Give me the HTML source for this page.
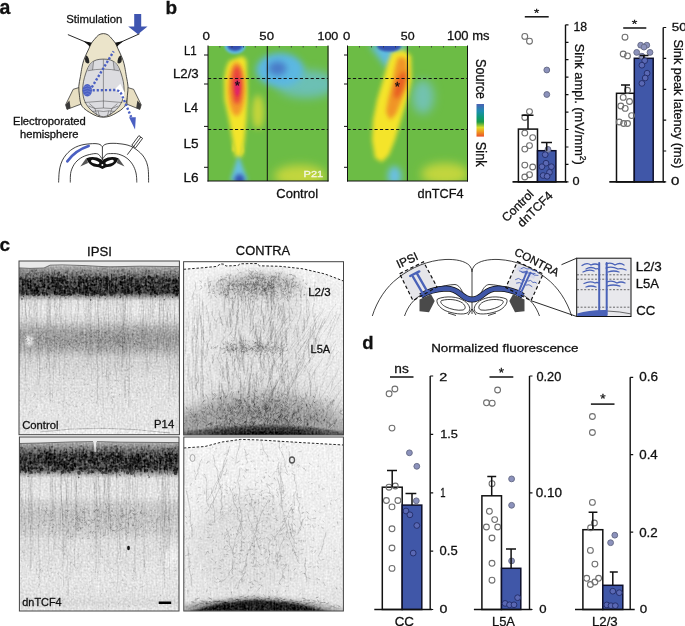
<!DOCTYPE html>
<html><head><meta charset="utf-8">
<style>
html,body{margin:0;padding:0;background:#fff;}
body{width:685px;height:626px;overflow:hidden;position:relative;}
svg{position:absolute;left:0;top:0;}
text{font-family:"Liberation Sans",Arial,Helvetica,sans-serif;fill:#111;stroke:#111;stroke-width:0.28px;}
</style></head><body>
<svg width="685" height="626" viewBox="0 0 685 626">

<defs>
  <filter id="b1" x="-50%" y="-50%" width="200%" height="200%"><feGaussianBlur stdDeviation="1.2"/></filter>
  <filter id="b2" x="-50%" y="-50%" width="200%" height="200%"><feGaussianBlur stdDeviation="2"/></filter>
  <filter id="b3" x="-50%" y="-50%" width="200%" height="200%"><feGaussianBlur stdDeviation="3"/></filter>
  <filter id="b5" x="-50%" y="-50%" width="200%" height="200%"><feGaussianBlur stdDeviation="5"/></filter>
  <filter id="b7" x="-50%" y="-50%" width="200%" height="200%"><feGaussianBlur stdDeviation="7"/></filter>
  <clipPath id="hm1"><rect x="208" y="46" width="120.5" height="135"/></clipPath>
  <clipPath id="hm2"><rect x="347.5" y="46" width="120" height="135"/></clipPath>
  <linearGradient id="cbar" x1="0" y1="0" x2="0" y2="1">
    <stop offset="0" stop-color="#4a62b4"/>
    <stop offset="0.22" stop-color="#1d8eb0"/>
    <stop offset="0.42" stop-color="#0e9a72"/>
    <stop offset="0.55" stop-color="#1a9a48"/>
    <stop offset="0.72" stop-color="#d8dc2a"/>
    <stop offset="0.84" stop-color="#f0a020"/>
    <stop offset="1" stop-color="#e8502a"/>
  </linearGradient>
</defs>
<g clip-path="url(#hm1)">
  <rect x="200" y="40" width="140" height="150" fill="#6cbc45"/>
  <ellipse cx="306" cy="84" rx="30" ry="14" fill="#6cc0b4" filter="url(#b5)"/>
  <ellipse cx="280" cy="70" rx="24" ry="17" fill="#5cb8e2" filter="url(#b3)"/>
  <ellipse cx="277.5" cy="68.5" rx="9" ry="7" fill="#4a7cc8" filter="url(#b3)"/>
  <ellipse cx="258" cy="112" rx="6" ry="17" fill="#c6d63a" filter="url(#b3)"/>
  <ellipse cx="300" cy="176" rx="26" ry="11" fill="#c2d63c" filter="url(#b5)"/>
  <path d="M242.5,56 L246.5,60 L247.5,100 L246.5,120 L244.5,140 L242.5,156 L239,158 L235,156 L232.5,140 L229,120 L224.5,100 L224,80 L226,68 L229,61 Z" fill="#f4e52a" filter="url(#b2)"/>
  <path d="M242,141 L244,152 L240,156 Z M233,141 L236,152 L232,151 Z" fill="#d8dc36" filter="url(#b1)"/>
  <ellipse cx="236.5" cy="89" rx="8.5" ry="27" fill="#f2982a" filter="url(#b2)"/>
  <ellipse cx="237" cy="85" rx="5" ry="19" fill="#e8403c" filter="url(#b2)"/>
  <ellipse cx="237.3" cy="87" rx="2.6" ry="9" fill="#e0246a" filter="url(#b1)"/>
  <ellipse cx="235" cy="46.5" rx="10.5" ry="7.5" fill="#62bce0" filter="url(#b1)"/>
  <ellipse cx="235" cy="46" rx="7.5" ry="5" fill="#3550b0" filter="url(#b1)"/>
  <path d="M238.4,155 L248,181 L230,181 Z" fill="#68c0e0" filter="url(#b2)"/>
  <ellipse cx="239.5" cy="180" rx="5" ry="6" fill="#3652b2" filter="url(#b2)"/>
</g>
<g clip-path="url(#hm2)">
  <rect x="340" y="40" width="140" height="150" fill="#6cbc45"/>
  <ellipse cx="423" cy="97" rx="11" ry="17" fill="#72c2b0" filter="url(#b5)"/>
  <ellipse cx="445" cy="174" rx="24" ry="11" fill="#c2d63c" filter="url(#b5)"/>
  <path d="M369,45 L408,45 L387,69 Z" fill="#60bce0" filter="url(#b3)"/>
  <path d="M392,52 L404,50 L411,56 L411.5,80 L407,100 L401,120 L395,140 L389,155 L382,162 L375,158 L372,140 L373,120 L377,100 L383,80 L388,62 Z" fill="#f4e42a" filter="url(#b2)"/>
  <path d="M398,57 L406,58 L408,70 L406,88 L401,102 L396,114 L390,120 L386,112 L388,100 L392,84 L395,68 Z" fill="#f09428" filter="url(#b2)"/>
  <ellipse cx="400" cy="85" rx="4" ry="14" fill="#e85c24" transform="rotate(18 400 85)" filter="url(#b2)"/>
  <ellipse cx="389" cy="46" rx="12" ry="5.5" fill="#3452b2" filter="url(#b1)"/>
  <ellipse cx="394.5" cy="176" rx="7" ry="10" fill="#6ac0e0" filter="url(#b3)"/>
</g>
<g stroke="#111" fill="none" stroke-width="1">
  <line x1="208" y1="45.5" x2="208" y2="181.5"/>
  <line x1="207.5" y1="181" x2="328.5" y2="181"/>
  <line x1="328" y1="45.5" x2="328" y2="181.5"/>
  <line x1="267.3" y1="46" x2="267.3" y2="181"/>
  <line x1="347.5" y1="45.5" x2="347.5" y2="181.5"/>
  <line x1="347" y1="181" x2="468" y2="181"/>
  <line x1="467.5" y1="45.5" x2="467.5" y2="181.5"/>
  <line x1="407.4" y1="46" x2="407.4" y2="181"/>
  <path d="M204,55 H208 M204,84 H208 M204,126.4 H208 M204,167.3 H208"/>
  <path d="M344,55 H347.5 M344,84 H347.5 M344,126.4 H347.5 M344,167.3 H347.5"/>
  <line x1="208" y1="78.5" x2="328" y2="78.5" stroke-dasharray="3.2 2.2"/>
  <line x1="208" y1="129.5" x2="328" y2="129.5" stroke-dasharray="3.2 2.2"/>
  <line x1="347.5" y1="78.5" x2="467.5" y2="78.5" stroke-dasharray="3.2 2.2"/>
  <line x1="347.5" y1="129.5" x2="467.5" y2="129.5" stroke-dasharray="3.2 2.2"/>
</g>
<g stroke="#333" stroke-width="0.8">
  <path d="M219.9,46 v1.5 M232,46 v1.5 M243.4,46 v1.5 M255.3,46 v1.5 M279.3,46 v1.5 M291.4,46 v1.5 M303.2,46 v1.5 M316.3,46 v1.5"/>
  <path d="M359.5,46 v1.5 M371.5,46 v1.5 M383.5,46 v1.5 M395.5,46 v1.5 M419.5,46 v1.5 M431.5,46 v1.5 M443.5,46 v1.5 M455.5,46 v1.5"/>
</g>
<g font-size="12">
</g>
<rect x="476.5" y="104" width="7.5" height="32.6" fill="url(#cbar)"/>

<rect x="518.4" y="129.1" width="19.100000000000023" height="52.80000000000001" fill="#fff" stroke="#111" stroke-width="1.5"/>
<rect x="537.5" y="150.7" width="18.399999999999977" height="31.200000000000017" fill="#4057a8" stroke="#0d0f2a" stroke-width="1.5"/>
<circle cx="524.8" cy="36.4" r="2.9" fill="none" stroke="#707070" stroke-width="1.1"/>
<circle cx="529.5" cy="41.2" r="2.9" fill="none" stroke="#707070" stroke-width="1.1"/>
<circle cx="529.5" cy="111.6" r="2.9" fill="none" stroke="#707070" stroke-width="1.1"/>
<circle cx="524.8" cy="117.5" r="2.9" fill="none" stroke="#707070" stroke-width="1.1"/>
<circle cx="524.8" cy="133.1" r="2.9" fill="none" stroke="#707070" stroke-width="1.1"/>
<circle cx="532.7" cy="137.6" r="2.9" fill="none" stroke="#707070" stroke-width="1.1"/>
<circle cx="529.5" cy="145.6" r="2.9" fill="none" stroke="#707070" stroke-width="1.1"/>
<circle cx="524.8" cy="149.1" r="2.9" fill="none" stroke="#707070" stroke-width="1.1"/>
<circle cx="524.8" cy="165.1" r="2.9" fill="none" stroke="#707070" stroke-width="1.1"/>
<circle cx="532.7" cy="167.0" r="2.9" fill="none" stroke="#707070" stroke-width="1.1"/>
<circle cx="529.5" cy="174.7" r="2.9" fill="none" stroke="#707070" stroke-width="1.1"/>
<circle cx="524.8" cy="177.0" r="2.9" fill="none" stroke="#707070" stroke-width="1.1"/>
<circle cx="546.8" cy="70.0" r="2.9" fill="#8c92bc" stroke="#6a6f8a" stroke-width="1"/>
<circle cx="546.8" cy="94.5" r="2.9" fill="#8c92bc" stroke="#6a6f8a" stroke-width="1"/>
<circle cx="548.0" cy="149.4" r="2.9" fill="#8c92bc" stroke="#6a6f8a" stroke-width="1"/>
<circle cx="545.2" cy="154.7" r="2.9" fill="#5a68b4" stroke="#26316e" stroke-width="1"/>
<circle cx="546.0" cy="163.2" r="2.9" fill="#5a68b4" stroke="#26316e" stroke-width="1"/>
<circle cx="541.9" cy="166.7" r="2.9" fill="#5a68b4" stroke="#26316e" stroke-width="1"/>
<circle cx="551.4" cy="166.7" r="2.9" fill="#5a68b4" stroke="#26316e" stroke-width="1"/>
<circle cx="549.5" cy="172.3" r="2.9" fill="#5a68b4" stroke="#26316e" stroke-width="1"/>
<circle cx="543.1" cy="175.5" r="2.9" fill="#5a68b4" stroke="#26316e" stroke-width="1"/>
<circle cx="547.1" cy="176.3" r="2.9" fill="#5a68b4" stroke="#26316e" stroke-width="1"/>
<path d="M528.0,129.1 V115.2 M521.6,115.2 H533.5" stroke="#111" stroke-width="1.5" fill="none"/>
<path d="M546.7,150.7 V142.4 M541.2,142.4 H552" stroke="#111" stroke-width="1.5" fill="none"/>
<path d="M512.5,181.9 H567" stroke="#111" stroke-width="1.6" fill="none"/>
<path d="M565.5,24.8 V181.9" stroke="#111" stroke-width="1.4" fill="none"/>
<path d="M565.5,24.8 h3 M565.5,42.3 h3 M565.5,59.7 h3 M565.5,77.2 h3 M565.5,94.6 h3 M565.5,112.1 h3 M565.5,129.5 h3 M565.5,147.0 h3 M565.5,164.4 h3 M565.5,181.9 h3" stroke="#111" stroke-width="1.2" fill="none"/>
<path d="M524.8,16.8 H548.7" stroke="#111" stroke-width="1.5" fill="none"/>
<rect x="616.5" y="93.3" width="17.799999999999955" height="88.60000000000001" fill="#fff" stroke="#111" stroke-width="1.5"/>
<rect x="634.3" y="58.3" width="18.90000000000009" height="123.60000000000001" fill="#4057a8" stroke="#0d0f2a" stroke-width="1.5"/>
<circle cx="625.0" cy="37.2" r="2.9" fill="none" stroke="#707070" stroke-width="1.1"/>
<circle cx="623.2" cy="54.0" r="2.9" fill="none" stroke="#707070" stroke-width="1.1"/>
<circle cx="627.5" cy="55.9" r="2.9" fill="none" stroke="#707070" stroke-width="1.1"/>
<circle cx="627.5" cy="90.3" r="2.9" fill="none" stroke="#707070" stroke-width="1.1"/>
<circle cx="623.2" cy="97.4" r="2.9" fill="none" stroke="#707070" stroke-width="1.1"/>
<circle cx="629.5" cy="101.5" r="2.9" fill="none" stroke="#707070" stroke-width="1.1"/>
<circle cx="620.8" cy="106.0" r="2.9" fill="none" stroke="#707070" stroke-width="1.1"/>
<circle cx="625.2" cy="108.4" r="2.9" fill="none" stroke="#707070" stroke-width="1.1"/>
<circle cx="631.6" cy="115.6" r="2.9" fill="none" stroke="#707070" stroke-width="1.1"/>
<circle cx="619.2" cy="122.0" r="2.9" fill="none" stroke="#707070" stroke-width="1.1"/>
<circle cx="623.6" cy="123.5" r="2.9" fill="none" stroke="#707070" stroke-width="1.1"/>
<circle cx="627.5" cy="123.5" r="2.9" fill="none" stroke="#707070" stroke-width="1.1"/>
<circle cx="640.7" cy="45.2" r="2.9" fill="#8c92bc" stroke="#6a6f8a" stroke-width="1"/>
<circle cx="646.8" cy="45.2" r="2.9" fill="#8c92bc" stroke="#6a6f8a" stroke-width="1"/>
<circle cx="644.0" cy="47.1" r="2.9" fill="#8c92bc" stroke="#6a6f8a" stroke-width="1"/>
<circle cx="636.7" cy="52.4" r="2.9" fill="#8c92bc" stroke="#6a6f8a" stroke-width="1"/>
<circle cx="650.0" cy="52.4" r="2.9" fill="#8c92bc" stroke="#6a6f8a" stroke-width="1"/>
<circle cx="641.9" cy="56.2" r="2.9" fill="#8c92bc" stroke="#6a6f8a" stroke-width="1"/>
<circle cx="644.7" cy="60.7" r="2.9" fill="#5a68b4" stroke="#26316e" stroke-width="1"/>
<circle cx="641.9" cy="65.2" r="2.9" fill="#5a68b4" stroke="#26316e" stroke-width="1"/>
<circle cx="647.1" cy="73.2" r="2.9" fill="#5a68b4" stroke="#26316e" stroke-width="1"/>
<circle cx="645.2" cy="78.0" r="2.9" fill="#5a68b4" stroke="#26316e" stroke-width="1"/>
<circle cx="641.9" cy="83.4" r="2.9" fill="#5a68b4" stroke="#26316e" stroke-width="1"/>
<path d="M625.4,93.3 V85 M621,85 H630" stroke="#111" stroke-width="1.5" fill="none"/>
<path d="M643.8,58.3 V55.6 M640,55.6 H648.5" stroke="#111" stroke-width="1.5" fill="none"/>
<path d="M609.3,181.9 H665" stroke="#111" stroke-width="1.6" fill="none"/>
<path d="M663.2,27.5 V181.9" stroke="#111" stroke-width="1.4" fill="none"/>
<path d="M663.2,27.5 h3 M663.2,58.4 h3 M663.2,89.3 h3 M663.2,120.1 h3 M663.2,151.0 h3 M663.2,181.9 h3" stroke="#111" stroke-width="1.2" fill="none"/>
<path d="M623.2,28 H646.3" stroke="#111" stroke-width="1.5" fill="none"/>
<g font-size="12">
</g>

<!-- stimulation arrow -->
<path d="M134.2,14 H141.2 V26.4 H147.5 L138,34.2 L128.2,26.4 H134.2 Z" fill="#3f55b0"/>
<!-- whiskers -->
<g stroke="#111" stroke-width="0.9" fill="none">
  <path d="M67.9,34.6 L91.5,44.5"/>
  <path d="M139.5,33.8 L115.5,44.5"/>
</g>
<path d="M83.5,41.2 Q88.5,42 93,43 L91.5,49 Q88.5,44.5 83.5,41.2 Z" fill="#111"/>
<path d="M123.3,41.2 Q118.3,42 113.8,43 L115.3,49 Q118.3,44.5 123.3,41.2 Z" fill="#111"/>
<!-- ears -->
<path d="M73.2,89.3 L80.2,87.2 L80.8,104.2 L67,109.4 L65.6,104.8 Z" fill="#e8dfc2" stroke="#222" stroke-width="0.7" stroke-linejoin="round"/>
<path d="M65.6,104.8 L67,109.4 L70.6,108 L69.4,100.4 Z" fill="#3a3a3a"/>
<path d="M126.6,87.2 L133.6,89.3 L141.2,104.8 L139.8,109.4 L127,104.2 Z" fill="#e8dfc2" stroke="#222" stroke-width="0.7" stroke-linejoin="round"/>
<path d="M141.2,104.8 L139.8,109.4 L136.2,108 L137.4,100.4 Z" fill="#3a3a3a"/>
<!-- head -->
<path d="M103.40,33.60 C101.80,33.60 100.07,34.07 98.60,35.00 C97.13,35.93 95.80,37.83 94.60,39.20 C93.40,40.57 92.37,41.60 91.40,43.20 C90.43,44.80 89.73,46.80 88.80,48.80 C87.87,50.80 86.67,53.20 85.80,55.20 C84.93,57.20 84.23,58.80 83.60,60.80 C82.97,62.80 82.53,64.57 82.00,67.20 C81.47,69.83 80.93,73.43 80.40,76.60 C79.87,79.77 78.97,83.10 78.80,86.20 C78.63,89.30 79.07,92.30 79.40,95.20 C79.73,98.10 80.03,101.40 80.80,103.60 C81.57,105.80 82.53,106.93 84.00,108.40 C85.47,109.87 87.50,111.13 89.60,112.40 C91.70,113.67 94.30,115.20 96.60,116.00 C98.90,116.80 101.13,117.20 103.40,117.20 C105.67,117.20 107.90,116.80 110.20,116.00 C112.50,115.20 115.10,113.67 117.20,112.40 C119.30,111.13 121.33,109.87 122.80,108.40 C124.27,106.93 125.23,105.80 126.00,103.60 C126.77,101.40 127.07,98.10 127.40,95.20 C127.73,92.30 128.17,89.30 128.00,86.20 C127.83,83.10 126.93,79.77 126.40,76.60 C125.87,73.43 125.33,69.83 124.80,67.20 C124.27,64.57 123.83,62.80 123.20,60.80 C122.57,58.80 121.87,57.20 121.00,55.20 C120.13,53.20 118.93,50.80 118.00,48.80 C117.07,46.80 116.37,44.80 115.40,43.20 C114.43,41.60 113.40,40.57 112.20,39.20 C111.00,37.83 109.67,35.93 108.20,35.00 C106.73,34.07 105.00,33.60 103.40,33.60 Z" fill="#ebe4ca" stroke="#222" stroke-width="0.8"/>
<!-- eyes -->
<path d="M86,55.2 Q89.6,57.5 89.2,63 Q87.2,64.2 85.4,62 Q84.2,59 86,55.2 Z" fill="#262626"/>
<path d="M120.8,55.2 Q117.2,57.5 117.6,63 Q119.6,64.2 121.4,62 Q122.6,59 120.8,55.2 Z" fill="#262626"/>
<!-- skull -->
<path d="M103.40,59.10 C101.13,59.10 98.57,59.32 96.60,59.90 C94.63,60.48 93.00,61.38 91.60,62.60 C90.20,63.82 89.22,65.30 88.20,67.20 C87.18,69.10 86.28,71.60 85.50,74.00 C84.72,76.40 83.97,79.07 83.50,81.60 C83.03,84.13 82.75,86.80 82.70,89.20 C82.65,91.60 82.83,93.93 83.20,96.00 C83.57,98.07 84.10,99.80 84.90,101.60 C85.70,103.40 86.73,105.17 88.00,106.80 C89.27,108.43 90.90,110.05 92.50,111.40 C94.10,112.75 95.78,114.02 97.60,114.90 C99.42,115.78 101.47,116.70 103.40,116.70 C105.33,116.70 107.38,115.78 109.20,114.90 C111.02,114.02 112.70,112.75 114.30,111.40 C115.90,110.05 117.53,108.43 118.80,106.80 C120.07,105.17 121.10,103.40 121.90,101.60 C122.70,99.80 123.23,98.07 123.60,96.00 C123.97,93.93 124.15,91.60 124.10,89.20 C124.05,86.80 123.77,84.13 123.30,81.60 C122.83,79.07 122.08,76.40 121.30,74.00 C120.52,71.60 119.62,69.10 118.60,67.20 C117.58,65.30 116.60,63.82 115.20,62.60 C113.80,61.38 112.17,60.48 110.20,59.90 C108.23,59.32 105.67,59.10 103.40,59.10 Z" fill="#dcdce0" stroke="#333" stroke-width="0.7"/>
<path d="M93.6,61.2 L92.6,70 Q90,70.3 87.6,70.8 Q88.5,65 93.6,61.2 Z" fill="#c4c4c9"/>
<path d="M113.2,61.2 L114.2,70 Q116.8,70.3 119.2,70.8 Q118.3,65 113.2,61.2 Z" fill="#c4c4c9"/>
<g stroke="#444" stroke-width="0.5" fill="none">
  <path d="M103.4,59.1 V105"/>
  <path d="M93.6,61.2 L92.6,70 M113.2,61.2 L114.2,70"/>
  <path d="M87.6,70.8 Q103.4,67.5 119.2,70.8"/>
  <path d="M84.5,102.5 Q103.4,99.5 122.3,102.5"/>
  <path d="M88.5,106 L95,108.5 L103.4,108 L111.8,108.5 L118.3,106"/>
  <path d="M92,111.5 L98,110.8 L103.4,111.5 L108.8,110.8 L114.8,111.5"/>
  <path d="M95,108.5 L96.7,115 M111.8,108.5 L110.1,115 M103.4,105 L103.4,108 M98,110.8 L99.5,116.2 M108.8,110.8 L107.3,116.2 M89.4,103.6 L95,108.5 M117.4,103.6 L111.8,108.5"/>
</g>
<!-- white highlight -->
<path d="M115.3,88.7 L120.3,83.7 L124.7,92.4 L124,101.1 L121,96 Z" fill="#ffffff"/>
<!-- blue spot -->
<ellipse cx="87.3" cy="90.3" rx="4.7" ry="6.2" fill="#4a5fc2"/>
<g stroke="#8c9be0" stroke-width="0.45" fill="none">
  <path d="M84,87 Q87.5,84.5 90.5,87.2 M83.4,89.6 Q87.5,86.8 91.6,89.8 M83.4,92.2 Q87.5,89.4 91.6,92.4 M84,94.8 Q87.5,92 90.8,95"/>
</g>
<!-- dotted paths -->
<g stroke="#4a5fc2" stroke-width="2.4" fill="none" stroke-dasharray="2.2 1.9">
  <path d="M91.8,87.3 L113.6,51.4"/>
  <path d="M92.6,90.3 L115.8,90 Q120,90.4 122.3,96 L131.2,117"/>
</g>
<path d="M129,117.2 L135.8,117.2 L135,129.6 Z" fill="#4a5fc2"/>
<!-- coronal section -->
<g fill="none" stroke="#111" stroke-width="0.8">
  <path d="M58.60,182.50 C58.70,180.75 58.83,175.05 59.20,172.00 C59.57,168.95 60.03,166.57 60.80,164.20 C61.57,161.83 62.58,159.75 63.80,157.80 C65.02,155.85 66.57,154.03 68.10,152.50 C69.63,150.97 71.28,149.68 73.00,148.60 C74.72,147.52 76.57,146.68 78.40,146.00 C80.23,145.32 82.07,144.87 84.00,144.50 C85.93,144.13 88.17,143.95 90.00,143.80 C91.83,143.65 93.53,143.55 95.00,143.60 C96.47,143.65 97.80,143.83 98.80,144.10 C99.80,144.37 100.40,144.75 101.00,145.20 C101.60,145.65 101.93,146.80 102.40,146.80 C102.87,146.80 103.18,145.65 103.80,145.20 C104.42,144.75 105.07,144.40 106.10,144.10 C107.13,143.80 108.30,143.52 110.00,143.40 C111.70,143.28 114.30,143.30 116.30,143.40 C118.30,143.50 120.05,143.70 122.00,144.00 C123.95,144.30 126.08,144.60 128.00,145.20 C129.92,145.80 131.80,146.63 133.50,147.60 C135.20,148.57 136.72,149.77 138.20,151.00 C139.68,152.23 141.18,153.53 142.40,155.00 C143.62,156.47 144.67,158.13 145.50,159.80 C146.33,161.47 146.92,163.05 147.40,165.00 C147.88,166.95 148.20,168.58 148.40,171.50 C148.60,174.42 148.57,180.67 148.60,182.50"/>
  <path d="M102.4,146.8 V160.5"/>
  <path d="M70.30,182.50 C70.32,181.42 70.28,177.83 70.40,176.00 C70.52,174.17 70.60,173.03 71.00,171.50 C71.40,169.97 72.07,168.27 72.80,166.80 C73.53,165.33 74.40,163.93 75.40,162.70 C76.40,161.47 77.58,160.37 78.80,159.40 C80.02,158.43 81.33,157.60 82.70,156.90 C84.07,156.20 85.53,155.67 87.00,155.20 C88.47,154.73 90.17,154.37 91.50,154.10 C92.83,153.83 93.98,153.63 95.00,153.60 C96.02,153.57 96.83,153.60 97.60,153.90 C98.37,154.20 99.00,154.78 99.60,155.40 C100.20,156.02 100.73,157.00 101.20,157.60 C101.67,158.20 102.00,159.00 102.40,159.00 C102.80,159.00 103.13,158.20 103.60,157.60 C104.07,157.00 104.57,156.02 105.20,155.40 C105.83,154.78 106.52,154.20 107.40,153.90 C108.28,153.60 109.02,153.63 110.50,153.60 C111.98,153.57 114.55,153.47 116.30,153.70 C118.05,153.93 119.55,154.47 121.00,155.00 C122.45,155.53 123.67,156.07 125.00,156.90 C126.33,157.73 127.77,158.78 129.00,160.00 C130.23,161.22 131.47,162.78 132.40,164.20 C133.33,165.62 134.00,167.03 134.60,168.50 C135.20,169.97 135.67,171.50 136.00,173.00 C136.33,174.50 136.47,175.92 136.60,177.50 C136.73,179.08 136.77,181.67 136.80,182.50"/>
</g>
<path d="M67.4,161.3 Q75,150.5 88.6,146" stroke="#4a5fc2" stroke-width="2.8" fill="none" stroke-linecap="round"/>
<!-- side wedges -->
<path d="M80.3,166.5 L86.4,158.1 L88,163 Z" fill="#555"/>
<path d="M124.5,166.5 L118.4,158.1 L116.8,163 Z" fill="#555"/>
<!-- ventricles -->
<path d="M86.5,158.2 Q94,155.5 101.5,159.5 L102.4,161 L103.3,159.5 Q110.8,155.5 118.3,158.2 Q117,164 111,166.5 L106,167.2 L102.4,169 L98.8,167.2 L93.8,166.5 Q87.8,164 86.5,158.2 Z" fill="#111"/>
<g fill="#fff">
  <ellipse cx="95.2" cy="162" rx="4.4" ry="1.7" transform="rotate(18 95.2 162)"/>
  <ellipse cx="109.6" cy="162" rx="4.4" ry="1.7" transform="rotate(-18 109.6 162)"/>
  <circle cx="102.4" cy="165" r="1"/>
</g>
<!-- electrode -->
<g fill="none" stroke="#111" stroke-width="0.8">
  <path d="M127.3,154.7 L133.4,146.6"/>
  <path d="M131.8,145.2 L138.9,135.6 L142.6,138.4 L135.6,147.8 Z"/>
  <path d="M133.7,146.5 L140.8,137"/>
</g>


<defs>
 <filter id="tex1" x="0" y="0" width="100%" height="100%" color-interpolation-filters="sRGB">
  <feTurbulence type="fractalNoise" baseFrequency="0.5 0.5" numOctaves="3" seed="3" result="n1"/>
  <feTurbulence type="fractalNoise" baseFrequency="0.7 0.05" numOctaves="2" seed="7" result="n2"/>
  <feComposite in="n1" in2="n2" operator="arithmetic" k2="0.7" k3="0.3" result="n"/>
  <feColorMatrix in="n" type="matrix" values="1 0 0 0 0  1 0 0 0 0  1 0 0 0 0  0 0 0 0 1" result="g"/>
  <feComposite in="SourceGraphic" in2="g" operator="arithmetic" k1="-0.6" k2="1.3" k3="0.85" k4="-0.425"/>
 </filter>
 <filter id="tex2" x="0" y="0" width="100%" height="100%" color-interpolation-filters="sRGB">
  <feTurbulence type="fractalNoise" baseFrequency="0.5 0.5" numOctaves="3" seed="11" result="n1"/>
  <feTurbulence type="fractalNoise" baseFrequency="0.6 0.07" numOctaves="2" seed="5" result="n2"/>
  <feComposite in="n1" in2="n2" operator="arithmetic" k2="0.65" k3="0.35" result="n"/>
  <feColorMatrix in="n" type="matrix" values="1 0 0 0 0  1 0 0 0 0  1 0 0 0 0  0 0 0 0 1" result="g"/>
  <feComposite in="SourceGraphic" in2="g" operator="arithmetic" k1="-0.55" k2="1.275" k3="0.75" k4="-0.375"/>
 </filter>
 <filter id="soft" x="-5%" y="-5%" width="110%" height="110%"><feGaussianBlur stdDeviation="0.35"/></filter>
 <filter id="gb2" x="-50%" y="-50%" width="200%" height="200%"><feGaussianBlur stdDeviation="2.5"/></filter>
 <filter id="gb4" x="-50%" y="-50%" width="200%" height="200%"><feGaussianBlur stdDeviation="4"/></filter>
 <filter id="gb8" x="-50%" y="-50%" width="200%" height="200%"><feGaussianBlur stdDeviation="8"/></filter>
 <clipPath id="ci1"><rect x="19" y="261" width="160.4" height="173.7"/></clipPath>
 <clipPath id="ci2"><rect x="183.6" y="261.7" width="159.9" height="173.3"/></clipPath>
 <clipPath id="ci3"><rect x="19.4" y="437" width="159.6" height="174"/></clipPath>
 <clipPath id="ci4"><rect x="183.8" y="437" width="159.6" height="174"/></clipPath>
<linearGradient id="gI1" gradientUnits="userSpaceOnUse" x1="0" y1="261" x2="0" y2="435"><stop offset="0.0000" stop-color="#ececec"/><stop offset="0.0230" stop-color="#e2e2e2"/><stop offset="0.0345" stop-color="#a8a8a8"/><stop offset="0.0517" stop-color="#929292"/><stop offset="0.0862" stop-color="#747474"/><stop offset="0.1092" stop-color="#545454"/><stop offset="0.1552" stop-color="#464646"/><stop offset="0.1839" stop-color="#505050"/><stop offset="0.2069" stop-color="#a4a4a4"/><stop offset="0.2299" stop-color="#e0e0e0"/><stop offset="0.2931" stop-color="#e6e6e6"/><stop offset="0.3448" stop-color="#d6d6d6"/><stop offset="0.3736" stop-color="#bcbcbc"/><stop offset="0.4080" stop-color="#a8a8a8"/><stop offset="0.4598" stop-color="#a0a0a0"/><stop offset="0.5115" stop-color="#b0b0b0"/><stop offset="0.5575" stop-color="#d0d0d0"/><stop offset="0.6839" stop-color="#dedede"/><stop offset="0.8851" stop-color="#e4e4e4"/><stop offset="0.9483" stop-color="#e0e0e0"/><stop offset="1.0000" stop-color="#e8e8e8"/></linearGradient><linearGradient id="gI2" gradientUnits="userSpaceOnUse" x1="0" y1="437" x2="0" y2="611"><stop offset="0.0000" stop-color="#ececec"/><stop offset="0.0230" stop-color="#e2e2e2"/><stop offset="0.0345" stop-color="#a8a8a8"/><stop offset="0.0517" stop-color="#929292"/><stop offset="0.0805" stop-color="#6a6a6a"/><stop offset="0.1034" stop-color="#4e4e4e"/><stop offset="0.1494" stop-color="#464646"/><stop offset="0.1839" stop-color="#585858"/><stop offset="0.2126" stop-color="#aaaaaa"/><stop offset="0.2356" stop-color="#e0e0e0"/><stop offset="0.3391" stop-color="#e4e4e4"/><stop offset="0.3793" stop-color="#d0d0d0"/><stop offset="0.4483" stop-color="#c6c6c6"/><stop offset="0.5345" stop-color="#cccccc"/><stop offset="0.5920" stop-color="#dcdcdc"/><stop offset="0.8218" stop-color="#e4e4e4"/><stop offset="0.9195" stop-color="#e0e0e0"/><stop offset="0.9540" stop-color="#d8d8d8"/><stop offset="1.0000" stop-color="#e8e8e8"/></linearGradient><linearGradient id="gC1" gradientUnits="userSpaceOnUse" x1="0" y1="261" x2="0" y2="435"><stop offset="0.0000" stop-color="#f2f2f2"/><stop offset="0.2241" stop-color="#efefef"/><stop offset="0.5690" stop-color="#ebebeb"/><stop offset="0.7701" stop-color="#e4e4e4"/><stop offset="1.0000" stop-color="#dcdcdc"/></linearGradient><linearGradient id="gC2" gradientUnits="userSpaceOnUse" x1="0" y1="437" x2="0" y2="611"><stop offset="0.0000" stop-color="#f2f2f2"/><stop offset="0.4770" stop-color="#ededed"/><stop offset="0.8793" stop-color="#e6e6e6"/><stop offset="1.0000" stop-color="#e0e0e0"/></linearGradient></defs>

<!-- IPSI control -->
<g clip-path="url(#ci1)">
 <g filter="url(#tex1)">
  <rect x="19" y="261" width="161" height="174" fill="url(#gI1)"/>
  <ellipse cx="29" cy="341" rx="4" ry="5" fill="#e8e8e8" filter="url(#b1)"/>
  <ellipse cx="100" cy="433" rx="75" ry="5" fill="#ececec" filter="url(#gb2)"/>
  <path d="M40,432 Q100,424 170,433" fill="none" stroke="#aaa" stroke-width="0.8"/>
  <g filter="url(#soft)"><path d="M120.4,277.5a1.16,1.16 0 1,0 2.32,0a1.16,1.16 0 1,0 -2.32,0 M53.1,290.3a1.68,1.68 0 1,0 3.36,0a1.68,1.68 0 1,0 -3.36,0 M160.8,278.6a1.35,1.35 0 1,0 2.70,0a1.35,1.35 0 1,0 -2.70,0 M22.3,280.9a1.46,1.46 0 1,0 2.91,0a1.46,1.46 0 1,0 -2.91,0 M21.6,280.6a1.64,1.64 0 1,0 3.29,0a1.64,1.64 0 1,0 -3.29,0 M104.8,281.0a1.57,1.57 0 1,0 3.13,0a1.57,1.57 0 1,0 -3.13,0 M147.0,277.1a1.85,1.85 0 1,0 3.70,0a1.85,1.85 0 1,0 -3.70,0 M130.0,283.1a1.00,1.00 0 1,0 2.00,0a1.00,1.00 0 1,0 -2.00,0 M171.6,283.1a0.92,0.92 0 1,0 1.84,0a0.92,0.92 0 1,0 -1.84,0 M32.9,292.3a1.58,1.58 0 1,0 3.17,0a1.58,1.58 0 1,0 -3.17,0 M147.0,290.1a1.50,1.50 0 1,0 2.99,0a1.50,1.50 0 1,0 -2.99,0 M173.6,283.8a1.52,1.52 0 1,0 3.04,0a1.52,1.52 0 1,0 -3.04,0 M150.1,288.1a1.92,1.92 0 1,0 3.84,0a1.92,1.92 0 1,0 -3.84,0 M110.7,289.7a0.86,0.86 0 1,0 1.72,0a0.86,0.86 0 1,0 -1.72,0 M54.7,282.2a0.90,0.90 0 1,0 1.81,0a0.90,0.90 0 1,0 -1.81,0 M55.2,278.8a1.16,1.16 0 1,0 2.32,0a1.16,1.16 0 1,0 -2.32,0 M119.7,283.6a1.28,1.28 0 1,0 2.56,0a1.28,1.28 0 1,0 -2.56,0 M50.6,281.8a2.02,2.02 0 1,0 4.04,0a2.02,2.02 0 1,0 -4.04,0 M121.9,288.0a1.02,1.02 0 1,0 2.04,0a1.02,1.02 0 1,0 -2.04,0 M134.7,279.9a1.29,1.29 0 1,0 2.59,0a1.29,1.29 0 1,0 -2.59,0 M176.2,288.5a1.52,1.52 0 1,0 3.05,0a1.52,1.52 0 1,0 -3.05,0 M127.0,292.2a1.81,1.81 0 1,0 3.62,0a1.81,1.81 0 1,0 -3.62,0 M54.5,277.6a1.21,1.21 0 1,0 2.42,0a1.21,1.21 0 1,0 -2.42,0 M59.9,280.8a2.03,2.03 0 1,0 4.05,0a2.03,2.03 0 1,0 -4.05,0 M157.9,282.7a1.65,1.65 0 1,0 3.30,0a1.65,1.65 0 1,0 -3.30,0 M81.1,293.5a1.40,1.40 0 1,0 2.79,0a1.40,1.40 0 1,0 -2.79,0 M60.0,281.4a1.53,1.53 0 1,0 3.06,0a1.53,1.53 0 1,0 -3.06,0 M59.2,287.5a1.97,1.97 0 1,0 3.93,0a1.97,1.97 0 1,0 -3.93,0 M81.0,280.9a2.10,2.10 0 1,0 4.19,0a2.10,2.10 0 1,0 -4.19,0 M99.9,278.6a0.86,0.86 0 1,0 1.72,0a0.86,0.86 0 1,0 -1.72,0 M34.8,288.3a1.83,1.83 0 1,0 3.66,0a1.83,1.83 0 1,0 -3.66,0 M85.4,278.1a1.30,1.30 0 1,0 2.59,0a1.30,1.30 0 1,0 -2.59,0 M176.7,286.5a2.06,2.06 0 1,0 4.12,0a2.06,2.06 0 1,0 -4.12,0 M155.3,277.2a1.74,1.74 0 1,0 3.47,0a1.74,1.74 0 1,0 -3.47,0 M127.2,286.7a1.15,1.15 0 1,0 2.29,0a1.15,1.15 0 1,0 -2.29,0 M120.4,279.0a1.37,1.37 0 1,0 2.73,0a1.37,1.37 0 1,0 -2.73,0 M89.8,294.2a1.94,1.94 0 1,0 3.88,0a1.94,1.94 0 1,0 -3.88,0 M60.2,286.0a1.03,1.03 0 1,0 2.06,0a1.03,1.03 0 1,0 -2.06,0 M164.2,292.7a1.19,1.19 0 1,0 2.38,0a1.19,1.19 0 1,0 -2.38,0 M120.5,288.0a1.00,1.00 0 1,0 2.00,0a1.00,1.00 0 1,0 -2.00,0 M139.5,286.7a1.81,1.81 0 1,0 3.62,0a1.81,1.81 0 1,0 -3.62,0 M102.8,277.0a1.22,1.22 0 1,0 2.44,0a1.22,1.22 0 1,0 -2.44,0 M20.2,293.7a1.94,1.94 0 1,0 3.88,0a1.94,1.94 0 1,0 -3.88,0 M151.5,282.5a0.88,0.88 0 1,0 1.75,0a0.88,0.88 0 1,0 -1.75,0 M158.9,294.0a0.91,0.91 0 1,0 1.82,0a0.91,0.91 0 1,0 -1.82,0 M95.2,278.2a1.79,1.79 0 1,0 3.58,0a1.79,1.79 0 1,0 -3.58,0 M140.4,279.3a1.42,1.42 0 1,0 2.84,0a1.42,1.42 0 1,0 -2.84,0 M105.3,281.8a1.93,1.93 0 1,0 3.87,0a1.93,1.93 0 1,0 -3.87,0 M85.4,280.8a1.50,1.50 0 1,0 3.00,0a1.50,1.50 0 1,0 -3.00,0 M134.9,280.6a1.21,1.21 0 1,0 2.41,0a1.21,1.21 0 1,0 -2.41,0 M177.3,288.7a1.37,1.37 0 1,0 2.74,0a1.37,1.37 0 1,0 -2.74,0 M100.9,279.2a1.09,1.09 0 1,0 2.18,0a1.09,1.09 0 1,0 -2.18,0 M72.1,287.6a1.10,1.10 0 1,0 2.20,0a1.10,1.10 0 1,0 -2.20,0 M52.7,278.3a1.62,1.62 0 1,0 3.24,0a1.62,1.62 0 1,0 -3.24,0 M53.8,293.3a1.92,1.92 0 1,0 3.84,0a1.92,1.92 0 1,0 -3.84,0 M28.7,281.3a1.67,1.67 0 1,0 3.34,0a1.67,1.67 0 1,0 -3.34,0 M51.3,279.4a2.02,2.02 0 1,0 4.03,0a2.02,2.02 0 1,0 -4.03,0 M108.8,285.5a1.82,1.82 0 1,0 3.64,0a1.82,1.82 0 1,0 -3.64,0 M147.6,280.4a0.93,0.93 0 1,0 1.85,0a0.93,0.93 0 1,0 -1.85,0 M86.7,284.6a1.41,1.41 0 1,0 2.81,0a1.41,1.41 0 1,0 -2.81,0 M133.9,289.1a2.08,2.08 0 1,0 4.16,0a2.08,2.08 0 1,0 -4.16,0 M33.5,284.2a1.24,1.24 0 1,0 2.48,0a1.24,1.24 0 1,0 -2.48,0 M156.2,281.5a1.05,1.05 0 1,0 2.09,0a1.05,1.05 0 1,0 -2.09,0 M89.8,284.6a1.16,1.16 0 1,0 2.32,0a1.16,1.16 0 1,0 -2.32,0 M57.7,293.6a1.38,1.38 0 1,0 2.75,0a1.38,1.38 0 1,0 -2.75,0 M156.3,286.9a0.87,0.87 0 1,0 1.73,0a0.87,0.87 0 1,0 -1.73,0 M177.2,292.0a2.06,2.06 0 1,0 4.12,0a2.06,2.06 0 1,0 -4.12,0 M166.6,292.3a1.02,1.02 0 1,0 2.03,0a1.02,1.02 0 1,0 -2.03,0 M95.6,280.8a1.32,1.32 0 1,0 2.64,0a1.32,1.32 0 1,0 -2.64,0 M26.3,283.8a2.08,2.08 0 1,0 4.16,0a2.08,2.08 0 1,0 -4.16,0 M60.1,291.1a1.39,1.39 0 1,0 2.78,0a1.39,1.39 0 1,0 -2.78,0 M84.8,294.2a2.09,2.09 0 1,0 4.19,0a2.09,2.09 0 1,0 -4.19,0 M107.1,289.9a1.00,1.00 0 1,0 2.00,0a1.00,1.00 0 1,0 -2.00,0 M65.0,294.4a1.55,1.55 0 1,0 3.11,0a1.55,1.55 0 1,0 -3.11,0 M105.1,290.5a0.87,0.87 0 1,0 1.75,0a0.87,0.87 0 1,0 -1.75,0 M110.8,286.1a1.91,1.91 0 1,0 3.82,0a1.91,1.91 0 1,0 -3.82,0 M43.3,294.3a0.90,0.90 0 1,0 1.81,0a0.90,0.90 0 1,0 -1.81,0 M47.1,287.7a1.68,1.68 0 1,0 3.36,0a1.68,1.68 0 1,0 -3.36,0 M54.8,279.2a1.96,1.96 0 1,0 3.91,0a1.96,1.96 0 1,0 -3.91,0 M56.9,287.7a1.61,1.61 0 1,0 3.21,0a1.61,1.61 0 1,0 -3.21,0 M84.8,287.5a1.48,1.48 0 1,0 2.96,0a1.48,1.48 0 1,0 -2.96,0 M167.2,280.7a1.73,1.73 0 1,0 3.46,0a1.73,1.73 0 1,0 -3.46,0 M55.6,284.1a1.67,1.67 0 1,0 3.35,0a1.67,1.67 0 1,0 -3.35,0 M65.3,282.7a1.78,1.78 0 1,0 3.55,0a1.78,1.78 0 1,0 -3.55,0 M28.5,285.2a2.10,2.10 0 1,0 4.20,0a2.10,2.10 0 1,0 -4.20,0 M177.7,278.3a1.08,1.08 0 1,0 2.15,0a1.08,1.08 0 1,0 -2.15,0 M59.6,293.8a1.95,1.95 0 1,0 3.89,0a1.95,1.95 0 1,0 -3.89,0 M159.0,283.7a1.01,1.01 0 1,0 2.01,0a1.01,1.01 0 1,0 -2.01,0 M151.1,289.7a1.60,1.60 0 1,0 3.19,0a1.60,1.60 0 1,0 -3.19,0 M176.5,288.8a0.81,0.81 0 1,0 1.62,0a0.81,0.81 0 1,0 -1.62,0 M148.4,282.4a1.66,1.66 0 1,0 3.32,0a1.66,1.66 0 1,0 -3.32,0 M168.7,279.4a0.95,0.95 0 1,0 1.90,0a0.95,0.95 0 1,0 -1.90,0 M35.0,287.0a1.15,1.15 0 1,0 2.31,0a1.15,1.15 0 1,0 -2.31,0 M115.0,289.9a1.06,1.06 0 1,0 2.13,0a1.06,1.06 0 1,0 -2.13,0 M119.3,281.8a1.44,1.44 0 1,0 2.87,0a1.44,1.44 0 1,0 -2.87,0 M163.3,292.2a0.92,0.92 0 1,0 1.84,0a0.92,0.92 0 1,0 -1.84,0 M86.1,282.0a0.80,0.80 0 1,0 1.61,0a0.80,0.80 0 1,0 -1.61,0 M141.5,288.5a1.14,1.14 0 1,0 2.28,0a1.14,1.14 0 1,0 -2.28,0 M136.5,286.9a1.36,1.36 0 1,0 2.71,0a1.36,1.36 0 1,0 -2.71,0 M18.6,278.4a1.95,1.95 0 1,0 3.90,0a1.95,1.95 0 1,0 -3.90,0 M162.1,286.8a1.88,1.88 0 1,0 3.77,0a1.88,1.88 0 1,0 -3.77,0 M111.5,279.7a0.97,0.97 0 1,0 1.93,0a0.97,0.97 0 1,0 -1.93,0 M66.6,293.2a1.83,1.83 0 1,0 3.67,0a1.83,1.83 0 1,0 -3.67,0 M156.0,293.2a1.07,1.07 0 1,0 2.15,0a1.07,1.07 0 1,0 -2.15,0 M57.2,278.9a1.81,1.81 0 1,0 3.63,0a1.81,1.81 0 1,0 -3.63,0 M159.2,284.3a1.61,1.61 0 1,0 3.21,0a1.61,1.61 0 1,0 -3.21,0 M41.9,293.7a1.92,1.92 0 1,0 3.85,0a1.92,1.92 0 1,0 -3.85,0 M173.6,291.6a1.95,1.95 0 1,0 3.89,0a1.95,1.95 0 1,0 -3.89,0 M21.7,290.3a1.23,1.23 0 1,0 2.46,0a1.23,1.23 0 1,0 -2.46,0 M166.4,291.4a1.92,1.92 0 1,0 3.85,0a1.92,1.92 0 1,0 -3.85,0 M147.2,281.8a1.82,1.82 0 1,0 3.65,0a1.82,1.82 0 1,0 -3.65,0 M34.4,292.7a1.92,1.92 0 1,0 3.83,0a1.92,1.92 0 1,0 -3.83,0 M53.3,291.7a1.40,1.40 0 1,0 2.80,0a1.40,1.40 0 1,0 -2.80,0 M66.9,291.3a1.10,1.10 0 1,0 2.19,0a1.10,1.10 0 1,0 -2.19,0 M21.6,280.5a1.23,1.23 0 1,0 2.45,0a1.23,1.23 0 1,0 -2.45,0 M156.5,294.4a1.16,1.16 0 1,0 2.33,0a1.16,1.16 0 1,0 -2.33,0 M119.8,284.2a2.08,2.08 0 1,0 4.15,0a2.08,2.08 0 1,0 -4.15,0 M104.1,293.9a0.95,0.95 0 1,0 1.90,0a0.95,0.95 0 1,0 -1.90,0 M172.6,280.2a2.05,2.05 0 1,0 4.10,0a2.05,2.05 0 1,0 -4.10,0 M60.2,279.0a1.36,1.36 0 1,0 2.73,0a1.36,1.36 0 1,0 -2.73,0 M134.3,282.6a1.59,1.59 0 1,0 3.18,0a1.59,1.59 0 1,0 -3.18,0 M99.5,283.9a1.55,1.55 0 1,0 3.10,0a1.55,1.55 0 1,0 -3.10,0 M59.1,289.8a0.80,0.80 0 1,0 1.60,0a0.80,0.80 0 1,0 -1.60,0 M165.7,286.7a1.74,1.74 0 1,0 3.47,0a1.74,1.74 0 1,0 -3.47,0 M136.7,289.1a1.27,1.27 0 1,0 2.55,0a1.27,1.27 0 1,0 -2.55,0 M29.0,289.0a1.23,1.23 0 1,0 2.46,0a1.23,1.23 0 1,0 -2.46,0 M67.6,292.3a1.74,1.74 0 1,0 3.47,0a1.74,1.74 0 1,0 -3.47,0 M65.8,282.6a1.33,1.33 0 1,0 2.66,0a1.33,1.33 0 1,0 -2.66,0 M82.6,282.3a0.97,0.97 0 1,0 1.93,0a0.97,0.97 0 1,0 -1.93,0 M84.8,293.9a1.68,1.68 0 1,0 3.36,0a1.68,1.68 0 1,0 -3.36,0 M162.6,288.1a1.19,1.19 0 1,0 2.38,0a1.19,1.19 0 1,0 -2.38,0 M105.7,277.0a1.17,1.17 0 1,0 2.35,0a1.17,1.17 0 1,0 -2.35,0 M86.3,287.4a1.65,1.65 0 1,0 3.30,0a1.65,1.65 0 1,0 -3.30,0 M92.5,285.0a1.08,1.08 0 1,0 2.16,0a1.08,1.08 0 1,0 -2.16,0 M93.1,293.2a1.83,1.83 0 1,0 3.67,0a1.83,1.83 0 1,0 -3.67,0 M44.7,278.5a1.47,1.47 0 1,0 2.94,0a1.47,1.47 0 1,0 -2.94,0 M118.7,283.0a1.86,1.86 0 1,0 3.73,0a1.86,1.86 0 1,0 -3.73,0 M138.4,289.1a1.09,1.09 0 1,0 2.18,0a1.09,1.09 0 1,0 -2.18,0 M49.8,277.4a1.12,1.12 0 1,0 2.24,0a1.12,1.12 0 1,0 -2.24,0 M94.3,292.3a0.89,0.89 0 1,0 1.79,0a0.89,0.89 0 1,0 -1.79,0 M84.4,288.3a1.05,1.05 0 1,0 2.11,0a1.05,1.05 0 1,0 -2.11,0 M129.6,285.9a1.12,1.12 0 1,0 2.23,0a1.12,1.12 0 1,0 -2.23,0 M122.5,277.1a1.78,1.78 0 1,0 3.55,0a1.78,1.78 0 1,0 -3.55,0 M141.2,278.9a1.35,1.35 0 1,0 2.71,0a1.35,1.35 0 1,0 -2.71,0 M45.7,294.2a1.47,1.47 0 1,0 2.95,0a1.47,1.47 0 1,0 -2.95,0 M25.2,281.5a1.90,1.90 0 1,0 3.81,0a1.90,1.90 0 1,0 -3.81,0 M90.5,291.4a1.67,1.67 0 1,0 3.34,0a1.67,1.67 0 1,0 -3.34,0 M175.4,287.7a2.04,2.04 0 1,0 4.07,0a2.04,2.04 0 1,0 -4.07,0 M160.2,288.0a1.74,1.74 0 1,0 3.47,0a1.74,1.74 0 1,0 -3.47,0 M98.5,292.0a1.51,1.51 0 1,0 3.02,0a1.51,1.51 0 1,0 -3.02,0 M161.5,290.4a1.42,1.42 0 1,0 2.83,0a1.42,1.42 0 1,0 -2.83,0 M58.9,281.5a1.63,1.63 0 1,0 3.26,0a1.63,1.63 0 1,0 -3.26,0 M140.2,286.4a1.61,1.61 0 1,0 3.23,0a1.61,1.61 0 1,0 -3.23,0 M61.9,278.4a1.17,1.17 0 1,0 2.34,0a1.17,1.17 0 1,0 -2.34,0 M61.1,282.8a1.50,1.50 0 1,0 3.00,0a1.50,1.50 0 1,0 -3.00,0 M39.5,281.2a1.70,1.70 0 1,0 3.40,0a1.70,1.70 0 1,0 -3.40,0 M131.0,278.2a1.33,1.33 0 1,0 2.66,0a1.33,1.33 0 1,0 -2.66,0 M105.0,284.5a1.07,1.07 0 1,0 2.14,0a1.07,1.07 0 1,0 -2.14,0 M84.8,293.3a1.56,1.56 0 1,0 3.12,0a1.56,1.56 0 1,0 -3.12,0 M128.8,292.4a1.80,1.80 0 1,0 3.59,0a1.80,1.80 0 1,0 -3.59,0 M78.8,277.1a1.26,1.26 0 1,0 2.51,0a1.26,1.26 0 1,0 -2.51,0 M137.8,292.4a2.04,2.04 0 1,0 4.08,0a2.04,2.04 0 1,0 -4.08,0 M84.7,290.5a1.51,1.51 0 1,0 3.02,0a1.51,1.51 0 1,0 -3.02,0 M114.7,281.0a1.09,1.09 0 1,0 2.17,0a1.09,1.09 0 1,0 -2.17,0 M87.7,277.5a1.24,1.24 0 1,0 2.47,0a1.24,1.24 0 1,0 -2.47,0 M126.9,284.3a1.01,1.01 0 1,0 2.03,0a1.01,1.01 0 1,0 -2.03,0 M92.4,279.3a1.61,1.61 0 1,0 3.22,0a1.61,1.61 0 1,0 -3.22,0 M21.8,284.1a1.53,1.53 0 1,0 3.07,0a1.53,1.53 0 1,0 -3.07,0 M22.4,288.6a0.98,0.98 0 1,0 1.95,0a0.98,0.98 0 1,0 -1.95,0 M91.8,277.9a1.29,1.29 0 1,0 2.59,0a1.29,1.29 0 1,0 -2.59,0 M51.2,282.9a1.79,1.79 0 1,0 3.58,0a1.79,1.79 0 1,0 -3.58,0 M77.9,290.5a1.88,1.88 0 1,0 3.76,0a1.88,1.88 0 1,0 -3.76,0 M58.6,278.5a0.83,0.83 0 1,0 1.65,0a0.83,0.83 0 1,0 -1.65,0 M104.3,295.0a1.25,1.25 0 1,0 2.51,0a1.25,1.25 0 1,0 -2.51,0 M121.6,291.1a1.65,1.65 0 1,0 3.29,0a1.65,1.65 0 1,0 -3.29,0 M138.9,294.1a1.06,1.06 0 1,0 2.12,0a1.06,1.06 0 1,0 -2.12,0 M21.3,279.7a0.96,0.96 0 1,0 1.93,0a0.96,0.96 0 1,0 -1.93,0 M125.3,287.2a1.08,1.08 0 1,0 2.17,0a1.08,1.08 0 1,0 -2.17,0 M130.2,290.8a1.02,1.02 0 1,0 2.04,0a1.02,1.02 0 1,0 -2.04,0 M115.5,290.5a0.95,0.95 0 1,0 1.90,0a0.95,0.95 0 1,0 -1.90,0 M149.5,294.4a0.94,0.94 0 1,0 1.88,0a0.94,0.94 0 1,0 -1.88,0 M21.4,282.6a1.68,1.68 0 1,0 3.36,0a1.68,1.68 0 1,0 -3.36,0 M171.0,284.1a1.73,1.73 0 1,0 3.46,0a1.73,1.73 0 1,0 -3.46,0 M29.6,289.4a1.62,1.62 0 1,0 3.23,0a1.62,1.62 0 1,0 -3.23,0 M33.4,290.9a1.91,1.91 0 1,0 3.81,0a1.91,1.91 0 1,0 -3.81,0 M113.2,279.2a2.08,2.08 0 1,0 4.16,0a2.08,2.08 0 1,0 -4.16,0 M143.2,283.2a1.36,1.36 0 1,0 2.71,0a1.36,1.36 0 1,0 -2.71,0 M77.2,286.1a1.24,1.24 0 1,0 2.49,0a1.24,1.24 0 1,0 -2.49,0 M154.3,291.8a0.94,0.94 0 1,0 1.87,0a0.94,0.94 0 1,0 -1.87,0 M171.2,288.4a1.88,1.88 0 1,0 3.75,0a1.88,1.88 0 1,0 -3.75,0 M130.7,284.8a1.75,1.75 0 1,0 3.51,0a1.75,1.75 0 1,0 -3.51,0 M172.0,281.9a1.85,1.85 0 1,0 3.70,0a1.85,1.85 0 1,0 -3.70,0 M104.0,285.7a1.37,1.37 0 1,0 2.73,0a1.37,1.37 0 1,0 -2.73,0 M134.3,281.8a1.91,1.91 0 1,0 3.81,0a1.91,1.91 0 1,0 -3.81,0 M150.3,278.6a1.95,1.95 0 1,0 3.89,0a1.95,1.95 0 1,0 -3.89,0 M56.5,285.4a1.59,1.59 0 1,0 3.19,0a1.59,1.59 0 1,0 -3.19,0 M77.9,277.5a1.91,1.91 0 1,0 3.81,0a1.91,1.91 0 1,0 -3.81,0 M46.3,280.8a1.84,1.84 0 1,0 3.67,0a1.84,1.84 0 1,0 -3.67,0 M71.9,292.8a1.71,1.71 0 1,0 3.42,0a1.71,1.71 0 1,0 -3.42,0 M61.3,277.2a2.03,2.03 0 1,0 4.06,0a2.03,2.03 0 1,0 -4.06,0 M31.3,290.0a1.44,1.44 0 1,0 2.87,0a1.44,1.44 0 1,0 -2.87,0 M139.0,289.4a1.64,1.64 0 1,0 3.28,0a1.64,1.64 0 1,0 -3.28,0 M96.8,291.3a0.92,0.92 0 1,0 1.84,0a0.92,0.92 0 1,0 -1.84,0 M53.3,289.5a1.20,1.20 0 1,0 2.40,0a1.20,1.20 0 1,0 -2.40,0 M110.8,285.5a1.49,1.49 0 1,0 2.98,0a1.49,1.49 0 1,0 -2.98,0 M86.0,290.4a1.23,1.23 0 1,0 2.46,0a1.23,1.23 0 1,0 -2.46,0 M130.6,281.9a1.13,1.13 0 1,0 2.25,0a1.13,1.13 0 1,0 -2.25,0 M37.4,280.5a0.96,0.96 0 1,0 1.91,0a0.96,0.96 0 1,0 -1.91,0 M103.9,290.7a1.04,1.04 0 1,0 2.08,0a1.04,1.04 0 1,0 -2.08,0 M52.0,285.7a1.74,1.74 0 1,0 3.48,0a1.74,1.74 0 1,0 -3.48,0 M174.5,286.4a1.17,1.17 0 1,0 2.34,0a1.17,1.17 0 1,0 -2.34,0 M34.0,280.5a1.10,1.10 0 1,0 2.19,0a1.10,1.10 0 1,0 -2.19,0 M46.3,277.3a1.49,1.49 0 1,0 2.99,0a1.49,1.49 0 1,0 -2.99,0 M61.5,294.5a1.52,1.52 0 1,0 3.04,0a1.52,1.52 0 1,0 -3.04,0 M128.9,279.3a1.93,1.93 0 1,0 3.86,0a1.93,1.93 0 1,0 -3.86,0 M96.2,292.7a1.55,1.55 0 1,0 3.09,0a1.55,1.55 0 1,0 -3.09,0 M93.3,284.9a1.04,1.04 0 1,0 2.08,0a1.04,1.04 0 1,0 -2.08,0 M25.8,293.9a1.42,1.42 0 1,0 2.84,0a1.42,1.42 0 1,0 -2.84,0 M150.0,284.2a0.90,0.90 0 1,0 1.79,0a0.90,0.90 0 1,0 -1.79,0 M119.0,278.0a0.99,0.99 0 1,0 1.99,0a0.99,0.99 0 1,0 -1.99,0 M107.2,282.5a2.09,2.09 0 1,0 4.18,0a2.09,2.09 0 1,0 -4.18,0 M36.4,290.8a1.59,1.59 0 1,0 3.18,0a1.59,1.59 0 1,0 -3.18,0 M144.4,281.1a1.48,1.48 0 1,0 2.96,0a1.48,1.48 0 1,0 -2.96,0 M89.3,285.0a1.92,1.92 0 1,0 3.84,0a1.92,1.92 0 1,0 -3.84,0 M176.2,282.5a1.61,1.61 0 1,0 3.21,0a1.61,1.61 0 1,0 -3.21,0 M114.8,290.3a2.03,2.03 0 1,0 4.06,0a2.03,2.03 0 1,0 -4.06,0 M50.7,280.8a1.66,1.66 0 1,0 3.32,0a1.66,1.66 0 1,0 -3.32,0 M43.3,280.1a0.90,0.90 0 1,0 1.80,0a0.90,0.90 0 1,0 -1.80,0 M17.9,285.1a1.57,1.57 0 1,0 3.14,0a1.57,1.57 0 1,0 -3.14,0 M64.0,281.2a1.72,1.72 0 1,0 3.44,0a1.72,1.72 0 1,0 -3.44,0 M130.1,285.2a1.69,1.69 0 1,0 3.39,0a1.69,1.69 0 1,0 -3.39,0 M165.6,291.2a1.61,1.61 0 1,0 3.23,0a1.61,1.61 0 1,0 -3.23,0 M123.7,293.8a1.35,1.35 0 1,0 2.71,0a1.35,1.35 0 1,0 -2.71,0 M104.4,288.7a1.98,1.98 0 1,0 3.96,0a1.98,1.98 0 1,0 -3.96,0 M150.6,278.3a1.02,1.02 0 1,0 2.03,0a1.02,1.02 0 1,0 -2.03,0 M66.8,290.5a1.54,1.54 0 1,0 3.08,0a1.54,1.54 0 1,0 -3.08,0 M63.6,279.2a1.70,1.70 0 1,0 3.39,0a1.70,1.70 0 1,0 -3.39,0 M129.8,294.0a1.45,1.45 0 1,0 2.90,0a1.45,1.45 0 1,0 -2.90,0 M97.4,278.4a0.85,0.85 0 1,0 1.70,0a0.85,0.85 0 1,0 -1.70,0 M87.2,282.8a1.13,1.13 0 1,0 2.25,0a1.13,1.13 0 1,0 -2.25,0 M31.8,294.3a1.89,1.89 0 1,0 3.77,0a1.89,1.89 0 1,0 -3.77,0 M109.2,294.1a2.10,2.10 0 1,0 4.20,0a2.10,2.10 0 1,0 -4.20,0 M126.0,281.9a0.85,0.85 0 1,0 1.70,0a0.85,0.85 0 1,0 -1.70,0 M138.7,285.5a1.65,1.65 0 1,0 3.29,0a1.65,1.65 0 1,0 -3.29,0 M164.4,280.3a1.56,1.56 0 1,0 3.12,0a1.56,1.56 0 1,0 -3.12,0 M119.9,285.9a0.92,0.92 0 1,0 1.84,0a0.92,0.92 0 1,0 -1.84,0 M73.1,283.0a1.67,1.67 0 1,0 3.34,0a1.67,1.67 0 1,0 -3.34,0 M154.9,282.9a1.70,1.70 0 1,0 3.40,0a1.70,1.70 0 1,0 -3.40,0 M63.4,294.0a1.86,1.86 0 1,0 3.72,0a1.86,1.86 0 1,0 -3.72,0 M106.0,285.2a1.21,1.21 0 1,0 2.42,0a1.21,1.21 0 1,0 -2.42,0 M69.5,294.5a1.33,1.33 0 1,0 2.65,0a1.33,1.33 0 1,0 -2.65,0 M99.9,294.8a1.65,1.65 0 1,0 3.31,0a1.65,1.65 0 1,0 -3.31,0 M105.0,284.4a1.04,1.04 0 1,0 2.09,0a1.04,1.04 0 1,0 -2.09,0 M75.4,290.6a1.61,1.61 0 1,0 3.23,0a1.61,1.61 0 1,0 -3.23,0 M139.4,280.7a1.51,1.51 0 1,0 3.03,0a1.51,1.51 0 1,0 -3.03,0 M166.1,284.9a1.71,1.71 0 1,0 3.42,0a1.71,1.71 0 1,0 -3.42,0 M36.9,294.5a1.59,1.59 0 1,0 3.18,0a1.59,1.59 0 1,0 -3.18,0 M55.9,279.9a1.52,1.52 0 1,0 3.03,0a1.52,1.52 0 1,0 -3.03,0 M105.5,278.7a2.09,2.09 0 1,0 4.18,0a2.09,2.09 0 1,0 -4.18,0 M164.5,285.3a0.95,0.95 0 1,0 1.91,0a0.95,0.95 0 1,0 -1.91,0 M150.7,286.0a1.73,1.73 0 1,0 3.46,0a1.73,1.73 0 1,0 -3.46,0 M98.7,281.9a1.89,1.89 0 1,0 3.77,0a1.89,1.89 0 1,0 -3.77,0 M174.7,281.4a1.52,1.52 0 1,0 3.03,0a1.52,1.52 0 1,0 -3.03,0 M79.1,293.6a1.46,1.46 0 1,0 2.92,0a1.46,1.46 0 1,0 -2.92,0 M158.9,292.6a1.16,1.16 0 1,0 2.32,0a1.16,1.16 0 1,0 -2.32,0 M143.7,284.5a2.01,2.01 0 1,0 4.03,0a2.01,2.01 0 1,0 -4.03,0 M99.3,291.8a1.17,1.17 0 1,0 2.34,0a1.17,1.17 0 1,0 -2.34,0 M64.8,287.6a2.10,2.10 0 1,0 4.20,0a2.10,2.10 0 1,0 -4.20,0 M96.0,279.7a1.50,1.50 0 1,0 3.00,0a1.50,1.50 0 1,0 -3.00,0 M72.9,286.9a1.51,1.51 0 1,0 3.01,0a1.51,1.51 0 1,0 -3.01,0 M91.0,282.8a1.05,1.05 0 1,0 2.09,0a1.05,1.05 0 1,0 -2.09,0 M129.8,287.3a1.10,1.10 0 1,0 2.21,0a1.10,1.10 0 1,0 -2.21,0 M141.6,277.8a1.77,1.77 0 1,0 3.54,0a1.77,1.77 0 1,0 -3.54,0 M130.8,291.6a1.30,1.30 0 1,0 2.60,0a1.30,1.30 0 1,0 -2.60,0 M123.4,291.8a2.08,2.08 0 1,0 4.15,0a2.08,2.08 0 1,0 -4.15,0 M97.0,277.7a1.45,1.45 0 1,0 2.91,0a1.45,1.45 0 1,0 -2.91,0 M111.7,292.7a1.94,1.94 0 1,0 3.87,0a1.94,1.94 0 1,0 -3.87,0 M88.2,286.5a1.39,1.39 0 1,0 2.79,0a1.39,1.39 0 1,0 -2.79,0 M133.2,284.4a1.65,1.65 0 1,0 3.30,0a1.65,1.65 0 1,0 -3.30,0 M41.7,285.5a2.06,2.06 0 1,0 4.12,0a2.06,2.06 0 1,0 -4.12,0 M71.7,289.5a1.64,1.64 0 1,0 3.29,0a1.64,1.64 0 1,0 -3.29,0 M153.7,292.3a1.92,1.92 0 1,0 3.83,0a1.92,1.92 0 1,0 -3.83,0 M78.2,282.7a1.73,1.73 0 1,0 3.47,0a1.73,1.73 0 1,0 -3.47,0 M140.0,292.7a0.85,0.85 0 1,0 1.69,0a0.85,0.85 0 1,0 -1.69,0 M28.0,288.4a2.00,2.00 0 1,0 3.99,0a2.00,2.00 0 1,0 -3.99,0 M177.6,290.4a1.36,1.36 0 1,0 2.73,0a1.36,1.36 0 1,0 -2.73,0 M32.9,288.4a1.93,1.93 0 1,0 3.87,0a1.93,1.93 0 1,0 -3.87,0 M88.2,289.5a1.97,1.97 0 1,0 3.95,0a1.97,1.97 0 1,0 -3.95,0 M25.2,291.3a1.18,1.18 0 1,0 2.36,0a1.18,1.18 0 1,0 -2.36,0 M77.6,279.6a1.49,1.49 0 1,0 2.98,0a1.49,1.49 0 1,0 -2.98,0 M108.8,291.3a1.02,1.02 0 1,0 2.04,0a1.02,1.02 0 1,0 -2.04,0 M30.1,292.7a1.61,1.61 0 1,0 3.21,0a1.61,1.61 0 1,0 -3.21,0 M56.6,293.4a0.99,0.99 0 1,0 1.97,0a0.99,0.99 0 1,0 -1.97,0 M91.8,281.6a1.13,1.13 0 1,0 2.26,0a1.13,1.13 0 1,0 -2.26,0 M18.5,291.5a1.97,1.97 0 1,0 3.94,0a1.97,1.97 0 1,0 -3.94,0 M126.3,279.8a1.37,1.37 0 1,0 2.75,0a1.37,1.37 0 1,0 -2.75,0 M72.8,287.6a1.63,1.63 0 1,0 3.26,0a1.63,1.63 0 1,0 -3.26,0 M85.2,281.5a1.90,1.90 0 1,0 3.80,0a1.90,1.90 0 1,0 -3.80,0 M49.5,283.9a1.43,1.43 0 1,0 2.86,0a1.43,1.43 0 1,0 -2.86,0 M55.5,287.3a1.55,1.55 0 1,0 3.09,0a1.55,1.55 0 1,0 -3.09,0 M176.2,282.3a2.07,2.07 0 1,0 4.14,0a2.07,2.07 0 1,0 -4.14,0 M123.0,281.9a1.54,1.54 0 1,0 3.07,0a1.54,1.54 0 1,0 -3.07,0 M128.1,290.4a0.86,0.86 0 1,0 1.73,0a0.86,0.86 0 1,0 -1.73,0 M114.3,285.9a1.98,1.98 0 1,0 3.95,0a1.98,1.98 0 1,0 -3.95,0 M63.3,291.4a1.59,1.59 0 1,0 3.18,0a1.59,1.59 0 1,0 -3.18,0 M73.9,288.5a1.61,1.61 0 1,0 3.21,0a1.61,1.61 0 1,0 -3.21,0 M126.1,290.0a1.66,1.66 0 1,0 3.31,0a1.66,1.66 0 1,0 -3.31,0 M151.5,288.3a1.97,1.97 0 1,0 3.95,0a1.97,1.97 0 1,0 -3.95,0 M121.3,282.6a1.37,1.37 0 1,0 2.75,0a1.37,1.37 0 1,0 -2.75,0 M111.0,290.2a0.92,0.92 0 1,0 1.83,0a0.92,0.92 0 1,0 -1.83,0 M65.3,290.5a1.03,1.03 0 1,0 2.06,0a1.03,1.03 0 1,0 -2.06,0 M38.1,286.7a2.06,2.06 0 1,0 4.13,0a2.06,2.06 0 1,0 -4.13,0 M102.3,293.4a1.88,1.88 0 1,0 3.76,0a1.88,1.88 0 1,0 -3.76,0 M58.8,291.8a1.43,1.43 0 1,0 2.85,0a1.43,1.43 0 1,0 -2.85,0 M147.1,290.4a1.24,1.24 0 1,0 2.48,0a1.24,1.24 0 1,0 -2.48,0 M36.5,294.3a0.98,0.98 0 1,0 1.97,0a0.98,0.98 0 1,0 -1.97,0 M172.3,292.5a1.74,1.74 0 1,0 3.48,0a1.74,1.74 0 1,0 -3.48,0 M174.3,294.4a1.85,1.85 0 1,0 3.69,0a1.85,1.85 0 1,0 -3.69,0 M76.9,291.2a0.82,0.82 0 1,0 1.64,0a0.82,0.82 0 1,0 -1.64,0 M103.4,285.2a1.67,1.67 0 1,0 3.35,0a1.67,1.67 0 1,0 -3.35,0 M125.0,287.5a1.87,1.87 0 1,0 3.74,0a1.87,1.87 0 1,0 -3.74,0 M168.7,279.0a1.10,1.10 0 1,0 2.21,0a1.10,1.10 0 1,0 -2.21,0 M21.5,292.9a1.53,1.53 0 1,0 3.06,0a1.53,1.53 0 1,0 -3.06,0 M164.9,281.0a0.88,0.88 0 1,0 1.76,0a0.88,0.88 0 1,0 -1.76,0 M150.0,293.4a1.19,1.19 0 1,0 2.39,0a1.19,1.19 0 1,0 -2.39,0 M82.5,279.5a2.03,2.03 0 1,0 4.06,0a2.03,2.03 0 1,0 -4.06,0 M66.9,285.9a0.93,0.93 0 1,0 1.85,0a0.93,0.93 0 1,0 -1.85,0 M159.9,279.4a1.39,1.39 0 1,0 2.78,0a1.39,1.39 0 1,0 -2.78,0 M124.5,290.4a2.03,2.03 0 1,0 4.06,0a2.03,2.03 0 1,0 -4.06,0 M85.2,290.4a1.00,1.00 0 1,0 2.00,0a1.00,1.00 0 1,0 -2.00,0" fill="#000" opacity="0.55"/>
<path d="M85.5,271.8 L86.1,274.5 L85.4,277.5 L86.1,280.6 M34.9,282.3 L34.8,286.9 L34.7,291.4 L35.5,296.1 M125.3,281.6 L125.7,283.2 L125.1,285.0 L125.1,286.8 M52.2,273.9 L52.2,276.7 L52.4,279.3 L52.9,281.7 M59.2,273.1 L58.8,275.0 L59.2,276.6 L59.3,278.2 M138.0,279.5 L138.6,282.6 L138.0,285.7 L139.2,288.6 M144.6,285.6 L145.2,288.5 L144.6,291.7 L144.9,294.7 M164.9,271.3 L164.0,274.7 L164.2,278.3 L163.4,282.0 M104.1,278.2 L104.4,280.3 L104.5,282.2 L104.7,284.0 M91.4,274.1 L91.2,277.0 L91.0,280.2 L90.8,283.1 M167.0,271.2 L166.9,273.2 L168.1,275.1 L168.1,277.1 M71.9,272.2 L72.0,276.0 L71.8,279.7 L71.6,283.1 M111.7,273.8 L111.4,276.3 L111.9,278.6 L112.3,281.0 M154.6,287.5 L155.1,290.9 L155.7,294.7 L155.2,297.9 M131.7,275.6 L132.0,277.3 L131.3,278.8 L131.4,280.4 M138.7,273.9 L138.4,276.6 L138.8,279.3 L137.9,281.8 M44.2,281.1 L44.6,283.6 L44.5,286.0 L45.1,288.4 M88.0,275.1 L88.3,278.1 L88.2,281.4 L87.9,284.4 M52.9,272.5 L52.0,275.2 L52.0,277.7 L52.4,280.4 M152.7,284.5 L151.7,288.6 L152.3,293.1 L151.5,297.3 M132.8,277.5 L132.2,279.4 L132.2,281.1 L132.2,282.6 M154.5,274.4 L154.4,277.5 L154.4,280.8 L154.3,284.1 M37.3,279.2 L38.0,282.0 L38.5,284.5 L38.1,287.2 M115.6,283.7 L116.1,285.9 L116.2,288.2 L116.0,290.4 M109.5,281.4 L109.8,285.6 L109.3,289.9 L109.7,294.1 M28.0,279.1 L27.3,282.3 L27.1,285.3 L27.9,288.2 M100.3,278.3 L100.9,282.4 L100.8,286.5 L100.3,290.4 M43.2,271.1 L42.6,275.6 L42.4,279.7 L41.7,284.2 M89.5,279.4 L88.9,282.2 L88.6,285.0 L88.8,287.8 M29.6,271.7 L30.0,274.3 L30.4,276.9 L29.9,279.3 M41.7,276.3 L42.0,280.1 L43.1,283.8 L42.9,287.7 M149.4,282.1 L150.0,286.0 L150.3,289.8 L150.3,293.7 M47.9,273.9 L48.0,276.9 L48.3,280.2 L48.8,283.3 M153.0,285.9 L152.8,288.5 L151.9,291.1 L152.0,294.0 M148.8,273.0 L148.9,275.8 L148.6,278.7 L148.9,281.7 M104.7,275.6 L105.4,278.6 L105.8,281.9 L105.5,284.7 M80.3,279.5 L81.1,283.5 L80.9,287.8 L82.1,291.9 M35.5,285.2 L36.1,287.7 L36.6,290.1 L36.4,293.0 M54.6,278.1 L53.9,279.9 L54.0,281.8 L54.0,283.2 M168.3,285.1 L168.0,289.1 L169.0,293.3 L168.3,297.3 M91.0,270.1 L90.9,272.5 L90.4,275.0 L89.2,277.3 M67.3,270.9 L67.2,274.8 L67.6,279.0 L66.5,283.0 M57.8,272.6 L57.4,276.1 L57.9,279.5 L58.2,283.0 M103.4,279.1 L103.7,282.5 L104.5,286.0 L104.5,288.9 M145.5,276.2 L146.0,279.8 L145.7,283.1 L146.2,287.0 M47.1,284.0 L47.2,287.9 L46.5,291.6 L46.9,295.2 M26.0,273.6 L25.6,278.2 L25.2,282.4 L25.0,286.9 M76.3,284.1 L76.2,286.7 L77.5,289.5 L77.8,292.0 M175.2,278.9 L175.2,283.5 L175.5,287.7 L175.3,292.4 M106.5,275.8 L105.8,279.5 L105.6,283.1 L105.1,286.6 M158.6,276.3 L159.6,279.0 L159.0,281.4 L159.9,283.9 M128.0,287.2 L128.0,290.5 L126.7,294.2 L126.7,297.6 M110.0,280.9 L110.0,285.5 L110.4,289.9 L110.4,294.5 M59.0,272.0 L59.1,275.2 L59.2,278.3 L59.7,281.7 M64.8,286.5 L65.2,288.5 L65.3,290.5 L64.3,292.7 M154.6,275.8 L154.5,277.8 L154.7,279.6 L154.7,281.4 M146.3,279.2 L145.5,281.5 L145.0,283.7 L145.0,286.1 M107.5,281.0 L107.7,283.7 L106.7,286.3 L106.6,288.6 M175.0,281.6 L174.7,285.4 L175.2,289.0 L174.4,292.9 M88.4,286.4 L87.5,288.3 L87.3,290.5 L86.9,292.7 M162.5,285.2 L162.4,288.7 L161.8,292.4 L161.8,295.8 M170.0,272.8 L170.3,276.7 L170.4,280.5 L169.9,284.1 M121.9,280.4 L121.9,284.4 L122.2,288.4 L122.1,292.4 M96.5,284.5 L96.1,286.9 L96.8,289.6 L96.7,292.2 M69.1,282.9 L69.9,287.0 L69.5,291.5 L69.6,295.7 M61.9,274.5 L61.4,277.0 L60.8,279.7 L60.3,282.0 M111.7,275.6 L111.9,278.8 L112.0,281.8 L113.0,285.1 M174.1,273.9 L173.9,275.8 L173.9,277.5 L173.7,279.5 M88.1,285.9 L88.2,289.8 L88.7,293.7 L88.9,297.6 M99.9,283.8 L99.9,288.3 L100.0,293.0 L99.6,297.6 M169.6,283.6 L169.3,286.6 L168.6,289.9 L168.7,293.2 M116.2,279.3 L115.7,283.0 L116.2,286.2 L115.5,289.9 M104.4,282.8 L104.0,286.9 L104.6,291.0 L104.1,295.2 M129.4,270.5 L129.7,275.1 L129.4,279.7 L129.4,284.1 M119.9,281.2 L120.5,283.1 L121.1,285.2 L120.3,287.4 M43.3,282.4 L43.7,286.6 L43.4,290.3 L42.6,294.3 M71.1,281.9 L70.8,284.7 L71.0,287.1 L71.5,289.8 M122.2,282.5 L122.0,284.7 L122.1,287.1 L122.3,289.1 M52.2,282.7 L52.6,285.5 L51.6,288.0 L51.9,290.8 M176.2,284.7 L176.4,288.7 L177.4,292.8 L177.5,296.9 M95.8,273.6 L96.1,278.0 L96.1,282.6 L95.7,287.1 M104.2,281.5 L104.0,284.2 L103.6,287.1 L102.9,290.4 M84.3,286.8 L84.3,290.1 L84.8,293.1 L85.9,296.0 M111.1,279.6 L111.8,284.0 L112.0,288.5 L112.3,293.2 M82.7,278.9 L83.6,283.6 L83.0,288.0 L83.5,292.7 M64.6,287.8 L65.2,291.1 L64.7,294.0 L64.3,297.1 M92.6,274.6 L92.6,278.5 L92.3,282.3 L92.1,286.4 M151.6,279.3 L150.9,282.8 L150.6,286.5 L150.1,290.2 M139.9,287.2 L139.1,291.1 L139.7,294.7 L138.9,298.6 M84.0,279.0 L84.2,282.7 L85.3,286.5 L85.4,290.3 M40.4,272.8 L40.6,276.3 L40.9,279.7 L41.4,283.1 M58.7,283.6 L59.0,285.6 L58.9,287.4 L59.3,289.3 M100.1,280.3 L99.8,282.8 L99.0,285.6 L98.5,288.3 M148.7,278.2 L148.2,281.2 L149.1,284.3 L148.6,287.4 M138.6,280.4 L137.6,283.3 L138.2,285.7 L137.8,288.3 M84.6,283.8 L85.0,288.4 L85.7,293.0 L85.8,297.8 M79.3,282.3 L79.6,285.5 L79.2,288.9 L79.8,292.2 M54.7,270.1 L54.5,272.6 L53.8,275.3 L53.0,277.7 M63.2,286.9 L63.8,288.8 L64.0,291.0 L63.3,292.8 M35.2,270.6 L34.7,274.5 L35.3,278.1 L35.1,282.1 M28.1,279.1 L28.1,283.1 L27.7,287.4 L27.2,291.3 M42.0,281.9 L41.2,284.6 L41.9,287.2 L41.3,289.6 M98.5,287.5 L99.3,291.1 L99.3,294.7 L99.7,298.6 M95.0,285.3 L95.1,289.2 L94.6,293.0 L94.4,296.5 M58.0,273.7 L58.5,277.9 L58.5,282.4 L58.1,287.0 M115.7,285.7 L115.7,289.7 L115.1,293.8 L114.6,297.7 M21.5,286.9 L22.5,288.9 L22.1,290.9 L22.5,293.1 M107.6,284.0 L107.3,287.1 L107.3,290.5 L106.7,293.9 M94.3,285.1 L94.6,287.9 L94.8,290.5 L95.3,293.6 M111.9,277.5 L111.4,280.3 L111.2,282.9 L111.1,285.4 M150.8,287.4 L150.5,290.6 L150.7,293.8 L151.2,297.0 M106.0,281.6 L105.9,283.5 L105.3,285.2 L104.5,287.0 M56.1,282.7 L55.5,286.0 L55.3,289.1 L54.6,292.3 M20.1,279.9 L19.3,283.4 L18.5,286.6 L18.8,289.8 M164.9,271.9 L164.2,274.0 L164.5,276.1 L163.6,278.2 M84.1,280.2 L84.8,282.6 L85.3,285.0 L85.9,287.1 M79.8,279.9 L79.0,281.6 L78.9,283.4 L78.6,285.2 M34.3,279.5 L34.3,281.9 L33.4,283.9 L32.4,286.6 M163.2,280.1 L162.6,284.8 L162.4,289.1 L162.1,293.5 M31.3,272.9 L30.9,277.2 L30.6,281.4 L30.1,285.6" fill="none" stroke="#111" stroke-width="0.8" opacity="0.45"/>
<path d="M133.9,275.0a1.28,1.28 0 1,0 2.56,0a1.28,1.28 0 1,0 -2.56,0 M26.4,274.4a1.19,1.19 0 1,0 2.37,0a1.19,1.19 0 1,0 -2.37,0 M72.4,277.7a1.27,1.27 0 1,0 2.54,0a1.27,1.27 0 1,0 -2.54,0 M82.0,277.7a0.62,0.62 0 1,0 1.24,0a0.62,0.62 0 1,0 -1.24,0 M61.9,279.9a0.94,0.94 0 1,0 1.89,0a0.94,0.94 0 1,0 -1.89,0 M75.2,279.4a0.90,0.90 0 1,0 1.80,0a0.90,0.90 0 1,0 -1.80,0 M127.4,276.6a0.66,0.66 0 1,0 1.32,0a0.66,0.66 0 1,0 -1.32,0 M117.1,278.0a1.10,1.10 0 1,0 2.20,0a1.10,1.10 0 1,0 -2.20,0 M31.1,271.5a1.10,1.10 0 1,0 2.20,0a1.10,1.10 0 1,0 -2.20,0 M119.9,277.4a0.82,0.82 0 1,0 1.64,0a0.82,0.82 0 1,0 -1.64,0 M35.3,270.1a0.82,0.82 0 1,0 1.63,0a0.82,0.82 0 1,0 -1.63,0 M76.0,272.7a0.69,0.69 0 1,0 1.39,0a0.69,0.69 0 1,0 -1.39,0 M48.1,274.5a0.99,0.99 0 1,0 1.98,0a0.99,0.99 0 1,0 -1.98,0 M83.6,270.3a0.85,0.85 0 1,0 1.70,0a0.85,0.85 0 1,0 -1.70,0 M33.1,276.0a0.83,0.83 0 1,0 1.65,0a0.83,0.83 0 1,0 -1.65,0 M79.9,272.9a0.87,0.87 0 1,0 1.74,0a0.87,0.87 0 1,0 -1.74,0 M31.4,279.0a1.23,1.23 0 1,0 2.47,0a1.23,1.23 0 1,0 -2.47,0 M175.2,275.7a0.72,0.72 0 1,0 1.44,0a0.72,0.72 0 1,0 -1.44,0 M79.3,271.4a0.81,0.81 0 1,0 1.62,0a0.81,0.81 0 1,0 -1.62,0 M97.2,270.6a0.90,0.90 0 1,0 1.81,0a0.90,0.90 0 1,0 -1.81,0 M85.9,274.8a0.65,0.65 0 1,0 1.31,0a0.65,0.65 0 1,0 -1.31,0 M58.3,272.5a1.04,1.04 0 1,0 2.08,0a1.04,1.04 0 1,0 -2.08,0 M113.6,272.0a0.67,0.67 0 1,0 1.35,0a0.67,0.67 0 1,0 -1.35,0 M67.0,279.5a0.83,0.83 0 1,0 1.67,0a0.83,0.83 0 1,0 -1.67,0 M117.6,278.0a0.83,0.83 0 1,0 1.66,0a0.83,0.83 0 1,0 -1.66,0 M71.5,278.2a1.20,1.20 0 1,0 2.40,0a1.20,1.20 0 1,0 -2.40,0 M174.4,271.4a0.82,0.82 0 1,0 1.65,0a0.82,0.82 0 1,0 -1.65,0 M170.1,272.0a0.82,0.82 0 1,0 1.64,0a0.82,0.82 0 1,0 -1.64,0 M172.9,279.7a0.80,0.80 0 1,0 1.61,0a0.80,0.80 0 1,0 -1.61,0 M129.5,274.9a1.00,1.00 0 1,0 2.01,0a1.00,1.00 0 1,0 -2.01,0 M56.7,273.8a1.17,1.17 0 1,0 2.34,0a1.17,1.17 0 1,0 -2.34,0 M81.0,271.1a0.99,0.99 0 1,0 1.99,0a0.99,0.99 0 1,0 -1.99,0 M112.9,275.5a1.08,1.08 0 1,0 2.15,0a1.08,1.08 0 1,0 -2.15,0 M106.3,279.5a0.92,0.92 0 1,0 1.85,0a0.92,0.92 0 1,0 -1.85,0 M131.8,274.4a0.80,0.80 0 1,0 1.61,0a0.80,0.80 0 1,0 -1.61,0 M129.0,278.2a1.16,1.16 0 1,0 2.31,0a1.16,1.16 0 1,0 -2.31,0 M83.6,275.0a1.04,1.04 0 1,0 2.09,0a1.04,1.04 0 1,0 -2.09,0 M56.7,276.6a1.10,1.10 0 1,0 2.20,0a1.10,1.10 0 1,0 -2.20,0 M144.3,270.7a1.29,1.29 0 1,0 2.59,0a1.29,1.29 0 1,0 -2.59,0 M94.9,274.0a0.95,0.95 0 1,0 1.91,0a0.95,0.95 0 1,0 -1.91,0 M165.7,276.9a0.98,0.98 0 1,0 1.96,0a0.98,0.98 0 1,0 -1.96,0 M144.6,273.6a1.23,1.23 0 1,0 2.45,0a1.23,1.23 0 1,0 -2.45,0 M104.5,276.4a0.66,0.66 0 1,0 1.32,0a0.66,0.66 0 1,0 -1.32,0 M141.5,276.6a0.85,0.85 0 1,0 1.70,0a0.85,0.85 0 1,0 -1.70,0 M121.5,270.4a1.29,1.29 0 1,0 2.58,0a1.29,1.29 0 1,0 -2.58,0 M126.5,274.0a1.13,1.13 0 1,0 2.25,0a1.13,1.13 0 1,0 -2.25,0 M173.3,274.3a0.61,0.61 0 1,0 1.21,0a0.61,0.61 0 1,0 -1.21,0 M59.5,275.1a0.96,0.96 0 1,0 1.93,0a0.96,0.96 0 1,0 -1.93,0 M111.2,275.8a0.91,0.91 0 1,0 1.82,0a0.91,0.91 0 1,0 -1.82,0 M80.7,277.7a1.01,1.01 0 1,0 2.02,0a1.01,1.01 0 1,0 -2.02,0 M98.7,273.4a0.62,0.62 0 1,0 1.23,0a0.62,0.62 0 1,0 -1.23,0 M34.5,274.2a1.27,1.27 0 1,0 2.55,0a1.27,1.27 0 1,0 -2.55,0 M36.9,279.4a0.70,0.70 0 1,0 1.40,0a0.70,0.70 0 1,0 -1.40,0 M68.3,274.6a0.74,0.74 0 1,0 1.49,0a0.74,0.74 0 1,0 -1.49,0 M95.6,274.8a0.91,0.91 0 1,0 1.81,0a0.91,0.91 0 1,0 -1.81,0 M130.0,273.2a0.81,0.81 0 1,0 1.62,0a0.81,0.81 0 1,0 -1.62,0 M147.8,271.2a1.19,1.19 0 1,0 2.39,0a1.19,1.19 0 1,0 -2.39,0 M122.2,276.8a0.72,0.72 0 1,0 1.43,0a0.72,0.72 0 1,0 -1.43,0 M176.1,272.4a0.72,0.72 0 1,0 1.44,0a0.72,0.72 0 1,0 -1.44,0 M43.4,275.6a1.27,1.27 0 1,0 2.54,0a1.27,1.27 0 1,0 -2.54,0 M55.5,274.1a0.73,0.73 0 1,0 1.46,0a0.73,0.73 0 1,0 -1.46,0 M121.1,274.3a0.62,0.62 0 1,0 1.24,0a0.62,0.62 0 1,0 -1.24,0 M116.5,272.0a1.01,1.01 0 1,0 2.03,0a1.01,1.01 0 1,0 -2.03,0 M80.6,277.0a0.74,0.74 0 1,0 1.49,0a0.74,0.74 0 1,0 -1.49,0 M139.0,278.1a0.64,0.64 0 1,0 1.29,0a0.64,0.64 0 1,0 -1.29,0 M34.6,278.7a0.73,0.73 0 1,0 1.46,0a0.73,0.73 0 1,0 -1.46,0 M70.5,274.6a0.78,0.78 0 1,0 1.57,0a0.78,0.78 0 1,0 -1.57,0 M156.3,275.3a1.05,1.05 0 1,0 2.09,0a1.05,1.05 0 1,0 -2.09,0 M113.7,276.1a1.01,1.01 0 1,0 2.02,0a1.01,1.01 0 1,0 -2.02,0 M73.8,278.5a1.03,1.03 0 1,0 2.06,0a1.03,1.03 0 1,0 -2.06,0 M148.7,277.1a0.81,0.81 0 1,0 1.62,0a0.81,0.81 0 1,0 -1.62,0 M116.9,270.8a0.69,0.69 0 1,0 1.39,0a0.69,0.69 0 1,0 -1.39,0 M37.2,273.1a0.73,0.73 0 1,0 1.46,0a0.73,0.73 0 1,0 -1.46,0 M129.3,275.1a0.89,0.89 0 1,0 1.79,0a0.89,0.89 0 1,0 -1.79,0 M40.4,273.8a0.73,0.73 0 1,0 1.46,0a0.73,0.73 0 1,0 -1.46,0 M119.9,276.9a1.05,1.05 0 1,0 2.10,0a1.05,1.05 0 1,0 -2.10,0 M178.4,275.5a0.94,0.94 0 1,0 1.89,0a0.94,0.94 0 1,0 -1.89,0 M40.6,273.1a0.92,0.92 0 1,0 1.83,0a0.92,0.92 0 1,0 -1.83,0 M27.0,273.6a0.61,0.61 0 1,0 1.21,0a0.61,0.61 0 1,0 -1.21,0 M39.6,278.2a1.27,1.27 0 1,0 2.55,0a1.27,1.27 0 1,0 -2.55,0 M99.0,274.9a1.08,1.08 0 1,0 2.16,0a1.08,1.08 0 1,0 -2.16,0 M84.7,278.4a0.94,0.94 0 1,0 1.88,0a0.94,0.94 0 1,0 -1.88,0 M31.1,270.3a1.13,1.13 0 1,0 2.27,0a1.13,1.13 0 1,0 -2.27,0 M64.9,272.7a0.98,0.98 0 1,0 1.95,0a0.98,0.98 0 1,0 -1.95,0 M44.9,274.6a1.12,1.12 0 1,0 2.24,0a1.12,1.12 0 1,0 -2.24,0 M141.2,275.5a0.68,0.68 0 1,0 1.36,0a0.68,0.68 0 1,0 -1.36,0 M36.1,277.8a1.18,1.18 0 1,0 2.35,0a1.18,1.18 0 1,0 -2.35,0 M77.2,278.2a0.63,0.63 0 1,0 1.26,0a0.63,0.63 0 1,0 -1.26,0 M133.0,275.5a1.29,1.29 0 1,0 2.59,0a1.29,1.29 0 1,0 -2.59,0 M34.3,278.3a1.13,1.13 0 1,0 2.25,0a1.13,1.13 0 1,0 -2.25,0" fill="#222" opacity="0.45"/>
<path d="M65.8,290.0a0.96,0.96 0 1,0 1.92,0a0.96,0.96 0 1,0 -1.92,0 M74.0,286.2a0.95,0.95 0 1,0 1.90,0a0.95,0.95 0 1,0 -1.90,0 M177.6,285.3a0.79,0.79 0 1,0 1.58,0a0.79,0.79 0 1,0 -1.58,0 M148.2,281.3a0.88,0.88 0 1,0 1.76,0a0.88,0.88 0 1,0 -1.76,0 M132.3,282.3a0.73,0.73 0 1,0 1.47,0a0.73,0.73 0 1,0 -1.47,0 M40.6,273.3a0.77,0.77 0 1,0 1.53,0a0.77,0.77 0 1,0 -1.53,0 M27.7,276.4a0.82,0.82 0 1,0 1.65,0a0.82,0.82 0 1,0 -1.65,0 M104.3,275.8a1.16,1.16 0 1,0 2.33,0a1.16,1.16 0 1,0 -2.33,0 M64.1,274.6a1.29,1.29 0 1,0 2.57,0a1.29,1.29 0 1,0 -2.57,0 M176.4,283.3a0.68,0.68 0 1,0 1.35,0a0.68,0.68 0 1,0 -1.35,0 M172.1,285.5a1.34,1.34 0 1,0 2.67,0a1.34,1.34 0 1,0 -2.67,0 M177.5,287.2a0.70,0.70 0 1,0 1.40,0a0.70,0.70 0 1,0 -1.40,0 M156.7,274.2a1.17,1.17 0 1,0 2.34,0a1.17,1.17 0 1,0 -2.34,0 M150.7,285.0a1.14,1.14 0 1,0 2.28,0a1.14,1.14 0 1,0 -2.28,0 M96.7,281.1a0.81,0.81 0 1,0 1.63,0a0.81,0.81 0 1,0 -1.63,0 M84.3,278.5a1.11,1.11 0 1,0 2.21,0a1.11,1.11 0 1,0 -2.21,0 M159.2,271.0a1.01,1.01 0 1,0 2.02,0a1.01,1.01 0 1,0 -2.02,0 M62.7,288.7a0.90,0.90 0 1,0 1.79,0a0.90,0.90 0 1,0 -1.79,0 M170.8,275.9a0.60,0.60 0 1,0 1.20,0a0.60,0.60 0 1,0 -1.20,0 M142.0,284.4a1.18,1.18 0 1,0 2.37,0a1.18,1.18 0 1,0 -2.37,0 M91.6,282.9a0.89,0.89 0 1,0 1.77,0a0.89,0.89 0 1,0 -1.77,0 M28.4,280.2a0.77,0.77 0 1,0 1.55,0a0.77,0.77 0 1,0 -1.55,0 M87.1,273.4a0.81,0.81 0 1,0 1.63,0a0.81,0.81 0 1,0 -1.63,0 M150.8,276.1a1.06,1.06 0 1,0 2.12,0a1.06,1.06 0 1,0 -2.12,0 M108.9,279.2a0.87,0.87 0 1,0 1.75,0a0.87,0.87 0 1,0 -1.75,0 M127.8,270.0a0.68,0.68 0 1,0 1.36,0a0.68,0.68 0 1,0 -1.36,0 M144.0,278.7a0.70,0.70 0 1,0 1.40,0a0.70,0.70 0 1,0 -1.40,0 M156.0,278.3a0.60,0.60 0 1,0 1.20,0a0.60,0.60 0 1,0 -1.20,0 M171.5,273.2a1.15,1.15 0 1,0 2.30,0a1.15,1.15 0 1,0 -2.30,0 M39.4,282.6a0.73,0.73 0 1,0 1.45,0a0.73,0.73 0 1,0 -1.45,0 M167.5,274.8a1.12,1.12 0 1,0 2.25,0a1.12,1.12 0 1,0 -2.25,0 M57.8,276.8a1.32,1.32 0 1,0 2.65,0a1.32,1.32 0 1,0 -2.65,0 M44.7,277.3a0.84,0.84 0 1,0 1.69,0a0.84,0.84 0 1,0 -1.69,0 M130.1,273.9a1.12,1.12 0 1,0 2.25,0a1.12,1.12 0 1,0 -2.25,0 M130.9,269.0a0.98,0.98 0 1,0 1.96,0a0.98,0.98 0 1,0 -1.96,0 M39.1,273.8a1.14,1.14 0 1,0 2.29,0a1.14,1.14 0 1,0 -2.29,0 M19.2,283.6a1.25,1.25 0 1,0 2.51,0a1.25,1.25 0 1,0 -2.51,0 M176.8,277.9a0.71,0.71 0 1,0 1.41,0a0.71,0.71 0 1,0 -1.41,0 M29.2,277.0a1.18,1.18 0 1,0 2.37,0a1.18,1.18 0 1,0 -2.37,0 M34.1,275.6a1.30,1.30 0 1,0 2.61,0a1.30,1.30 0 1,0 -2.61,0 M39.8,285.2a1.20,1.20 0 1,0 2.41,0a1.20,1.20 0 1,0 -2.41,0 M39.6,289.9a0.71,0.71 0 1,0 1.43,0a0.71,0.71 0 1,0 -1.43,0 M103.0,269.2a1.12,1.12 0 1,0 2.24,0a1.12,1.12 0 1,0 -2.24,0 M88.5,284.2a1.10,1.10 0 1,0 2.20,0a1.10,1.10 0 1,0 -2.20,0 M42.1,277.6a1.15,1.15 0 1,0 2.30,0a1.15,1.15 0 1,0 -2.30,0 M156.3,270.8a0.68,0.68 0 1,0 1.36,0a0.68,0.68 0 1,0 -1.36,0 M138.8,281.4a0.91,0.91 0 1,0 1.81,0a0.91,0.91 0 1,0 -1.81,0 M172.8,275.6a0.71,0.71 0 1,0 1.42,0a0.71,0.71 0 1,0 -1.42,0 M62.4,270.8a1.04,1.04 0 1,0 2.09,0a1.04,1.04 0 1,0 -2.09,0 M114.0,281.8a1.22,1.22 0 1,0 2.45,0a1.22,1.22 0 1,0 -2.45,0 M128.6,286.8a1.13,1.13 0 1,0 2.25,0a1.13,1.13 0 1,0 -2.25,0 M66.4,279.9a1.01,1.01 0 1,0 2.02,0a1.01,1.01 0 1,0 -2.02,0 M138.3,275.2a0.64,0.64 0 1,0 1.29,0a0.64,0.64 0 1,0 -1.29,0 M162.0,289.0a1.00,1.00 0 1,0 1.99,0a1.00,1.00 0 1,0 -1.99,0 M36.0,279.5a1.08,1.08 0 1,0 2.15,0a1.08,1.08 0 1,0 -2.15,0 M102.3,289.5a1.39,1.39 0 1,0 2.78,0a1.39,1.39 0 1,0 -2.78,0 M167.5,271.8a1.29,1.29 0 1,0 2.58,0a1.29,1.29 0 1,0 -2.58,0 M109.0,276.7a1.15,1.15 0 1,0 2.29,0a1.15,1.15 0 1,0 -2.29,0 M140.1,289.0a1.22,1.22 0 1,0 2.43,0a1.22,1.22 0 1,0 -2.43,0 M20.9,270.4a0.81,0.81 0 1,0 1.62,0a0.81,0.81 0 1,0 -1.62,0 M24.2,270.3a1.23,1.23 0 1,0 2.46,0a1.23,1.23 0 1,0 -2.46,0 M99.3,282.2a1.00,1.00 0 1,0 2.00,0a1.00,1.00 0 1,0 -2.00,0 M85.0,283.7a0.67,0.67 0 1,0 1.33,0a0.67,0.67 0 1,0 -1.33,0 M104.2,281.9a0.82,0.82 0 1,0 1.64,0a0.82,0.82 0 1,0 -1.64,0 M67.9,279.7a0.76,0.76 0 1,0 1.53,0a0.76,0.76 0 1,0 -1.53,0 M147.7,280.3a0.91,0.91 0 1,0 1.83,0a0.91,0.91 0 1,0 -1.83,0 M119.6,286.5a1.14,1.14 0 1,0 2.29,0a1.14,1.14 0 1,0 -2.29,0 M28.4,283.7a1.18,1.18 0 1,0 2.37,0a1.18,1.18 0 1,0 -2.37,0 M154.1,270.2a0.67,0.67 0 1,0 1.34,0a0.67,0.67 0 1,0 -1.34,0 M87.6,278.5a1.09,1.09 0 1,0 2.17,0a1.09,1.09 0 1,0 -2.17,0 M67.4,284.6a1.19,1.19 0 1,0 2.39,0a1.19,1.19 0 1,0 -2.39,0 M37.0,283.9a1.16,1.16 0 1,0 2.32,0a1.16,1.16 0 1,0 -2.32,0 M44.3,289.0a1.02,1.02 0 1,0 2.04,0a1.02,1.02 0 1,0 -2.04,0 M143.9,284.1a0.73,0.73 0 1,0 1.47,0a0.73,0.73 0 1,0 -1.47,0 M38.5,285.4a0.82,0.82 0 1,0 1.63,0a0.82,0.82 0 1,0 -1.63,0 M160.6,285.2a0.62,0.62 0 1,0 1.25,0a0.62,0.62 0 1,0 -1.25,0 M147.8,274.7a0.65,0.65 0 1,0 1.30,0a0.65,0.65 0 1,0 -1.30,0 M132.6,281.1a0.66,0.66 0 1,0 1.32,0a0.66,0.66 0 1,0 -1.32,0 M91.0,276.6a1.00,1.00 0 1,0 2.00,0a1.00,1.00 0 1,0 -2.00,0 M109.1,276.7a0.80,0.80 0 1,0 1.61,0a0.80,0.80 0 1,0 -1.61,0 M34.3,281.1a1.18,1.18 0 1,0 2.36,0a1.18,1.18 0 1,0 -2.36,0 M55.0,279.7a0.64,0.64 0 1,0 1.27,0a0.64,0.64 0 1,0 -1.27,0 M156.4,274.1a0.98,0.98 0 1,0 1.95,0a0.98,0.98 0 1,0 -1.95,0 M79.1,272.2a1.34,1.34 0 1,0 2.69,0a1.34,1.34 0 1,0 -2.69,0 M155.2,280.6a1.33,1.33 0 1,0 2.66,0a1.33,1.33 0 1,0 -2.66,0 M136.9,277.8a0.86,0.86 0 1,0 1.71,0a0.86,0.86 0 1,0 -1.71,0 M85.0,284.1a0.82,0.82 0 1,0 1.63,0a0.82,0.82 0 1,0 -1.63,0 M30.5,276.8a1.00,1.00 0 1,0 2.00,0a1.00,1.00 0 1,0 -2.00,0 M162.4,272.8a1.24,1.24 0 1,0 2.49,0a1.24,1.24 0 1,0 -2.49,0 M175.8,289.0a0.66,0.66 0 1,0 1.31,0a0.66,0.66 0 1,0 -1.31,0 M92.3,274.9a1.28,1.28 0 1,0 2.55,0a1.28,1.28 0 1,0 -2.55,0 M70.9,280.6a0.61,0.61 0 1,0 1.21,0a0.61,0.61 0 1,0 -1.21,0 M50.3,280.8a0.84,0.84 0 1,0 1.69,0a0.84,0.84 0 1,0 -1.69,0 M117.8,278.7a1.07,1.07 0 1,0 2.15,0a1.07,1.07 0 1,0 -2.15,0 M97.4,285.2a0.76,0.76 0 1,0 1.51,0a0.76,0.76 0 1,0 -1.51,0 M162.6,285.0a0.80,0.80 0 1,0 1.59,0a0.80,0.80 0 1,0 -1.59,0 M19.2,277.6a0.79,0.79 0 1,0 1.57,0a0.79,0.79 0 1,0 -1.57,0 M73.3,286.6a1.30,1.30 0 1,0 2.60,0a1.30,1.30 0 1,0 -2.60,0 M170.4,269.0a1.13,1.13 0 1,0 2.25,0a1.13,1.13 0 1,0 -2.25,0 M154.5,284.3a0.68,0.68 0 1,0 1.37,0a0.68,0.68 0 1,0 -1.37,0 M103.0,274.0a0.99,0.99 0 1,0 1.99,0a0.99,0.99 0 1,0 -1.99,0 M27.4,289.9a1.17,1.17 0 1,0 2.34,0a1.17,1.17 0 1,0 -2.34,0 M32.6,288.3a1.32,1.32 0 1,0 2.64,0a1.32,1.32 0 1,0 -2.64,0 M101.5,283.7a0.90,0.90 0 1,0 1.80,0a0.90,0.90 0 1,0 -1.80,0 M174.6,270.8a0.68,0.68 0 1,0 1.35,0a0.68,0.68 0 1,0 -1.35,0 M39.8,286.2a0.66,0.66 0 1,0 1.32,0a0.66,0.66 0 1,0 -1.32,0 M108.7,278.1a1.37,1.37 0 1,0 2.74,0a1.37,1.37 0 1,0 -2.74,0 M56.1,274.5a0.85,0.85 0 1,0 1.70,0a0.85,0.85 0 1,0 -1.70,0 M146.3,283.7a1.19,1.19 0 1,0 2.38,0a1.19,1.19 0 1,0 -2.38,0 M69.4,274.7a0.66,0.66 0 1,0 1.32,0a0.66,0.66 0 1,0 -1.32,0" fill="#9a9a9a" opacity="0.45"/>
<path d="M51.5,298.2 L50.5,309.1 L50.5,320.1 L51.3,330.8 L49.6,341.8 L48.8,352.6 L49.5,363.9 L49.2,374.4 M153.1,294.6 L152.5,298.1 L152.9,301.5 L153.2,304.9 L151.7,308.6 L152.1,312.0 L151.3,315.9 L150.3,318.9 M152.2,299.9 L152.3,304.0 L153.2,308.1 L152.8,312.4 L152.7,316.0 L154.8,320.3 L153.7,324.7 L155.4,328.5 M25.8,295.7 L26.6,300.3 L25.1,305.1 L25.4,309.5 L25.6,314.2 L27.0,318.7 L26.6,323.5 L26.0,328.3 M107.3,292.5 L106.3,299.1 L106.6,305.2 L106.7,311.7 L106.7,318.0 L105.0,324.2 L104.8,330.8 L104.4,336.8 M47.8,294.6 L48.9,299.7 L49.7,305.4 L49.7,311.1 L50.6,316.0 L50.4,321.6 L51.2,327.4 L50.1,332.8 M54.2,298.8 L54.7,313.1 L53.2,327.0 L54.3,341.2 L54.4,354.9 L53.8,369.6 L53.3,383.4 L52.4,397.8 M160.4,295.9 L159.6,302.6 L159.8,309.5 L159.4,316.5 L159.8,322.8 L160.8,330.1 L161.0,336.5 L159.4,343.4 M166.1,298.2 L167.5,313.0 L167.8,327.8 L166.6,342.6 L167.0,357.3 L169.1,372.6 L169.5,387.3 L168.4,402.4 M130.2,299.4 L130.1,313.2 L129.2,327.4 L128.6,341.4 L129.9,355.5 L128.4,369.5 L129.3,382.8 L128.2,397.3 M174.2,293.8 L174.0,304.5 L174.7,315.3 L175.0,325.9 L175.4,336.4 L177.0,347.1 L177.1,357.4 L177.2,367.9 M60.2,292.9 L60.5,295.3 L60.7,297.2 L59.5,299.4 L58.8,301.5 L60.2,303.8 L59.8,305.6 L58.4,308.2 M66.3,294.5 L65.2,310.9 L65.8,327.4 L65.6,343.6 L64.5,360.3 L63.8,376.4 L64.3,392.9 L63.7,409.3 M35.2,293.6 L35.9,298.8 L35.2,303.5 L35.4,308.4 L36.3,313.8 L35.7,318.5 L36.4,323.5 L37.1,328.7 M51.0,292.2 L50.0,297.1 L50.2,301.6 L50.3,306.4 L49.3,311.1 L49.2,316.0 L49.3,320.4 L48.9,325.1 M55.3,294.1 L55.9,297.0 L55.6,300.3 L57.1,303.4 L56.5,306.6 L57.4,309.4 L57.1,312.8 L57.3,315.8 M95.4,292.6 L95.6,308.6 L96.5,324.1 L96.4,339.5 L96.9,355.2 L97.6,371.3 L97.5,386.5 L97.0,402.7 M88.8,300.0 L88.7,311.8 L90.4,322.8 L89.8,334.6 L90.0,346.0 L90.7,358.0 L91.7,369.4 L91.6,380.8 M85.5,293.2 L86.7,304.4 L86.2,314.9 L85.9,326.1 L86.3,337.0 L86.7,348.0 L87.5,358.7 L87.1,369.7 M116.6,297.5 L116.7,300.1 L118.0,303.3 L118.8,305.4 L119.0,308.3 L118.4,311.2 L119.7,313.7 L120.5,316.4 M175.3,295.5 L174.8,310.2 L174.1,324.4 L175.1,339.3 L174.7,353.9 L174.6,368.2 L173.0,382.6 L173.4,397.0 M155.5,299.0 L155.9,301.8 L154.3,304.2 L155.3,306.9 L153.7,309.5 L153.8,312.0 L152.7,314.2 L152.8,317.1 M47.5,299.0 L46.6,310.1 L47.6,321.0 L46.5,331.7 L46.1,342.8 L47.6,353.9 L46.7,364.7 L45.8,375.5 M22.2,298.2 L22.5,312.0 L21.3,325.3 L20.0,339.4 L19.6,353.1 L19.7,366.5 L18.6,380.1 L17.8,393.8 M127.6,298.6 L127.2,306.8 L127.4,314.7 L126.6,323.0 L125.4,330.8 L124.5,339.4 L125.2,347.4 L124.0,355.4 M162.1,294.4 L163.2,299.0 L163.3,303.2 L163.4,307.7 L163.8,312.1 L164.6,316.2 L163.8,320.7 L163.3,325.3 M110.8,293.5 L110.5,306.7 L110.9,319.7 L109.8,332.8 L110.2,345.9 L108.5,358.5 L108.1,371.6 L109.2,385.0 M48.4,297.4 L47.6,304.8 L47.0,312.0 L46.6,318.8 L46.1,326.4 L46.0,333.5 L45.7,340.8 L44.2,347.9 M99.3,298.9 L98.2,307.0 L98.1,314.5 L98.4,322.6 L99.2,330.4 L97.8,338.4 L98.5,346.1 L97.9,353.8 M120.8,292.0 L120.4,298.4 L121.3,304.7 L120.8,310.8 L122.2,317.0 L123.2,323.2 L121.6,329.3 L122.6,335.5 M70.7,298.7 L71.1,303.5 L71.5,308.6 L70.5,313.6 L71.7,318.5 L72.3,323.6 L71.5,328.8 L72.3,333.6 M161.4,300.0 L161.6,307.1 L163.2,314.8 L162.6,321.7 L163.7,328.9 L164.2,336.4 L163.5,343.6 L164.9,350.7 M159.6,294.0 L160.1,304.3 L158.9,314.1 L158.4,324.5 L157.3,334.7 L157.0,344.7 L156.9,355.1 L155.6,365.3 M125.3,294.2 L125.5,305.2 L124.9,316.4 L123.2,327.6 L123.0,338.9 L122.7,350.3 L122.2,361.6 L122.0,372.5 M98.6,293.7 L97.4,309.9 L99.0,326.1 L98.4,341.9 L97.0,358.2 L98.1,374.1 L97.0,390.3 L98.2,406.5 M93.5,292.8 L92.5,297.7 L92.0,302.5 L91.1,307.2 L90.5,312.1 L91.2,316.4 L90.0,321.3 L90.0,326.4 M33.9,298.5 L34.7,303.3 L33.5,308.5 L34.2,313.3 L34.0,317.8 L33.7,322.7 L34.1,327.6 L32.9,332.8 M147.7,297.4 L147.3,302.0 L147.8,307.4 L148.2,311.8 L148.0,316.6 L146.8,321.5 L146.4,326.5 L147.1,331.6 M142.1,296.6 L143.0,307.1 L143.3,318.0 L142.9,328.6 L143.8,339.0 L145.2,349.6 L146.1,360.4 L146.9,370.7 M122.2,293.3 L123.3,307.9 L123.0,322.9 L124.3,337.6 L123.3,352.8 L124.0,367.5 L124.5,382.7 L124.9,397.6 M90.7,292.9 L90.1,302.5 L91.2,311.9 L90.4,321.8 L91.6,331.2 L91.6,340.8 L92.1,350.8 L91.7,359.9 M54.8,295.6 L54.8,306.3 L55.5,316.5 L55.7,327.1 L55.0,338.0 L56.4,348.2 L55.6,359.0 L54.8,369.3 M41.5,297.7 L41.3,310.5 L41.5,323.6 L40.1,336.8 L40.2,349.4 L39.1,362.8 L39.5,375.6 L38.9,388.5 M124.6,299.6 L124.7,303.5 L125.5,308.2 L124.6,312.1 L125.5,316.1 L124.8,320.6 L123.9,324.6 L124.8,329.0 M99.9,295.1 L100.9,311.8 L101.7,329.0 L101.2,345.4 L101.6,362.5 L102.7,379.1 L103.1,396.3 L103.6,413.2 M120.5,293.6 L119.9,305.2 L121.0,316.7 L120.7,328.1 L119.9,339.5 L118.5,351.0 L119.0,362.7 L119.1,374.1 M139.0,298.7 L140.0,305.2 L138.8,311.4 L140.5,317.8 L141.0,324.3 L140.5,330.7 L142.0,337.4 L141.3,343.9 M24.2,298.5 L25.1,302.4 L25.5,305.9 L24.9,309.7 L26.5,313.1 L26.6,317.2 L26.5,320.9 L28.1,324.2 M107.6,292.1 L108.3,298.2 L108.5,304.2 L108.4,309.9 L108.6,315.8 L108.5,321.8 L109.3,327.5 L107.9,333.6 M49.0,293.4 L48.7,303.3 L48.0,313.1 L48.1,322.8 L48.8,332.6 L47.6,342.5 L47.3,352.8 L48.2,362.4 M97.7,296.6 L97.6,303.9 L97.7,311.4 L98.7,319.1 L99.1,326.4 L98.7,334.0 L99.3,341.6 L99.4,349.3 M104.1,300.0 L103.7,314.6 L105.1,329.2 L106.0,343.5 L107.2,358.1 L106.5,372.7 L108.3,386.9 L108.0,401.3 M165.2,298.6 L165.4,306.1 L166.7,313.9 L166.2,322.1 L165.9,329.9 L167.0,337.1 L166.4,345.3 L168.1,353.2 M87.0,292.8 L88.2,303.2 L87.8,313.5 L88.2,323.3 L87.9,333.6 L87.4,343.6 L89.0,354.1 L88.8,364.1 M60.5,295.1 L59.4,306.8 L60.4,318.4 L60.5,330.0 L60.4,341.6 L59.2,353.3 L59.2,364.9 L59.6,376.0 M141.7,295.5 L141.9,303.6 L141.4,311.6 L142.9,319.7 L143.4,327.6 L143.0,336.1 L143.4,344.1 L142.8,352.3 M107.8,296.4 L107.4,300.5 L107.5,304.3 L106.6,308.7 L105.2,312.4 L105.2,316.4 L103.7,320.2 L104.5,324.2 M48.1,298.4 L49.4,313.6 L48.8,328.3 L48.9,342.9 L48.9,358.2 L50.1,372.9 L49.8,388.1 L50.1,403.0 M163.4,294.5 L163.1,303.5 L163.8,312.3 L163.4,321.2 L162.9,330.0 L163.5,339.2 L164.0,348.2 L163.6,357.0 M159.8,295.7 L159.7,303.0 L159.6,311.0 L159.9,318.1 L159.0,325.7 L159.5,333.1 L157.6,340.6 L158.3,348.1 M112.3,295.2 L112.9,306.3 L114.3,317.2 L114.3,328.1 L113.6,339.4 L115.1,350.1 L115.1,361.2 L115.4,372.2 M125.3,298.8 L124.8,313.0 L125.4,327.1 L126.6,341.6 L126.8,355.9 L125.9,369.9 L125.5,384.2 L125.3,398.4 M25.9,293.7 L25.6,309.4 L24.6,325.5 L25.0,341.1 L25.3,356.9 L25.7,372.3 L25.0,388.0 L25.1,403.9 M123.8,298.7 L124.5,308.6 L123.2,318.7 L123.3,328.4 L123.4,338.3 L122.4,347.9 L122.1,358.1 L122.2,367.7 M77.1,297.7 L77.4,301.8 L76.4,305.6 L75.6,309.3 L76.5,313.1 L74.6,317.4 L74.6,321.3 L74.0,325.2 M28.0,294.1 L28.7,298.9 L28.1,303.9 L29.9,308.5 L29.2,313.4 L31.6,318.5 L30.5,323.3 L31.8,328.1 M150.6,293.5 L150.8,305.4 L150.0,317.6 L149.3,329.5 L148.7,341.4 L150.0,353.6 L148.8,365.5 L147.9,377.7 M117.6,292.3 L116.8,306.2 L116.9,320.2 L118.3,334.3 L118.2,348.0 L117.7,361.7 L116.7,375.7 L117.1,389.8 M145.6,295.0 L146.4,306.1 L145.4,316.8 L146.4,327.8 L147.5,338.8 L147.8,349.9 L146.7,361.0 L148.2,371.9 M37.9,292.1 L37.7,303.9 L37.6,316.1 L38.1,328.2 L38.6,339.8 L38.5,352.0 L39.7,363.8 L40.0,375.8 M78.4,296.4 L77.8,302.5 L78.4,308.6 L78.0,314.4 L77.4,320.4 L76.6,326.0 L76.9,332.0 L76.9,338.2 M132.4,293.3 L131.0,309.7 L132.1,326.5 L129.8,343.0 L129.3,359.5 L129.3,376.6 L129.2,393.0 L128.8,409.6 M170.7,298.6 L170.0,310.4 L171.2,321.9 L169.6,333.9 L170.4,345.4 L169.7,357.0 L169.8,368.7 L169.5,381.1 M144.1,294.8 L144.2,303.0 L143.4,310.7 L143.9,319.2 L145.3,327.0 L145.5,335.0 L144.9,343.1 L145.6,351.4 M60.9,295.3 L60.0,299.3 L60.5,303.0 L60.2,306.7 L59.1,310.3 L59.4,314.0 L58.5,317.9 L58.4,321.4 M92.9,296.7 L91.6,299.3 L93.0,301.9 L91.0,304.2 L92.1,306.9 L89.7,309.7 L89.8,311.8 L90.2,314.8 M31.2,299.5 L31.8,308.6 L31.8,318.1 L31.5,327.3 L29.9,336.8 L31.1,345.7 L29.6,355.0 L30.3,364.3 M36.1,299.4 L36.5,311.8 L36.6,323.6 L36.6,336.3 L36.8,348.8 L37.8,361.0 L37.2,373.3 L38.3,385.2 M54.6,296.6 L54.9,299.6 L55.3,302.5 L56.0,305.3 L56.9,308.6 L56.3,311.5 L55.7,314.2 L57.2,317.2 M117.3,294.1 L116.9,304.5 L116.4,314.8 L115.8,325.3 L115.8,335.8 L115.3,345.7 L114.7,356.4 L114.6,366.4 M62.3,293.9 L61.5,302.8 L61.3,311.3 L61.2,319.8 L62.7,328.6 L61.7,337.1 L62.1,345.5 L61.5,354.3 M82.9,297.5 L83.2,300.6 L83.5,303.5 L83.7,306.7 L85.2,309.6 L83.7,312.5 L85.8,316.1 L84.8,318.9 M123.1,293.4 L123.3,307.2 L123.3,321.3 L122.4,334.8 L122.7,348.6 L121.6,362.8 L121.8,376.6 L122.1,390.5 M30.4,293.3 L29.8,298.7 L30.3,304.3 L29.7,310.2 L29.3,315.6 L30.3,321.1 L28.6,326.4 L29.4,332.4 M169.8,297.6 L168.7,300.7 L169.8,304.3 L167.8,307.6 L168.9,310.7 L167.5,314.1 L167.9,317.9 L166.8,320.9" fill="none" stroke="#5a5a5a" stroke-width="0.5" opacity="0.28"/>
<path d="M65.3,297.8a0.57,0.57 0 1,0 1.13,0a0.57,0.57 0 1,0 -1.13,0 M150.6,294.2a0.83,0.83 0 1,0 1.66,0a0.83,0.83 0 1,0 -1.66,0 M154.1,296.0a0.74,0.74 0 1,0 1.48,0a0.74,0.74 0 1,0 -1.48,0 M171.9,297.2a0.64,0.64 0 1,0 1.27,0a0.64,0.64 0 1,0 -1.27,0 M89.8,299.8a0.85,0.85 0 1,0 1.70,0a0.85,0.85 0 1,0 -1.70,0 M48.5,297.6a0.82,0.82 0 1,0 1.63,0a0.82,0.82 0 1,0 -1.63,0 M119.4,297.4a0.76,0.76 0 1,0 1.52,0a0.76,0.76 0 1,0 -1.52,0 M120.1,295.9a0.67,0.67 0 1,0 1.35,0a0.67,0.67 0 1,0 -1.35,0 M104.6,298.8a0.72,0.72 0 1,0 1.44,0a0.72,0.72 0 1,0 -1.44,0 M77.8,295.6a0.65,0.65 0 1,0 1.30,0a0.65,0.65 0 1,0 -1.30,0 M21.1,298.9a0.92,0.92 0 1,0 1.85,0a0.92,0.92 0 1,0 -1.85,0 M74.6,296.8a0.50,0.50 0 1,0 1.01,0a0.50,0.50 0 1,0 -1.01,0 M163.6,299.7a0.74,0.74 0 1,0 1.48,0a0.74,0.74 0 1,0 -1.48,0 M22.8,296.6a0.65,0.65 0 1,0 1.29,0a0.65,0.65 0 1,0 -1.29,0" fill="#222" opacity="0.6"/>
<path d="M99.8,339.8L101.1,338.5 M59.6,336.6L58.3,334.5 M67.2,343.0L67.4,341.2 M103.9,350.0L101.7,351.4 M85.3,334.1L85.4,336.7 M27.9,345.6L27.3,344.2 M60.7,332.2L61.0,329.9 M102.4,340.2L100.4,339.6 M107.0,341.8L107.2,339.4 M94.8,334.3L93.6,332.7 M79.1,343.7L78.2,346.6 M25.7,341.6L27.0,339.3 M113.0,338.3L112.8,339.5 M71.9,339.8L70.4,342.0 M109.5,336.1L109.3,337.6 M105.3,332.0L105.4,333.1 M28.3,341.7L31.2,342.1 M35.7,340.7L36.3,339.1 M90.6,337.6L88.7,338.4 M97.9,348.3L97.1,345.6 M118.8,335.6L117.0,334.1 M87.6,342.5L87.8,341.3 M100.6,338.2L98.1,337.5 M42.5,340.4L43.3,339.5 M109.4,341.4L111.5,343.3 M158.9,338.8L156.7,338.0 M76.5,328.0L75.5,327.0 M173.8,337.7L173.7,340.3 M73.3,340.6L74.0,342.2 M159.6,349.4L161.5,349.2 M80.9,348.7L80.4,347.4 M59.4,347.6L59.8,345.0 M145.7,334.8L144.5,334.2 M89.8,343.9L90.4,343.1 M72.3,334.2L71.9,333.2 M145.0,330.2L144.9,327.8 M70.3,332.2L71.9,330.9 M45.3,339.1L46.5,340.2 M86.2,336.6L87.3,336.7 M110.7,336.1L109.7,337.1 M79.9,339.3L82.3,340.4 M70.7,332.4L71.2,333.8 M60.4,345.6L57.8,344.4 M111.9,346.3L111.0,347.0 M104.0,336.8L106.6,337.8 M63.9,342.1L64.6,344.7 M98.0,340.9L96.5,340.2 M155.3,345.0L156.7,345.3 M67.4,338.2L68.4,339.2 M99.0,332.3L97.2,330.9 M69.6,344.6L71.0,347.0 M112.6,342.6L114.0,341.6 M62.0,341.1L63.2,338.4 M80.6,344.6L80.5,346.4 M90.4,330.2L91.7,330.8 M108.8,324.2L108.9,321.3 M58.7,341.1L59.1,344.1 M56.8,334.6L55.2,334.6 M89.8,343.4L89.2,344.2 M127.7,330.1L128.0,328.0 M8.0,333.9L7.4,333.0 M84.9,341.8L86.3,340.2 M107.5,350.8L106.0,349.8 M159.5,333.8L160.0,336.3 M136.3,349.8L137.1,351.8 M147.1,334.2L147.9,331.9 M83.9,337.8L81.5,336.9 M53.9,348.8L56.2,347.4 M120.1,335.6L121.3,337.4 M172.9,339.8L174.0,338.7 M150.5,341.1L149.3,339.5 M101.7,341.1L101.9,342.8 M45.2,341.9L46.7,342.0 M88.6,345.3L87.9,344.4 M87.0,338.1L87.9,337.4 M25.8,338.9L24.9,337.9 M53.3,336.3L54.1,337.4 M47.4,331.9L47.3,330.8 M105.5,333.3L104.5,333.9 M78.1,333.0L79.0,331.6 M91.4,338.2L92.4,335.4 M76.8,340.3L74.3,339.6 M112.0,345.0L111.9,347.7 M110.1,340.4L107.3,341.3 M152.8,330.2L150.4,330.0 M134.9,343.6L133.5,343.4 M71.3,338.0L72.8,338.2 M30.7,340.1L29.1,338.3 M155.2,340.0L155.7,340.9 M115.9,343.7L115.4,345.8 M157.9,342.1L156.1,342.0 M88.1,351.6L89.5,353.9 M184.2,340.6L185.1,341.7 M129.3,342.3L127.9,343.8 M118.7,346.1L121.5,345.3 M131.0,339.7L132.7,340.0 M79.7,341.4L80.7,340.0 M77.1,335.6L75.1,335.9 M121.8,330.6L119.8,332.5 M103.3,337.5L104.8,338.1 M151.8,350.3L152.5,351.3 M53.8,333.1L53.6,331.6 M131.3,335.9L132.7,336.2 M133.5,345.2L132.6,347.8 M75.1,348.5L76.3,348.7 M159.8,351.0L158.4,351.8 M126.6,342.8L124.8,344.5 M107.7,325.7L109.3,324.7 M6.2,344.3L4.0,346.1 M88.2,350.2L87.1,349.3 M103.8,330.1L104.0,328.0 M102.9,343.7L103.6,345.3 M80.8,332.2L83.0,332.2 M89.5,332.9L88.3,334.5 M117.3,342.2L114.9,341.7 M132.8,339.5L135.0,338.2 M170.7,338.2L168.1,337.0 M184.4,337.8L186.1,337.7 M68.3,340.3L69.2,339.7 M95.4,332.7L96.2,330.6 M96.5,330.3L99.2,330.7 M111.1,331.3L113.6,330.5 M56.7,338.2L56.9,340.3 M39.4,338.1L37.9,337.6 M70.1,342.3L69.2,344.0 M47.3,343.2L45.4,342.5 M149.4,348.5L151.8,347.8 M155.3,346.4L153.0,347.3 M128.2,344.0L129.5,343.6 M42.5,333.5L41.9,331.7 M99.2,349.0L97.0,350.4 M94.9,335.7L93.5,334.5 M65.4,345.0L67.3,343.3 M69.0,343.4L68.7,346.2 M41.9,335.2L40.3,333.0 M128.3,348.2L129.7,347.5 M104.6,332.0L105.5,332.9 M118.6,342.2L119.7,343.3 M18.2,342.3L19.2,342.6 M122.5,335.8L124.1,336.8 M84.6,340.4L85.8,341.3 M42.6,336.4L45.0,337.3 M122.2,340.1L122.8,341.0 M137.6,331.3L136.7,332.7 M111.1,338.0L112.2,337.3 M71.7,331.1L72.5,333.2 M105.4,335.0L107.5,334.5 M116.3,337.8L116.8,336.1 M87.6,340.7L89.5,339.8 M93.1,342.4L93.6,343.8 M48.0,337.7L48.7,339.8 M152.5,345.7L154.5,347.8 M34.5,340.0L31.7,341.2 M85.7,347.7L86.5,345.8 M139.0,338.8L137.5,337.3 M39.4,337.9L40.8,337.8 M47.5,332.5L46.5,332.7 M158.2,340.4L156.2,338.5 M66.3,342.0L68.4,342.9 M127.7,339.3L128.2,336.8 M81.2,346.2L81.7,345.3 M83.9,333.5L84.3,335.7 M125.2,339.7L126.0,338.3 M54.8,326.2L54.1,328.4 M39.8,340.1L38.1,341.4 M61.2,348.8L63.3,347.5 M117.5,334.3L117.8,335.9 M70.8,338.0L71.8,340.4 M129.5,335.1L128.0,335.4 M41.8,330.1L43.5,330.8 M28.8,331.7L28.8,334.1 M94.9,340.5L96.7,339.5 M102.8,346.1L101.5,346.5 M92.5,342.0L91.9,344.5 M138.7,335.4L136.7,335.0 M71.5,339.0L69.3,340.1 M26.4,337.3L24.7,335.2 M143.2,325.2L143.8,326.4 M91.7,331.9L92.1,333.9 M198.0,339.4L198.9,341.4 M140.0,342.8L138.0,342.2 M79.2,334.3L80.7,335.0 M128.4,335.4L127.8,334.0 M79.9,345.4L78.9,344.5 M98.1,340.1L99.5,341.5 M109.9,344.8L110.4,343.6 M89.4,333.9L89.3,332.8 M69.9,335.1L71.0,334.7 M36.4,340.8L35.5,340.1 M75.3,340.8L77.0,342.1 M133.2,330.4L134.4,331.4 M126.9,329.6L127.9,331.5 M169.8,337.2L171.0,336.9 M136.0,325.5L137.9,325.1 M72.4,329.6L73.8,329.3 M113.1,351.7L115.2,353.6 M47.7,345.3L49.1,347.5 M133.8,334.2L131.9,333.8 M71.0,344.8L69.8,342.6 M81.6,336.9L79.5,335.3 M110.2,333.5L111.7,335.6 M57.0,337.7L58.9,336.5 M70.2,343.0L69.4,345.0 M108.9,332.2L108.5,334.2 M104.7,348.5L102.1,347.2 M55.3,335.6L56.9,336.7 M24.7,334.9L23.4,332.3 M117.7,340.3L116.7,342.7 M63.2,344.2L63.8,345.2 M135.6,326.6L133.7,327.9 M123.2,339.0L122.0,337.3 M56.1,344.4L55.3,342.2 M76.7,346.7L75.3,347.6 M141.8,336.6L140.2,336.8 M103.8,339.4L102.0,339.6 M123.9,342.9L125.4,341.4 M161.9,342.3L161.2,343.9 M154.1,329.0L153.9,326.6 M69.8,342.5L71.2,341.3 M38.9,336.3L40.3,336.1 M26.7,348.8L26.0,349.9 M162.6,338.8L161.9,338.0 M167.0,340.0L168.8,339.9 M117.1,338.8L118.2,340.3 M26.9,342.1L28.4,343.3 M120.9,346.0L122.7,346.6 M82.4,342.3L84.1,343.6 M117.1,335.1L118.9,335.1 M60.2,337.2L58.0,337.5 M93.4,335.9L95.7,335.7 M142.5,347.2L139.6,347.5 M107.8,331.8L105.3,330.5 M140.1,342.9L140.3,345.8 M152.5,343.3L152.0,344.9 M136.2,340.9L135.8,342.8 M51.4,338.4L51.6,340.3 M173.1,336.1L173.4,335.1 M161.9,334.0L162.2,336.1 M143.9,341.8L143.3,340.8 M176.6,338.3L177.7,339.4 M143.1,342.8L142.2,344.1 M122.5,342.9L121.8,343.7 M119.4,341.6L120.5,342.3 M26.1,342.9L26.3,340.5 M23.2,340.1L22.1,341.4 M119.8,340.8L118.6,341.4 M103.2,334.2L105.3,333.4 M116.1,349.3L117.4,347.4 M99.9,335.8L99.0,334.2 M76.8,349.2L76.8,351.3 M50.7,346.0L52.0,345.8 M103.7,338.3L102.0,339.1 M94.2,337.3L92.2,338.4 M142.8,337.1L140.4,338.5 M82.1,343.4L80.2,342.1 M42.3,346.1L42.3,348.5 M75.4,336.7L76.6,334.7 M122.1,346.4L123.3,348.8 M118.5,339.2L117.0,338.1 M105.8,344.2L105.5,343.2 M183.5,347.4L185.0,349.6 M157.0,336.2L157.3,337.4 M113.1,336.3L114.7,338.6 M151.4,332.9L151.4,331.0 M155.2,335.4L153.8,336.1 M16.6,345.2L16.4,346.9 M108.0,341.2L107.7,342.9 M91.8,341.0L90.3,341.4 M53.1,341.8L51.1,342.7 M120.8,345.8L119.2,343.8 M111.3,348.2L109.2,349.4 M112.4,340.5L113.8,341.2 M13.7,343.6L12.3,341.8 M156.7,335.1L156.9,332.7 M145.2,334.2L148.1,334.5 M53.7,339.4L52.3,341.5 M110.9,331.1L108.0,331.0 M119.4,332.2L122.1,333.4 M58.4,346.6L60.3,345.3 M117.2,338.3L120.0,338.9 M140.6,342.5L140.3,344.8 M104.6,340.6L105.6,339.7 M68.9,325.9L70.1,327.2 M151.1,343.7L151.2,345.0 M123.0,348.7L124.6,349.8 M148.2,342.1L149.0,340.2 M122.7,332.9L121.6,332.9 M169.6,342.9L168.4,342.6 M121.4,330.0L123.7,329.4 M116.2,336.4L118.7,337.7 M122.1,339.8L123.2,341.4 M110.6,338.0L110.9,339.2 M105.6,340.8L106.5,338.4 M74.1,340.1L76.3,341.5 M138.4,343.7L138.0,345.1 M114.3,332.5L113.1,335.3 M82.8,333.8L80.7,334.1 M151.9,348.4L151.2,350.8 M67.1,335.8L66.2,334.9 M42.6,344.1L44.3,344.7 M110.2,338.2L108.0,336.6 M43.0,331.7L41.0,331.5 M126.0,339.2L124.0,337.9 M132.7,334.6L131.8,337.0 M88.9,334.9L90.2,336.4 M13.7,347.0L14.5,347.7 M120.6,345.9L118.4,346.6 M107.2,333.1L105.7,333.1 M137.9,344.4L136.5,343.4 M102.9,330.9L102.4,328.4 M80.7,334.6L79.8,332.2 M73.0,339.6L73.5,340.6 M77.8,334.8L79.3,334.1 M123.6,328.7L121.2,328.0 M122.8,337.2L122.4,339.1 M166.7,348.2L167.0,350.3 M86.2,342.8L86.9,344.3 M106.1,333.3L104.0,331.9 M127.5,334.4L127.1,332.5 M10.0,340.3L8.3,338.1 M58.7,340.8L57.1,339.0 M105.8,342.2L106.2,343.3 M153.6,348.6L154.9,348.3 M49.9,350.3L52.0,351.8 M61.3,332.2L59.9,329.6 M110.3,336.8L109.1,338.4 M156.2,338.8L155.4,340.1 M90.5,328.5L90.5,326.8 M20.3,332.4L21.4,333.1 M95.4,338.7L94.3,338.8 M27.6,341.0L25.5,340.6 M23.7,340.5L22.8,342.2 M102.4,347.3L100.0,347.1 M120.8,337.9L121.5,335.7 M140.2,343.0L141.0,340.7 M143.5,330.6L141.6,330.3 M111.1,325.9L113.2,324.4 M66.5,344.3L68.3,346.3 M180.6,344.9L181.1,344.0 M69.0,341.3L67.0,342.0 M119.9,328.0L117.5,326.7 M97.9,336.8L95.7,337.6 M115.0,337.0L116.4,335.3 M81.6,342.0L82.7,342.4 M91.9,334.7L90.4,334.9 M136.0,343.9L133.9,344.7 M127.5,337.9L127.5,339.3 M79.0,343.1L79.6,344.5 M135.3,341.3L137.4,341.1 M147.3,346.1L148.2,348.0 M83.6,347.7L82.7,350.5 M181.5,344.5L182.6,344.2 M127.4,335.8L126.2,336.1 M88.5,348.9L91.3,348.8 M39.9,337.8L40.6,335.0 M77.3,338.1L78.4,336.6 M77.5,334.7L74.9,333.7 M72.2,333.7L73.5,331.8 M72.8,346.7L73.7,349.3 M65.1,340.9L63.3,339.0 M114.8,343.4L117.7,343.2 M100.8,337.0L102.0,335.5 M147.7,351.8L148.1,353.3 M179.5,336.9L180.3,339.1 M117.1,342.9L115.5,342.5 M122.4,342.6L121.5,340.7 M135.5,340.2L136.5,338.8 M74.6,338.0L75.5,335.3 M57.8,343.3L56.7,341.8 M97.5,339.5L97.7,342.5 M66.6,347.9L68.2,347.6 M77.7,337.4L80.3,338.5 M38.3,342.5L38.7,345.3 M133.7,345.3L134.4,343.6 M124.2,333.1L123.3,332.4 M63.6,332.3L63.1,329.5 M97.6,340.4L99.4,340.8 M90.6,336.6L92.0,336.7 M75.2,347.1L72.6,348.1 M83.7,341.8L82.7,343.2 M74.9,342.8L76.6,340.4 M112.0,337.0L112.3,338.9 M176.0,338.5L176.6,335.9 M143.2,337.7L142.1,338.5 M83.8,337.6L83.3,335.7 M99.9,336.2L102.3,334.7 M52.6,343.2L53.2,345.7 M117.0,342.2L118.6,340.7 M176.1,342.2L175.3,343.6 M54.9,336.4L53.9,336.2 M123.5,332.7L125.1,334.9 M56.2,342.8L56.8,344.1 M124.3,342.6L123.2,342.6 M97.6,330.4L100.1,331.5 M65.6,333.7L66.0,334.8 M43.6,338.3L42.9,339.4 M134.1,341.1L133.2,341.9 M116.8,343.4L119.3,342.1 M77.4,343.2L80.2,343.8 M26.8,338.0L26.3,336.9 M100.1,330.9L98.2,332.8 M84.9,334.0L85.8,336.1 M145.4,343.8L145.0,344.8 M58.3,338.3L60.0,338.1 M116.0,337.4L115.2,336.2 M133.5,351.8L135.5,353.6 M47.4,337.7L49.8,338.5 M134.9,343.7L132.6,342.5 M142.4,335.6L143.0,334.0 M135.8,326.5L137.8,328.0 M62.6,347.6L60.0,347.1 M113.7,351.6L112.8,350.5 M115.1,341.4L113.0,340.3 M102.8,336.4L102.4,338.9 M118.8,339.8L118.3,341.8 M119.2,340.2L119.2,339.1 M63.9,329.5L63.3,332.3 M124.5,352.4L123.9,350.9 M168.5,345.8L165.8,346.8 M84.7,342.1L87.1,342.2" fill="none" stroke="#4a4a4a" stroke-width="0.6" opacity="0.45"/>
<path d="M102.0,417.0L100.3,415.7 M128.9,392.2L128.3,390.8 M142.3,376.6L141.1,376.8 M110.5,414.1L111.0,415.8 M60.4,379.5L59.1,379.9 M73.7,406.5L73.4,405.0 M113.9,397.8L112.2,395.9 M83.9,366.5L82.3,366.1 M125.2,401.9L126.5,402.8 M144.8,387.8L146.3,388.3 M116.1,380.8L113.7,379.7 M35.7,395.6L34.4,392.9 M79.1,391.5L81.3,390.6 M119.6,396.7L121.4,395.4 M177.1,418.2L176.0,418.3 M137.5,388.2L139.9,389.9 M157.5,417.6L157.7,419.1 M86.4,365.3L86.8,362.7 M72.5,375.1L74.7,374.8 M58.7,404.0L59.2,401.5 M124.4,400.5L126.6,400.5 M112.1,397.9L111.1,397.5 M51.7,411.3L50.4,409.4 M113.2,395.5L113.2,398.1 M106.8,378.0L107.8,379.7 M96.3,409.3L95.0,410.9 M109.5,389.5L112.1,388.3 M71.6,402.6L73.0,401.3 M152.4,396.2L151.4,397.5 M85.7,368.6L84.1,366.8 M78.8,391.8L79.8,393.8 M77.3,367.1L79.9,366.6 M56.8,390.2L59.7,390.1 M69.7,378.5L68.1,378.7 M111.9,392.1L111.1,393.5 M98.7,386.3L97.4,387.4 M131.3,401.6L132.4,400.2 M82.2,378.2L83.5,380.0 M112.5,387.1L113.0,385.5 M136.8,393.2L139.4,392.5 M15.8,373.1L16.0,370.8 M68.7,404.8L71.1,406.0 M150.9,408.6L151.9,406.9 M102.8,372.9L104.1,374.0 M53.2,400.2L51.8,402.3 M127.6,370.1L127.8,369.0 M142.4,390.5L142.0,388.1 M168.0,412.1L166.6,411.1 M169.0,405.7L170.4,405.5 M116.7,363.1L117.5,360.7 M50.8,401.2L50.2,399.5 M66.1,375.5L66.0,376.8 M165.2,394.6L163.8,396.3 M96.9,368.6L95.0,369.4 M44.3,368.4L46.3,367.6 M63.0,373.6L63.8,372.6 M137.1,415.7L137.7,413.9 M65.7,425.2L64.4,424.7 M31.5,410.5L32.5,411.7 M64.2,378.9L63.2,378.0 M101.4,428.5L103.5,428.0 M42.6,402.3L41.3,402.0 M120.8,402.7L120.0,404.9 M136.6,426.0L134.7,426.4 M183.0,395.9L181.0,394.8 M160.7,359.2L162.1,358.2 M89.0,383.7L86.7,384.6 M112.4,398.5L112.7,401.4 M19.9,385.8L17.2,386.7 M98.2,432.6L98.1,431.3 M112.5,374.2L114.0,375.1 M98.9,376.3L100.0,375.7 M68.9,396.7L70.6,397.7 M81.1,410.2L82.3,412.9 M172.0,358.7L173.6,356.8 M103.0,387.3L100.8,387.7 M133.3,366.3L131.1,367.1 M106.8,376.6L108.3,377.2 M138.3,386.1L137.8,387.3 M155.6,361.7L157.8,359.9 M98.6,399.7L97.9,401.0 M121.3,431.7L119.3,432.9 M152.0,367.6L152.9,367.0 M152.2,363.3L150.4,364.0 M29.4,411.0L30.0,413.6 M133.1,357.3L133.8,359.2 M64.7,412.8L63.7,415.1 M89.6,392.4L87.4,391.6 M47.7,365.2L46.5,363.8 M73.6,378.5L72.5,377.8 M134.3,361.3L132.9,363.3 M109.1,374.1L111.5,373.7 M94.8,421.4L93.6,423.7 M113.2,410.6L112.0,408.1 M182.4,376.9L181.9,374.0 M153.6,377.6L155.6,379.6 M127.1,388.8L127.6,390.1 M62.5,403.3L62.6,402.2 M149.4,412.4L152.0,411.3 M38.1,399.6L36.3,397.9 M130.1,428.1L129.8,429.6 M76.7,391.4L75.4,393.1 M133.9,390.5L134.7,392.2 M79.1,397.1L79.5,395.6 M30.5,361.6L32.2,359.9 M93.3,391.7L92.2,390.5 M76.5,362.5L77.0,364.8 M96.3,375.7L95.4,375.0 M83.7,403.7L81.2,405.3 M41.5,371.8L40.1,371.3 M72.8,379.4L74.2,378.3 M152.7,385.9L154.0,386.6 M0.9,389.9L-0.0,390.8 M77.7,413.4L76.9,412.5 M120.6,393.9L118.8,395.8 M97.9,345.3L98.4,342.6 M44.5,368.9L44.6,367.3 M128.2,380.1L125.6,380.2 M147.7,422.9L149.1,425.0 M122.0,394.7L121.9,393.7 M94.9,422.2L97.7,421.1 M110.2,388.5L111.7,386.6 M49.8,393.2L48.2,395.4 M112.7,397.2L111.7,398.2 M124.1,411.8L124.5,409.0 M50.8,377.4L48.8,377.8 M59.3,382.1L57.0,380.9 M59.7,353.5L57.4,353.2 M81.2,372.8L83.6,374.4 M112.0,381.1L109.7,379.8 M74.0,372.5L71.9,373.1 M67.9,419.9L68.2,422.8 M72.6,385.2L70.4,384.5 M92.8,397.1L90.2,395.8 M67.6,404.7L66.3,402.0 M111.4,384.5L110.6,385.6 M105.6,374.9L105.6,377.2 M135.2,407.0L137.5,405.9 M75.3,419.3L73.7,417.5 M124.4,370.1L127.1,370.0 M45.0,394.8L47.2,393.6 M121.2,365.4L122.9,364.7 M136.9,395.6L138.3,395.3 M89.6,380.3L91.8,380.2 M64.3,388.4L66.9,387.4 M75.3,392.6L73.3,390.6 M127.4,370.6L127.7,369.5 M110.7,393.8L109.2,392.7 M151.1,407.5L152.5,408.1 M98.7,399.3L99.9,399.3 M85.1,380.3L84.3,378.7 M174.7,411.5L175.3,409.4 M38.3,399.3L39.4,400.4 M183.6,382.6L183.1,381.3 M98.1,363.8L97.3,364.7 M94.7,390.5L93.7,389.6 M34.5,395.4L32.5,397.5 M59.7,377.2L61.9,379.2 M58.3,414.0L59.0,415.6 M92.0,400.8L90.8,400.7 M117.7,380.4L119.0,382.2 M44.2,402.0L43.9,403.4 M84.3,412.2L85.3,412.0 M111.5,400.9L112.4,403.7 M16.1,398.1L17.3,398.8 M26.0,375.0L25.1,374.7 M53.2,367.9L50.6,368.3 M94.5,364.2L96.0,364.7 M50.2,392.8L52.1,394.0 M65.2,357.8L67.6,357.6 M55.3,387.3L55.8,386.3 M133.8,378.0L135.8,377.7 M135.7,384.1L136.0,385.1 M92.6,403.7L93.4,402.5 M116.9,434.0L118.0,432.1 M133.4,366.5L132.3,365.4 M131.0,365.1L131.2,367.7 M124.5,354.3L125.6,355.4 M98.9,361.3L97.9,360.3 M83.7,385.3L86.3,383.8 M89.5,403.9L88.5,403.6 M128.5,378.2L127.1,376.0 M107.8,387.9L106.0,387.1 M83.2,384.2L83.0,382.7 M77.7,406.8L75.1,406.0 M96.5,402.4L97.3,404.3 M66.9,363.6L65.2,364.4 M20.4,401.2L19.4,400.4 M42.1,368.6L39.6,369.5 M118.6,393.5L120.5,395.5 M120.3,384.8L120.8,383.0 M30.1,389.8L28.2,388.5 M87.4,400.4L86.4,401.9 M36.3,408.3L36.2,405.7 M71.8,410.9L70.3,410.0 M100.4,372.1L101.1,373.2 M100.2,370.1L99.8,367.5 M61.8,401.6L64.4,400.9 M110.4,372.8L109.1,372.5 M176.2,393.3L175.1,393.7" fill="none" stroke="#666" stroke-width="0.5" opacity="0.4"/></g>
 </g>
 <path d="M19,261 H180 V266.6 L140,266.2 L110,266.8 L99,266.4 L85,265.6 L72,265.2 L62,264.9 L50,265.2 L44,268 L30,268.4 L19,267.9 Z" fill="#e9e9e9"/>
 <path d="M19,267.9 L30,268.4 L44,268 L50,265.2 L62,264.9 L72,265.2 L85,265.6 L99,266.4 L110,266.8 L140,266.2 L180,266.6" fill="none" stroke="#555" stroke-width="0.8"/>
</g>
<rect x="19" y="261" width="160.4" height="173.7" fill="none" stroke="#444" stroke-width="1"/>
<!-- IPSI dnTCF4 -->
<g clip-path="url(#ci3)">
 <g filter="url(#tex1)">
  <rect x="19" y="437" width="161" height="175" fill="url(#gI2)"/>
  <ellipse cx="172" cy="556" rx="7" ry="10" fill="#ececec" filter="url(#gb2)"/>
  <g filter="url(#soft)"><path d="M68.6,472.6a1.01,1.01 0 1,0 2.03,0a1.01,1.01 0 1,0 -2.03,0 M27.6,468.2a1.66,1.66 0 1,0 3.32,0a1.66,1.66 0 1,0 -3.32,0 M120.9,471.1a0.88,0.88 0 1,0 1.75,0a0.88,0.88 0 1,0 -1.75,0 M118.5,467.3a1.66,1.66 0 1,0 3.32,0a1.66,1.66 0 1,0 -3.32,0 M101.0,458.9a1.32,1.32 0 1,0 2.65,0a1.32,1.32 0 1,0 -2.65,0 M126.9,464.1a1.20,1.20 0 1,0 2.39,0a1.20,1.20 0 1,0 -2.39,0 M137.1,471.2a0.81,0.81 0 1,0 1.62,0a0.81,0.81 0 1,0 -1.62,0 M62.1,463.6a2.00,2.00 0 1,0 3.99,0a2.00,2.00 0 1,0 -3.99,0 M130.1,461.9a1.07,1.07 0 1,0 2.13,0a1.07,1.07 0 1,0 -2.13,0 M104.6,468.8a1.65,1.65 0 1,0 3.30,0a1.65,1.65 0 1,0 -3.30,0 M128.9,470.8a1.82,1.82 0 1,0 3.63,0a1.82,1.82 0 1,0 -3.63,0 M82.8,456.9a1.19,1.19 0 1,0 2.38,0a1.19,1.19 0 1,0 -2.38,0 M23.6,459.7a1.74,1.74 0 1,0 3.49,0a1.74,1.74 0 1,0 -3.49,0 M135.4,455.5a2.09,2.09 0 1,0 4.18,0a2.09,2.09 0 1,0 -4.18,0 M63.2,454.9a1.52,1.52 0 1,0 3.03,0a1.52,1.52 0 1,0 -3.03,0 M101.6,468.1a1.01,1.01 0 1,0 2.02,0a1.01,1.01 0 1,0 -2.02,0 M22.3,468.9a1.57,1.57 0 1,0 3.14,0a1.57,1.57 0 1,0 -3.14,0 M56.2,468.5a1.74,1.74 0 1,0 3.49,0a1.74,1.74 0 1,0 -3.49,0 M176.0,455.2a0.88,0.88 0 1,0 1.76,0a0.88,0.88 0 1,0 -1.76,0 M77.7,465.5a1.26,1.26 0 1,0 2.52,0a1.26,1.26 0 1,0 -2.52,0 M26.1,466.0a0.96,0.96 0 1,0 1.92,0a0.96,0.96 0 1,0 -1.92,0 M65.6,467.7a1.39,1.39 0 1,0 2.78,0a1.39,1.39 0 1,0 -2.78,0 M174.2,469.1a2.09,2.09 0 1,0 4.17,0a2.09,2.09 0 1,0 -4.17,0 M108.1,470.9a1.62,1.62 0 1,0 3.23,0a1.62,1.62 0 1,0 -3.23,0 M103.3,464.9a1.26,1.26 0 1,0 2.51,0a1.26,1.26 0 1,0 -2.51,0 M63.1,468.7a1.73,1.73 0 1,0 3.46,0a1.73,1.73 0 1,0 -3.46,0 M125.2,467.3a1.48,1.48 0 1,0 2.95,0a1.48,1.48 0 1,0 -2.95,0 M57.4,459.6a1.56,1.56 0 1,0 3.11,0a1.56,1.56 0 1,0 -3.11,0 M149.8,460.2a0.93,0.93 0 1,0 1.85,0a0.93,0.93 0 1,0 -1.85,0 M132.1,469.6a0.91,0.91 0 1,0 1.81,0a0.91,0.91 0 1,0 -1.81,0 M27.9,470.8a1.42,1.42 0 1,0 2.84,0a1.42,1.42 0 1,0 -2.84,0 M89.1,460.4a1.48,1.48 0 1,0 2.97,0a1.48,1.48 0 1,0 -2.97,0 M112.0,463.4a1.31,1.31 0 1,0 2.63,0a1.31,1.31 0 1,0 -2.63,0 M60.1,463.0a1.35,1.35 0 1,0 2.70,0a1.35,1.35 0 1,0 -2.70,0 M88.2,471.6a1.44,1.44 0 1,0 2.87,0a1.44,1.44 0 1,0 -2.87,0 M173.7,469.5a0.99,0.99 0 1,0 1.98,0a0.99,0.99 0 1,0 -1.98,0 M38.7,467.2a0.97,0.97 0 1,0 1.94,0a0.97,0.97 0 1,0 -1.94,0 M130.9,470.3a0.95,0.95 0 1,0 1.91,0a0.95,0.95 0 1,0 -1.91,0 M51.6,462.5a1.77,1.77 0 1,0 3.54,0a1.77,1.77 0 1,0 -3.54,0 M168.0,460.4a2.04,2.04 0 1,0 4.07,0a2.04,2.04 0 1,0 -4.07,0 M114.5,461.2a0.96,0.96 0 1,0 1.91,0a0.96,0.96 0 1,0 -1.91,0 M109.7,453.8a1.00,1.00 0 1,0 2.00,0a1.00,1.00 0 1,0 -2.00,0 M77.5,472.8a1.19,1.19 0 1,0 2.39,0a1.19,1.19 0 1,0 -2.39,0 M96.0,468.8a0.98,0.98 0 1,0 1.97,0a0.98,0.98 0 1,0 -1.97,0 M111.5,454.0a1.96,1.96 0 1,0 3.93,0a1.96,1.96 0 1,0 -3.93,0 M159.4,457.3a1.86,1.86 0 1,0 3.73,0a1.86,1.86 0 1,0 -3.73,0 M96.2,455.4a1.25,1.25 0 1,0 2.51,0a1.25,1.25 0 1,0 -2.51,0 M156.8,461.4a1.54,1.54 0 1,0 3.09,0a1.54,1.54 0 1,0 -3.09,0 M107.9,471.0a1.82,1.82 0 1,0 3.63,0a1.82,1.82 0 1,0 -3.63,0 M93.7,467.4a1.59,1.59 0 1,0 3.17,0a1.59,1.59 0 1,0 -3.17,0 M139.6,463.1a1.40,1.40 0 1,0 2.80,0a1.40,1.40 0 1,0 -2.80,0 M89.3,462.0a1.93,1.93 0 1,0 3.85,0a1.93,1.93 0 1,0 -3.85,0 M69.6,469.0a1.66,1.66 0 1,0 3.33,0a1.66,1.66 0 1,0 -3.33,0 M83.5,457.7a1.31,1.31 0 1,0 2.63,0a1.31,1.31 0 1,0 -2.63,0 M103.8,472.2a1.96,1.96 0 1,0 3.91,0a1.96,1.96 0 1,0 -3.91,0 M134.9,465.9a1.93,1.93 0 1,0 3.85,0a1.93,1.93 0 1,0 -3.85,0 M130.4,464.4a1.84,1.84 0 1,0 3.67,0a1.84,1.84 0 1,0 -3.67,0 M131.3,464.2a0.96,0.96 0 1,0 1.92,0a0.96,0.96 0 1,0 -1.92,0 M107.1,456.8a1.60,1.60 0 1,0 3.21,0a1.60,1.60 0 1,0 -3.21,0 M109.9,454.1a1.54,1.54 0 1,0 3.08,0a1.54,1.54 0 1,0 -3.08,0 M47.7,462.5a1.97,1.97 0 1,0 3.93,0a1.97,1.97 0 1,0 -3.93,0 M37.6,471.7a1.03,1.03 0 1,0 2.07,0a1.03,1.03 0 1,0 -2.07,0 M21.3,468.7a1.12,1.12 0 1,0 2.24,0a1.12,1.12 0 1,0 -2.24,0 M130.6,470.8a1.38,1.38 0 1,0 2.75,0a1.38,1.38 0 1,0 -2.75,0 M146.9,465.1a1.32,1.32 0 1,0 2.64,0a1.32,1.32 0 1,0 -2.64,0 M25.7,470.2a0.83,0.83 0 1,0 1.66,0a0.83,0.83 0 1,0 -1.66,0 M87.2,461.3a1.92,1.92 0 1,0 3.84,0a1.92,1.92 0 1,0 -3.84,0 M69.1,458.1a0.95,0.95 0 1,0 1.90,0a0.95,0.95 0 1,0 -1.90,0 M34.3,456.4a0.99,0.99 0 1,0 1.97,0a0.99,0.99 0 1,0 -1.97,0 M59.0,454.8a1.20,1.20 0 1,0 2.40,0a1.20,1.20 0 1,0 -2.40,0 M82.8,456.4a1.60,1.60 0 1,0 3.20,0a1.60,1.60 0 1,0 -3.20,0 M70.4,453.5a0.88,0.88 0 1,0 1.75,0a0.88,0.88 0 1,0 -1.75,0 M80.3,459.4a1.34,1.34 0 1,0 2.67,0a1.34,1.34 0 1,0 -2.67,0 M69.3,460.5a1.88,1.88 0 1,0 3.75,0a1.88,1.88 0 1,0 -3.75,0 M36.9,457.1a1.78,1.78 0 1,0 3.56,0a1.78,1.78 0 1,0 -3.56,0 M111.2,462.9a1.78,1.78 0 1,0 3.56,0a1.78,1.78 0 1,0 -3.56,0 M80.0,455.3a0.88,0.88 0 1,0 1.76,0a0.88,0.88 0 1,0 -1.76,0 M92.2,461.1a1.43,1.43 0 1,0 2.86,0a1.43,1.43 0 1,0 -2.86,0 M82.5,457.7a1.95,1.95 0 1,0 3.90,0a1.95,1.95 0 1,0 -3.90,0 M60.7,472.3a1.68,1.68 0 1,0 3.36,0a1.68,1.68 0 1,0 -3.36,0 M56.9,464.1a1.82,1.82 0 1,0 3.64,0a1.82,1.82 0 1,0 -3.64,0 M67.1,461.1a0.91,0.91 0 1,0 1.82,0a0.91,0.91 0 1,0 -1.82,0 M118.8,457.1a2.06,2.06 0 1,0 4.12,0a2.06,2.06 0 1,0 -4.12,0 M77.2,472.7a1.82,1.82 0 1,0 3.63,0a1.82,1.82 0 1,0 -3.63,0 M103.2,461.5a1.98,1.98 0 1,0 3.97,0a1.98,1.98 0 1,0 -3.97,0 M90.1,453.0a1.40,1.40 0 1,0 2.81,0a1.40,1.40 0 1,0 -2.81,0 M149.7,458.8a2.06,2.06 0 1,0 4.13,0a2.06,2.06 0 1,0 -4.13,0 M18.1,471.7a1.43,1.43 0 1,0 2.85,0a1.43,1.43 0 1,0 -2.85,0 M113.5,469.8a1.29,1.29 0 1,0 2.59,0a1.29,1.29 0 1,0 -2.59,0 M73.9,465.6a1.56,1.56 0 1,0 3.12,0a1.56,1.56 0 1,0 -3.12,0 M99.1,453.9a1.76,1.76 0 1,0 3.52,0a1.76,1.76 0 1,0 -3.52,0 M108.0,459.0a1.31,1.31 0 1,0 2.63,0a1.31,1.31 0 1,0 -2.63,0 M37.5,455.8a1.52,1.52 0 1,0 3.05,0a1.52,1.52 0 1,0 -3.05,0 M62.4,461.6a1.59,1.59 0 1,0 3.19,0a1.59,1.59 0 1,0 -3.19,0 M170.5,459.4a1.69,1.69 0 1,0 3.37,0a1.69,1.69 0 1,0 -3.37,0 M72.3,458.2a1.78,1.78 0 1,0 3.56,0a1.78,1.78 0 1,0 -3.56,0 M89.6,457.9a2.08,2.08 0 1,0 4.16,0a2.08,2.08 0 1,0 -4.16,0 M72.3,462.2a1.58,1.58 0 1,0 3.16,0a1.58,1.58 0 1,0 -3.16,0 M20.3,466.8a1.64,1.64 0 1,0 3.28,0a1.64,1.64 0 1,0 -3.28,0 M17.8,462.5a1.97,1.97 0 1,0 3.94,0a1.97,1.97 0 1,0 -3.94,0 M124.8,461.3a1.96,1.96 0 1,0 3.93,0a1.96,1.96 0 1,0 -3.93,0 M130.1,468.2a1.50,1.50 0 1,0 3.00,0a1.50,1.50 0 1,0 -3.00,0 M144.2,466.0a0.90,0.90 0 1,0 1.80,0a0.90,0.90 0 1,0 -1.80,0 M22.7,469.6a1.67,1.67 0 1,0 3.35,0a1.67,1.67 0 1,0 -3.35,0 M124.8,460.1a1.86,1.86 0 1,0 3.71,0a1.86,1.86 0 1,0 -3.71,0 M150.4,460.2a1.03,1.03 0 1,0 2.06,0a1.03,1.03 0 1,0 -2.06,0 M141.2,466.9a0.81,0.81 0 1,0 1.62,0a0.81,0.81 0 1,0 -1.62,0 M91.9,471.7a1.38,1.38 0 1,0 2.76,0a1.38,1.38 0 1,0 -2.76,0 M53.6,453.4a1.17,1.17 0 1,0 2.33,0a1.17,1.17 0 1,0 -2.33,0 M165.5,460.2a0.92,0.92 0 1,0 1.83,0a0.92,0.92 0 1,0 -1.83,0 M115.6,459.1a1.73,1.73 0 1,0 3.47,0a1.73,1.73 0 1,0 -3.47,0 M55.5,462.9a1.27,1.27 0 1,0 2.54,0a1.27,1.27 0 1,0 -2.54,0 M62.5,471.1a1.72,1.72 0 1,0 3.44,0a1.72,1.72 0 1,0 -3.44,0 M50.9,456.9a1.87,1.87 0 1,0 3.73,0a1.87,1.87 0 1,0 -3.73,0 M81.1,470.4a1.54,1.54 0 1,0 3.08,0a1.54,1.54 0 1,0 -3.08,0 M96.6,464.0a1.66,1.66 0 1,0 3.32,0a1.66,1.66 0 1,0 -3.32,0 M108.2,466.6a1.53,1.53 0 1,0 3.07,0a1.53,1.53 0 1,0 -3.07,0 M28.9,455.6a0.88,0.88 0 1,0 1.77,0a0.88,0.88 0 1,0 -1.77,0 M59.7,464.4a1.10,1.10 0 1,0 2.19,0a1.10,1.10 0 1,0 -2.19,0 M101.8,468.6a1.05,1.05 0 1,0 2.10,0a1.05,1.05 0 1,0 -2.10,0 M125.9,472.8a1.70,1.70 0 1,0 3.40,0a1.70,1.70 0 1,0 -3.40,0 M102.9,458.1a1.53,1.53 0 1,0 3.06,0a1.53,1.53 0 1,0 -3.06,0 M90.2,471.8a1.63,1.63 0 1,0 3.27,0a1.63,1.63 0 1,0 -3.27,0 M167.9,454.0a2.02,2.02 0 1,0 4.04,0a2.02,2.02 0 1,0 -4.04,0 M87.3,472.9a1.16,1.16 0 1,0 2.31,0a1.16,1.16 0 1,0 -2.31,0 M126.7,462.3a1.27,1.27 0 1,0 2.54,0a1.27,1.27 0 1,0 -2.54,0 M139.4,470.7a1.09,1.09 0 1,0 2.18,0a1.09,1.09 0 1,0 -2.18,0 M62.4,461.4a1.38,1.38 0 1,0 2.77,0a1.38,1.38 0 1,0 -2.77,0 M19.3,456.9a0.91,0.91 0 1,0 1.81,0a0.91,0.91 0 1,0 -1.81,0 M108.9,453.5a1.76,1.76 0 1,0 3.52,0a1.76,1.76 0 1,0 -3.52,0 M174.6,461.5a0.90,0.90 0 1,0 1.79,0a0.90,0.90 0 1,0 -1.79,0 M58.1,456.3a1.20,1.20 0 1,0 2.41,0a1.20,1.20 0 1,0 -2.41,0 M117.9,454.9a1.42,1.42 0 1,0 2.85,0a1.42,1.42 0 1,0 -2.85,0 M146.8,464.9a1.61,1.61 0 1,0 3.23,0a1.61,1.61 0 1,0 -3.23,0 M71.8,458.0a0.94,0.94 0 1,0 1.88,0a0.94,0.94 0 1,0 -1.88,0 M56.6,459.8a0.87,0.87 0 1,0 1.74,0a0.87,0.87 0 1,0 -1.74,0 M70.6,468.9a2.03,2.03 0 1,0 4.05,0a2.03,2.03 0 1,0 -4.05,0 M141.4,465.4a1.79,1.79 0 1,0 3.59,0a1.79,1.79 0 1,0 -3.59,0 M118.3,464.6a0.91,0.91 0 1,0 1.82,0a0.91,0.91 0 1,0 -1.82,0 M27.9,453.7a1.21,1.21 0 1,0 2.41,0a1.21,1.21 0 1,0 -2.41,0 M153.7,454.3a0.97,0.97 0 1,0 1.93,0a0.97,0.97 0 1,0 -1.93,0 M164.9,461.8a1.19,1.19 0 1,0 2.38,0a1.19,1.19 0 1,0 -2.38,0 M117.7,454.3a1.68,1.68 0 1,0 3.36,0a1.68,1.68 0 1,0 -3.36,0 M107.4,458.9a1.30,1.30 0 1,0 2.59,0a1.30,1.30 0 1,0 -2.59,0 M33.6,468.0a1.10,1.10 0 1,0 2.21,0a1.10,1.10 0 1,0 -2.21,0 M114.3,466.2a0.81,0.81 0 1,0 1.63,0a0.81,0.81 0 1,0 -1.63,0 M78.7,468.9a1.94,1.94 0 1,0 3.89,0a1.94,1.94 0 1,0 -3.89,0 M116.2,459.8a2.02,2.02 0 1,0 4.04,0a2.02,2.02 0 1,0 -4.04,0 M143.1,462.1a1.23,1.23 0 1,0 2.45,0a1.23,1.23 0 1,0 -2.45,0 M48.5,455.1a1.57,1.57 0 1,0 3.15,0a1.57,1.57 0 1,0 -3.15,0 M29.1,468.8a1.05,1.05 0 1,0 2.10,0a1.05,1.05 0 1,0 -2.10,0 M109.8,465.7a1.13,1.13 0 1,0 2.27,0a1.13,1.13 0 1,0 -2.27,0 M85.2,467.5a1.38,1.38 0 1,0 2.76,0a1.38,1.38 0 1,0 -2.76,0 M57.3,468.9a0.88,0.88 0 1,0 1.76,0a0.88,0.88 0 1,0 -1.76,0 M67.1,461.7a2.05,2.05 0 1,0 4.10,0a2.05,2.05 0 1,0 -4.10,0 M137.8,459.2a1.95,1.95 0 1,0 3.90,0a1.95,1.95 0 1,0 -3.90,0 M142.0,455.9a1.20,1.20 0 1,0 2.40,0a1.20,1.20 0 1,0 -2.40,0 M73.3,460.4a0.81,0.81 0 1,0 1.62,0a0.81,0.81 0 1,0 -1.62,0 M112.1,466.6a0.87,0.87 0 1,0 1.75,0a0.87,0.87 0 1,0 -1.75,0 M98.4,469.7a1.92,1.92 0 1,0 3.83,0a1.92,1.92 0 1,0 -3.83,0 M85.7,456.9a1.06,1.06 0 1,0 2.12,0a1.06,1.06 0 1,0 -2.12,0 M163.2,468.7a1.24,1.24 0 1,0 2.49,0a1.24,1.24 0 1,0 -2.49,0 M123.9,466.9a2.08,2.08 0 1,0 4.15,0a2.08,2.08 0 1,0 -4.15,0 M113.6,459.6a1.55,1.55 0 1,0 3.10,0a1.55,1.55 0 1,0 -3.10,0 M171.8,465.3a1.34,1.34 0 1,0 2.69,0a1.34,1.34 0 1,0 -2.69,0 M43.5,462.1a1.83,1.83 0 1,0 3.65,0a1.83,1.83 0 1,0 -3.65,0 M25.3,457.4a0.80,0.80 0 1,0 1.61,0a0.80,0.80 0 1,0 -1.61,0 M53.4,457.6a1.61,1.61 0 1,0 3.22,0a1.61,1.61 0 1,0 -3.22,0 M55.5,467.7a2.04,2.04 0 1,0 4.08,0a2.04,2.04 0 1,0 -4.08,0 M71.2,467.8a1.07,1.07 0 1,0 2.13,0a1.07,1.07 0 1,0 -2.13,0 M47.5,472.8a1.27,1.27 0 1,0 2.54,0a1.27,1.27 0 1,0 -2.54,0 M30.2,453.6a0.95,0.95 0 1,0 1.90,0a0.95,0.95 0 1,0 -1.90,0 M64.2,456.9a1.56,1.56 0 1,0 3.12,0a1.56,1.56 0 1,0 -3.12,0 M140.7,453.9a0.84,0.84 0 1,0 1.68,0a0.84,0.84 0 1,0 -1.68,0 M49.0,456.5a1.95,1.95 0 1,0 3.90,0a1.95,1.95 0 1,0 -3.90,0 M132.6,459.8a1.52,1.52 0 1,0 3.04,0a1.52,1.52 0 1,0 -3.04,0 M46.0,453.4a1.90,1.90 0 1,0 3.79,0a1.90,1.90 0 1,0 -3.79,0 M163.1,453.4a1.68,1.68 0 1,0 3.36,0a1.68,1.68 0 1,0 -3.36,0 M78.9,468.7a0.94,0.94 0 1,0 1.89,0a0.94,0.94 0 1,0 -1.89,0 M167.7,459.1a1.11,1.11 0 1,0 2.22,0a1.11,1.11 0 1,0 -2.22,0 M146.6,466.2a2.02,2.02 0 1,0 4.05,0a2.02,2.02 0 1,0 -4.05,0 M173.4,473.0a1.95,1.95 0 1,0 3.89,0a1.95,1.95 0 1,0 -3.89,0 M158.6,454.3a0.99,0.99 0 1,0 1.98,0a0.99,0.99 0 1,0 -1.98,0 M165.8,468.9a1.05,1.05 0 1,0 2.10,0a1.05,1.05 0 1,0 -2.10,0 M78.2,460.5a1.58,1.58 0 1,0 3.16,0a1.58,1.58 0 1,0 -3.16,0 M174.5,457.9a0.86,0.86 0 1,0 1.72,0a0.86,0.86 0 1,0 -1.72,0 M116.2,456.8a1.50,1.50 0 1,0 2.99,0a1.50,1.50 0 1,0 -2.99,0 M144.5,459.6a0.87,0.87 0 1,0 1.74,0a0.87,0.87 0 1,0 -1.74,0 M144.5,470.5a1.91,1.91 0 1,0 3.81,0a1.91,1.91 0 1,0 -3.81,0 M172.9,470.7a1.07,1.07 0 1,0 2.14,0a1.07,1.07 0 1,0 -2.14,0 M30.7,462.4a1.66,1.66 0 1,0 3.33,0a1.66,1.66 0 1,0 -3.33,0 M28.0,463.2a1.78,1.78 0 1,0 3.55,0a1.78,1.78 0 1,0 -3.55,0 M120.9,463.2a1.45,1.45 0 1,0 2.90,0a1.45,1.45 0 1,0 -2.90,0 M92.2,459.4a1.29,1.29 0 1,0 2.57,0a1.29,1.29 0 1,0 -2.57,0 M128.8,467.3a1.44,1.44 0 1,0 2.89,0a1.44,1.44 0 1,0 -2.89,0 M60.2,461.0a2.00,2.00 0 1,0 4.00,0a2.00,2.00 0 1,0 -4.00,0 M111.5,453.7a1.09,1.09 0 1,0 2.17,0a1.09,1.09 0 1,0 -2.17,0 M50.5,470.3a1.31,1.31 0 1,0 2.63,0a1.31,1.31 0 1,0 -2.63,0 M66.7,470.8a1.54,1.54 0 1,0 3.09,0a1.54,1.54 0 1,0 -3.09,0 M167.2,460.5a1.52,1.52 0 1,0 3.03,0a1.52,1.52 0 1,0 -3.03,0 M39.5,454.7a1.38,1.38 0 1,0 2.76,0a1.38,1.38 0 1,0 -2.76,0 M74.1,464.7a1.40,1.40 0 1,0 2.81,0a1.40,1.40 0 1,0 -2.81,0 M117.1,461.5a1.41,1.41 0 1,0 2.82,0a1.41,1.41 0 1,0 -2.82,0 M83.5,469.1a1.21,1.21 0 1,0 2.42,0a1.21,1.21 0 1,0 -2.42,0 M79.3,456.6a1.10,1.10 0 1,0 2.21,0a1.10,1.10 0 1,0 -2.21,0 M121.5,460.2a0.91,0.91 0 1,0 1.81,0a0.91,0.91 0 1,0 -1.81,0 M152.2,463.3a1.64,1.64 0 1,0 3.27,0a1.64,1.64 0 1,0 -3.27,0 M143.9,471.5a0.93,0.93 0 1,0 1.86,0a0.93,0.93 0 1,0 -1.86,0 M29.7,453.8a1.06,1.06 0 1,0 2.12,0a1.06,1.06 0 1,0 -2.12,0 M49.6,459.6a1.19,1.19 0 1,0 2.39,0a1.19,1.19 0 1,0 -2.39,0 M148.4,466.7a1.16,1.16 0 1,0 2.31,0a1.16,1.16 0 1,0 -2.31,0 M129.9,473.0a2.10,2.10 0 1,0 4.20,0a2.10,2.10 0 1,0 -4.20,0 M137.5,467.8a1.99,1.99 0 1,0 3.97,0a1.99,1.99 0 1,0 -3.97,0 M18.9,459.0a1.87,1.87 0 1,0 3.74,0a1.87,1.87 0 1,0 -3.74,0 M143.1,461.1a1.33,1.33 0 1,0 2.65,0a1.33,1.33 0 1,0 -2.65,0 M110.5,466.1a1.41,1.41 0 1,0 2.83,0a1.41,1.41 0 1,0 -2.83,0 M100.2,468.2a0.99,0.99 0 1,0 1.99,0a0.99,0.99 0 1,0 -1.99,0 M81.1,457.5a1.77,1.77 0 1,0 3.55,0a1.77,1.77 0 1,0 -3.55,0 M93.3,463.3a1.82,1.82 0 1,0 3.64,0a1.82,1.82 0 1,0 -3.64,0 M138.9,467.5a1.40,1.40 0 1,0 2.80,0a1.40,1.40 0 1,0 -2.80,0 M144.7,459.3a1.04,1.04 0 1,0 2.09,0a1.04,1.04 0 1,0 -2.09,0 M141.2,467.0a1.07,1.07 0 1,0 2.14,0a1.07,1.07 0 1,0 -2.14,0 M89.9,464.2a1.29,1.29 0 1,0 2.57,0a1.29,1.29 0 1,0 -2.57,0 M109.5,455.6a2.03,2.03 0 1,0 4.05,0a2.03,2.03 0 1,0 -4.05,0 M19.1,469.2a1.88,1.88 0 1,0 3.77,0a1.88,1.88 0 1,0 -3.77,0 M71.9,461.4a1.69,1.69 0 1,0 3.38,0a1.69,1.69 0 1,0 -3.38,0 M82.3,468.6a1.50,1.50 0 1,0 3.00,0a1.50,1.50 0 1,0 -3.00,0 M69.6,453.5a1.82,1.82 0 1,0 3.64,0a1.82,1.82 0 1,0 -3.64,0 M164.5,456.1a2.04,2.04 0 1,0 4.08,0a2.04,2.04 0 1,0 -4.08,0 M70.5,465.6a1.58,1.58 0 1,0 3.17,0a1.58,1.58 0 1,0 -3.17,0 M114.3,470.3a2.07,2.07 0 1,0 4.15,0a2.07,2.07 0 1,0 -4.15,0 M50.5,460.8a1.49,1.49 0 1,0 2.99,0a1.49,1.49 0 1,0 -2.99,0 M47.9,455.2a1.54,1.54 0 1,0 3.08,0a1.54,1.54 0 1,0 -3.08,0 M90.5,470.9a0.92,0.92 0 1,0 1.84,0a0.92,0.92 0 1,0 -1.84,0 M35.2,464.1a0.84,0.84 0 1,0 1.68,0a0.84,0.84 0 1,0 -1.68,0 M128.3,462.8a1.04,1.04 0 1,0 2.09,0a1.04,1.04 0 1,0 -2.09,0 M29.3,472.3a1.17,1.17 0 1,0 2.34,0a1.17,1.17 0 1,0 -2.34,0 M55.7,466.2a0.89,0.89 0 1,0 1.78,0a0.89,0.89 0 1,0 -1.78,0 M27.5,463.4a1.02,1.02 0 1,0 2.05,0a1.02,1.02 0 1,0 -2.05,0 M155.6,461.2a1.00,1.00 0 1,0 2.01,0a1.00,1.00 0 1,0 -2.01,0 M35.7,463.7a1.42,1.42 0 1,0 2.84,0a1.42,1.42 0 1,0 -2.84,0 M28.4,472.1a1.93,1.93 0 1,0 3.85,0a1.93,1.93 0 1,0 -3.85,0 M38.8,457.1a1.36,1.36 0 1,0 2.72,0a1.36,1.36 0 1,0 -2.72,0 M131.1,462.5a1.58,1.58 0 1,0 3.17,0a1.58,1.58 0 1,0 -3.17,0 M167.8,464.7a1.45,1.45 0 1,0 2.91,0a1.45,1.45 0 1,0 -2.91,0 M127.9,458.5a0.81,0.81 0 1,0 1.62,0a0.81,0.81 0 1,0 -1.62,0 M40.9,454.3a1.32,1.32 0 1,0 2.64,0a1.32,1.32 0 1,0 -2.64,0 M146.3,463.5a1.98,1.98 0 1,0 3.97,0a1.98,1.98 0 1,0 -3.97,0 M158.2,462.2a1.55,1.55 0 1,0 3.10,0a1.55,1.55 0 1,0 -3.10,0 M135.1,458.8a1.95,1.95 0 1,0 3.89,0a1.95,1.95 0 1,0 -3.89,0 M90.5,467.0a1.73,1.73 0 1,0 3.45,0a1.73,1.73 0 1,0 -3.45,0 M65.0,465.3a1.85,1.85 0 1,0 3.71,0a1.85,1.85 0 1,0 -3.71,0 M45.4,458.0a1.97,1.97 0 1,0 3.94,0a1.97,1.97 0 1,0 -3.94,0 M134.4,462.2a1.98,1.98 0 1,0 3.97,0a1.98,1.98 0 1,0 -3.97,0 M47.4,464.4a1.31,1.31 0 1,0 2.62,0a1.31,1.31 0 1,0 -2.62,0 M168.4,457.8a1.93,1.93 0 1,0 3.86,0a1.93,1.93 0 1,0 -3.86,0 M61.9,465.6a1.18,1.18 0 1,0 2.36,0a1.18,1.18 0 1,0 -2.36,0 M163.9,467.0a1.74,1.74 0 1,0 3.48,0a1.74,1.74 0 1,0 -3.48,0 M52.0,462.9a2.09,2.09 0 1,0 4.18,0a2.09,2.09 0 1,0 -4.18,0 M106.7,472.9a0.90,0.90 0 1,0 1.80,0a0.90,0.90 0 1,0 -1.80,0 M35.0,468.3a1.22,1.22 0 1,0 2.45,0a1.22,1.22 0 1,0 -2.45,0 M89.9,458.1a1.46,1.46 0 1,0 2.92,0a1.46,1.46 0 1,0 -2.92,0 M91.5,454.5a1.70,1.70 0 1,0 3.41,0a1.70,1.70 0 1,0 -3.41,0 M137.3,460.6a1.77,1.77 0 1,0 3.54,0a1.77,1.77 0 1,0 -3.54,0 M155.2,460.9a0.81,0.81 0 1,0 1.63,0a0.81,0.81 0 1,0 -1.63,0 M36.5,471.3a1.23,1.23 0 1,0 2.45,0a1.23,1.23 0 1,0 -2.45,0 M138.0,462.7a0.89,0.89 0 1,0 1.78,0a0.89,0.89 0 1,0 -1.78,0 M104.9,457.8a2.04,2.04 0 1,0 4.07,0a2.04,2.04 0 1,0 -4.07,0 M39.9,469.4a1.89,1.89 0 1,0 3.79,0a1.89,1.89 0 1,0 -3.79,0 M45.7,453.4a0.93,0.93 0 1,0 1.86,0a0.93,0.93 0 1,0 -1.86,0 M65.0,463.7a1.31,1.31 0 1,0 2.62,0a1.31,1.31 0 1,0 -2.62,0 M30.1,468.3a1.68,1.68 0 1,0 3.36,0a1.68,1.68 0 1,0 -3.36,0 M42.8,460.2a1.08,1.08 0 1,0 2.16,0a1.08,1.08 0 1,0 -2.16,0 M23.8,466.5a1.08,1.08 0 1,0 2.16,0a1.08,1.08 0 1,0 -2.16,0 M128.7,469.7a1.85,1.85 0 1,0 3.71,0a1.85,1.85 0 1,0 -3.71,0 M119.7,467.3a1.97,1.97 0 1,0 3.93,0a1.97,1.97 0 1,0 -3.93,0 M80.9,459.2a0.87,0.87 0 1,0 1.74,0a0.87,0.87 0 1,0 -1.74,0 M18.3,468.4a1.80,1.80 0 1,0 3.59,0a1.80,1.80 0 1,0 -3.59,0 M166.5,460.5a1.11,1.11 0 1,0 2.22,0a1.11,1.11 0 1,0 -2.22,0 M31.9,461.4a2.09,2.09 0 1,0 4.17,0a2.09,2.09 0 1,0 -4.17,0 M71.5,456.8a1.67,1.67 0 1,0 3.34,0a1.67,1.67 0 1,0 -3.34,0 M52.8,470.6a1.84,1.84 0 1,0 3.67,0a1.84,1.84 0 1,0 -3.67,0 M150.9,456.4a1.02,1.02 0 1,0 2.03,0a1.02,1.02 0 1,0 -2.03,0 M84.5,455.2a1.23,1.23 0 1,0 2.45,0a1.23,1.23 0 1,0 -2.45,0 M108.0,456.8a1.07,1.07 0 1,0 2.14,0a1.07,1.07 0 1,0 -2.14,0 M104.9,471.8a0.96,0.96 0 1,0 1.91,0a0.96,0.96 0 1,0 -1.91,0 M52.5,460.1a1.03,1.03 0 1,0 2.05,0a1.03,1.03 0 1,0 -2.05,0 M82.3,459.3a1.31,1.31 0 1,0 2.61,0a1.31,1.31 0 1,0 -2.61,0 M90.8,454.3a1.86,1.86 0 1,0 3.72,0a1.86,1.86 0 1,0 -3.72,0 M122.2,460.4a0.89,0.89 0 1,0 1.78,0a0.89,0.89 0 1,0 -1.78,0 M52.7,459.0a1.58,1.58 0 1,0 3.16,0a1.58,1.58 0 1,0 -3.16,0 M174.8,455.0a1.50,1.50 0 1,0 2.99,0a1.50,1.50 0 1,0 -2.99,0 M176.5,470.0a1.02,1.02 0 1,0 2.05,0a1.02,1.02 0 1,0 -2.05,0 M170.4,465.0a2.08,2.08 0 1,0 4.15,0a2.08,2.08 0 1,0 -4.15,0 M128.5,466.6a2.06,2.06 0 1,0 4.13,0a2.06,2.06 0 1,0 -4.13,0 M128.5,459.6a1.63,1.63 0 1,0 3.25,0a1.63,1.63 0 1,0 -3.25,0 M158.6,459.4a1.91,1.91 0 1,0 3.81,0a1.91,1.91 0 1,0 -3.81,0 M94.8,459.7a1.59,1.59 0 1,0 3.18,0a1.59,1.59 0 1,0 -3.18,0 M111.1,460.6a1.63,1.63 0 1,0 3.27,0a1.63,1.63 0 1,0 -3.27,0 M54.4,464.7a2.08,2.08 0 1,0 4.17,0a2.08,2.08 0 1,0 -4.17,0 M54.6,465.3a1.97,1.97 0 1,0 3.93,0a1.97,1.97 0 1,0 -3.93,0 M66.9,467.8a1.78,1.78 0 1,0 3.57,0a1.78,1.78 0 1,0 -3.57,0 M117.0,454.2a1.29,1.29 0 1,0 2.57,0a1.29,1.29 0 1,0 -2.57,0 M65.7,456.0a1.07,1.07 0 1,0 2.13,0a1.07,1.07 0 1,0 -2.13,0 M23.9,471.5a1.58,1.58 0 1,0 3.15,0a1.58,1.58 0 1,0 -3.15,0 M169.1,467.8a1.23,1.23 0 1,0 2.45,0a1.23,1.23 0 1,0 -2.45,0 M62.0,465.9a1.79,1.79 0 1,0 3.58,0a1.79,1.79 0 1,0 -3.58,0 M100.9,472.6a1.64,1.64 0 1,0 3.28,0a1.64,1.64 0 1,0 -3.28,0 M63.5,453.5a1.90,1.90 0 1,0 3.80,0a1.90,1.90 0 1,0 -3.80,0 M70.8,457.8a1.50,1.50 0 1,0 3.00,0a1.50,1.50 0 1,0 -3.00,0 M163.0,466.3a1.12,1.12 0 1,0 2.25,0a1.12,1.12 0 1,0 -2.25,0 M127.5,467.4a1.59,1.59 0 1,0 3.18,0a1.59,1.59 0 1,0 -3.18,0 M78.9,459.4a1.38,1.38 0 1,0 2.75,0a1.38,1.38 0 1,0 -2.75,0 M19.5,470.4a0.89,0.89 0 1,0 1.78,0a0.89,0.89 0 1,0 -1.78,0 M49.1,465.7a0.98,0.98 0 1,0 1.97,0a0.98,0.98 0 1,0 -1.97,0 M50.4,454.8a1.57,1.57 0 1,0 3.14,0a1.57,1.57 0 1,0 -3.14,0 M151.0,471.6a1.11,1.11 0 1,0 2.21,0a1.11,1.11 0 1,0 -2.21,0 M30.7,467.5a1.20,1.20 0 1,0 2.41,0a1.20,1.20 0 1,0 -2.41,0 M133.5,457.9a1.03,1.03 0 1,0 2.06,0a1.03,1.03 0 1,0 -2.06,0 M57.8,458.7a1.38,1.38 0 1,0 2.77,0a1.38,1.38 0 1,0 -2.77,0 M119.0,458.4a1.82,1.82 0 1,0 3.63,0a1.82,1.82 0 1,0 -3.63,0 M30.9,472.5a1.32,1.32 0 1,0 2.64,0a1.32,1.32 0 1,0 -2.64,0 M44.7,461.8a1.46,1.46 0 1,0 2.91,0a1.46,1.46 0 1,0 -2.91,0 M134.8,468.2a1.87,1.87 0 1,0 3.73,0a1.87,1.87 0 1,0 -3.73,0 M144.8,453.4a1.30,1.30 0 1,0 2.59,0a1.30,1.30 0 1,0 -2.59,0 M153.7,468.2a2.00,2.00 0 1,0 4.00,0a2.00,2.00 0 1,0 -4.00,0 M112.6,456.1a1.74,1.74 0 1,0 3.49,0a1.74,1.74 0 1,0 -3.49,0 M59.1,462.3a1.39,1.39 0 1,0 2.78,0a1.39,1.39 0 1,0 -2.78,0 M78.4,465.1a0.89,0.89 0 1,0 1.79,0a0.89,0.89 0 1,0 -1.79,0 M40.2,462.4a1.00,1.00 0 1,0 2.00,0a1.00,1.00 0 1,0 -2.00,0" fill="#000" opacity="0.55"/>
<path d="M49.7,446.3 L49.7,450.3 L50.2,454.1 L49.5,457.8 M121.7,457.8 L122.1,459.5 L121.6,461.2 L121.4,463.0 M165.1,460.4 L165.4,463.6 L165.3,466.9 L165.4,469.7 M24.9,462.3 L25.3,466.0 L24.9,469.6 L25.5,473.3 M115.5,465.0 L116.2,466.8 L116.7,468.4 L116.6,470.3 M102.2,449.8 L101.8,453.9 L102.6,458.1 L101.8,462.2 M85.1,463.5 L85.5,465.6 L85.4,467.3 L86.1,469.5 M82.9,452.2 L82.8,456.1 L84.1,460.4 L84.6,464.6 M46.6,453.5 L46.5,455.9 L47.0,458.1 L46.9,460.1 M48.6,461.2 L48.2,465.6 L48.2,470.1 L47.4,474.2 M79.7,451.5 L79.5,455.0 L78.9,458.2 L79.5,461.6 M112.4,465.8 L111.4,469.0 L112.1,472.3 L111.7,475.4 M73.2,454.6 L73.7,459.0 L73.5,463.3 L72.7,467.4 M76.2,452.6 L76.1,455.7 L75.9,458.5 L75.1,461.9 M64.0,460.0 L64.5,462.8 L64.6,465.5 L64.6,468.5 M172.2,462.3 L171.2,465.1 L171.0,467.7 L170.9,470.5 M117.2,447.6 L117.6,452.3 L117.5,456.7 L117.2,460.9 M50.5,448.9 L51.0,452.2 L50.1,455.7 L50.4,459.1 M107.0,463.5 L106.2,466.6 L106.0,469.4 L106.3,472.6 M33.7,454.7 L34.4,457.0 L34.4,458.9 L34.0,461.1 M162.6,448.5 L162.5,451.6 L162.1,455.1 L162.1,458.4 M115.3,458.9 L115.4,462.7 L115.2,466.5 L115.3,470.4 M55.1,448.3 L55.0,450.4 L54.5,452.0 L53.7,454.2 M171.7,457.5 L171.2,459.5 L171.2,461.2 L170.0,463.2 M146.5,456.4 L146.5,458.7 L146.7,460.9 L147.4,463.5 M99.2,455.1 L99.5,457.3 L99.6,459.4 L99.2,461.6 M39.1,465.9 L39.7,469.0 L39.8,472.1 L40.3,475.2 M151.5,450.2 L152.0,454.1 L152.4,458.3 L152.2,462.5 M176.5,459.2 L176.9,463.8 L177.4,468.6 L177.9,473.1 M103.6,451.7 L104.3,453.9 L103.6,456.3 L104.3,458.5 M155.0,460.2 L154.6,462.4 L154.7,464.4 L154.6,466.8 M136.8,446.2 L137.2,449.8 L136.8,453.1 L137.3,456.5 M167.2,447.9 L167.1,450.3 L168.3,452.4 L169.2,454.6 M83.9,446.7 L83.8,450.0 L83.5,452.9 L83.3,456.2 M124.5,461.6 L124.6,465.2 L125.1,468.7 L125.1,472.4 M126.1,456.2 L125.7,459.5 L125.5,463.1 L124.3,466.3 M122.3,454.7 L121.8,456.8 L122.8,458.5 L122.9,460.4 M108.1,456.7 L108.5,459.9 L109.0,463.1 L108.6,466.2 M173.5,464.0 L172.8,467.4 L173.2,470.7 L172.1,474.2 M45.1,457.2 L46.1,459.0 L45.7,460.8 L46.1,462.7 M19.4,452.0 L20.2,455.3 L20.2,458.5 L21.0,461.7 M176.8,453.0 L176.3,455.5 L176.5,457.5 L176.6,460.1 M172.2,458.0 L171.5,460.8 L171.1,463.4 L171.2,466.4 M83.2,447.7 L83.2,450.6 L82.2,453.6 L83.1,456.6 M50.1,453.4 L50.4,457.5 L50.0,461.9 L50.5,465.7 M115.7,447.6 L115.4,449.4 L115.2,451.5 L114.4,453.5 M158.1,450.5 L158.1,453.3 L156.6,456.3 L156.2,459.0 M68.3,462.4 L68.6,465.8 L68.4,469.0 L68.8,472.1 M170.5,453.8 L170.9,457.7 L170.3,461.7 L170.0,465.3 M20.9,456.3 L20.4,458.4 L19.7,460.4 L20.5,462.5 M59.2,458.2 L59.9,460.5 L59.6,462.5 L59.7,465.0 M160.1,462.3 L160.4,466.5 L159.5,470.6 L159.0,475.1 M170.2,449.3 L169.8,453.2 L169.8,457.3 L168.8,461.0 M136.0,455.6 L136.5,460.3 L136.0,465.0 L136.6,469.7 M133.4,460.1 L133.9,462.6 L134.3,465.0 L134.2,467.3 M116.3,465.3 L116.5,469.5 L116.2,474.0 L116.9,478.4 M86.9,453.6 L87.2,455.5 L86.7,457.7 L86.0,459.5 M66.2,450.3 L66.1,453.6 L67.2,457.1 L67.4,460.2 M93.3,458.4 L93.4,461.0 L93.1,463.6 L93.7,466.4 M76.0,448.0 L76.0,449.8 L75.5,451.9 L75.5,453.8 M55.5,453.9 L54.9,457.0 L54.6,459.8 L55.3,462.6 M75.9,454.7 L75.4,458.8 L75.0,463.2 L75.7,467.7 M45.0,450.0 L44.7,453.6 L45.0,457.4 L45.2,460.9 M141.4,463.6 L141.8,468.0 L140.9,472.4 L140.8,476.8 M99.2,461.3 L98.7,465.2 L99.0,468.7 L98.2,472.4 M140.8,451.0 L140.2,454.3 L140.6,457.5 L139.5,460.7 M51.1,460.1 L51.4,463.8 L52.3,467.7 L52.2,471.3 M40.5,446.8 L40.9,451.3 L41.0,455.5 L41.9,460.1 M120.5,450.6 L120.3,453.8 L119.9,456.8 L119.7,459.9 M86.1,452.4 L85.1,454.3 L84.9,456.0 L85.3,457.6 M48.9,465.0 L48.3,467.4 L48.7,470.3 L48.3,472.8 M77.1,461.6 L77.3,464.3 L77.0,467.3 L76.7,470.0 M38.6,457.7 L38.6,461.4 L39.9,464.8 L39.9,468.6 M135.2,465.8 L134.3,469.5 L134.6,473.4 L134.7,477.4 M164.1,465.5 L164.8,468.7 L164.4,471.5 L165.8,474.5 M22.9,458.0 L22.5,460.1 L23.6,462.2 L23.8,464.1 M128.7,463.4 L129.4,465.5 L130.0,467.7 L129.8,469.8 M44.9,450.4 L45.5,454.6 L45.6,459.0 L45.3,463.2 M132.4,457.0 L131.8,458.7 L131.4,460.8 L132.0,462.4 M145.6,458.8 L145.4,462.8 L144.9,467.2 L144.7,471.1 M132.0,457.0 L132.3,459.8 L131.9,462.9 L133.0,465.6 M173.5,449.5 L174.5,452.9 L174.7,456.0 L175.2,459.3 M123.8,463.4 L124.3,466.6 L123.7,470.1 L124.5,473.4 M44.2,450.6 L44.9,453.3 L44.3,456.1 L45.4,458.8 M97.7,460.6 L97.4,462.2 L97.9,464.1 L97.6,465.6 M58.5,464.2 L59.0,466.2 L59.9,468.2 L59.8,469.9 M151.3,461.3 L151.2,462.9 L151.2,464.9 L151.2,466.8 M172.2,448.1 L172.7,450.7 L172.7,453.5 L172.9,456.1 M72.3,449.1 L72.1,452.7 L71.8,456.4 L70.8,460.3 M152.9,448.8 L153.2,450.4 L153.9,452.2 L154.6,454.0 M160.5,462.5 L159.7,464.5 L160.3,466.8 L159.5,468.8 M166.8,464.4 L166.8,467.9 L167.7,471.4 L167.5,474.9 M67.5,462.4 L67.9,464.4 L67.7,466.4 L67.3,468.1 M19.7,464.7 L19.2,468.3 L19.3,472.0 L18.7,475.4 M111.6,465.2 L112.0,467.0 L111.0,469.0 L110.9,471.1 M85.5,461.9 L85.5,465.9 L85.0,470.0 L85.0,474.1 M150.5,453.7 L150.7,456.7 L151.0,459.6 L150.4,462.3 M178.0,446.3 L178.6,450.7 L178.0,455.5 L178.6,460.1 M66.4,448.9 L67.3,453.4 L67.5,457.9 L67.1,462.8 M131.8,453.5 L131.1,458.2 L131.0,462.5 L130.7,467.4 M24.2,453.3 L23.9,455.3 L23.0,457.0 L23.2,459.1 M130.9,452.0 L131.1,454.7 L130.5,457.2 L131.1,459.9 M139.3,456.1 L139.0,460.4 L138.4,464.5 L138.3,468.6 M132.6,454.5 L132.3,459.2 L131.5,463.5 L131.7,468.1 M48.7,460.9 L49.2,465.1 L48.6,469.4 L49.3,473.4 M147.6,458.9 L146.8,461.0 L147.4,462.7 L146.4,464.9 M29.8,457.9 L30.1,460.6 L29.8,463.0 L31.2,465.7 M109.4,461.8 L109.5,464.2 L108.3,466.9 L107.9,469.5 M139.4,460.5 L139.4,464.3 L140.6,467.9 L141.2,471.7 M113.1,453.6 L112.9,457.7 L113.2,462.2 L112.9,466.4 M160.6,462.1 L160.3,466.3 L160.9,470.2 L161.2,474.2 M73.9,461.7 L74.2,464.4 L74.0,467.3 L73.3,469.8 M116.8,447.5 L116.5,451.2 L115.7,454.7 L115.8,458.3 M144.1,447.7 L144.2,450.2 L143.0,452.9 L142.4,455.5 M142.6,451.2 L143.0,453.6 L142.1,455.9 L142.6,458.3 M156.5,454.0 L156.4,458.4 L157.6,463.0 L157.4,467.3 M100.1,451.3 L100.7,455.0 L101.2,458.6 L101.7,462.2 M155.5,451.8 L154.7,454.6 L154.8,457.4 L154.5,460.5 M163.1,455.3 L163.1,459.3 L162.6,462.9 L161.6,466.8 M178.4,455.7 L178.4,458.7 L178.4,461.9 L179.2,464.9" fill="none" stroke="#111" stroke-width="0.8" opacity="0.45"/>
<path d="M23.5,452.0a0.87,0.87 0 1,0 1.73,0a0.87,0.87 0 1,0 -1.73,0 M168.0,449.6a0.90,0.90 0 1,0 1.80,0a0.90,0.90 0 1,0 -1.80,0 M93.7,446.5a1.21,1.21 0 1,0 2.42,0a1.21,1.21 0 1,0 -2.42,0 M170.7,452.8a0.79,0.79 0 1,0 1.58,0a0.79,0.79 0 1,0 -1.58,0 M120.2,446.8a0.65,0.65 0 1,0 1.30,0a0.65,0.65 0 1,0 -1.30,0 M83.0,449.0a1.10,1.10 0 1,0 2.20,0a1.10,1.10 0 1,0 -2.20,0 M157.4,451.2a1.07,1.07 0 1,0 2.14,0a1.07,1.07 0 1,0 -2.14,0 M60.1,454.3a0.66,0.66 0 1,0 1.33,0a0.66,0.66 0 1,0 -1.33,0 M162.2,449.4a1.13,1.13 0 1,0 2.25,0a1.13,1.13 0 1,0 -2.25,0 M44.8,449.5a0.89,0.89 0 1,0 1.79,0a0.89,0.89 0 1,0 -1.79,0 M94.6,452.9a0.71,0.71 0 1,0 1.42,0a0.71,0.71 0 1,0 -1.42,0 M129.5,449.5a1.09,1.09 0 1,0 2.17,0a1.09,1.09 0 1,0 -2.17,0 M80.4,446.1a1.15,1.15 0 1,0 2.30,0a1.15,1.15 0 1,0 -2.30,0 M113.6,446.8a1.07,1.07 0 1,0 2.14,0a1.07,1.07 0 1,0 -2.14,0 M116.5,449.2a1.29,1.29 0 1,0 2.58,0a1.29,1.29 0 1,0 -2.58,0 M168.1,453.4a1.12,1.12 0 1,0 2.23,0a1.12,1.12 0 1,0 -2.23,0 M69.0,447.5a0.92,0.92 0 1,0 1.84,0a0.92,0.92 0 1,0 -1.84,0 M42.3,454.6a0.68,0.68 0 1,0 1.36,0a0.68,0.68 0 1,0 -1.36,0 M173.2,450.1a0.96,0.96 0 1,0 1.93,0a0.96,0.96 0 1,0 -1.93,0 M18.8,450.5a1.18,1.18 0 1,0 2.37,0a1.18,1.18 0 1,0 -2.37,0 M38.2,450.5a1.28,1.28 0 1,0 2.56,0a1.28,1.28 0 1,0 -2.56,0 M33.7,448.2a1.29,1.29 0 1,0 2.57,0a1.29,1.29 0 1,0 -2.57,0 M85.7,451.5a0.72,0.72 0 1,0 1.43,0a0.72,0.72 0 1,0 -1.43,0 M78.4,449.5a1.27,1.27 0 1,0 2.53,0a1.27,1.27 0 1,0 -2.53,0 M173.9,451.8a0.61,0.61 0 1,0 1.22,0a0.61,0.61 0 1,0 -1.22,0 M148.1,446.2a1.23,1.23 0 1,0 2.46,0a1.23,1.23 0 1,0 -2.46,0 M98.4,454.7a1.09,1.09 0 1,0 2.18,0a1.09,1.09 0 1,0 -2.18,0 M122.1,450.6a0.89,0.89 0 1,0 1.77,0a0.89,0.89 0 1,0 -1.77,0 M74.6,451.4a0.97,0.97 0 1,0 1.93,0a0.97,0.97 0 1,0 -1.93,0 M140.8,447.1a0.72,0.72 0 1,0 1.45,0a0.72,0.72 0 1,0 -1.45,0 M86.8,447.8a1.02,1.02 0 1,0 2.03,0a1.02,1.02 0 1,0 -2.03,0 M104.8,449.8a1.19,1.19 0 1,0 2.38,0a1.19,1.19 0 1,0 -2.38,0 M128.5,450.4a0.80,0.80 0 1,0 1.60,0a0.80,0.80 0 1,0 -1.60,0 M117.2,455.3a1.20,1.20 0 1,0 2.40,0a1.20,1.20 0 1,0 -2.40,0 M177.6,454.1a0.67,0.67 0 1,0 1.35,0a0.67,0.67 0 1,0 -1.35,0 M122.2,452.2a0.89,0.89 0 1,0 1.78,0a0.89,0.89 0 1,0 -1.78,0 M97.4,453.5a1.25,1.25 0 1,0 2.50,0a1.25,1.25 0 1,0 -2.50,0 M34.3,450.4a1.01,1.01 0 1,0 2.01,0a1.01,1.01 0 1,0 -2.01,0 M23.7,448.9a0.89,0.89 0 1,0 1.79,0a0.89,0.89 0 1,0 -1.79,0 M54.1,450.5a0.87,0.87 0 1,0 1.73,0a0.87,0.87 0 1,0 -1.73,0 M49.9,450.7a0.69,0.69 0 1,0 1.37,0a0.69,0.69 0 1,0 -1.37,0 M172.9,455.1a0.89,0.89 0 1,0 1.78,0a0.89,0.89 0 1,0 -1.78,0 M149.2,453.0a1.12,1.12 0 1,0 2.24,0a1.12,1.12 0 1,0 -2.24,0 M19.9,449.7a0.76,0.76 0 1,0 1.51,0a0.76,0.76 0 1,0 -1.51,0 M63.9,454.8a0.79,0.79 0 1,0 1.57,0a0.79,0.79 0 1,0 -1.57,0 M152.3,454.0a0.89,0.89 0 1,0 1.78,0a0.89,0.89 0 1,0 -1.78,0 M57.1,455.0a0.89,0.89 0 1,0 1.78,0a0.89,0.89 0 1,0 -1.78,0 M21.0,447.5a0.86,0.86 0 1,0 1.72,0a0.86,0.86 0 1,0 -1.72,0 M148.7,454.2a1.02,1.02 0 1,0 2.04,0a1.02,1.02 0 1,0 -2.04,0 M71.6,455.6a1.29,1.29 0 1,0 2.59,0a1.29,1.29 0 1,0 -2.59,0 M57.3,455.7a0.73,0.73 0 1,0 1.47,0a0.73,0.73 0 1,0 -1.47,0 M121.1,454.3a1.16,1.16 0 1,0 2.32,0a1.16,1.16 0 1,0 -2.32,0 M110.6,447.3a1.05,1.05 0 1,0 2.09,0a1.05,1.05 0 1,0 -2.09,0 M174.2,447.7a1.23,1.23 0 1,0 2.47,0a1.23,1.23 0 1,0 -2.47,0 M101.3,450.4a0.67,0.67 0 1,0 1.34,0a0.67,0.67 0 1,0 -1.34,0 M146.2,451.0a1.04,1.04 0 1,0 2.08,0a1.04,1.04 0 1,0 -2.08,0 M143.5,454.4a1.04,1.04 0 1,0 2.08,0a1.04,1.04 0 1,0 -2.08,0 M59.7,451.5a1.26,1.26 0 1,0 2.53,0a1.26,1.26 0 1,0 -2.53,0 M51.0,446.9a0.91,0.91 0 1,0 1.81,0a0.91,0.91 0 1,0 -1.81,0 M119.2,451.9a0.62,0.62 0 1,0 1.24,0a0.62,0.62 0 1,0 -1.24,0 M131.7,455.2a0.66,0.66 0 1,0 1.31,0a0.66,0.66 0 1,0 -1.31,0 M79.7,453.4a0.69,0.69 0 1,0 1.38,0a0.69,0.69 0 1,0 -1.38,0 M91.0,452.3a0.85,0.85 0 1,0 1.70,0a0.85,0.85 0 1,0 -1.70,0 M56.9,455.0a0.81,0.81 0 1,0 1.62,0a0.81,0.81 0 1,0 -1.62,0 M103.7,448.5a1.15,1.15 0 1,0 2.29,0a1.15,1.15 0 1,0 -2.29,0 M143.8,453.7a1.06,1.06 0 1,0 2.12,0a1.06,1.06 0 1,0 -2.12,0 M62.2,455.3a1.04,1.04 0 1,0 2.08,0a1.04,1.04 0 1,0 -2.08,0 M120.6,451.8a0.67,0.67 0 1,0 1.34,0a0.67,0.67 0 1,0 -1.34,0 M92.0,452.0a0.67,0.67 0 1,0 1.35,0a0.67,0.67 0 1,0 -1.35,0 M63.8,454.9a0.66,0.66 0 1,0 1.33,0a0.66,0.66 0 1,0 -1.33,0 M97.1,449.6a1.19,1.19 0 1,0 2.37,0a1.19,1.19 0 1,0 -2.37,0 M81.2,450.9a0.62,0.62 0 1,0 1.23,0a0.62,0.62 0 1,0 -1.23,0 M30.5,455.6a0.65,0.65 0 1,0 1.31,0a0.65,0.65 0 1,0 -1.31,0 M128.3,449.8a0.82,0.82 0 1,0 1.64,0a0.82,0.82 0 1,0 -1.64,0 M163.6,454.1a0.73,0.73 0 1,0 1.45,0a0.73,0.73 0 1,0 -1.45,0 M20.0,447.8a1.00,1.00 0 1,0 1.99,0a1.00,1.00 0 1,0 -1.99,0 M114.9,446.3a1.28,1.28 0 1,0 2.57,0a1.28,1.28 0 1,0 -2.57,0 M177.0,450.8a1.03,1.03 0 1,0 2.06,0a1.03,1.03 0 1,0 -2.06,0 M105.5,447.6a1.12,1.12 0 1,0 2.24,0a1.12,1.12 0 1,0 -2.24,0 M166.7,447.9a0.62,0.62 0 1,0 1.24,0a0.62,0.62 0 1,0 -1.24,0 M22.4,451.1a0.71,0.71 0 1,0 1.41,0a0.71,0.71 0 1,0 -1.41,0 M157.0,447.1a0.75,0.75 0 1,0 1.50,0a0.75,0.75 0 1,0 -1.50,0 M70.6,448.2a1.11,1.11 0 1,0 2.22,0a1.11,1.11 0 1,0 -2.22,0 M168.5,448.7a0.94,0.94 0 1,0 1.87,0a0.94,0.94 0 1,0 -1.87,0 M170.5,449.5a0.99,0.99 0 1,0 1.97,0a0.99,0.99 0 1,0 -1.97,0 M65.4,453.5a0.95,0.95 0 1,0 1.89,0a0.95,0.95 0 1,0 -1.89,0 M100.5,450.0a0.74,0.74 0 1,0 1.47,0a0.74,0.74 0 1,0 -1.47,0 M45.8,452.9a1.22,1.22 0 1,0 2.44,0a1.22,1.22 0 1,0 -2.44,0 M63.3,449.9a1.01,1.01 0 1,0 2.02,0a1.01,1.01 0 1,0 -2.02,0 M140.6,449.1a1.16,1.16 0 1,0 2.31,0a1.16,1.16 0 1,0 -2.31,0" fill="#222" opacity="0.45"/>
<path d="M170.3,456.2a1.31,1.31 0 1,0 2.61,0a1.31,1.31 0 1,0 -2.61,0 M85.8,462.2a1.25,1.25 0 1,0 2.51,0a1.25,1.25 0 1,0 -2.51,0 M117.9,459.0a0.94,0.94 0 1,0 1.89,0a0.94,0.94 0 1,0 -1.89,0 M108.8,453.6a1.11,1.11 0 1,0 2.21,0a1.11,1.11 0 1,0 -2.21,0 M29.0,448.8a0.63,0.63 0 1,0 1.25,0a0.63,0.63 0 1,0 -1.25,0 M100.2,458.5a0.83,0.83 0 1,0 1.67,0a0.83,0.83 0 1,0 -1.67,0 M150.0,459.8a1.37,1.37 0 1,0 2.74,0a1.37,1.37 0 1,0 -2.74,0 M74.9,445.7a0.74,0.74 0 1,0 1.49,0a0.74,0.74 0 1,0 -1.49,0 M70.0,463.2a0.89,0.89 0 1,0 1.77,0a0.89,0.89 0 1,0 -1.77,0 M30.1,460.1a0.90,0.90 0 1,0 1.80,0a0.90,0.90 0 1,0 -1.80,0 M143.0,447.8a0.85,0.85 0 1,0 1.71,0a0.85,0.85 0 1,0 -1.71,0 M20.2,452.6a0.97,0.97 0 1,0 1.94,0a0.97,0.97 0 1,0 -1.94,0 M145.3,465.7a1.05,1.05 0 1,0 2.10,0a1.05,1.05 0 1,0 -2.10,0 M79.9,458.8a1.02,1.02 0 1,0 2.04,0a1.02,1.02 0 1,0 -2.04,0 M34.7,451.4a1.09,1.09 0 1,0 2.17,0a1.09,1.09 0 1,0 -2.17,0 M159.7,464.8a0.66,0.66 0 1,0 1.32,0a0.66,0.66 0 1,0 -1.32,0 M160.7,454.7a1.20,1.20 0 1,0 2.41,0a1.20,1.20 0 1,0 -2.41,0 M69.4,452.4a0.76,0.76 0 1,0 1.52,0a0.76,0.76 0 1,0 -1.52,0 M146.1,456.5a1.39,1.39 0 1,0 2.78,0a1.39,1.39 0 1,0 -2.78,0 M85.9,447.9a0.74,0.74 0 1,0 1.47,0a0.74,0.74 0 1,0 -1.47,0 M70.5,453.8a1.06,1.06 0 1,0 2.12,0a1.06,1.06 0 1,0 -2.12,0 M63.6,459.8a1.28,1.28 0 1,0 2.57,0a1.28,1.28 0 1,0 -2.57,0 M176.3,466.0a0.83,0.83 0 1,0 1.65,0a0.83,0.83 0 1,0 -1.65,0 M152.4,454.3a1.32,1.32 0 1,0 2.63,0a1.32,1.32 0 1,0 -2.63,0 M164.8,445.9a1.12,1.12 0 1,0 2.23,0a1.12,1.12 0 1,0 -2.23,0 M29.2,447.2a1.24,1.24 0 1,0 2.48,0a1.24,1.24 0 1,0 -2.48,0 M133.6,451.3a1.20,1.20 0 1,0 2.41,0a1.20,1.20 0 1,0 -2.41,0 M82.4,457.8a0.85,0.85 0 1,0 1.70,0a0.85,0.85 0 1,0 -1.70,0 M116.0,454.0a1.16,1.16 0 1,0 2.31,0a1.16,1.16 0 1,0 -2.31,0 M90.6,464.5a1.37,1.37 0 1,0 2.75,0a1.37,1.37 0 1,0 -2.75,0 M37.7,453.6a1.09,1.09 0 1,0 2.19,0a1.09,1.09 0 1,0 -2.19,0 M23.5,446.1a0.61,0.61 0 1,0 1.22,0a0.61,0.61 0 1,0 -1.22,0 M35.0,452.4a1.15,1.15 0 1,0 2.30,0a1.15,1.15 0 1,0 -2.30,0 M88.2,448.9a0.75,0.75 0 1,0 1.51,0a0.75,0.75 0 1,0 -1.51,0 M162.1,453.5a1.32,1.32 0 1,0 2.64,0a1.32,1.32 0 1,0 -2.64,0 M176.0,466.5a1.29,1.29 0 1,0 2.59,0a1.29,1.29 0 1,0 -2.59,0 M60.2,463.1a0.69,0.69 0 1,0 1.38,0a0.69,0.69 0 1,0 -1.38,0 M169.7,446.7a0.86,0.86 0 1,0 1.73,0a0.86,0.86 0 1,0 -1.73,0 M116.4,463.7a0.82,0.82 0 1,0 1.63,0a0.82,0.82 0 1,0 -1.63,0 M45.6,448.2a0.97,0.97 0 1,0 1.94,0a0.97,0.97 0 1,0 -1.94,0 M38.4,464.8a1.20,1.20 0 1,0 2.40,0a1.20,1.20 0 1,0 -2.40,0 M160.2,467.2a0.93,0.93 0 1,0 1.86,0a0.93,0.93 0 1,0 -1.86,0 M89.7,447.8a1.02,1.02 0 1,0 2.04,0a1.02,1.02 0 1,0 -2.04,0 M110.2,460.2a1.38,1.38 0 1,0 2.76,0a1.38,1.38 0 1,0 -2.76,0 M70.0,461.8a0.78,0.78 0 1,0 1.56,0a0.78,0.78 0 1,0 -1.56,0 M60.8,451.8a0.67,0.67 0 1,0 1.33,0a0.67,0.67 0 1,0 -1.33,0 M107.4,465.1a1.13,1.13 0 1,0 2.26,0a1.13,1.13 0 1,0 -2.26,0 M136.1,449.7a0.66,0.66 0 1,0 1.32,0a0.66,0.66 0 1,0 -1.32,0 M173.9,446.4a0.61,0.61 0 1,0 1.22,0a0.61,0.61 0 1,0 -1.22,0 M53.1,463.8a0.75,0.75 0 1,0 1.50,0a0.75,0.75 0 1,0 -1.50,0 M35.0,449.8a1.07,1.07 0 1,0 2.14,0a1.07,1.07 0 1,0 -2.14,0 M102.4,464.7a1.21,1.21 0 1,0 2.42,0a1.21,1.21 0 1,0 -2.42,0 M68.4,455.4a0.72,0.72 0 1,0 1.45,0a0.72,0.72 0 1,0 -1.45,0 M99.1,466.0a0.78,0.78 0 1,0 1.55,0a0.78,0.78 0 1,0 -1.55,0 M76.1,467.4a1.29,1.29 0 1,0 2.59,0a1.29,1.29 0 1,0 -2.59,0 M100.6,462.9a0.75,0.75 0 1,0 1.50,0a0.75,0.75 0 1,0 -1.50,0 M62.9,448.8a0.85,0.85 0 1,0 1.69,0a0.85,0.85 0 1,0 -1.69,0 M157.5,459.9a0.72,0.72 0 1,0 1.44,0a0.72,0.72 0 1,0 -1.44,0 M158.4,462.1a0.79,0.79 0 1,0 1.58,0a0.79,0.79 0 1,0 -1.58,0 M161.5,449.3a0.62,0.62 0 1,0 1.25,0a0.62,0.62 0 1,0 -1.25,0 M124.2,455.4a0.81,0.81 0 1,0 1.62,0a0.81,0.81 0 1,0 -1.62,0 M166.4,446.9a0.95,0.95 0 1,0 1.89,0a0.95,0.95 0 1,0 -1.89,0 M42.4,456.6a1.01,1.01 0 1,0 2.01,0a1.01,1.01 0 1,0 -2.01,0 M27.2,451.3a0.68,0.68 0 1,0 1.36,0a0.68,0.68 0 1,0 -1.36,0 M122.0,461.8a0.94,0.94 0 1,0 1.88,0a0.94,0.94 0 1,0 -1.88,0 M65.2,454.3a1.08,1.08 0 1,0 2.15,0a1.08,1.08 0 1,0 -2.15,0 M103.0,456.4a0.95,0.95 0 1,0 1.89,0a0.95,0.95 0 1,0 -1.89,0 M126.7,459.9a1.37,1.37 0 1,0 2.73,0a1.37,1.37 0 1,0 -2.73,0 M53.8,446.2a0.63,0.63 0 1,0 1.26,0a0.63,0.63 0 1,0 -1.26,0 M61.2,446.5a0.68,0.68 0 1,0 1.36,0a0.68,0.68 0 1,0 -1.36,0 M54.4,459.3a1.17,1.17 0 1,0 2.35,0a1.17,1.17 0 1,0 -2.35,0 M80.8,447.3a1.19,1.19 0 1,0 2.37,0a1.19,1.19 0 1,0 -2.37,0 M159.0,451.2a0.76,0.76 0 1,0 1.53,0a0.76,0.76 0 1,0 -1.53,0 M144.0,453.0a0.83,0.83 0 1,0 1.66,0a0.83,0.83 0 1,0 -1.66,0 M113.9,461.9a0.68,0.68 0 1,0 1.35,0a0.68,0.68 0 1,0 -1.35,0 M98.7,461.1a0.98,0.98 0 1,0 1.96,0a0.98,0.98 0 1,0 -1.96,0 M67.3,465.9a0.79,0.79 0 1,0 1.58,0a0.79,0.79 0 1,0 -1.58,0 M68.9,446.6a0.75,0.75 0 1,0 1.50,0a0.75,0.75 0 1,0 -1.50,0 M162.4,448.3a0.61,0.61 0 1,0 1.22,0a0.61,0.61 0 1,0 -1.22,0 M94.4,452.7a0.74,0.74 0 1,0 1.48,0a0.74,0.74 0 1,0 -1.48,0 M60.4,446.8a1.14,1.14 0 1,0 2.29,0a1.14,1.14 0 1,0 -2.29,0 M154.2,458.7a1.38,1.38 0 1,0 2.75,0a1.38,1.38 0 1,0 -2.75,0 M111.7,456.2a0.80,0.80 0 1,0 1.60,0a0.80,0.80 0 1,0 -1.60,0 M35.8,463.8a1.05,1.05 0 1,0 2.11,0a1.05,1.05 0 1,0 -2.11,0 M176.4,464.2a1.02,1.02 0 1,0 2.04,0a1.02,1.02 0 1,0 -2.04,0 M45.4,448.4a0.68,0.68 0 1,0 1.35,0a0.68,0.68 0 1,0 -1.35,0 M67.1,461.9a0.96,0.96 0 1,0 1.92,0a0.96,0.96 0 1,0 -1.92,0 M135.9,467.8a0.81,0.81 0 1,0 1.61,0a0.81,0.81 0 1,0 -1.61,0 M96.4,453.4a0.61,0.61 0 1,0 1.22,0a0.61,0.61 0 1,0 -1.22,0 M74.4,461.3a1.31,1.31 0 1,0 2.63,0a1.31,1.31 0 1,0 -2.63,0 M141.7,464.7a1.32,1.32 0 1,0 2.64,0a1.32,1.32 0 1,0 -2.64,0 M113.3,447.6a1.15,1.15 0 1,0 2.30,0a1.15,1.15 0 1,0 -2.30,0 M134.2,445.5a1.38,1.38 0 1,0 2.77,0a1.38,1.38 0 1,0 -2.77,0 M155.3,460.2a0.71,0.71 0 1,0 1.43,0a0.71,0.71 0 1,0 -1.43,0 M97.7,450.6a1.19,1.19 0 1,0 2.39,0a1.19,1.19 0 1,0 -2.39,0 M173.5,453.3a1.20,1.20 0 1,0 2.39,0a1.20,1.20 0 1,0 -2.39,0 M49.2,467.0a1.11,1.11 0 1,0 2.22,0a1.11,1.11 0 1,0 -2.22,0 M172.3,465.2a1.14,1.14 0 1,0 2.29,0a1.14,1.14 0 1,0 -2.29,0 M161.5,455.3a1.37,1.37 0 1,0 2.73,0a1.37,1.37 0 1,0 -2.73,0 M102.4,451.1a1.14,1.14 0 1,0 2.29,0a1.14,1.14 0 1,0 -2.29,0 M160.2,454.0a0.93,0.93 0 1,0 1.87,0a0.93,0.93 0 1,0 -1.87,0 M177.4,452.1a0.63,0.63 0 1,0 1.27,0a0.63,0.63 0 1,0 -1.27,0 M101.3,452.9a1.09,1.09 0 1,0 2.18,0a1.09,1.09 0 1,0 -2.18,0 M87.2,455.5a1.37,1.37 0 1,0 2.75,0a1.37,1.37 0 1,0 -2.75,0 M144.5,451.6a1.38,1.38 0 1,0 2.75,0a1.38,1.38 0 1,0 -2.75,0 M98.1,460.8a0.97,0.97 0 1,0 1.95,0a0.97,0.97 0 1,0 -1.95,0 M42.3,467.2a1.10,1.10 0 1,0 2.20,0a1.10,1.10 0 1,0 -2.20,0 M124.6,452.0a0.83,0.83 0 1,0 1.66,0a0.83,0.83 0 1,0 -1.66,0 M146.4,445.4a0.63,0.63 0 1,0 1.27,0a0.63,0.63 0 1,0 -1.27,0 M63.9,458.6a0.64,0.64 0 1,0 1.29,0a0.64,0.64 0 1,0 -1.29,0" fill="#9a9a9a" opacity="0.45"/>
<path d="M68.2,473.4 L67.1,485.4 L66.6,497.8 L66.8,509.7 L65.2,521.4 L64.9,534.0 L64.2,545.8 L63.4,557.6 M94.9,472.8 L94.9,487.4 L94.4,501.3 L95.0,515.7 L95.7,530.2 L95.3,544.5 L96.2,558.6 L95.3,573.1 M67.4,470.7 L67.7,481.3 L68.5,491.9 L67.2,502.6 L67.7,513.5 L68.6,523.9 L68.2,534.5 L68.3,544.9 M108.6,477.7 L109.1,486.0 L108.7,494.6 L108.7,503.1 L109.9,511.4 L110.6,519.9 L110.2,528.1 L111.3,537.1 M92.9,470.4 L93.5,473.3 L92.8,476.2 L93.9,479.2 L93.5,482.4 L95.1,485.4 L94.2,488.0 L94.8,491.3 M98.5,471.8 L98.5,484.0 L100.2,496.0 L99.6,508.7 L99.3,520.6 L100.7,533.0 L100.1,545.3 L101.2,557.9 M90.2,470.4 L91.1,474.6 L90.7,478.4 L90.5,482.5 L90.5,486.4 L89.6,490.4 L88.9,494.5 L89.8,498.0 M137.8,474.4 L137.9,483.9 L137.3,493.0 L136.8,502.3 L136.0,511.5 L136.4,520.5 L136.2,530.1 L135.1,539.3 M122.4,477.1 L122.7,488.9 L121.2,500.2 L120.3,511.8 L120.0,523.1 L119.8,534.3 L119.6,545.7 L117.8,557.3 M75.6,475.8 L76.4,482.9 L76.6,490.1 L76.1,497.7 L76.8,504.6 L76.7,512.0 L77.2,519.4 L77.8,526.4 M40.1,472.6 L40.1,489.0 L38.8,505.7 L38.9,521.8 L38.6,538.7 L39.1,555.1 L40.0,571.6 L39.3,587.7 M163.0,471.4 L163.1,486.7 L163.8,502.2 L164.6,517.7 L164.7,533.6 L165.2,549.3 L164.4,564.7 L164.8,580.4 M111.0,471.6 L110.5,477.3 L110.2,483.6 L111.4,489.2 L110.9,495.4 L111.0,501.1 L111.2,507.4 L110.2,513.1 M106.6,470.6 L107.7,475.6 L107.2,480.6 L107.6,485.3 L107.4,490.3 L108.1,495.0 L107.3,500.1 L108.2,504.8 M31.9,476.3 L30.9,482.9 L30.7,489.3 L31.4,496.4 L29.6,502.8 L28.8,509.6 L30.2,515.7 L29.0,522.8 M168.1,474.0 L168.0,481.9 L167.0,490.5 L166.1,498.1 L165.8,506.4 L165.3,514.8 L164.4,522.8 L165.0,531.2 M125.3,477.0 L125.7,482.9 L124.7,488.5 L122.9,494.3 L124.2,499.8 L123.1,505.2 L122.4,511.4 L121.4,516.5 M25.1,474.1 L24.6,486.2 L25.9,497.6 L24.0,509.9 L25.4,521.7 L25.4,533.7 L25.1,545.5 L23.6,557.5 M130.4,473.4 L129.9,482.2 L130.5,490.4 L128.5,499.0 L127.9,507.5 L128.5,516.0 L128.4,524.9 L128.1,533.3 M177.6,470.1 L177.1,482.8 L177.6,495.7 L178.3,509.0 L178.5,521.8 L179.6,534.8 L178.9,547.5 L179.6,560.7 M98.4,475.9 L98.3,483.5 L100.2,491.0 L99.4,498.5 L100.3,505.7 L101.2,513.4 L100.3,521.1 L102.1,528.4 M64.1,471.6 L64.1,476.0 L64.6,480.0 L66.3,484.0 L67.2,488.5 L67.1,492.6 L66.5,496.8 L66.9,500.9 M80.7,476.6 L80.7,480.0 L80.9,483.4 L79.0,486.7 L79.1,490.2 L78.6,493.6 L79.3,497.0 L78.0,500.6 M161.9,477.4 L162.5,493.3 L162.3,509.1 L162.9,524.6 L163.8,540.5 L162.8,555.9 L163.9,572.0 L164.8,587.9 M169.1,473.7 L169.2,484.2 L169.0,495.3 L170.2,505.7 L168.4,516.8 L170.4,527.1 L169.1,538.1 L169.3,548.8 M117.6,472.9 L118.6,485.0 L117.5,497.0 L118.3,508.8 L118.3,521.0 L119.1,533.0 L120.5,545.1 L120.6,556.9 M28.8,477.5 L28.5,483.5 L28.4,490.2 L28.7,496.6 L28.5,502.7 L28.7,509.0 L28.6,515.0 L28.7,521.6 M156.7,474.6 L156.1,477.5 L156.8,480.0 L157.8,483.2 L157.4,485.9 L158.2,488.4 L157.4,491.2 L158.5,493.9 M71.4,473.0 L71.6,487.7 L70.5,501.8 L71.7,516.3 L70.8,531.0 L70.9,545.7 L71.1,559.7 L69.8,574.6 M164.9,470.2 L165.3,481.7 L165.7,492.8 L165.7,503.9 L167.0,515.0 L167.1,526.5 L168.0,537.6 L166.6,549.4 M55.2,474.0 L55.1,484.9 L56.0,495.6 L54.5,506.3 L55.5,517.0 L55.1,528.0 L55.2,538.4 L55.1,549.5 M77.2,473.6 L76.2,487.2 L77.1,500.3 L75.6,513.7 L76.2,527.2 L75.2,540.4 L74.4,553.9 L74.7,567.0 M105.2,476.2 L104.6,484.3 L105.0,492.6 L104.7,500.9 L106.6,509.3 L106.0,517.7 L106.6,526.0 L104.9,533.8 M61.4,474.4 L61.0,490.3 L61.9,506.7 L63.2,522.5 L63.3,539.1 L63.6,554.8 L62.9,571.0 L63.8,586.9 M162.6,477.2 L163.8,487.9 L163.4,499.1 L162.9,510.2 L163.1,521.4 L162.9,532.2 L162.7,543.1 L164.1,554.5 M168.9,470.7 L168.7,486.3 L168.9,501.8 L169.2,517.5 L170.2,532.7 L169.0,548.5 L169.7,564.4 L169.8,579.9 M87.5,472.6 L86.4,479.7 L87.2,486.7 L85.8,493.4 L86.2,500.3 L84.9,507.1 L84.5,514.0 L84.8,521.3 M65.4,477.3 L66.6,494.4 L65.3,511.1 L67.0,528.4 L65.7,545.5 L67.8,562.2 L67.8,578.9 L68.1,595.9 M51.8,477.5 L52.1,488.4 L51.9,498.7 L53.0,509.9 L52.8,520.3 L52.7,531.3 L54.4,541.9 L52.9,552.4 M32.0,476.3 L31.8,489.3 L31.9,502.5 L32.0,515.6 L30.9,528.8 L30.9,541.9 L31.4,554.6 L31.3,567.8 M159.5,470.3 L158.2,481.9 L159.2,493.7 L157.3,505.1 L157.8,517.1 L156.2,528.4 L156.8,540.5 L156.2,552.1 M19.9,470.5 L18.9,481.0 L18.8,491.5 L19.1,502.1 L18.5,512.7 L17.6,523.0 L17.4,533.5 L17.5,544.3 M82.0,472.9 L80.8,482.4 L81.6,491.4 L81.6,500.8 L80.5,510.1 L79.6,519.5 L78.5,529.1 L79.2,538.5 M96.6,476.4 L96.0,485.8 L96.4,495.6 L96.9,504.6 L96.7,514.2 L95.7,523.8 L95.9,533.3 L96.7,542.7 M135.6,472.7 L135.2,487.2 L134.5,501.4 L135.2,516.2 L135.0,530.3 L134.7,544.5 L134.8,559.4 L133.3,573.8 M165.0,476.1 L165.2,486.5 L164.7,496.8 L165.6,507.7 L165.2,518.1 L166.7,528.2 L165.5,538.9 L167.1,548.9 M22.6,477.5 L22.4,481.0 L22.0,484.7 L22.8,488.4 L21.7,492.0 L22.6,496.0 L21.2,499.8 L21.3,503.0 M31.2,475.8 L30.1,489.6 L31.2,502.7 L31.4,516.7 L30.2,530.2 L30.3,543.6 L30.6,557.0 L30.1,570.6 M61.6,475.2 L60.5,484.7 L61.2,493.7 L61.7,502.9 L60.1,511.8 L60.4,521.3 L59.9,530.6 L59.1,539.6 M175.0,473.2 L175.0,478.9 L174.4,484.6 L175.5,489.8 L173.8,495.9 L174.3,501.2 L173.4,507.0 L173.9,512.7 M109.8,471.9 L109.2,485.4 L108.6,499.1 L109.1,512.8 L107.7,526.6 L108.9,540.3 L108.2,553.7 L108.2,567.3 M132.5,474.1 L132.3,488.9 L134.1,504.1 L134.7,519.0 L135.3,534.0 L135.2,549.5 L135.0,564.2 L135.8,579.5 M97.2,476.0 L96.6,486.3 L96.5,496.9 L97.2,507.1 L96.9,517.3 L96.9,527.5 L96.5,537.9 L96.6,548.6 M102.3,472.0 L103.6,481.2 L104.0,490.0 L103.8,499.5 L103.3,508.3 L104.1,517.2 L106.2,526.4 L105.2,535.7 M105.2,472.6 L104.5,475.6 L105.3,478.6 L105.4,482.1 L104.6,485.1 L105.8,488.0 L104.6,491.1 L104.8,493.9 M105.7,475.3 L105.8,478.4 L104.5,481.6 L105.1,485.2 L104.7,488.4 L104.3,491.9 L102.9,495.3 L103.7,498.5 M95.0,471.3 L94.7,485.4 L95.4,498.9 L97.4,512.9 L98.0,526.6 L97.8,540.8 L98.6,554.6 L98.9,568.4 M108.8,473.0 L108.4,481.0 L108.8,489.1 L109.4,497.1 L109.6,504.9 L109.1,512.9 L108.7,520.6 L109.2,528.6 M108.4,473.5 L107.6,480.8 L107.7,488.4 L106.2,495.6 L107.3,503.2 L105.5,510.1 L105.7,517.4 L104.5,525.1 M20.3,472.5 L19.7,476.3 L20.2,479.3 L19.4,483.1 L18.8,486.8 L19.1,490.3 L20.3,494.0 L20.0,497.6 M178.6,475.1 L179.3,484.7 L179.1,493.8 L177.5,503.8 L177.7,513.2 L179.1,522.3 L178.2,532.2 L177.5,541.6 M29.3,470.8 L29.3,481.2 L29.5,491.6 L31.7,501.6 L32.0,512.2 L32.3,522.6 L32.7,532.9 L33.0,543.1 M126.3,470.5 L126.7,484.8 L126.2,499.4 L125.7,514.1 L125.6,528.7 L127.0,542.8 L125.8,557.5 L126.0,572.2 M130.5,474.5 L129.3,483.8 L129.0,492.8 L130.1,502.0 L129.4,510.7 L128.1,519.7 L128.3,528.9 L128.1,538.2 M163.3,471.5 L162.0,485.1 L161.8,498.3 L161.6,511.8 L161.0,525.7 L160.5,538.8 L161.2,552.3 L160.3,565.9 M75.1,475.1 L75.9,483.7 L76.0,492.8 L75.6,501.6 L76.1,510.6 L76.4,519.8 L75.4,528.6 L76.1,537.5 M146.2,470.7 L145.8,484.2 L144.8,498.3 L144.7,511.7 L145.2,525.6 L144.5,539.5 L143.6,553.3 L144.5,567.2 M20.7,473.4 L20.0,480.8 L20.6,487.7 L20.5,494.6 L22.0,502.0 L21.7,509.1 L21.5,516.6 L21.3,523.4 M73.3,475.4 L74.6,482.2 L75.2,488.7 L74.8,495.5 L76.4,502.0 L75.1,508.7 L77.4,515.5 L78.0,522.2 M51.1,477.8 L50.3,491.5 L51.2,504.5 L50.3,518.2 L49.3,531.3 L48.0,544.7 L49.3,558.2 L47.3,571.6 M51.9,470.7 L52.8,476.5 L52.2,482.3 L52.4,488.3 L53.1,494.2 L53.2,500.0 L53.5,505.8 L52.5,511.2 M141.2,471.1 L142.3,484.9 L141.9,498.5 L141.7,512.3 L143.5,526.1 L142.9,539.8 L144.4,553.4 L144.0,567.5 M116.8,476.0 L116.3,491.7 L116.6,507.7 L117.0,523.7 L117.4,539.3 L117.5,555.5 L116.9,571.5 L117.9,586.8 M128.3,476.7 L128.2,485.6 L128.1,495.1 L125.9,503.9 L126.5,513.1 L125.8,522.2 L126.4,531.3 L125.5,540.4 M60.7,475.1 L60.9,486.2 L61.3,497.4 L61.8,508.6 L62.6,520.2 L62.5,531.0 L63.1,542.0 L62.8,553.7" fill="none" stroke="#5a5a5a" stroke-width="0.5" opacity="0.28"/>
<path d="M112.1,473.2a0.91,0.91 0 1,0 1.81,0a0.91,0.91 0 1,0 -1.81,0 M133.6,474.7a0.52,0.52 0 1,0 1.05,0a0.52,0.52 0 1,0 -1.05,0 M64.9,472.7a0.74,0.74 0 1,0 1.49,0a0.74,0.74 0 1,0 -1.49,0 M77.9,477.3a0.84,0.84 0 1,0 1.69,0a0.84,0.84 0 1,0 -1.69,0 M60.5,474.0a0.65,0.65 0 1,0 1.30,0a0.65,0.65 0 1,0 -1.30,0 M147.6,475.3a0.59,0.59 0 1,0 1.18,0a0.59,0.59 0 1,0 -1.18,0 M76.6,472.1a0.66,0.66 0 1,0 1.32,0a0.66,0.66 0 1,0 -1.32,0 M119.4,475.6a0.68,0.68 0 1,0 1.36,0a0.68,0.68 0 1,0 -1.36,0 M27.4,476.4a0.62,0.62 0 1,0 1.25,0a0.62,0.62 0 1,0 -1.25,0 M34.4,472.6a0.86,0.86 0 1,0 1.73,0a0.86,0.86 0 1,0 -1.73,0 M119.0,474.6a0.64,0.64 0 1,0 1.27,0a0.64,0.64 0 1,0 -1.27,0 M171.1,476.1a0.62,0.62 0 1,0 1.24,0a0.62,0.62 0 1,0 -1.24,0 M148.3,477.0a0.87,0.87 0 1,0 1.73,0a0.87,0.87 0 1,0 -1.73,0 M102.3,474.8a0.54,0.54 0 1,0 1.08,0a0.54,0.54 0 1,0 -1.08,0" fill="#222" opacity="0.6"/>
<path d="M82.5,522.4L80.3,522.8 M129.9,513.4L128.7,513.5 M162.5,512.8L163.4,512.3 M130.3,517.0L131.9,519.3 M122.7,511.3L121.6,510.3 M96.7,526.2L99.4,526.4 M102.2,534.2L103.5,532.8 M102.3,509.9L102.3,512.5 M88.6,531.5L90.8,533.2 M84.5,512.9L85.3,512.3 M80.0,521.3L80.2,519.1 M135.9,517.9L135.7,516.9 M92.2,521.8L92.8,519.4 M125.5,509.0L126.6,510.2 M24.3,531.6L22.6,531.4 M73.0,526.6L75.5,526.0 M115.3,531.7L116.0,533.1 M180.4,522.3L178.2,522.8 M63.0,516.1L62.3,513.2 M75.2,524.2L76.2,522.0 M157.6,521.2L156.7,519.7 M53.0,515.6L52.7,512.7 M138.4,527.6L137.7,528.5 M75.2,516.7L73.8,514.6 M95.0,510.4L97.1,509.1 M49.3,524.7L50.0,523.1 M168.6,529.9L166.2,530.5 M77.5,528.6L79.6,526.9 M51.9,519.3L51.0,521.0 M122.7,516.6L123.2,514.5 M75.3,527.2L74.0,524.7 M53.3,527.3L51.5,527.6 M60.6,510.1L59.2,508.4 M156.6,518.9L156.9,521.8 M84.6,524.7L86.4,525.6 M133.5,523.4L133.6,526.2 M68.7,510.1L67.0,512.2 M120.7,525.9L119.8,526.9 M187.5,511.6L188.2,510.2 M122.0,515.4L123.4,515.1 M78.6,519.0L79.9,520.0 M121.1,516.6L123.9,515.9 M110.1,519.1L111.3,521.5 M183.6,518.5L181.9,517.7 M95.0,532.5L93.1,530.7 M67.6,510.6L65.7,510.3 M93.9,512.0L96.0,510.4 M103.9,511.0L104.4,513.0 M72.7,511.7L71.8,510.8 M93.0,534.8L93.0,536.1 M120.5,526.7L122.0,524.3 M107.4,513.4L105.5,512.1 M180.4,527.2L181.9,527.1 M97.0,526.1L99.4,525.2 M82.1,508.5L84.2,509.9 M120.1,524.6L119.8,522.9 M76.3,524.4L75.1,524.8 M67.1,511.8L68.6,511.2 M96.6,505.9L95.7,504.6 M54.1,527.0L52.7,526.8 M80.9,529.6L81.0,527.2 M50.3,525.6L49.5,524.1 M145.5,532.8L146.1,531.2 M131.6,511.7L130.6,509.9 M140.1,535.2L137.2,534.9 M79.2,525.1L78.9,523.6 M112.3,504.2L113.3,505.6 M8.6,523.7L6.4,525.2 M141.2,506.7L142.6,507.0 M117.6,531.0L118.6,530.3 M91.6,521.8L93.6,522.5 M94.5,501.8L93.4,502.0 M70.0,516.4L70.1,513.9 M76.5,507.5L76.4,505.2 M87.5,519.7L89.1,521.0 M122.3,522.0L121.8,523.0 M141.5,513.1L140.1,512.5 M51.2,513.2L53.2,512.8 M106.5,511.7L107.4,512.7 M112.4,521.4L111.7,519.4 M109.9,528.6L111.9,529.5 M112.5,515.8L110.5,517.5 M125.3,533.5L126.7,534.7 M170.3,519.0L171.9,520.2 M121.7,528.1L124.6,528.3 M73.1,535.3L73.0,533.7 M65.4,516.3L68.2,515.2 M145.4,515.7L146.6,513.0 M74.3,519.9L72.6,519.2 M66.7,537.2L68.8,536.4 M73.1,517.7L72.6,520.2 M110.7,528.8L111.5,526.9 M127.8,523.3L129.4,524.7 M113.2,523.1L112.9,525.7 M134.1,509.7L132.5,507.2 M160.5,517.5L159.9,520.0 M87.2,538.6L89.9,538.1 M91.4,523.5L92.2,522.0 M97.8,509.7L99.4,508.9 M36.9,526.2L39.3,524.5 M52.7,531.2L50.2,531.6 M164.9,520.6L164.3,518.3 M87.8,526.9L88.9,524.6 M74.3,528.7L73.9,527.3 M15.7,518.7L14.5,517.8 M77.1,527.6L77.4,529.6 M112.0,518.5L113.3,520.5 M140.4,513.7L140.8,511.5 M85.3,521.8L86.3,523.0 M33.6,533.1L32.6,532.3 M99.2,511.5L98.9,513.3 M113.2,523.0L113.6,521.6 M126.3,522.3L128.5,523.5 M95.7,529.4L96.0,528.4 M101.4,515.8L100.9,518.2 M66.7,534.3L65.1,535.4 M119.4,515.4L121.3,515.0 M67.4,530.1L67.8,531.5 M99.1,517.2L97.7,515.9 M60.3,524.9L58.3,524.3 M142.6,513.7L140.7,513.5 M148.4,521.0L147.6,523.5 M43.8,519.6L45.5,521.4 M109.2,508.7L108.4,511.3 M180.9,529.1L183.2,531.0 M100.1,504.5L101.5,503.8 M15.9,524.3L16.0,526.6 M154.1,524.4L155.2,522.7 M71.5,504.3L72.4,503.8 M94.9,518.6L94.4,519.5 M106.1,527.9L106.2,526.4 M82.0,512.3L84.2,511.7 M106.1,508.0L107.8,505.8 M115.6,515.4L115.4,516.8 M103.3,520.8L105.4,522.4 M108.9,508.6L107.3,509.1 M87.0,524.6L86.6,523.1 M69.2,522.1L67.9,522.7 M85.0,522.6L83.5,523.8 M119.9,511.9L122.3,511.0 M96.6,510.7L98.3,510.1 M110.6,527.0L110.2,528.1 M141.7,535.8L141.9,537.0 M100.1,514.7L102.3,514.5 M99.1,511.6L98.0,508.8 M111.5,511.4L111.6,510.1 M94.3,519.3L93.7,521.0 M124.0,512.8L121.5,513.7 M23.9,525.6L24.8,522.8 M151.7,525.2L153.2,523.9 M131.6,516.9L132.6,518.3 M119.5,524.0L120.7,524.5 M135.7,529.9L135.6,531.0 M126.7,502.9L127.6,504.3 M77.8,521.5L76.5,519.0 M167.3,516.0L166.8,517.2 M114.0,516.2L113.0,514.5 M78.7,530.2L77.4,531.0 M67.2,532.4L68.5,530.0 M183.2,522.7L182.3,523.2 M58.2,527.0L59.5,527.2 M189.2,520.7L186.7,519.1 M135.9,525.3L133.2,525.6 M77.0,518.0L78.8,519.3 M81.2,527.9L80.2,528.6 M76.8,512.3L78.6,513.8 M29.4,521.0L28.6,522.1 M103.5,523.4L102.1,523.9 M115.7,520.9L117.9,519.3 M123.2,522.7L122.2,520.6 M74.0,510.0L76.4,511.3 M100.6,514.5L102.6,513.4 M12.2,509.5L9.5,508.9 M89.2,520.8L88.8,519.5 M106.2,520.8L105.8,522.0 M74.9,528.9L76.6,528.8 M45.3,507.7L46.9,508.6 M112.1,530.6L113.3,530.9 M85.9,533.3L84.4,534.1 M124.6,514.9L123.9,516.8 M39.6,515.2L40.4,516.7 M84.0,518.6L85.5,516.9 M120.7,518.0L120.4,516.1 M140.3,525.9L141.0,523.3 M83.3,527.5L82.1,527.6 M132.9,511.5L135.2,509.8 M127.1,518.9L126.3,520.2 M167.8,520.4L169.1,518.7 M147.9,532.7L150.4,533.2 M79.2,523.7L77.3,524.3 M85.5,521.8L84.3,519.8 M39.1,507.9L39.1,509.2 M153.6,514.9L152.6,516.1 M72.9,536.5L70.2,537.0 M76.7,519.9L75.8,520.3 M98.7,529.8L99.8,527.2 M139.8,522.2L138.2,520.1 M106.2,503.6L104.8,504.1 M113.0,507.1L114.1,506.2 M107.4,516.2L105.9,516.5 M116.2,516.3L116.4,519.2 M125.7,526.5L126.9,528.7 M120.3,519.3L120.8,518.2 M66.1,512.1L67.0,513.4 M148.7,528.9L149.8,528.6 M191.5,516.5L192.4,515.2 M140.6,518.4L139.7,519.1 M44.2,521.4L42.5,523.0 M118.9,505.2L118.7,504.0 M156.9,518.8L158.3,519.8 M141.9,509.8L140.4,512.3 M45.9,524.7L44.9,525.9 M93.7,512.3L93.7,510.2 M28.6,526.8L27.4,526.9 M161.0,528.1L160.9,526.1 M46.4,512.2L44.4,510.6 M85.2,508.5L84.3,510.0 M3.3,516.7L4.9,515.2 M35.7,510.9L33.6,511.5 M152.5,528.7L154.0,526.9 M135.7,513.9L137.7,512.4 M56.3,531.3L55.0,533.0 M122.3,508.0L121.8,510.3 M153.3,520.8L150.5,520.3 M176.8,530.1L176.1,532.5 M118.2,513.7L117.5,515.3 M130.8,517.9L131.9,517.6 M93.0,534.0L92.3,531.6 M63.5,516.8L64.8,515.8 M131.9,504.0L130.9,505.3 M47.4,509.7L46.7,510.9 M108.5,515.5L108.9,517.8 M80.1,528.2L79.4,526.6 M93.1,532.3L94.6,530.2 M155.6,510.3L154.0,510.7 M142.0,526.2L140.0,527.5 M33.0,513.7L34.7,514.1 M89.7,513.7L87.9,512.5 M130.1,513.0L130.3,510.5 M57.5,517.2L56.4,517.8 M174.1,514.7L172.9,515.8 M83.3,517.5L81.4,517.5 M150.9,521.7L151.7,523.1 M19.0,519.6L17.5,519.7 M108.5,531.1L108.2,530.1 M99.5,520.7L101.6,522.5 M53.1,524.5L54.7,525.3 M131.5,509.8L133.4,511.8 M168.9,517.2L169.7,520.0 M110.1,512.7L112.0,510.7 M133.6,516.1L135.4,513.8 M155.0,531.6L153.5,531.7 M77.6,517.9L75.0,518.2 M51.1,518.5L52.1,516.1 M45.5,510.7L46.0,513.0 M45.1,521.4L43.0,520.7 M53.8,519.2L52.5,519.6 M48.7,515.0L47.2,514.4 M115.4,515.4L115.8,516.5 M88.5,508.2L86.2,509.0 M88.0,509.4L88.9,512.1 M128.6,518.5L130.6,517.9 M81.9,512.2L84.4,513.4 M121.5,517.4L123.8,518.0 M97.3,519.9L99.1,521.5 M85.7,522.3L83.5,522.7 M31.7,516.4L31.9,517.9 M41.8,510.5L41.2,509.2 M69.9,511.0L69.1,510.2 M151.5,515.3L149.8,515.9 M44.5,526.2L43.4,524.9 M131.9,523.5L132.7,526.2 M72.1,519.0L73.3,518.2 M159.0,517.9L160.3,515.8 M90.7,518.7L93.0,520.6 M137.4,522.0L135.9,519.4 M95.2,518.9L96.0,518.2 M144.4,512.9L142.5,515.1 M121.5,530.0L120.9,528.7 M50.8,533.2L48.9,534.4 M19.3,511.0L20.1,513.6 M109.8,523.3L109.3,524.3 M150.3,521.5L147.5,522.3 M112.1,512.1L112.5,510.5 M120.9,528.3L119.3,529.5 M186.8,509.3L184.9,510.3 M63.8,525.0L62.2,523.5 M77.9,525.9L77.7,523.3 M115.5,527.0L117.3,524.8 M167.3,511.6L165.2,512.9 M109.5,515.7L111.8,516.0 M76.9,528.4L78.8,529.3 M57.2,525.6L56.7,524.0 M72.5,520.8L70.8,521.5 M83.1,520.4L81.9,520.2 M45.3,514.6L46.3,511.8 M108.7,504.5L109.3,506.5 M79.4,529.6L77.7,530.8 M55.2,508.2L56.3,508.4 M90.3,524.2L89.2,524.4 M138.5,503.6L138.7,505.7 M117.0,526.4L117.9,529.0 M151.4,510.6L150.1,510.0 M115.5,530.7L112.7,530.4 M116.9,531.5L116.0,532.0 M103.9,534.6L102.4,537.1 M178.3,517.7L180.2,515.8 M121.7,520.3L121.7,518.0 M132.0,513.0L134.4,514.1 M79.1,514.9L77.3,516.6 M90.0,531.9L91.6,531.0 M83.2,537.0L82.4,538.8 M51.1,512.0L53.0,510.5 M39.8,522.9L39.5,520.7 M167.7,531.1L169.0,531.0 M96.6,531.8L95.0,532.6 M65.4,517.4L66.5,517.9 M156.9,529.8L154.7,531.7 M52.3,515.6L50.3,513.5 M79.2,519.8L78.8,517.2 M128.0,532.2L127.5,533.6 M65.1,513.0L63.7,511.2 M194.7,524.0L194.5,525.4 M108.3,526.2L111.0,527.4 M133.9,515.3L133.2,513.1 M80.2,522.1L80.5,521.0 M110.4,524.1L111.5,525.7 M110.3,516.7L110.3,514.6 M77.1,517.3L76.0,517.6 M81.8,511.0L84.0,511.5" fill="none" stroke="#4a4a4a" stroke-width="0.6" opacity="0.45"/>
<path d="M146.7,607.7L147.6,606.8 M123.8,575.9L125.3,574.4 M127.5,535.5L126.4,534.5 M61.4,548.4L59.3,547.4 M183.7,542.0L184.7,543.2 M64.6,552.4L64.7,554.8 M69.6,555.0L67.6,555.2 M120.6,561.4L122.3,561.8 M136.4,589.4L135.0,586.8 M186.8,566.8L187.5,566.0 M107.3,556.5L109.6,555.9 M69.8,563.3L72.0,561.8 M60.4,576.9L60.6,578.8 M68.4,579.3L69.2,577.7 M94.4,553.6L94.1,552.3 M128.6,605.2L129.8,607.1 M142.5,552.2L142.4,554.0 M81.0,556.1L80.3,555.2 M78.5,553.2L77.3,555.4 M89.4,562.5L89.0,560.4 M122.3,583.4L123.6,583.6 M38.1,577.8L39.9,576.3 M89.0,599.8L90.2,600.3 M38.8,587.2L38.2,585.5 M15.5,574.9L13.6,572.8 M59.4,609.5L61.2,611.1 M144.5,545.9L144.2,547.0 M183.5,569.2L180.9,568.3 M63.8,606.7L63.4,605.5 M117.9,604.3L119.8,602.2 M30.3,548.2L32.7,547.8 M94.4,576.0L96.9,577.0 M124.6,583.9L126.8,584.4 M128.5,588.3L131.4,587.7 M65.4,526.8L63.1,527.1 M127.0,584.3L127.0,585.6 M68.8,580.3L68.3,579.4 M69.5,532.8L67.6,533.8 M136.5,605.5L133.7,606.1 M18.6,550.0L15.8,550.2 M119.9,571.5L120.5,569.8 M115.2,538.2L113.7,538.6 M149.1,580.6L148.8,581.5 M133.4,553.8L132.0,551.5 M111.5,582.2L114.3,582.5 M7.2,569.8L5.8,569.4 M83.1,587.5L84.1,587.0 M99.2,533.2L100.3,532.9 M77.9,563.6L75.7,564.0 M98.4,563.1L100.5,561.2 M90.8,570.7L92.0,572.8 M60.0,598.0L58.5,600.0 M66.8,577.1L64.5,577.9 M52.7,559.5L53.0,556.7 M114.8,562.9L115.6,564.3 M78.4,566.5L77.4,568.9 M112.2,571.9L113.2,571.0 M122.6,534.1L121.9,534.8 M175.8,570.1L174.3,571.7 M132.2,590.3L130.9,591.7 M151.3,541.9L150.3,541.1 M91.2,554.2L91.2,555.4 M174.3,567.9L174.2,566.8 M131.9,575.4L133.8,575.8 M77.8,559.1L78.3,556.8 M109.2,561.7L108.8,560.7 M111.8,578.9L110.6,577.2 M164.0,561.7L164.4,562.8 M113.6,583.3L112.3,583.3 M61.7,546.9L63.3,548.1 M89.3,587.6L88.2,589.8 M38.5,561.4L37.0,561.7 M99.6,559.7L98.1,559.0 M92.9,539.3L92.4,540.4 M105.3,535.4L102.8,535.2 M147.2,581.0L145.7,581.9 M72.4,539.7L71.0,539.0 M124.0,548.5L124.1,550.5 M27.2,567.1L28.4,564.3 M119.9,591.8L118.2,591.3 M53.2,571.9L50.8,573.1 M145.8,563.1L144.3,564.3 M143.5,593.0L144.4,592.4 M122.9,580.4L120.6,580.6 M93.5,569.0L92.9,571.2 M125.7,590.7L125.2,589.6 M80.5,574.2L81.0,573.3 M71.1,577.7L69.1,578.2 M106.0,589.9L106.3,591.7 M122.9,563.2L121.8,563.4 M114.5,565.2L115.4,563.5 M91.6,581.2L89.2,582.1 M93.3,568.6L93.7,567.4 M55.3,544.8L56.4,544.3 M122.9,578.8L123.3,581.4 M126.0,552.5L124.9,552.7 M57.6,573.8L57.2,572.2 M108.1,607.3L109.2,604.7 M172.6,561.0L174.7,561.7 M85.6,578.5L84.5,577.3 M106.7,593.6L106.5,590.9 M51.6,568.6L49.6,568.4 M157.5,585.8L158.3,586.6 M41.7,568.5L39.4,570.4 M94.5,588.7L94.1,591.3 M95.3,578.0L94.7,578.9 M100.5,595.3L101.7,593.0 M75.5,568.2L75.7,566.6 M156.7,564.5L159.3,565.1 M81.6,561.2L81.9,563.6 M124.9,600.7L125.5,598.2 M29.9,584.2L28.3,584.1 M105.1,570.6L106.6,572.6 M140.9,577.6L139.8,578.3 M61.2,548.9L63.3,550.3 M125.6,577.0L126.0,574.6 M75.0,570.4L73.0,568.3 M159.9,595.3L161.6,595.8 M72.2,596.3L74.4,597.0 M73.4,551.0L74.6,548.7 M133.0,570.5L134.9,571.4 M109.9,562.5L110.1,563.7 M113.8,569.9L112.7,568.3 M128.1,561.6L128.0,564.6 M76.2,584.5L76.2,586.5 M49.6,560.2L50.7,561.6 M143.5,597.8L142.8,599.5 M169.1,596.2L169.2,594.7 M65.9,546.8L63.4,546.0 M101.1,572.8L100.8,571.4 M148.4,600.1L150.1,600.1 M101.6,537.2L99.1,536.9 M36.2,568.5L36.9,570.4 M154.0,573.7L153.5,571.6 M165.1,568.4L166.6,569.2 M119.6,559.9L119.1,557.9 M159.5,550.2L159.9,548.2 M74.2,566.2L73.6,564.1 M80.1,582.4L80.2,581.1 M96.9,571.7L98.8,573.1 M56.1,565.5L55.6,564.5 M122.7,536.0L121.7,537.0 M35.6,552.8L34.4,554.9 M158.4,542.9L159.1,542.0 M60.7,548.6L59.6,549.6 M62.8,565.8L62.5,564.5 M74.1,587.3L74.5,589.7 M58.5,572.2L58.4,575.0 M42.5,570.3L41.8,572.6 M115.0,563.9L114.2,563.3 M112.5,568.2L111.0,568.1 M145.2,567.0L145.6,569.9 M132.5,578.0L134.3,580.3 M97.1,547.7L97.5,545.4 M95.9,572.1L94.9,571.2 M4.4,579.4L1.6,579.7 M143.1,586.5L140.6,587.3 M171.0,535.3L170.4,534.2 M91.8,545.2L90.0,546.8 M97.9,571.2L98.9,571.7 M88.6,554.0L90.0,552.9 M143.1,571.9L144.4,571.6 M189.4,570.6L191.0,573.0 M146.8,544.9L147.0,546.3 M92.3,596.7L91.0,597.0 M70.6,533.1L69.5,533.1 M22.1,551.7L24.3,552.6 M116.7,536.4L116.8,538.0 M133.7,577.1L132.8,579.0 M35.3,597.8L35.6,599.9 M73.2,592.8L75.0,591.6 M101.8,555.8L103.1,558.2 M79.7,548.7L78.5,549.0 M98.7,577.9L96.7,578.9 M48.9,574.6L50.1,577.1 M46.6,604.3L45.3,604.4 M66.5,590.7L66.6,593.4 M120.0,531.0L122.1,529.4 M49.8,560.4L51.2,561.1 M95.0,536.7L94.6,538.6 M62.3,600.9L64.4,598.8 M21.6,561.6L21.3,560.0 M39.9,585.2L38.1,583.8 M22.2,577.9L21.1,578.7 M174.5,567.1L175.7,567.2 M109.3,573.1L107.9,573.6 M33.4,587.8L34.5,588.1 M102.8,563.0L101.6,562.7 M128.0,598.8L126.7,598.2 M141.5,560.7L142.6,559.2 M87.7,551.0L88.7,550.1 M48.2,578.6L50.4,578.3 M146.8,573.0L145.2,572.7 M163.8,573.0L162.7,574.4 M80.5,564.8L81.4,566.9 M89.2,567.3L87.3,566.8 M139.2,554.3L140.3,554.7 M88.4,535.7L86.7,536.6 M99.0,552.1L97.9,552.2 M72.2,599.2L71.4,600.4" fill="none" stroke="#666" stroke-width="0.5" opacity="0.4"/></g>
 </g>
 <path d="M19,437 H180 V442.6 L120,442.2 L99,441.6 L96.2,441.6 L95.6,452 L94.6,452 L93.6,441.6 L70,442 L40,443 L19,443.5 Z" fill="#e9e9e9"/>
 <path d="M19,443.5 L40,443 L70,442 L93,441.6 M97,441.6 L120,442.2 L180,442.6" fill="none" stroke="#555" stroke-width="0.8"/>
 <ellipse cx="128.5" cy="548" rx="1.4" ry="2.2" fill="#111"/>
 <rect x="158.7" y="601.5" width="12.5" height="2.5" fill="#000"/>
</g>
<rect x="19.4" y="437" width="159.6" height="174" fill="none" stroke="#444" stroke-width="1"/>
<!-- CONTRA control -->
<g clip-path="url(#ci2)">
 <g filter="url(#tex2)">
  <rect x="183" y="261" width="161" height="175" fill="url(#gC1)"/>
  <path d="M212,284 L302,284 L312,400 L318,436 L208,436 L206,400 Z" fill="#e0e0e0" filter="url(#gb8)"/>
  <ellipse cx="257" cy="287" rx="46" ry="12" fill="#cdcdcd" filter="url(#gb4)"/>
  <ellipse cx="262" cy="281" rx="30" ry="7" fill="#c0c0c0" filter="url(#gb4)"/>
  <ellipse cx="252" cy="348" rx="30" ry="6" fill="#d2d2d2" filter="url(#gb2)"/>
  <ellipse cx="262" cy="430" rx="85" ry="36" fill="#a2a2a2" filter="url(#gb8)"/>
  <ellipse cx="190" cy="430" rx="14" ry="18" fill="#a0a0a0" filter="url(#gb4)"/>
  <ellipse cx="330" cy="432" rx="16" ry="12" fill="#a8a8a8" filter="url(#gb4)"/>
  <path d="M184,436 L184,432 Q220,426 265,425 Q310,426 344,432 L344,436 Z" fill="#555" filter="url(#b1)"/>
  <ellipse cx="266" cy="441" rx="64" ry="11" fill="#111111" filter="url(#gb2)"/>
  <g filter="url(#soft)"><path d="M251.6,291.0 L253.2,297.6 L252.7,304.2 L253.7,310.7 M257.1,408.9 L256.4,414.5 L255.3,420.2 L253.9,425.1 M248.7,288.2 L248.7,291.0 L248.9,294.1 L251.5,297.0 M279.3,386.3 L278.3,388.7 L278.9,390.6 L277.3,393.2 M266.0,292.6 L267.1,298.5 L267.5,304.6 L267.5,310.5 M248.2,374.7 L247.3,379.9 L246.7,385.4 L244.8,390.7 M280.0,331.4 L281.7,338.0 L280.8,345.3 L282.8,352.1 M246.6,419.5 L245.1,423.7 L244.9,427.4 L245.4,431.3 M264.0,375.8 L263.8,377.6 L262.6,380.0 L260.2,382.3 M267.0,292.3 L268.4,299.0 L268.3,306.1 L268.2,312.9 M231.6,391.0 L230.9,394.0 L229.1,396.5 L230.5,399.4 M229.0,308.6 L229.4,314.4 L229.8,320.3 L230.9,326.9 M256.3,371.4 L256.3,378.6 L256.4,385.1 L255.9,392.5 M248.5,403.5 L248.2,409.1 L249.0,414.6 L249.9,419.5 M265.8,404.0 L265.8,406.7 L266.3,409.7 L267.6,412.2 M259.8,351.2 L260.5,355.0 L258.7,359.0 L259.1,362.6 M288.8,369.8 L287.8,374.9 L288.3,380.0 L289.0,384.8 M237.3,311.7 L236.9,315.0 L237.5,318.9 L236.2,321.9 M236.9,348.6 L236.2,352.9 L236.6,357.3 L234.6,361.4 M304.1,315.7 L303.9,321.2 L304.3,327.1 L302.5,332.8 M283.5,302.4 L283.4,308.8 L284.8,314.7 L285.4,320.9 M227.0,356.1 L226.5,360.8 L226.7,366.0 L226.0,370.3 M279.4,409.3 L280.6,413.6 L281.6,417.9 L281.3,422.5 M315.0,417.3 L314.7,422.2 L314.1,427.5 L315.6,432.5 M267.9,353.2 L269.5,356.7 L268.4,360.3 L269.8,363.1 M236.5,322.0 L235.9,327.1 L235.9,332.7 L234.6,338.0 M263.7,353.9 L263.8,357.9 L261.8,361.4 L263.1,364.7 M241.5,381.6 L241.0,388.5 L241.4,395.8 L240.0,403.0 M264.1,287.9 L263.9,291.2 L263.1,294.2 L262.0,297.4 M272.5,377.4 L272.7,381.9 L273.2,386.2 L273.4,390.8 M205.6,349.5 L205.9,353.5 L205.9,356.9 L206.1,360.8 M257.6,375.4 L257.5,379.3 L258.6,383.3 L258.9,387.3 M229.5,275.6 L229.5,282.5 L229.2,289.5 L227.6,296.5 M236.4,344.7 L236.2,350.3 L237.4,356.3 L240.0,362.2 M281.9,367.5 L283.3,373.0 L282.8,378.0 L282.8,383.3 M302.9,285.7 L300.9,291.7 L300.9,296.9 L301.0,302.6 M272.4,318.1 L270.9,322.6 L271.7,327.9 L271.9,332.8 M244.8,298.0 L246.7,302.8 L247.3,307.7 L248.0,312.5 M296.5,298.5 L297.0,301.3 L295.5,304.1 L295.6,306.1 M285.7,398.6 L284.6,404.7 L284.7,410.5 L284.7,416.6 M292.5,395.5 L291.5,400.3 L290.7,405.4 L291.5,410.8 M296.1,281.9 L295.1,286.2 L294.6,289.9 L293.2,293.9 M195.0,411.6 L195.7,415.7 L196.0,419.4 L195.4,423.3 M243.8,346.0 L243.4,352.2 L242.1,358.6 L241.8,364.7 M237.9,301.4 L238.1,303.2 L238.6,305.8 L238.2,307.8 M272.4,316.7 L270.7,320.0 L270.4,323.3 L269.4,326.9 M226.7,279.6 L228.5,286.5 L227.3,293.7 L228.8,300.9 M261.6,336.1 L261.4,341.3 L262.1,346.8 L260.7,351.6 M277.0,296.6 L276.8,303.7 L274.4,310.9 L274.9,318.1 M314.3,331.7 L314.5,337.8 L313.1,344.2 L313.2,350.4 M207.6,277.4 L208.2,283.2 L209.6,290.0 L208.7,295.9 M258.7,337.1 L257.4,343.3 L256.8,348.7 L257.1,354.3 M232.4,300.8 L233.0,305.6 L232.1,310.7 L232.9,315.5 M315.0,281.8 L314.5,288.1 L314.0,295.3 L314.6,301.5 M282.2,405.1 L284.0,410.7 L283.6,415.7 L286.0,421.2 M270.0,320.9 L270.4,326.7 L270.3,332.2 L270.9,337.8 M256.5,336.2 L256.9,340.0 L259.5,342.8 L259.4,346.8 M306.4,310.1 L307.3,316.3 L307.7,322.9 L305.9,329.0 M229.3,381.9 L228.0,385.9 L228.6,390.7 L227.3,394.5 M248.0,403.6 L247.8,407.9 L248.2,412.6 L249.0,416.4 M278.6,413.8 L279.3,418.8 L278.5,423.9 L277.2,429.1 M232.6,327.8 L232.4,329.9 L231.0,332.7 L229.1,335.4 M269.4,418.8 L267.9,421.2 L267.8,422.9 L268.3,424.7 M217.2,356.7 L217.6,358.5 L219.0,361.4 L219.8,363.5 M261.1,329.8 L260.5,337.2 L259.6,344.7 L258.2,351.4 M271.0,361.7 L271.7,364.8 L271.8,368.6 L270.7,372.1 M233.0,391.9 L232.6,396.0 L232.8,400.0 L232.5,404.0 M217.9,317.8 L216.5,321.3 L215.8,325.3 L215.4,328.7 M239.9,282.9 L240.5,289.1 L240.5,294.8 L241.4,301.5 M260.0,353.7 L260.2,358.8 L260.7,363.7 L261.9,368.8 M308.8,309.3 L309.1,312.2 L309.3,315.2 L307.9,318.2 M265.7,415.1 L266.4,419.4 L265.5,423.2 L265.3,428.2 M227.1,418.3 L227.2,421.1 L229.7,424.2 L229.9,426.6 M271.3,386.1 L272.5,391.4 L271.0,396.8 L273.4,402.2 M261.1,369.5 L261.2,375.7 L262.3,381.4 L261.4,387.2 M279.4,412.6 L279.9,418.9 L279.3,425.3 L278.1,431.3 M222.2,389.2 L223.9,394.0 L223.9,398.1 L224.0,402.8 M276.6,338.5 L275.8,341.9 L278.2,345.5 L277.0,349.3 M315.0,338.5 L316.0,342.8 L314.2,346.9 L314.7,350.8 M272.4,346.3 L273.3,353.2 L273.8,360.1 L275.3,367.3 M242.8,289.1 L243.9,292.3 L244.9,295.4 L246.2,298.6 M235.4,367.7 L233.6,375.0 L232.9,381.9 L233.0,388.8 M270.7,296.3 L271.1,298.8 L272.6,301.0 L274.5,304.1 M244.5,398.2 L244.6,400.5 L244.5,402.6 L242.0,404.3 M289.5,387.4 L289.1,391.7 L287.0,396.5 L286.9,400.7 M288.0,300.0 L289.4,307.1 L290.0,314.3 L290.5,320.9 M236.4,374.1 L238.0,377.0 L238.0,380.0 L240.0,382.9 M283.5,347.8 L282.2,354.3 L283.0,360.7 L280.7,367.2 M261.0,407.1 L261.2,411.8 L261.3,416.1 L262.5,420.7 M295.5,324.6 L296.8,331.8 L298.1,339.5 L299.0,346.1 M275.8,355.1 L275.0,358.1 L274.8,360.2 L273.9,362.6 M223.6,395.6 L224.0,399.2 L223.7,402.7 L222.0,407.0 M269.1,328.2 L268.6,330.7 L268.6,333.5 L267.7,336.5 M271.4,275.4 L271.6,282.9 L271.8,289.9 L271.2,297.0 M273.1,321.4 L271.8,328.4 L271.2,334.7 L272.0,341.7 M267.3,352.1 L268.1,358.8 L269.0,365.1 L269.3,371.7 M292.0,278.0 L292.2,284.8 L290.6,291.5 L292.6,298.8 M226.4,287.8 L226.0,292.4 L225.7,297.0 L226.4,301.7 M269.8,368.0 L270.8,372.7 L270.6,378.2 L271.2,383.4 M263.4,399.8 L263.2,404.6 L264.8,409.5 L267.0,413.8 M245.6,303.2 L245.1,308.7 L244.2,314.4 L244.8,319.7 M252.1,308.9 L251.2,315.5 L250.6,322.3 L249.6,328.3 M254.7,299.3 L254.4,304.4 L252.1,310.5 L253.0,315.7 M269.7,373.2 L270.2,376.0 L268.9,378.8 L268.8,381.0 M269.9,293.4 L271.4,299.1 L270.8,305.2 L272.0,310.9 M266.9,301.8 L265.9,307.5 L266.5,312.7 L265.1,318.3 M235.3,336.1 L236.6,339.2 L236.5,341.6 L236.0,344.5 M263.2,314.0 L263.6,317.1 L263.2,319.8 L264.3,322.6 M272.0,396.2 L271.5,403.3 L270.2,410.7 L270.9,417.6 M308.3,418.0 L307.7,422.8 L308.5,427.7 L308.2,433.1 M231.0,331.7 L231.0,334.4 L232.2,336.2 L234.8,339.1 M252.5,398.7 L254.4,403.8 L255.3,408.4 L256.2,413.7 M241.8,356.1 L240.3,357.9 L241.2,359.9 L240.7,362.1 M222.0,365.1 L223.0,370.5 L223.5,376.3 L225.7,381.7 M271.5,384.3 L271.3,389.2 L271.9,393.7 L272.4,398.6 M234.5,400.2 L235.5,403.0 L234.6,406.8 L233.8,409.3 M253.5,286.3 L254.1,290.1 L255.5,293.4 L257.0,296.1 M235.4,408.7 L234.0,414.0 L234.4,419.5 L232.3,424.5 M252.1,384.1 L253.0,390.3 L254.5,396.1 L253.7,401.7 M271.7,305.9 L271.2,311.3 L270.3,316.1 L267.9,321.3 M291.2,370.8 L291.2,373.5 L291.7,377.0 L292.4,379.7 M250.6,281.1 L249.7,285.6 L251.6,289.8 L251.9,294.4 M270.1,373.8 L269.1,380.0 L267.6,386.5 L268.9,393.1 M229.3,284.6 L228.3,287.3 L228.1,290.0 L227.3,293.2 M280.7,405.3 L281.8,410.4 L282.4,415.9 L283.7,420.9 M232.0,303.9 L232.2,308.3 L230.3,312.8 L231.1,317.3 M264.5,315.7 L263.4,321.9 L265.1,327.7 L263.2,334.3 M239.1,351.0 L239.0,357.6 L239.9,364.3 L238.4,370.4 M290.6,307.6 L291.5,309.6 L292.2,311.8 L292.9,314.1 M219.7,310.6 L219.3,315.6 L221.8,320.2 L222.4,325.6 M268.4,337.5 L267.7,341.9 L268.8,346.1 L270.4,350.1 M263.4,276.9 L262.9,278.6 L262.3,280.7 L260.2,283.3 M268.2,284.2 L268.2,287.4 L270.2,290.2 L271.7,293.5 M220.3,361.5 L220.8,367.5 L222.9,373.2 L222.7,378.9 M274.0,293.9 L273.6,299.5 L274.8,304.8 L275.0,310.4 M284.6,364.0 L283.3,366.2 L283.0,368.5 L282.7,370.5 M255.7,322.5 L255.8,326.4 L255.9,330.2 L255.0,334.2 M280.8,305.7 L280.8,309.7 L282.1,313.1 L280.6,317.0 M248.5,302.8 L249.3,307.0 L250.6,310.8 L250.9,315.4 M248.5,410.9 L246.8,417.7 L246.1,424.5 L246.3,431.9 M280.3,350.3 L280.0,352.6 L280.1,354.7 L281.1,356.7 M280.1,348.3 L280.7,352.0 L280.6,356.1 L280.6,360.5 M237.8,297.3 L238.7,302.3 L237.7,307.2 L238.7,312.6 M239.1,326.5 L238.4,332.2 L239.8,337.9 L240.1,344.3 M234.4,329.7 L235.6,333.9 L234.4,337.4 L235.3,341.5 M315.0,322.3 L315.7,328.2 L313.0,333.3 L313.5,339.2 M250.7,357.2 L251.7,363.7 L251.3,369.8 L250.8,376.2 M277.8,298.4 L278.6,305.6 L277.9,312.6 L277.2,319.8 M251.3,398.2 L251.4,401.7 L252.6,405.0 L253.2,407.9 M246.1,376.9 L244.7,380.7 L244.0,385.2 L244.5,389.4 M263.2,361.8 L263.7,364.6 L262.9,367.8 L263.3,370.7 M220.9,402.6 L222.4,409.5 L222.0,415.7 L222.8,422.1 M231.1,346.1 L232.0,350.6 L230.1,354.2 L232.2,359.0 M275.0,276.4 L274.6,278.7 L276.3,281.8 L276.0,284.0 M212.0,311.1 L212.1,314.7 L213.8,317.7 L215.2,321.4 M262.6,326.4 L260.8,332.5 L260.1,338.6 L260.4,345.3 M247.0,305.4 L247.8,309.6 L247.5,313.6 L246.1,317.9 M288.9,411.4 L287.9,416.6 L288.6,421.8 L288.0,427.4 M236.4,315.5 L236.8,320.5 L236.4,325.2 L235.5,329.8 M203.0,330.5 L202.5,335.0 L203.2,338.9 L205.4,343.2 M272.7,418.6 L271.8,423.6 L270.5,428.4 L269.8,432.6 M259.8,339.4 L259.3,342.9 L260.1,347.1 L260.9,350.8 M237.2,356.7 L237.7,361.3 L239.6,365.9 L240.5,370.7 M254.0,315.0 L252.7,322.2 L253.2,329.6 L252.4,336.3 M259.4,407.1 L259.2,412.8 L259.9,419.0 L258.7,424.6 M310.6,326.8 L310.4,332.5 L309.9,338.3 L306.7,343.7 M196.5,377.8 L196.8,382.1 L195.8,386.7 L196.1,391.0 M225.6,364.4 L226.7,371.0 L227.4,377.2 L228.4,383.5 M258.8,285.3 L258.8,290.1 L257.7,294.9 L255.8,299.7 M200.2,315.6 L201.1,321.9 L202.6,328.1 L203.4,333.6 M282.0,305.0 L282.4,311.2 L284.2,317.0 L283.9,323.2 M212.0,354.6 L212.2,357.3 L213.5,360.3 L212.0,362.8 M195.0,305.8 L195.0,311.3 L194.7,316.5 L194.0,321.6 M220.8,355.1 L220.9,356.8 L221.7,359.2 L223.1,361.7 M284.6,336.3 L285.9,338.3 L286.4,340.6 L285.6,342.8 M234.1,285.8 L233.9,290.9 L235.5,295.5 L234.7,300.9 M298.0,402.6 L298.2,408.5 L300.3,414.5 L300.7,421.0 M285.5,331.0 L286.4,334.0 L285.3,336.9 L286.9,339.6 M279.0,272.1 L279.3,278.0 L278.8,283.6 L278.2,289.2 M295.2,329.3 L293.6,332.5 L294.3,335.7 L291.5,338.9 M248.3,367.9 L247.5,370.5 L247.7,372.7 L248.3,375.3 M261.7,301.0 L261.4,305.8 L262.0,311.0 L260.8,316.0 M224.7,313.7 L225.0,316.3 L225.4,319.7 L226.4,322.3 M255.9,323.0 L256.0,328.1 L255.1,333.2 L254.5,338.2 M195.4,281.9 L195.5,288.2 L192.9,294.5 L191.8,300.3 M229.0,285.2 L229.5,288.2 L230.0,290.9 L231.4,293.3 M283.1,302.3 L284.3,309.3 L283.9,316.9 L284.8,324.2 M241.2,394.1 L240.7,401.4 L241.6,408.5 L239.3,415.8 M282.3,317.5 L281.9,322.7 L282.1,328.0 L283.1,332.6 M232.8,393.0 L231.3,397.2 L232.4,401.8 L231.3,405.9 M309.6,381.7 L310.6,386.0 L310.4,391.1 L310.6,395.9 M228.3,359.2 L226.8,365.6 L227.9,371.8 L226.1,378.6 M209.7,361.8 L210.3,365.3 L209.5,368.5 L210.1,371.3 M257.5,372.9 L255.9,376.7 L256.7,379.9 L255.3,384.0 M249.3,372.8 L249.7,380.0 L250.2,387.2 L248.8,394.9 M225.9,293.7 L224.5,299.9 L224.4,306.4 L224.3,312.5 M247.2,418.8 L246.4,424.3 L249.1,430.4 L248.7,435.6 M269.6,294.3 L270.9,296.3 L270.3,298.9 L270.2,301.4 M248.4,359.4 L247.8,365.6 L247.0,371.7 L245.9,377.5 M250.6,404.0 L249.1,406.3 L250.4,408.6 L249.7,411.0 M220.0,347.1 L220.2,350.5 L219.1,354.2 L218.1,357.9 M230.2,314.0 L230.1,318.6 L231.3,322.9 L230.3,327.1 M280.6,331.4 L280.7,335.6 L278.3,339.7 L278.3,343.9 M308.7,414.6 L310.0,416.9 L309.2,419.2 L308.6,421.7 M283.6,378.3 L283.9,381.2 L285.0,384.2 L286.4,386.8 M238.1,372.9 L238.9,375.1 L238.4,377.0 L239.9,379.0 M286.7,329.7 L286.3,335.3 L286.4,341.3 L286.6,347.2 M220.3,382.5 L219.1,389.0 L219.3,395.5 L218.0,402.4 M241.3,308.5 L242.2,315.8 L242.7,322.9 L241.7,330.0 M243.4,352.8 L242.6,359.6 L243.2,366.6 L244.9,373.0 M258.2,410.0 L258.9,413.2 L259.2,416.2 L260.2,418.9 M210.3,322.8 L209.7,328.3 L212.1,333.0 L211.9,338.4 M294.8,348.8 L295.9,355.6 L296.2,363.0 L297.9,370.3 M261.5,305.2 L260.8,308.3 L262.0,311.3 L263.3,314.0 M223.0,278.9 L223.6,283.6 L222.7,288.7 L223.5,293.1 M258.8,320.1 L258.0,324.3 L258.7,328.9 L258.7,333.6 M201.5,349.6 L202.2,352.6 L202.3,356.0 L201.9,359.6 M263.2,367.2 L264.8,369.5 L264.6,372.3 L266.2,375.3 M282.0,342.0 L281.6,344.3 L282.4,346.4 L284.2,349.0 M281.0,398.8 L279.5,402.5 L280.4,406.7 L278.8,410.0 M233.3,347.0 L233.0,353.0 L232.3,359.4 L232.6,365.5 M298.0,381.6 L297.7,387.3 L299.3,393.0 L297.8,398.5 M241.8,291.1 L243.7,298.4 L243.2,305.2 L243.4,312.7 M243.5,402.6 L243.8,404.6 L245.1,406.9 L246.4,409.0 M296.6,394.4 L296.3,400.3 L297.7,406.6 L298.1,413.3 M214.6,354.2 L213.3,357.4 L213.1,360.1 L212.4,363.5 M222.1,397.9 L221.4,405.2 L220.9,412.7 L220.8,419.4 M256.9,272.9 L257.5,276.7 L256.7,280.6 L258.1,284.8 M260.9,352.4 L260.6,358.5 L261.1,364.9 L263.1,371.1 M238.8,317.1 L237.4,319.3 L237.7,321.9 L237.2,324.8 M249.0,296.4 L248.0,300.9 L249.7,305.7 L249.0,309.8 M256.4,382.5 L256.6,386.4 L257.8,390.7 L256.8,394.4 M206.7,371.1 L207.6,375.7 L208.1,380.0 L208.3,384.3 M251.7,289.9 L251.3,294.2 L250.6,299.1 L250.1,303.5 M315.0,409.1 L314.5,412.8 L314.0,416.7 L314.0,420.6 M240.4,380.5 L240.9,386.8 L240.4,393.0 L240.7,399.0 M230.1,308.2 L230.2,313.3 L231.2,318.3 L232.5,323.5 M219.2,381.1 L219.4,387.6 L219.1,394.6 L216.9,401.0 M273.0,362.5 L272.3,368.6 L272.6,374.1 L270.3,379.8 M210.1,282.3 L210.6,284.6 L209.2,286.9 L207.7,289.2 M274.7,357.8 L274.9,362.5 L277.1,367.9 L276.2,372.9 M239.8,330.8 L240.6,336.8 L242.2,343.0 L242.1,349.5 M309.1,348.8 L308.9,353.2 L309.9,358.3 L309.2,362.9 M233.5,299.3 L232.2,305.0 L233.7,310.5 L233.5,315.3 M250.8,408.5 L252.3,414.0 L251.1,419.1 L253.5,424.6 M278.4,303.1 L280.1,308.6 L279.1,314.9 L281.4,320.9 M232.9,275.6 L233.2,279.3 L232.0,282.9 L232.0,286.0 M241.5,333.5 L241.2,337.7 L241.5,342.3 L238.7,346.8 M266.0,289.5 L266.3,295.1 L267.2,300.5 L267.5,306.6 M270.6,285.2 L269.5,287.6 L269.3,290.6 L269.9,293.2 M221.4,384.5 L221.1,391.6 L219.1,398.5 L219.4,405.3 M200.8,351.3 L201.6,357.1 L201.2,362.1 L201.1,367.8 M273.5,388.9 L272.9,394.4 L272.8,400.3 L275.4,405.6 M268.5,314.4 L269.4,317.3 L269.6,320.1 L271.1,322.7 M297.2,369.0 L297.0,375.3 L295.2,381.7 L295.5,387.5 M273.6,286.4 L272.3,293.5 L271.7,300.6 L271.0,307.7 M272.2,276.0 L273.6,282.7 L274.9,290.4 L274.3,297.0 M246.1,296.0 L245.1,299.3 L245.0,302.6 L247.2,305.6 M258.9,305.8 L258.8,308.7 L257.6,311.0 L258.4,314.0 M250.5,373.3 L250.4,378.6 L248.7,383.9 L249.1,389.9 M227.8,407.3 L228.5,412.6 L226.2,418.1 L227.4,423.9 M273.3,327.1 L272.1,331.3 L271.1,335.8 L270.8,339.8 M282.4,385.8 L281.3,391.7 L283.4,398.5 L282.6,404.3 M277.8,331.0 L276.2,337.1 L276.3,343.2 L276.1,349.3 M240.0,276.5 L241.4,282.3 L241.2,287.9 L242.7,293.8 M260.1,340.4 L258.2,343.9 L258.1,346.8 L257.1,349.9 M260.5,376.2 L259.8,378.4 L260.8,380.4 L260.7,382.5 M238.5,309.6 L236.6,311.5 L237.4,314.1 L235.5,316.0 M282.7,337.0 L282.3,340.6 L281.4,343.8 L282.4,347.3 M198.6,375.5 L198.8,380.0 L196.5,384.5 L195.4,389.2 M256.6,279.5 L256.0,284.4 L256.1,289.9 L257.8,294.9 M205.2,411.3 L206.2,414.0 L206.3,415.9 L205.3,418.2 M265.3,388.1 L265.6,390.5 L265.3,392.8 L266.8,395.1 M254.8,330.5 L256.1,335.8 L256.1,341.0 L258.2,346.4 M228.6,315.3 L227.4,319.3 L227.6,323.4 L227.9,327.7 M279.1,306.5 L278.0,309.6 L279.5,312.5 L278.2,315.4 M315.0,338.0 L316.4,339.9 L315.7,342.5 L316.7,343.9 M206.5,341.2 L207.2,345.7 L206.8,350.3 L207.6,355.5 M304.7,364.9 L306.7,367.7 L307.2,369.7 L307.8,372.6 M263.7,356.6 L265.1,361.7 L264.4,366.7 L267.1,372.5 M250.8,364.6 L251.7,372.0 L253.4,379.3 L254.4,386.4 M220.5,317.0 L220.9,320.0 L221.2,322.5 L223.0,325.3 M224.0,336.8 L224.1,338.7 L221.6,340.9 L222.0,342.7 M267.2,396.7 L266.0,403.3 L265.7,409.8 L265.5,415.9 M287.5,359.4 L287.5,365.9 L287.0,372.0 L287.8,378.4 M228.5,371.2 L227.7,377.4 L228.8,384.4 L228.9,391.0 M262.3,324.5 L263.5,326.5 L263.4,329.2 L265.2,331.2 M226.5,321.3 L226.8,325.4 L225.8,329.5 L224.5,333.1 M217.9,409.1 L217.7,414.7 L216.4,420.4 L216.9,426.0 M210.2,339.1 L208.1,342.8 L207.5,346.1 L208.7,349.9 M258.3,332.2 L257.6,337.1 L257.5,341.8 L256.1,346.9 M202.8,346.3 L202.7,351.4 L204.3,357.2 L205.7,362.1 M228.8,364.2 L227.7,366.8 L228.2,369.1 L228.2,371.2 M241.5,383.8 L243.3,389.3 L243.3,393.9 L242.7,399.6 M275.2,417.2 L274.8,419.1 L273.8,421.9 L272.6,423.6 M239.2,406.2 L238.0,409.4 L237.5,413.0 L236.9,416.4 M253.4,355.9 L253.1,360.1 L252.6,364.4 L251.4,368.1 M261.5,310.3 L262.3,315.2 L263.6,320.2 L263.9,324.9 M243.0,283.8 L244.2,287.4 L243.9,290.8 L244.1,294.2 M251.0,412.2 L251.3,417.3 L250.9,422.3 L251.5,427.0 M195.0,328.4 L194.8,332.0 L196.0,335.6 L197.7,339.1 M278.7,362.8 L278.0,368.8 L279.3,374.4 L280.2,380.3 M246.1,282.4 L245.5,285.1 L247.0,287.5 L248.0,289.5 M230.5,318.5 L230.0,322.7 L230.8,326.8 L230.7,331.1 M290.8,368.4 L290.2,372.1 L288.6,375.5 L288.3,379.1 M266.4,400.0 L267.0,406.2 L267.4,412.1 L268.6,418.4 M304.3,318.0 L304.6,322.1 L304.7,326.6 L304.2,330.6 M259.5,319.2 L260.8,322.0 L259.7,325.8 L260.8,328.9 M289.8,398.4 L290.1,401.1 L289.2,404.3 L289.6,407.2 M220.6,279.9 L220.1,285.4 L220.5,291.2 L222.7,297.3 M203.0,374.7 L203.4,379.3 L202.3,383.5 L201.6,388.4 M280.2,286.8 L281.2,291.1 L282.2,294.8 L282.8,298.4 M260.1,274.2 L259.9,278.9 L261.4,283.0 L261.1,287.6 M195.0,360.1 L195.6,366.8 L195.5,374.1 L195.9,381.1 M253.6,392.2 L255.1,394.3 L254.6,396.8 L255.6,399.4 M271.7,305.7 L271.6,309.8 L271.0,313.5 L273.4,317.4 M240.1,348.1 L239.5,351.9 L238.6,355.7 L237.5,359.2 M271.1,412.6 L271.3,414.7 L271.5,417.2 L271.8,419.1 M273.9,288.5 L273.7,295.5 L273.2,302.6 L272.4,309.9 M309.5,373.0 L309.1,378.2 L311.4,383.8 L310.8,388.7 M225.9,344.4 L226.8,346.5 L226.6,348.4 L228.1,351.1 M219.2,368.9 L220.1,371.2 L220.0,373.3 L220.9,376.0 M292.5,389.3 L293.0,392.3 L293.7,395.6 L294.7,399.3 M262.9,273.7 L264.4,280.5 L264.4,287.1 L264.9,293.5 M241.1,396.7 L239.9,400.8 L240.9,404.2 L239.0,408.5 M314.2,303.1 L312.8,308.0 L312.9,313.0 L313.4,317.3 M236.7,390.5 L236.4,395.8 L235.5,401.6 L235.5,407.4 M211.7,380.8 L211.7,387.2 L212.0,393.2 L213.1,399.8 M315.0,318.5 L314.2,323.5 L313.4,328.5 L312.5,333.5 M288.0,285.3 L288.8,291.1 L287.8,296.9 L289.6,303.2 M232.7,296.1 L231.9,299.7 L234.1,302.7 L233.1,305.8 M224.8,392.9 L226.1,399.9 L225.1,406.6 L225.4,414.3 M262.0,392.8 L262.4,394.5 L261.4,396.9 L260.2,398.8 M267.4,406.7 L268.0,411.4 L268.6,416.1 L267.9,420.5 M275.3,327.2 L275.9,333.2 L274.6,340.0 L274.4,346.0 M266.8,284.6 L265.8,289.3 L265.5,294.3 L264.4,298.5 M234.5,359.1 L234.0,365.3 L236.4,371.7 L237.1,378.4 M307.3,299.0 L309.0,303.3 L308.8,306.9 L308.2,310.6 M243.8,415.9 L242.7,421.1 L243.8,427.4 L242.9,432.3 M227.2,285.4 L227.5,291.7 L229.9,298.4 L229.2,304.9 M288.1,386.3 L287.0,391.0 L288.8,395.3 L288.4,399.7 M237.4,292.8 L237.9,297.4 L238.0,302.7 L237.9,307.4 M223.3,366.0 L223.8,368.8 L224.1,371.0 L222.4,374.1 M242.9,335.5 L243.8,339.7 L243.1,343.4 L244.1,347.6 M293.8,385.1 L294.9,389.0 L296.0,392.7 L294.8,397.2 M297.8,353.9 L299.6,355.8 L298.7,357.6 L300.4,359.9 M227.3,340.2 L228.2,344.3 L227.7,349.1 L229.2,353.2 M315.0,371.6 L314.6,378.1 L315.4,384.8 L315.2,390.7 M297.4,321.5 L298.1,326.9 L298.2,331.6 L297.7,336.7 M306.9,291.5 L306.1,297.9 L307.1,304.2 L306.6,310.4 M263.7,397.0 L264.9,400.6 L265.6,404.6 L265.4,409.2 M242.2,405.0 L243.0,409.0 L243.1,413.6 L244.8,417.3 M273.7,320.6 L273.0,326.1 L274.9,332.6 L276.1,337.9 M285.6,373.9 L284.3,379.7 L284.3,385.9 L285.1,391.6 M232.6,280.7 L233.2,284.9 L231.8,288.5 L234.1,292.4 M278.0,396.9 L277.9,403.3 L275.6,410.0 L276.5,417.2 M262.3,389.5 L261.7,391.5 L261.5,394.0 L262.3,396.0 M306.1,413.6 L307.7,416.7 L306.9,420.6 L307.4,423.6 M241.4,292.8 L241.5,297.9 L242.1,302.8 L240.3,307.8 M304.2,413.6 L304.6,420.0 L304.6,425.8 L302.9,431.8 M272.2,284.2 L271.7,290.9 L272.1,297.7 L273.7,304.7 M206.9,304.8 L206.3,308.1 L207.4,310.9 L206.6,313.8 M270.3,401.0 L270.1,403.6 L270.5,406.2 L270.3,409.2 M240.9,353.1 L242.8,360.7 L242.9,367.7 L245.0,374.8 M263.8,390.1 L264.2,395.2 L264.1,400.7 L265.7,406.1 M315.0,313.0 L315.0,315.1 L314.1,317.4 L313.5,319.5 M272.0,352.0 L271.6,355.8 L273.5,359.8 L274.0,363.4 M221.5,403.6 L219.7,406.4 L220.9,408.4 L220.1,410.9 M243.9,411.5 L243.5,416.9 L241.0,422.9 L240.9,428.2 M275.6,393.0 L275.0,399.7 L275.2,406.6 L275.9,413.9 M235.6,355.8 L233.9,362.3 L234.6,369.4 L231.9,375.4 M300.8,303.8 L301.1,309.9 L299.9,315.6 L298.3,321.4 M249.7,313.8 L250.3,321.1 L250.5,328.0 L249.8,335.4 M250.2,376.8 L248.8,381.8 L250.3,386.8 L248.2,392.2 M292.7,415.5 L292.1,421.7 L289.5,427.7 L290.8,434.2 M244.7,335.4 L245.7,339.8 L245.6,344.9 L246.8,349.8 M280.3,363.1 L280.9,370.0 L281.6,376.5 L283.3,383.1 M253.5,325.5 L253.7,327.9 L251.9,330.3 L250.6,332.6 M299.8,280.7 L300.2,285.3 L301.1,290.3 L301.0,295.3 M228.1,372.7 L229.4,378.5 L229.5,384.4 L232.0,390.0 M255.3,344.6 L255.2,348.5 L256.0,352.8 L258.2,356.4 M257.1,303.5 L257.5,307.2 L255.1,311.5 L254.8,315.2 M281.3,376.0 L281.4,379.0 L281.4,381.7 L281.9,384.0 M315.0,404.5 L315.0,408.4 L316.3,413.0 L317.1,417.2 M255.7,405.6 L254.8,407.8 L256.3,410.4 L255.5,413.4 M271.0,408.7 L272.7,413.2 L273.2,417.5 L273.4,422.2 M287.0,359.9 L285.2,364.4 L285.0,368.5 L285.9,372.8 M274.7,402.9 L274.5,405.4 L274.1,408.4 L272.8,411.3 M285.4,285.4 L285.2,289.3 L283.3,293.1 L284.5,296.7 M255.2,389.7 L254.2,395.9 L254.6,401.5 L254.2,407.5 M240.9,336.2 L240.2,342.2 L241.1,348.1 L241.2,354.4 M221.7,382.9 L222.1,388.3 L221.7,394.0 L220.4,400.3 M244.0,351.2 L243.5,357.5 L244.1,364.1 L244.7,370.2 M272.4,405.1 L273.0,411.2 L270.4,417.4 L271.1,423.7 M255.4,280.0 L255.7,285.0 L256.7,289.7 L256.5,294.6 M238.3,309.3 L237.8,312.6 L237.4,316.4 L238.3,319.4 M195.0,325.3 L193.2,330.2 L194.1,335.3 L192.1,340.7 M287.9,279.5 L287.6,286.2 L289.2,293.5 L289.9,300.2 M269.9,378.2 L269.5,380.2 L270.6,382.4 L270.9,384.7 M240.3,373.0 L240.7,379.2 L240.4,385.7 L239.0,392.5 M283.6,291.5 L281.9,294.0 L281.5,296.6 L281.2,298.8 M274.7,341.5 L275.8,345.3 L275.7,349.6 L274.4,353.8 M250.4,381.8 L249.2,387.9 L248.8,394.8 L247.1,400.7 M308.6,344.1 L308.5,348.6 L308.9,353.6 L308.8,358.0 M256.2,328.7 L256.0,334.5 L257.6,340.1 L258.3,345.8 M196.1,384.9 L196.2,388.2 L197.8,391.8 L197.3,394.8 M259.6,273.3 L259.2,278.4 L258.3,283.9 L259.8,289.3 M283.7,315.7 L282.9,318.3 L283.4,321.2 L282.4,324.2 M253.3,372.5 L254.7,379.1 L253.9,385.9 L255.2,392.2 M271.0,381.5 L269.6,388.3 L270.3,395.1 L269.1,402.5 M253.4,322.1 L253.8,325.8 L253.0,329.0 L250.4,331.9 M273.7,280.5 L272.6,285.1 L273.3,290.4 L271.4,294.7 M282.5,350.3 L282.8,354.4 L281.9,358.8 L282.8,362.8 M208.1,311.7 L208.2,315.8 L208.6,319.1 L208.5,323.3 M210.4,325.4 L210.0,328.9 L209.6,332.2 L209.8,335.2 M203.9,414.4 L202.8,416.5 L202.3,419.0 L202.2,421.7 M197.8,410.7 L196.4,417.4 L197.6,424.5 L196.2,431.6 M226.9,357.2 L226.8,361.6 L227.6,365.4 L230.1,369.3 M224.9,418.1 L225.8,421.4 L225.7,425.3 L224.6,428.4 M287.8,308.7 L289.5,315.3 L289.2,322.1 L291.0,328.7" fill="none" stroke="#4a4a4a" stroke-width="0.5" opacity="0.38"/>
<path d="M297.5,353.3 L300.4,350.1 L300.6,346.6 L303.9,343.0 L306.5,340.1 M324.0,345.1 L325.7,340.3 L328.1,335.9 L328.2,331.4 L331.5,326.9 M322.2,375.9 L325.9,369.9 L330.8,363.5 L333.7,357.1 L339.0,350.7 M303.6,416.5 L306.0,411.2 L307.9,405.3 L309.0,399.9 L311.1,394.4 M279.3,350.0 L281.5,347.2 L281.2,344.4 L283.9,341.5 L285.5,338.7 M259.7,428.3 L262.7,422.1 L264.2,416.2 L268.5,410.2 L269.7,404.3 M279.0,400.2 L279.9,397.4 L283.6,395.0 L283.7,392.4 L286.8,389.5 M302.1,339.2 L306.1,332.3 L311.7,325.7 L315.4,319.2 L320.1,312.5 M300.1,349.8 L304.6,342.9 L308.4,336.5 L311.7,329.7 L316.3,322.5 M272.6,347.9 L276.0,341.6 L279.0,335.1 L283.4,328.4 L286.5,322.3 M307.0,424.8 L310.4,418.4 L314.7,412.3 L319.7,406.0 L321.9,399.5 M328.2,334.8 L331.1,328.7 L332.8,322.9 L335.7,317.2 L336.5,311.3 M266.7,340.6 L271.8,333.0 L275.8,325.9 L279.2,318.2 L282.2,311.2 M305.0,419.2 L307.5,413.2 L311.5,406.7 L313.5,400.6 L316.1,394.0 M327.7,353.0 L330.4,350.2 L331.2,347.1 L333.4,343.8 L335.6,340.9 M329.3,421.0 L332.8,414.9 L336.5,408.4 L339.9,402.3 L342.0,396.4 M301.3,435.3 L304.6,429.0 L307.0,423.2 L308.6,417.0 L310.2,410.8 M294.9,358.8 L296.8,353.8 L300.3,349.0 L303.8,344.5 L306.4,339.5 M279.3,331.4 L281.0,328.0 L282.2,324.8 L285.3,321.1 L287.5,317.9 M282.4,336.7 L285.3,330.2 L290.1,324.0 L294.6,317.5 L297.2,311.0 M309.0,337.6 L312.5,330.3 L315.7,323.3 L319.7,315.9 L324.5,308.3 M279.1,388.0 L280.5,384.4 L281.3,381.2 L283.4,377.8 L284.1,374.7 M303.9,340.2 L305.1,337.8 L307.1,335.1 L308.4,332.5 L309.9,329.6 M303.5,373.0 L305.7,367.7 L308.9,362.8 L310.7,357.8 L314.8,352.4 M303.9,401.5 L307.0,393.8 L309.4,385.4 L312.1,377.3 L315.4,369.6 M325.6,402.6 L328.9,396.6 L332.3,391.3 L336.5,385.2 L341.5,379.8 M313.9,397.5 L314.2,394.2 L315.4,391.6 L318.0,388.3 L318.4,385.6 M297.2,378.3 L300.7,373.5 L303.2,369.2 L306.2,364.5 L309.8,360.0 M285.1,390.7 L289.7,383.1 L293.5,376.0 L296.4,368.9 L299.7,361.7 M257.5,373.1 L260.2,366.6 L263.5,360.8 L266.0,354.4 L269.6,348.0 M263.2,397.3 L265.3,394.2 L265.9,391.6 L268.3,388.6 L269.1,385.5 M267.1,347.1 L268.3,343.9 L271.0,340.3 L272.8,336.8 L273.6,333.4 M280.2,371.7 L282.8,367.4 L285.5,363.1 L289.4,359.3 L291.9,354.7 M274.3,337.7 L277.6,332.7 L281.4,327.3 L284.2,322.0 L288.9,316.4 M288.8,354.0 L292.7,347.3 L297.9,340.7 L302.0,333.7 L305.3,327.1 M286.5,394.2 L291.2,386.8 L293.9,379.4 L297.6,371.9 L300.7,364.1 M262.8,330.8 L265.4,325.9 L268.6,320.7 L271.8,315.5 L276.9,310.5 M269.5,396.8 L271.9,392.7 L275.2,388.4 L276.5,384.2 L279.0,380.3 M277.8,428.5 L280.2,422.7 L281.5,416.8 L284.2,410.5 L285.9,404.9 M289.6,421.0 L292.9,415.9 L296.0,411.3 L299.7,406.6 L302.3,401.4 M315.5,427.8 L319.0,420.3 L323.0,412.9 L327.1,405.6 L330.6,398.1 M295.7,369.3 L297.4,365.9 L299.7,362.1 L302.0,358.6 L304.5,354.7 M268.7,373.1 L269.5,370.8 L271.4,368.5 L272.9,366.4 L273.6,364.1 M317.3,333.5 L322.2,326.2 L327.2,318.7 L330.5,311.4 L336.4,303.6 M315.4,339.5 L318.8,334.4 L320.3,330.1 L323.1,325.2 L325.3,320.0 M314.5,418.5 L317.1,415.6 L318.1,412.6 L319.8,409.9 L322.9,407.0 M311.9,351.1 L315.2,342.8 L317.2,334.5 L320.8,326.9 L323.4,318.6 M272.2,353.3 L273.4,348.4 L276.7,343.2 L278.3,338.5 L279.5,333.4 M265.6,380.7 L268.7,374.6 L271.6,367.9 L275.6,361.5 L280.2,355.2 M272.3,391.7 L275.6,384.9 L279.7,378.9 L284.7,371.9 L288.1,365.6 M326.0,414.8 L330.8,408.1 L333.8,401.8 L337.1,395.8 L341.3,389.5 M259.4,416.3 L263.1,409.4 L267.6,402.3 L271.0,395.3 L276.3,388.0 M279.1,357.6 L281.8,350.8 L285.0,343.4 L286.3,336.7 L289.2,329.9 M266.6,401.8 L269.5,397.5 L270.3,393.8 L273.8,389.7 L275.8,385.5 M311.9,359.9 L314.5,354.9 L316.1,349.5 L318.2,344.3 L319.6,338.7 M264.7,339.1 L267.6,333.3 L268.9,328.4 L270.5,322.8 L272.7,316.8 M323.7,433.5 L327.0,426.0 L329.3,418.8 L332.4,411.3 L333.8,403.9 M301.5,356.7 L304.5,351.2 L305.8,345.1 L308.4,339.8 L312.5,334.1 M273.7,389.1 L275.4,386.4 L274.9,384.0 L276.9,381.8 L277.0,379.5 M283.7,431.6 L286.6,425.6 L290.9,420.0 L295.1,413.7 L300.2,407.5 M292.7,385.0 L295.1,379.4 L297.2,373.8 L301.6,368.6 L303.4,363.1 M281.2,394.9 L283.6,391.8 L285.4,388.9 L287.0,385.7 L288.6,382.8 M299.8,363.6 L302.0,360.1 L303.2,356.6 L303.6,353.2 L305.1,350.2 M281.2,338.9 L283.3,336.1 L285.6,333.0 L286.0,330.1 L289.1,327.8 M312.6,353.1 L314.7,349.1 L315.6,344.7 L317.3,340.7 L318.3,336.3 M317.0,406.6 L320.2,399.2 L325.0,391.7 L329.4,384.6 L333.7,376.8 M270.4,341.3 L273.0,334.9 L277.5,328.9 L281.4,322.1 L285.1,315.8 M318.8,340.0 L322.5,333.6 L327.0,327.7 L331.0,321.2 L335.2,315.0 M295.2,435.1 L296.7,432.5 L296.8,430.4 L297.3,427.9 L298.8,425.5 M317.8,330.1 L320.5,327.3 L321.5,324.0 L323.4,321.1 L325.4,318.0 M327.0,397.6 L330.6,390.5 L332.4,382.9 L335.5,375.5 L338.6,368.4 M308.6,376.2 L309.0,373.3 L309.8,370.5 L312.0,367.9 L313.4,364.9 M310.0,429.4 L314.0,424.6 L315.8,419.5 L319.9,414.5 L323.2,409.3 M328.3,359.4 L329.1,356.9 L330.6,354.1 L332.0,351.6 L334.3,348.4 M306.6,347.8 L308.3,345.6 L308.3,342.8 L308.8,340.8 L308.8,338.3 M279.5,349.0 L281.2,343.8 L284.7,338.3 L285.4,332.8 L288.9,327.3 M313.4,411.3 L315.2,406.3 L317.5,401.4 L319.5,396.5 L319.7,391.3 M321.7,423.5 L325.7,416.5 L328.3,409.2 L332.4,402.0 L336.2,394.7 M321.2,432.1 L325.8,425.9 L329.1,420.0 L333.3,414.4 L336.3,408.4 M269.2,400.4 L270.7,397.2 L272.4,394.0 L275.1,391.0 L276.8,387.4 M310.3,407.2 L312.5,402.2 L314.8,396.6 L316.6,391.7 L317.2,386.6 M286.7,396.7 L288.2,391.3 L291.8,385.3 L294.6,379.8 L297.3,374.4 M290.0,377.1 L292.3,372.0 L295.5,367.3 L297.5,362.6 L299.2,357.5 M304.6,348.9 L309.5,341.1 L312.9,333.7 L318.3,326.1 L321.4,318.4 M320.2,390.9 L321.2,386.7 L323.5,382.6 L324.1,378.0 L326.5,374.0 M302.1,331.0 L303.3,327.2 L304.9,322.9 L307.7,319.3 L309.5,315.3 M329.8,336.7 L332.5,331.0 L335.4,325.2 L337.6,319.5 L340.2,313.6 M301.3,390.5 L302.6,388.0 L304.4,385.3 L304.3,382.4 L305.9,379.7 M325.8,366.4 L329.0,360.6 L330.7,355.4 L333.6,349.5 L335.7,344.3 M267.5,397.8 L271.3,390.9 L276.6,384.6 L279.4,377.3 L284.2,370.6 M276.7,393.8 L278.6,386.5 L281.3,379.2 L284.9,371.5 L287.6,364.5 M269.2,400.6 L271.3,395.4 L272.3,390.2 L274.5,385.1 L276.8,379.4 M281.1,434.3 L283.3,431.3 L284.5,427.7 L284.4,424.9 L286.7,421.8 M285.2,392.8 L288.9,387.2 L292.9,382.2 L294.9,377.1 L299.3,371.6 M287.9,387.4 L292.4,380.1 L297.2,372.7 L302.3,365.1 L305.7,358.0 M286.1,398.1 L287.6,395.0 L288.9,391.8 L288.6,389.3 L289.8,386.3 M264.9,393.1 L267.0,388.1 L268.5,382.9 L270.8,377.3 L271.6,371.9 M265.6,412.5 L268.7,404.7 L271.2,397.0 L273.9,389.2 L277.7,381.5 M300.7,365.2 L303.4,359.1 L304.5,353.1 L307.8,347.1 L310.3,341.2 M279.4,393.3 L280.8,389.5 L283.2,385.1 L284.9,381.5 L288.9,377.2 M309.6,353.1 L313.2,345.7 L315.6,338.7 L318.2,331.9 L321.4,324.2 M308.8,380.1 L312.7,374.6 L315.3,369.4 L319.7,363.9 L322.7,358.3 M279.1,401.6 L280.9,398.3 L282.7,395.1 L284.4,391.9 L285.5,389.2 M279.6,369.0 L280.2,366.0 L282.2,363.3 L282.1,360.5 L283.4,357.9 M290.4,411.1 L291.9,406.9 L295.0,402.9 L297.7,398.4 L300.1,394.5 M281.7,361.8 L284.3,356.5 L288.9,351.3 L291.0,346.3 L294.6,341.0 M264.4,353.1 L267.2,345.9 L269.6,339.3 L272.7,332.0 L273.3,325.1 M295.1,348.6 L297.3,346.1 L298.3,343.4 L300.6,341.2 L301.2,338.5 M268.6,377.2 L270.7,373.3 L272.7,368.8 L274.6,364.7 L275.0,360.5 M263.1,375.0 L265.7,371.1 L267.3,367.2 L268.5,363.2 L271.3,359.5" fill="none" stroke="#555" stroke-width="0.5" opacity="0.3"/>
<path d="M187.2,317.9 L186.9,326.9 L186.8,335.9 L185.9,345.0 L185.3,353.8 M196.9,361.1 L197.3,367.3 L197.5,373.4 L197.8,379.4 L198.6,385.7 M189.1,353.4 L189.2,362.6 L188.8,371.5 L189.0,380.8 L189.7,389.7 M200.3,371.1 L200.6,383.3 L200.9,395.7 L201.4,408.0 L201.1,420.1 M192.6,336.8 L193.7,349.0 L193.5,361.6 L194.7,374.1 L195.4,386.6 M202.1,365.5 L202.6,373.5 L203.5,381.4 L203.0,389.3 L203.8,397.5 M191.7,376.9 L192.7,390.1 L192.6,403.1 L194.0,416.2 L194.1,429.3 M187.6,355.4 L187.8,362.5 L188.4,369.4 L187.7,376.6 L189.0,383.7 M196.2,314.8 L197.3,325.4 L197.8,336.3 L198.6,347.2 L198.8,357.9 M201.8,330.1 L201.5,338.9 L202.6,347.5 L201.8,356.3 L201.8,365.0 M191.9,335.4 L192.3,348.0 L193.0,360.6 L192.7,373.1 L192.9,385.7 M188.3,311.7 L189.0,316.8 L189.0,322.1 L188.5,327.1 L188.6,332.0 M199.7,293.8 L199.5,304.2 L198.9,314.5 L197.2,324.7 L197.6,335.0 M199.6,308.6 L199.2,317.1 L198.3,325.4 L197.5,334.0 L196.5,342.4 M195.7,344.0 L195.5,351.1 L196.1,358.2 L196.0,365.4 L196.7,372.4 M194.2,323.0 L194.6,332.6 L196.0,342.1 L195.9,351.5 L196.5,361.0 M202.7,299.1 L202.6,307.9 L201.6,317.0 L201.4,325.9 L201.4,335.0 M196.3,328.0 L196.2,336.9 L196.9,345.5 L197.4,354.2 L197.4,363.2 M193.8,293.1 L193.2,308.3 L192.8,323.0 L192.1,338.2 L192.0,353.1 M191.0,377.8 L191.9,383.2 L192.0,388.7 L192.5,393.8 L193.7,399.2 M203.7,335.8 L203.4,347.1 L202.6,358.5 L202.1,369.9 L201.9,381.2 M196.9,294.0 L197.2,301.8 L197.3,309.3 L197.1,316.7 L196.5,324.4 M200.5,315.0 L200.4,324.5 L201.4,334.0 L201.3,343.8 L201.5,353.2 M203.0,302.2 L203.4,311.6 L203.5,321.4 L203.5,331.0 L203.3,340.5 M201.9,363.9 L201.8,376.5 L202.4,389.2 L203.2,401.7 L203.6,414.5" fill="none" stroke="#777" stroke-width="0.5" opacity="0.4"/>
<path d="M218.1,290.1L216.6,290.4 M259.5,293.1L259.4,295.2 M262.3,283.3L262.8,285.7 M248.2,283.6L246.8,284.1 M280.3,273.4L278.9,273.6 M266.3,288.7L266.4,287.3 M275.9,287.3L276.7,288.5 M293.3,275.2L295.4,277.0 M239.8,292.1L236.9,292.0 M264.8,287.0L265.8,289.5 M267.6,281.3L268.8,281.8 M226.9,294.8L225.5,297.0 M283.7,288.9L284.7,289.8 M247.7,283.1L247.7,285.4 M224.5,288.0L224.7,290.2 M278.7,279.2L278.3,277.8 M282.8,289.9L283.2,288.6 M252.2,291.3L250.2,293.0 M262.8,293.1L260.5,291.2 M272.5,287.5L274.0,286.1 M250.3,281.5L251.7,281.3 M225.9,292.4L224.3,289.4 M260.9,287.5L263.3,289.2 M261.5,300.8L262.6,300.1 M242.1,284.0L239.7,284.6 M284.9,286.5L285.8,287.1 M272.4,289.0L273.9,286.4 M262.6,285.7L265.1,285.0 M292.4,292.2L290.3,291.8 M263.4,288.8L265.3,289.3 M285.8,288.1L283.9,289.9 M241.0,286.1L238.0,285.6 M234.2,300.5L233.8,303.3 M268.6,288.7L267.4,291.9 M254.2,286.1L254.3,284.5 M276.2,275.5L277.0,272.6 M270.0,283.4L268.4,281.4 M279.8,286.6L279.2,284.2 M257.5,282.1L257.8,285.5 M252.9,276.8L254.0,273.9 M265.4,278.4L264.3,276.1 M261.1,290.3L262.3,291.8 M303.9,294.9L305.1,294.6 M211.9,288.8L212.1,289.8 M270.2,285.3L267.3,286.3 M237.3,292.8L236.4,292.0 M282.7,291.6L280.1,289.5 M202.0,282.4L199.5,280.7 M232.4,284.2L232.3,285.9 M232.7,280.6L234.6,279.5 M210.8,292.3L208.1,292.6 M276.5,291.6L273.2,291.6 M237.2,286.0L238.2,285.7 M256.9,278.5L258.8,281.4 M268.9,285.5L267.2,285.2 M264.5,283.0L265.6,282.5 M223.4,292.5L223.1,295.8 M267.2,295.1L267.4,296.4 M264.2,291.9L263.9,289.5 M237.2,285.7L236.2,286.0 M266.8,290.2L264.8,290.6 M254.5,290.5L254.8,291.5 M270.8,287.7L270.9,289.9 M270.1,284.5L266.9,284.2 M274.1,286.0L273.8,284.9 M287.0,287.0L287.0,285.2 M251.4,279.1L251.3,277.8 M287.1,286.3L289.8,287.5 M269.7,286.0L267.5,283.9 M271.5,280.4L271.5,283.0 M262.9,282.5L266.2,282.4 M255.4,276.8L258.2,277.4 M251.0,274.6L252.5,276.0 M217.8,283.0L218.8,279.7 M278.1,279.4L279.7,279.2 M257.3,288.3L254.6,289.7 M286.6,284.5L287.3,286.0 M265.3,288.1L263.6,291.1 M266.8,287.6L265.4,288.8 M240.3,278.4L241.4,277.2 M214.8,285.9L213.1,286.3 M273.0,285.2L273.1,282.1 M280.7,286.5L281.4,285.1 M251.7,286.9L253.2,283.9 M242.2,282.7L244.6,284.0 M274.4,280.4L273.7,279.5 M269.7,287.4L267.7,289.3 M271.4,275.8L272.6,276.1 M200.8,285.3L202.1,287.2 M221.9,279.2L220.6,279.5 M267.6,283.6L269.9,284.0 M274.6,288.3L275.2,287.1 M264.8,301.3L265.8,302.4 M277.8,286.6L277.1,285.6 M235.7,284.0L238.3,284.8 M289.6,282.3L288.8,285.6 M254.3,287.1L255.9,289.9 M261.8,287.2L263.2,286.9 M281.8,288.5L280.6,288.3 M228.9,282.8L229.9,282.5 M250.1,274.6L248.6,271.5 M285.4,294.2L283.6,295.1 M249.3,288.9L250.3,290.3 M233.3,284.6L235.4,284.6 M257.2,281.0L255.9,284.0 M292.8,279.9L293.9,277.3 M278.0,284.9L277.4,283.7 M269.6,281.3L269.2,282.2 M240.8,281.6L238.6,281.5 M255.6,276.2L254.8,273.5 M242.8,286.2L242.6,283.8 M231.4,289.8L232.6,289.1 M296.1,281.7L296.1,283.0 M208.6,285.2L209.2,287.1 M234.0,294.7L235.1,293.9 M290.5,283.4L293.8,282.1 M273.2,279.9L272.2,281.3 M236.8,280.4L235.5,282.8 M225.5,281.3L226.2,280.5 M268.9,285.5L271.1,285.6 M235.9,286.6L235.0,285.4 M287.0,276.4L287.6,274.7 M221.2,291.6L222.2,290.6 M265.2,287.9L264.7,289.9 M256.3,297.5L257.5,296.0 M243.3,284.1L240.7,284.5 M253.6,291.6L252.4,294.3 M288.7,292.5L290.2,292.5 M227.8,283.3L228.7,283.1 M248.1,281.5L247.7,278.9 M264.1,278.0L262.2,280.3 M252.0,277.5L252.5,274.6 M215.5,293.9L212.4,293.5 M263.2,289.8L261.9,291.0 M245.8,281.3L245.3,282.7 M265.2,283.3L266.6,282.3 M255.8,277.4L252.5,277.3 M245.5,286.1L245.9,289.2 M259.6,288.4L260.0,289.6 M212.7,290.3L215.0,292.6 M267.3,286.9L267.8,283.6 M271.0,301.2L272.3,301.0 M286.9,292.7L287.0,295.1 M221.5,288.1L224.0,286.6 M284.9,292.1L287.4,289.9 M243.0,277.1L243.0,278.3 M245.6,285.9L247.5,288.3 M226.6,276.2L227.5,274.5 M269.6,286.2L269.1,284.2 M262.1,294.5L262.4,295.5 M285.2,281.8L286.6,284.6 M254.9,285.9L253.5,284.3 M259.6,274.9L262.9,274.3 M261.6,287.0L262.1,288.2 M286.9,298.2L288.3,301.1 M256.8,294.1L255.7,293.1 M247.5,290.3L249.4,289.6 M292.0,274.6L289.0,274.5 M221.2,282.9L221.6,284.8 M227.0,297.3L228.0,297.3 M235.4,277.5L236.2,274.6 M290.8,296.7L289.4,297.0 M268.2,279.8L264.8,279.0 M223.0,278.9L226.0,279.9 M254.8,296.4L251.8,296.0 M247.3,280.0L249.8,279.0 M258.3,299.6L256.6,300.6 M256.5,271.7L255.4,270.3 M252.7,272.7L250.3,274.6 M255.2,286.4L253.8,287.1 M291.7,283.2L291.4,286.4 M283.9,297.3L284.7,299.9 M220.5,276.4L222.0,277.2 M275.2,279.5L275.0,278.5 M292.0,280.0L294.4,281.8 M265.5,280.4L265.4,279.0 M250.5,288.0L252.4,287.7 M268.2,277.7L269.5,276.6 M252.7,280.9L254.3,283.8 M268.8,282.1L270.0,282.5 M235.8,297.5L234.5,298.7 M237.6,286.0L235.4,286.1 M271.2,277.6L274.2,276.1 M249.0,290.8L250.5,288.3 M267.4,284.3L268.6,284.6 M229.4,288.6L228.9,289.8 M221.4,279.5L222.6,279.5 M247.6,289.1L246.0,291.2 M260.6,273.2L262.1,272.9 M246.3,288.7L245.8,290.7 M260.6,278.7L261.9,278.4 M240.0,291.9L238.6,291.6 M270.0,279.1L271.9,276.8 M257.8,278.0L255.0,278.1 M217.2,287.3L216.8,285.2 M250.7,290.7L249.2,290.6 M213.6,290.6L212.4,292.5 M244.5,292.9L244.1,291.9 M236.2,283.6L236.0,285.6 M269.6,283.2L271.3,283.4 M281.9,288.1L281.9,287.0 M243.0,280.4L242.4,278.3 M300.2,291.5L299.7,289.7 M235.9,290.2L234.3,288.3 M263.1,294.4L263.7,297.5 M237.1,281.5L237.6,282.5 M252.3,301.6L254.3,301.9 M250.3,282.1L251.3,284.8 M260.3,280.7L260.9,279.8 M210.2,283.9L209.9,286.1 M220.6,280.6L218.9,281.1 M273.1,280.1L273.1,279.1 M270.1,295.6L271.0,293.6 M254.6,277.8L252.9,279.3 M246.8,290.5L247.9,290.1 M255.3,284.4L254.2,286.4 M266.5,289.5L266.0,287.6 M271.4,279.4L271.1,278.3 M264.0,288.6L263.8,291.7 M274.5,277.1L277.0,276.9 M268.6,285.4L267.1,282.8 M285.4,298.1L286.6,296.9 M270.2,279.9L271.3,280.3 M262.3,288.9L264.4,287.8 M270.0,299.3L269.6,298.3 M268.0,292.5L265.6,293.1 M246.3,285.0L244.7,285.3 M248.4,281.0L247.9,282.0 M208.8,282.0L211.8,281.0 M260.4,270.2L259.9,271.4 M281.1,282.5L280.5,285.7 M252.7,290.5L251.5,287.7 M279.6,300.3L280.7,299.2 M291.4,294.3L290.5,292.9 M259.2,285.6L258.8,283.3 M254.7,274.3L255.3,273.2 M282.4,279.4L285.0,281.7 M239.4,295.7L238.9,293.2 M284.1,293.8L281.8,293.9 M246.7,285.2L245.7,286.0 M239.4,290.2L236.1,289.2 M232.6,283.1L231.1,281.7 M235.0,289.4L235.7,288.1 M277.7,279.3L278.8,276.0 M240.3,283.1L240.3,285.6 M296.6,287.6L299.0,287.7 M256.4,286.5L256.4,290.0 M258.1,272.5L257.0,272.3 M296.5,286.7L293.8,284.7 M275.8,278.2L274.3,275.7 M292.7,279.1L289.7,280.2 M257.5,287.8L257.6,285.4 M274.4,287.1L272.9,288.2 M263.0,290.5L261.6,290.4 M252.5,287.6L251.3,290.6 M264.8,280.0L263.6,280.2 M270.4,282.7L271.4,281.1 M246.3,271.4L246.0,269.4 M225.2,285.8L227.8,286.8 M261.3,290.4L261.0,291.9 M282.5,297.6L283.6,296.7 M254.3,286.4L256.1,286.8 M256.3,277.3L257.1,278.3 M278.6,275.2L278.6,276.5 M263.3,284.3L262.7,287.2 M214.3,295.5L216.3,297.2 M268.9,284.9L268.8,282.7 M266.2,293.6L266.9,291.8 M286.1,298.9L288.0,297.2 M281.0,278.6L284.0,279.9 M267.9,288.2L268.8,287.4 M260.8,294.0L260.5,292.0 M303.1,281.3L303.4,279.5 M242.3,278.7L240.9,279.5 M300.4,295.2L301.3,298.2 M232.6,289.4L232.5,290.5 M243.8,284.2L243.9,286.6 M251.1,300.2L251.3,298.7 M254.5,283.6L255.6,286.5 M243.6,290.8L244.0,288.1 M278.1,293.1L276.9,292.1 M273.4,278.9L276.5,277.7 M243.7,286.9L247.1,286.2 M228.0,294.2L227.2,295.2 M283.1,290.9L283.6,292.4 M263.5,280.1L260.8,281.4 M222.6,279.8L220.9,280.2 M228.9,283.8L231.3,282.8 M265.0,281.9L264.6,280.4 M273.0,294.2L274.8,294.9 M235.2,293.6L233.5,292.9 M249.2,275.9L247.6,276.3 M273.7,281.8L276.7,281.8 M254.2,277.4L253.0,279.5 M278.7,284.9L281.4,283.8 M286.1,295.3L283.9,295.0 M246.6,288.2L247.9,288.9 M251.1,290.6L250.5,293.7 M256.2,283.1L257.4,283.9 M265.6,289.7L267.3,287.4 M234.2,284.6L233.2,287.8 M222.1,292.6L220.0,292.7 M241.7,284.5L241.5,287.7 M250.4,283.6L247.6,284.6 M257.5,291.6L258.1,289.2 M220.4,279.1L222.5,280.8 M219.8,294.1L221.1,293.7 M241.3,289.3L240.4,290.9 M246.4,289.5L243.6,288.3 M254.1,284.9L253.9,283.7 M256.2,283.1L255.8,281.2 M267.6,295.3L266.4,294.0 M246.6,286.7L248.3,287.7 M264.7,286.1L261.5,286.8 M274.9,292.3L272.9,291.9 M211.1,295.3L211.1,298.4 M274.1,280.9L273.6,278.7 M260.3,285.6L261.8,286.3 M266.2,290.9L263.6,289.3 M230.3,274.4L231.0,275.7 M268.2,282.6L269.0,282.0 M289.0,282.3L289.2,281.0 M244.5,287.5L244.1,286.3 M225.8,298.2L226.5,295.0 M262.2,290.1L265.3,289.5 M228.9,284.8L231.7,283.3 M305.5,288.7L305.1,287.2 M247.8,295.4L246.2,295.0 M248.5,287.2L249.3,285.5 M230.1,285.5L227.0,285.5 M222.5,286.3L221.8,284.7 M278.2,299.2L278.6,297.7 M241.8,297.2L239.8,296.2 M261.5,292.3L260.9,295.3 M232.2,286.0L232.3,283.5 M272.0,285.9L270.0,288.0 M244.8,289.7L244.1,290.8 M250.2,285.3L250.8,286.6 M216.5,284.9L216.8,282.3 M259.0,285.9L260.2,284.0 M229.9,298.4L233.2,298.1 M268.4,292.2L268.7,290.4 M253.2,285.3L252.5,287.7 M262.7,294.5L262.9,292.4 M240.7,298.8L242.6,300.9 M249.5,293.4L247.3,294.1 M252.5,293.6L254.1,292.5 M230.6,284.0L232.4,286.6 M270.9,282.3L272.8,281.2 M246.4,279.7L246.1,277.4 M290.5,290.2L289.6,291.0 M236.0,292.1L236.8,292.7 M282.5,288.8L281.3,289.5 M259.1,285.1L260.9,285.3 M245.3,276.4L244.2,278.1 M252.4,291.0L255.2,289.3 M309.4,289.1L309.2,287.5 M254.2,293.3L255.7,293.4 M228.4,292.1L228.9,293.0 M224.9,292.1L223.9,293.0 M271.5,284.2L270.7,282.3 M291.4,274.0L293.3,276.3 M224.7,278.1L227.2,277.3 M241.1,288.1L240.9,290.8 M259.8,284.0L261.3,283.7 M238.7,289.0L237.6,291.6 M239.5,272.8L241.7,272.8 M223.7,292.8L225.1,289.6 M254.7,287.3L255.5,288.9 M287.4,296.0L287.8,297.1 M237.8,278.8L237.5,281.7 M232.7,284.0L232.9,285.1 M244.6,288.9L243.5,288.4 M259.7,276.8L256.5,277.6 M273.2,286.4L272.3,288.7 M260.1,277.7L262.1,279.5 M228.7,282.5L228.0,281.4 M279.1,295.0L276.2,295.6 M259.6,280.9L257.2,279.4 M284.3,281.9L283.5,283.5 M255.0,293.1L255.3,292.1 M250.3,276.8L251.3,279.3 M267.5,285.5L267.1,288.9 M253.0,285.2L253.6,282.3 M237.0,281.3L235.1,281.0 M271.8,294.8L270.9,296.7 M276.3,286.1L277.4,286.9 M275.2,286.0L272.7,287.5 M249.3,298.1L248.3,300.6 M264.9,275.5L264.4,276.5 M255.1,282.6L258.2,282.1 M292.4,286.3L290.8,286.8 M259.2,289.4L257.4,290.9 M284.6,277.1L283.5,277.7 M245.8,281.7L245.4,284.9 M227.7,273.4L228.4,274.4 M258.9,282.6L256.6,281.8 M276.6,294.2L273.6,293.4 M265.6,294.0L267.8,294.6 M270.5,287.7L269.7,286.5 M286.8,283.0L288.5,285.4 M280.9,274.3L282.5,271.3 M254.4,284.8L253.0,283.0 M237.0,283.0L239.4,284.0 M237.4,287.2L235.3,286.1 M227.4,290.4L225.5,288.7 M295.9,277.5L294.9,275.5 M253.6,286.8L252.3,286.5 M291.8,287.0L294.3,286.3 M224.1,291.0L222.9,292.1 M265.9,298.4L267.8,296.6 M242.8,281.1L245.9,281.5 M254.3,286.1L253.1,283.5 M246.7,295.9L247.6,297.4 M243.7,280.3L244.6,279.8 M305.2,294.6L303.1,295.1 M257.1,290.4L255.1,291.8 M218.9,293.2L219.4,294.8 M226.8,294.3L223.5,294.3 M250.4,292.5L248.5,290.4 M254.3,284.1L256.0,281.9 M230.7,289.8L228.7,288.6 M234.8,288.5L232.3,289.4 M307.0,283.4L306.2,284.9 M278.4,280.2L277.3,278.7 M251.3,278.5L253.6,278.5 M250.5,296.9L253.4,295.0 M274.6,284.8L272.6,284.3 M214.9,288.7L212.9,289.1 M245.7,284.1L247.8,285.3 M202.2,287.5L199.7,289.6 M262.3,287.7L262.4,285.2 M245.6,288.7L247.7,287.4 M282.9,286.5L281.0,285.6 M287.1,282.1L285.6,279.2 M249.0,282.6L246.9,283.9 M287.1,283.3L286.4,280.5 M252.2,272.1L254.1,270.7 M250.2,278.6L248.9,275.5 M237.6,288.4L237.6,286.1 M275.8,272.1L275.3,273.2 M266.4,294.2L265.4,291.5 M252.0,287.0L250.6,288.0 M238.6,270.7L237.1,268.7 M256.8,283.4L256.1,286.1 M231.1,274.4L229.2,276.4 M240.9,284.1L239.8,283.1 M268.0,278.4L266.5,276.3 M244.2,285.0L246.1,286.3 M227.9,275.6L228.9,274.6 M293.1,297.5L294.7,294.5 M252.0,284.1L251.2,282.4 M260.6,295.0L262.7,294.8 M222.2,278.1L223.4,279.2 M278.0,282.0L275.9,283.3 M299.8,284.2L296.8,285.9 M235.8,292.3L235.0,293.1 M246.8,281.6L244.9,282.4 M247.3,287.8L249.7,288.2 M271.3,285.4L271.0,288.7 M230.0,276.6L229.4,277.5 M244.4,286.2L243.5,284.9 M271.8,288.0L272.7,289.5 M253.7,286.6L255.9,286.6 M250.9,283.9L249.0,284.0 M258.6,288.9L261.0,290.2 M270.8,285.2L272.0,283.0 M274.3,277.9L273.0,277.2 M239.9,286.5L238.2,286.0 M265.4,291.3L263.7,291.4 M227.0,288.8L225.4,288.8 M232.4,289.2L230.4,289.7 M269.3,289.6L266.0,289.9 M285.7,278.9L287.5,278.6 M262.9,276.6L262.3,279.1 M294.8,284.5L292.7,287.2 M289.6,291.8L288.2,292.1 M234.6,284.5L234.8,282.5 M263.8,285.7L262.8,287.9 M256.2,286.3L257.8,284.0 M251.0,273.4L252.3,270.6 M254.4,297.1L256.3,298.9 M257.3,296.4L256.3,296.9 M228.7,286.4L227.8,286.1 M258.2,299.1L256.5,299.0 M266.8,283.8L266.9,282.8 M259.4,276.5L258.8,278.8 M276.7,297.4L275.2,297.1 M225.3,294.1L225.0,296.9 M286.1,288.1L284.0,289.3 M230.4,278.2L228.3,278.0 M243.1,285.0L244.2,282.7 M228.7,293.2L229.1,294.7 M262.3,290.9L262.5,292.2 M272.2,287.6L270.5,287.7 M274.4,279.3L275.5,279.4 M260.1,278.6L257.4,277.9 M234.3,281.1L231.9,281.6 M293.5,288.7L291.4,286.8 M296.9,293.4L295.8,295.7 M306.7,284.2L305.3,283.4 M265.7,282.9L266.6,282.1 M246.7,290.8L247.3,289.9 M270.1,292.0L269.6,290.8 M235.9,282.0L236.5,280.0 M270.1,290.8L271.9,292.1 M285.5,286.4L285.8,283.6 M245.5,296.8L244.4,297.1 M205.3,283.1L204.9,286.3 M265.1,284.3L265.1,286.0 M255.8,273.0L258.3,274.2 M233.8,282.6L233.0,285.5 M270.3,285.9L271.7,285.1 M247.5,277.2L245.8,278.1 M270.5,285.4L272.6,283.5 M252.8,289.5L255.2,289.3 M240.5,287.6L242.0,286.3 M234.8,297.2L235.7,296.5 M235.8,290.5L234.7,290.5 M250.8,271.5L248.6,270.1" fill="none" stroke="#333" stroke-width="0.6" opacity="0.45"/>
<path d="M251.8,348.5L253.0,348.9 M266.8,343.9L269.3,345.5 M278.8,350.4L279.6,351.4 M267.8,352.1L269.1,350.1 M254.1,343.6L255.5,342.2 M241.6,346.3L239.9,344.8 M258.8,351.7L256.5,350.9 M243.5,348.9L241.9,349.3 M260.1,343.7L260.5,342.1 M244.0,346.8L245.0,344.6 M265.8,347.2L266.2,345.6 M243.0,347.8L240.9,347.6 M247.4,342.7L248.3,341.3 M260.8,356.1L259.4,358.2 M237.7,350.4L236.2,352.1 M248.1,345.9L250.1,345.8 M244.9,351.8L242.0,351.5 M225.2,352.0L224.3,353.3 M235.1,350.0L235.9,347.4 M262.4,351.5L261.5,351.9 M262.3,354.8L260.5,354.0 M268.7,348.7L268.4,347.7 M227.4,350.2L228.2,351.1 M244.2,348.0L245.7,347.2 M246.2,348.5L245.1,347.4 M263.7,349.4L264.6,347.7 M249.3,354.3L246.9,354.7 M246.8,349.4L245.9,351.6 M271.6,347.6L269.3,346.8 M281.2,354.5L279.2,353.4 M229.4,347.2L231.7,345.4 M283.3,345.0L284.5,344.2 M234.4,355.3L235.8,355.8 M241.5,352.9L241.7,350.6 M230.7,349.3L228.3,349.1 M262.7,348.8L262.6,346.3 M232.3,348.6L232.6,350.7 M252.1,348.4L253.4,350.1 M264.3,352.7L265.6,352.1 M263.9,354.9L264.8,356.9 M221.5,348.9L220.1,347.3 M261.3,345.5L258.6,344.8 M265.6,346.3L265.4,349.0 M286.1,344.6L288.3,344.1 M242.6,346.6L241.7,344.9 M255.4,357.3L254.1,355.2 M269.1,343.7L267.7,343.3 M261.4,352.8L261.5,349.8 M274.2,350.2L273.9,347.6 M237.5,347.7L237.1,346.1 M239.2,343.4L241.9,343.8 M278.1,348.3L278.9,346.9 M281.1,351.9L281.5,353.0 M222.2,353.7L224.0,353.0 M243.0,342.8L242.1,340.0 M253.1,348.2L251.8,350.5 M264.1,347.7L262.6,345.6 M229.6,350.3L229.1,353.1 M232.4,348.2L231.8,345.4 M227.8,351.3L228.2,352.3 M219.7,353.5L219.8,354.5 M252.5,347.7L253.5,348.1 M248.6,348.7L249.7,349.6 M237.1,347.9L237.9,348.8 M263.2,342.9L262.8,344.4 M287.3,350.8L287.6,348.5 M265.4,344.7L265.3,346.7 M235.6,349.8L237.5,347.8 M262.1,344.4L260.7,342.2 M252.5,352.1L251.8,354.3 M230.9,354.1L230.3,355.8 M265.1,347.1L266.1,346.5 M239.7,346.6L241.5,347.9 M257.4,352.7L257.0,350.6 M255.3,342.0L255.3,344.7 M243.2,340.6L244.2,341.2 M229.7,344.4L231.7,343.4 M240.9,345.6L242.0,343.1 M226.3,343.9L225.6,341.3 M254.9,343.8L254.7,342.5 M256.0,353.3L255.1,354.0 M274.5,351.8L276.9,353.2 M227.2,346.8L228.7,349.2 M245.1,350.9L243.8,351.5 M279.0,348.6L278.2,346.9 M258.8,346.5L258.0,344.4 M213.8,346.3L212.4,346.9 M270.7,339.8L269.7,338.3 M231.9,349.1L234.6,349.0 M255.3,343.2L254.2,343.8 M228.1,349.8L228.8,350.7 M247.7,351.8L245.4,351.1 M263.7,347.8L264.0,349.9 M241.8,350.5L241.8,352.6 M217.6,346.2L217.7,345.1 M243.0,343.7L243.8,345.7 M223.5,345.1L222.7,342.9 M252.1,348.3L254.1,350.3 M261.9,351.3L260.0,349.5 M285.6,351.0L287.1,350.1 M257.4,349.3L258.6,346.8 M249.1,342.0L250.4,341.1 M212.0,348.0L210.4,348.6 M252.2,344.2L253.4,344.2 M265.1,347.4L266.0,346.9 M272.2,349.6L273.5,347.4 M233.5,350.5L231.9,348.8 M240.7,351.2L241.7,349.9 M273.0,354.9L272.0,356.1 M254.9,342.7L256.5,342.4 M273.0,354.1L272.4,352.1 M282.1,348.7L280.7,351.0 M271.0,343.2L273.8,342.3 M247.5,348.7L249.4,350.5 M247.7,356.9L249.5,357.0 M266.5,354.3L267.0,353.4 M235.4,344.8L233.3,344.4 M272.2,343.2L271.7,341.0 M281.9,348.5L283.6,350.5 M232.1,348.7L230.6,350.9 M234.0,345.9L233.1,347.3 M259.9,350.6L259.5,348.9 M251.6,348.6L252.1,347.7 M260.2,354.4L261.9,352.8 M245.7,352.5L243.5,352.8 M227.0,348.1L226.8,346.6 M267.7,348.4L266.6,350.7 M276.6,349.6L277.8,349.1 M241.7,345.9L243.2,348.0 M264.3,348.8L261.9,347.3 M228.0,344.0L228.8,342.6 M253.8,347.4L253.2,345.9 M259.6,348.5L259.7,350.8 M230.8,348.9L232.9,348.3 M260.3,347.5L261.0,345.6 M239.7,349.4L238.0,350.5 M252.8,348.3L255.2,348.6 M260.2,345.0L261.9,347.2 M241.5,341.2L241.9,339.1 M265.6,352.9L265.1,350.0 M226.2,350.8L227.5,349.2 M245.8,341.4L244.9,339.8 M212.1,349.1L211.5,346.5 M226.5,350.2L227.6,349.3 M230.4,344.9L231.9,346.7 M215.6,346.4L215.4,348.4 M237.4,348.0L236.3,346.6 M241.7,350.8L242.6,348.7 M248.8,347.5L250.0,346.9 M270.8,352.8L270.4,350.9 M232.3,349.5L234.9,350.9 M261.4,346.1L262.3,348.0 M283.2,349.6L283.1,351.5 M267.9,340.7L268.4,342.9 M227.3,349.9L229.8,350.8 M275.0,347.5L275.3,348.6 M256.7,344.0L257.2,342.7 M267.9,344.5L268.6,345.3 M240.5,348.8L242.2,349.0 M270.8,349.8L268.7,349.1 M253.9,342.4L252.6,340.1 M255.4,351.0L257.2,351.2 M217.7,346.8L215.4,347.3 M244.0,349.4L245.9,350.7 M269.4,356.5L268.9,358.6 M241.4,345.3L239.0,343.9 M242.3,347.3L244.6,348.4 M234.9,347.4L236.3,349.5 M242.6,347.9L241.8,350.0 M213.2,348.6L215.1,347.0 M256.7,347.8L255.3,346.5 M265.5,351.4L264.3,349.7 M233.8,351.5L233.6,350.0 M245.0,342.3L243.7,344.2 M237.0,345.2L234.6,344.6 M271.6,349.3L273.7,348.7 M271.8,342.7L269.8,344.9 M257.9,351.5L260.4,350.6 M225.2,350.3L224.9,353.0 M232.4,341.1L231.0,340.1 M234.1,343.5L233.9,345.4 M265.6,345.9L266.9,347.5 M232.6,344.0L232.8,346.0 M248.5,344.9L246.9,344.4 M240.0,347.8L238.4,348.1 M244.8,352.3L242.1,351.4 M260.1,349.4L259.7,347.1 M249.5,349.1L252.0,347.4 M270.6,351.7L272.8,349.9 M245.3,347.7L243.0,347.1 M265.8,345.0L266.9,344.6 M261.4,346.0L258.8,346.5 M240.6,345.3L242.1,345.4 M274.6,347.2L275.4,344.5 M284.3,347.5L286.7,346.3 M282.8,345.9L281.5,345.3 M262.2,350.6L261.8,348.7 M233.5,341.1L235.2,338.9 M233.7,352.7L232.2,350.3 M239.5,342.8L239.3,340.8 M281.3,346.4L281.0,345.3 M245.1,347.3L247.7,348.3 M238.8,343.1L237.3,343.2 M255.5,349.6L253.9,351.5 M266.7,349.6L266.8,351.6 M224.9,344.4L223.0,344.1 M255.9,351.2L257.3,349.9 M251.7,350.5L249.9,348.8 M232.3,345.8L233.9,348.1 M223.3,348.5L221.4,349.6 M235.2,350.0L236.7,347.5 M257.6,347.0L258.5,348.6 M228.1,346.2L225.5,347.1 M277.1,352.1L277.5,350.6 M225.1,348.8L223.1,348.0 M256.8,345.5L258.7,345.4 M228.6,344.5L227.3,343.3 M281.5,346.8L280.3,346.5 M276.1,346.6L273.7,347.1 M229.5,345.4L231.5,343.6 M279.4,353.6L281.0,352.7 M272.7,352.6L270.9,352.7 M252.9,347.9L250.4,348.0 M264.2,346.4L263.1,349.0 M274.6,353.8L273.0,352.1 M265.7,347.6L266.6,348.1 M261.7,346.4L263.4,345.7 M255.3,352.1L256.9,350.2 M281.1,352.4L282.3,353.5 M242.7,345.6L244.0,344.7 M262.3,348.4L262.3,345.7 M265.8,349.3L267.1,348.3 M259.1,346.5L258.1,349.0 M265.3,350.5L266.5,350.4 M256.5,353.1L256.2,354.8 M266.2,345.8L267.4,346.9 M243.1,346.8L242.1,344.7 M226.4,353.8L225.8,355.3 M263.7,348.8L262.1,350.8 M258.1,344.7L255.6,345.2 M248.8,349.2L249.0,350.6 M259.3,339.0L259.4,336.9 M241.0,348.3L239.8,349.1 M271.7,348.0L271.6,346.6 M251.7,351.8L253.5,350.1 M275.1,351.1L275.8,348.5 M256.6,349.4L256.8,346.9 M231.6,349.3L233.0,350.1 M284.9,351.2L283.8,351.1 M246.3,350.7L248.1,350.6 M261.5,349.5L262.4,351.9 M245.9,348.0L246.2,350.0 M259.2,347.6L258.9,346.5 M257.4,348.8L257.1,346.9 M230.9,351.0L229.9,351.3 M254.1,346.5L255.2,346.2 M240.3,343.0L241.0,341.6 M242.7,351.8L240.5,351.1 M251.3,347.8L249.6,349.8 M244.7,345.5L244.3,346.6" fill="none" stroke="#444" stroke-width="0.6" opacity="0.45"/>
<path d="M282.0,417.1L282.9,415.8 M283.4,421.7L279.2,419.4 M229.2,424.9L230.8,420.4 M266.2,418.6L264.4,414.6 M290.3,438.6L286.8,436.2 M297.9,422.3L295.6,421.1 M257.6,441.3L257.9,439.7 M297.8,418.6L299.6,417.3 M258.7,412.9L257.2,411.6 M297.8,434.1L295.3,432.7 M250.6,415.2L251.9,411.8 M274.2,421.5L275.6,419.5 M250.7,428.7L248.8,427.3 M270.9,427.3L269.5,422.6 M266.4,412.7L267.6,410.7 M279.1,408.4L278.2,406.7 M245.2,434.4L243.2,430.6 M229.4,411.3L227.1,410.4 M220.4,419.0L218.2,415.5 M253.7,402.9L252.7,400.1 M206.5,425.5L207.8,421.2 M262.6,439.1L263.0,435.5 M278.7,433.2L276.9,430.9 M265.2,408.4L263.2,406.4 M295.0,416.9L293.2,412.8 M253.0,442.0L252.5,440.0 M277.8,394.4L277.9,390.7 M232.6,425.5L230.3,421.9 M240.6,427.2L243.6,424.6 M301.5,442.5L304.5,438.7 M293.3,414.0L295.2,410.7 M234.7,434.2L236.5,430.7 M206.9,432.1L209.6,429.9 M307.5,406.1L305.9,404.6 M313.3,408.4L312.0,403.8 M270.2,424.9L270.1,422.9 M207.9,424.9L212.1,422.5 M258.5,403.6L257.0,401.7 M288.7,416.1L289.0,412.8 M209.7,428.3L205.8,426.5 M223.5,430.0L222.0,427.3 M226.7,406.2L229.0,402.8 M263.5,414.9L259.8,412.4 M239.7,406.4L235.9,403.7 M235.3,419.2L235.1,417.6 M327.2,423.4L327.1,420.6 M237.8,421.4L238.8,420.3 M298.4,429.1L297.8,426.0 M204.2,413.2L204.5,411.2 M254.4,403.1L250.5,400.1 M297.5,418.3L294.7,415.2 M268.3,406.3L265.8,403.5 M292.8,401.6L296.3,400.2 M215.3,433.0L214.3,430.3 M281.2,415.8L279.6,414.6 M327.5,409.1L328.5,404.6 M297.5,420.9L298.1,417.7 M301.5,431.9L302.8,429.4 M249.1,433.9L250.0,431.0 M241.9,408.2L243.7,406.8 M235.9,435.5L231.6,433.4 M287.2,427.5L288.1,426.3 M211.4,432.0L211.8,429.6 M205.4,408.8L203.4,407.6 M255.9,430.3L255.6,426.4 M287.4,403.5L284.9,400.6 M243.1,418.8L240.1,417.1 M268.6,410.2L271.1,406.1 M288.9,408.6L287.8,407.3 M259.7,436.3L258.4,435.4 M248.8,438.5L249.6,434.8 M261.6,416.0L259.6,411.8 M303.6,444.3L301.0,442.0 M314.1,402.8L316.6,401.2 M250.7,419.1L254.8,417.1 M237.4,414.1L233.8,411.0 M263.6,410.0L267.5,407.3 M250.6,429.6L249.3,428.4 M253.8,424.6L251.0,423.1 M276.8,419.4L280.2,416.2 M328.4,437.2L327.9,435.5 M264.0,414.2L264.8,412.6 M234.7,420.2L231.7,417.7 M232.0,414.4L233.2,413.4 M313.8,441.3L314.4,439.9 M304.7,417.1L305.9,415.8 M276.7,423.8L277.1,419.3 M253.8,426.7L253.7,422.8 M267.3,402.4L270.1,401.0 M216.5,419.0L215.1,416.4 M238.1,414.1L239.3,412.7 M298.4,412.5L298.9,410.6 M279.1,419.4L279.5,417.0 M260.1,427.5L258.4,423.2 M284.5,424.4L286.4,423.2 M307.9,425.6L307.3,421.8 M230.7,428.6L229.2,426.3 M276.5,430.0L278.3,427.3 M254.4,424.8L252.3,423.0 M192.0,422.0L194.7,420.4 M203.5,414.6L201.8,411.7 M293.3,412.6L294.1,409.5 M310.3,418.0L311.8,417.4 M249.6,408.7L249.0,403.9 M282.2,415.6L281.2,412.5 M315.4,403.4L312.9,400.7 M278.7,423.9L277.8,419.9 M236.9,429.5L234.4,425.7 M205.3,422.8L201.5,420.4 M242.9,411.4L244.0,410.4 M278.6,405.9L281.3,404.5 M264.6,423.4L266.0,420.7 M287.4,395.1L283.9,393.8 M274.8,407.7L275.7,403.9 M327.5,418.3L325.9,417.1 M286.9,431.4L284.5,429.1 M286.7,427.8L288.0,426.2 M266.1,436.3L263.8,433.9 M250.2,435.7L249.9,431.2 M225.2,418.0L226.1,414.5 M289.3,422.1L285.6,420.2 M254.2,437.6L252.0,435.9 M271.6,400.1L274.0,398.7 M332.2,424.7L333.5,423.0 M280.2,416.6L281.4,413.2 M264.1,419.3L266.3,418.0 M203.8,396.6L202.7,393.5 M310.3,417.9L310.1,415.5 M292.5,431.7L293.7,430.6 M243.8,437.2L247.1,435.0 M244.8,429.7L246.0,425.3 M304.6,435.7L305.7,434.2 M242.8,411.1L243.3,406.8 M241.7,446.2L240.4,445.2 M298.6,427.9L299.0,424.3 M286.3,421.3L284.5,416.7 M205.0,412.6L200.5,410.5 M211.5,423.8L209.9,422.6 M269.7,438.8L271.7,435.4 M259.7,449.1L257.3,445.8 M254.9,418.8L257.2,416.3 M340.4,412.4L342.6,409.7 M237.9,440.9L238.1,438.4 M205.6,410.3L208.2,407.7 M211.7,427.9L212.9,425.4 M289.3,434.6L289.5,433.1 M270.8,421.7L269.6,418.8 M266.5,441.7L265.1,437.3 M288.5,425.7L288.2,423.9 M269.5,438.9L266.4,437.1 M240.5,417.7L239.5,416.5 M251.9,434.6L251.0,431.0 M213.6,400.5L212.4,398.3 M266.6,404.9L268.8,403.4 M263.6,418.8L262.6,416.9 M256.9,392.1L255.1,390.3 M269.5,420.1L266.2,418.0 M238.7,439.4L237.0,434.9 M245.6,423.7L245.8,421.1 M293.2,414.4L295.7,412.0 M243.9,425.3L241.6,423.2 M264.3,442.0L263.1,440.4 M275.6,401.3L274.6,399.4 M262.7,425.3L264.3,420.9 M283.8,429.9L282.4,429.1 M284.1,404.4L282.9,399.9 M241.4,403.6L241.1,401.8 M253.8,427.3L252.3,426.0 M247.7,432.6L248.1,428.4 M289.3,413.1L288.0,411.4 M217.6,429.8L217.3,424.9 M286.5,420.3L284.4,418.6 M285.6,421.9L288.1,419.4 M228.2,420.0L230.9,416.6 M281.4,420.4L280.7,416.6 M306.9,425.1L307.6,423.0 M228.1,409.8L228.0,406.1 M314.0,420.2L311.6,417.7 M250.7,425.0L247.3,422.1 M217.4,434.5L215.8,431.7 M224.2,418.9L226.5,417.8 M252.9,403.1L254.3,398.6 M264.4,430.6L267.0,427.4 M280.1,419.0L277.2,415.1 M235.4,408.1L238.2,406.3 M289.9,425.3L288.0,421.8 M281.3,408.0L282.5,406.5 M242.1,441.0L239.7,438.2 M331.8,404.7L333.8,400.2 M224.8,425.9L224.5,424.3 M278.8,433.1L281.2,431.4 M306.4,436.1L305.1,434.9 M249.9,409.1L250.2,406.2 M313.6,429.3L311.8,428.4 M276.7,422.7L276.5,419.3 M267.4,418.7L268.4,415.7 M229.6,425.2L227.9,423.8 M213.5,421.4L213.9,419.7 M304.8,438.3L304.9,435.8 M221.3,418.9L222.8,417.9 M255.2,427.3L254.5,425.9 M321.1,423.9L320.8,421.2 M300.8,410.8L301.3,406.1 M276.7,427.8L277.7,425.8 M257.9,431.9L259.1,428.9 M222.3,432.2L219.9,430.3 M317.8,415.4L314.7,413.2 M277.0,438.8L276.3,435.4 M285.3,412.0L283.2,409.4 M276.5,421.5L274.2,417.6 M286.7,398.4L284.5,396.4 M249.4,433.3L252.9,430.4 M284.9,411.0L287.0,408.6 M292.7,419.5L290.9,415.0 M296.6,411.9L299.4,409.2 M235.5,440.0L236.8,435.2 M257.4,434.0L256.0,431.4 M295.1,440.5L295.9,436.6 M263.8,417.6L263.4,415.7 M298.7,420.5L296.0,418.3 M238.5,434.2L237.7,432.5 M265.2,416.1L264.9,414.1 M223.1,424.4L223.0,420.8 M263.8,431.3L261.1,430.1 M265.0,410.1L268.6,407.3 M304.0,427.5L301.9,423.5 M215.4,396.7L212.5,393.6 M248.4,434.6L248.9,430.2 M313.3,412.0L314.1,410.7 M252.9,405.7L255.2,404.0 M280.4,411.9L281.6,409.0 M275.6,438.0L275.7,436.2 M205.8,425.7L210.2,423.4 M277.3,427.6L276.7,423.6 M267.1,423.7L267.7,419.8 M235.7,438.9L235.0,436.1 M259.3,418.0L256.8,415.2 M225.3,397.8L228.0,394.4 M256.9,420.5L255.2,419.5 M265.8,412.8L268.9,409.6 M306.4,406.9L306.6,403.7 M255.7,432.8L253.0,428.7 M235.6,417.6L237.3,415.2 M213.1,425.1L209.3,423.4 M223.0,416.7L224.9,413.5 M248.1,408.0L250.9,405.5 M258.3,449.0L262.0,446.3 M253.3,418.3L257.6,416.5 M248.9,440.2L244.9,438.1 M291.9,434.4L293.0,432.9 M236.0,416.5L232.6,414.7 M261.2,419.6L259.1,418.1 M226.9,429.3L229.1,426.7 M238.6,401.0L234.7,398.7 M269.5,435.5L269.6,431.8 M258.6,416.5L257.7,415.1 M254.1,430.2L251.5,428.7 M286.8,412.7L288.7,408.7 M279.3,437.2L276.6,435.3 M266.6,431.0L265.2,428.0 M277.1,437.2L272.8,435.4 M227.4,418.8L226.4,417.2 M282.2,408.0L281.2,406.5 M269.3,418.4L272.7,415.9 M238.9,409.0L239.9,405.2 M244.6,413.0L246.0,410.4 M295.4,429.7L294.1,425.0 M220.9,418.5L218.0,416.6 M277.1,408.6L275.8,404.8 M205.1,417.4L203.9,416.3 M300.9,404.9L302.9,403.2 M285.3,418.8L283.5,416.8 M211.6,415.8L211.0,412.8 M281.2,430.1L280.4,427.9 M260.9,439.0L262.9,436.4 M252.5,432.6L253.2,430.9 M308.2,408.7L307.6,407.2 M240.5,405.3L238.9,402.8 M211.2,414.7L208.4,411.4 M260.7,418.5L262.4,416.5 M298.5,440.3L295.6,437.3 M216.5,427.1L217.3,424.9 M292.7,425.3L293.6,423.9 M227.5,444.0L226.7,441.6 M281.7,426.0L283.8,423.6 M290.5,446.9L290.7,443.4 M183.1,424.8L185.8,422.2 M262.6,410.8L266.0,407.9 M323.4,412.9L323.0,408.2 M277.7,418.0L280.3,416.0 M272.5,425.3L274.5,422.0 M282.0,415.9L283.0,414.6 M245.4,421.9L241.6,419.6 M253.6,409.7L251.0,406.9 M181.7,421.9L184.1,420.7 M220.4,398.8L221.8,396.0 M198.0,424.1L201.1,421.2 M331.9,402.7L333.4,399.4 M224.0,422.0L225.5,419.4 M265.2,406.9L264.9,404.4 M213.0,407.0L211.7,402.7 M282.2,441.2L278.8,439.8 M245.1,425.7L246.9,424.0 M296.2,434.9L297.4,432.4 M269.9,402.1L271.8,401.2 M285.9,405.4L287.2,403.5 M255.6,418.5L252.0,416.9 M232.3,421.3L230.6,420.4 M206.4,420.8L202.7,418.0 M230.6,438.9L229.1,437.9 M239.0,392.4L238.7,390.9 M297.2,422.7L297.8,418.7 M224.9,398.1L227.9,396.1 M314.9,398.0L313.2,396.0 M200.8,419.0L199.2,414.7 M245.5,416.3L246.0,413.2 M284.0,425.4L281.3,421.6 M221.3,419.5L222.7,415.3 M248.0,411.3L244.6,408.2 M239.5,420.2L240.6,417.5 M287.5,432.5L286.0,429.5 M253.2,447.2L257.2,444.3 M240.3,420.1L236.3,418.5 M237.2,400.4L237.8,398.9 M250.7,422.6L248.9,419.0 M268.2,408.9L268.9,405.6 M246.5,427.6L243.1,424.6 M215.8,431.0L218.2,427.1 M251.7,411.9L249.0,408.1 M306.2,396.4L305.1,392.6 M272.5,412.4L268.2,410.6 M269.7,421.3L265.9,419.2 M248.2,417.5L248.0,415.6 M288.0,407.3L285.0,405.7 M287.0,419.0L288.1,416.8 M220.6,443.1L221.1,441.0 M238.6,403.5L235.8,399.7 M245.6,402.3L245.2,400.5 M264.8,407.1L265.1,403.4 M191.8,418.2L190.3,416.9 M230.0,408.2L228.2,403.6 M262.2,409.0L261.8,405.1 M258.3,434.4L255.8,433.4 M257.1,415.0L260.6,411.5 M293.8,422.7L294.1,420.5 M265.2,410.4L267.5,408.5 M306.2,412.4L306.9,410.0 M290.6,432.8L294.4,431.2 M285.0,430.5L282.1,426.5 M256.3,407.9L252.7,406.1 M224.1,428.4L223.9,423.9 M217.3,419.2L218.8,417.9 M192.9,415.4L189.9,411.8 M218.2,426.5L219.3,424.0 M306.6,429.9L309.9,427.3 M305.0,445.1L303.5,443.6 M224.3,426.3L224.4,422.4 M318.0,421.4L315.5,418.6 M292.3,426.7L293.7,425.2 M209.0,414.2L210.6,410.6 M261.4,419.9L259.6,416.8 M277.4,404.3L275.2,402.8 M229.2,409.7L227.2,407.9 M225.0,410.8L223.4,407.8 M278.2,435.3L281.2,433.8 M225.1,446.9L229.2,444.4 M243.6,441.7L239.7,438.8 M227.2,429.7L227.9,426.3 M279.6,417.9L283.7,415.9 M283.4,411.1L280.7,409.2 M276.2,423.1L279.2,421.7 M333.9,426.5L333.3,424.9 M255.3,411.9L253.2,408.5 M187.1,409.8L186.0,406.9 M286.0,422.9L284.2,422.1 M266.4,426.3L267.5,424.6 M250.9,416.5L251.0,412.1 M289.3,422.3L290.2,417.5 M216.2,430.8L214.3,426.2 M298.4,441.6L297.9,439.4 M295.3,431.3L294.0,426.9 M255.2,418.0L253.3,416.5 M277.2,431.3L278.2,429.6 M245.4,403.8L244.4,400.8 M274.1,402.2L277.7,400.7 M223.9,443.9L225.9,440.0 M262.5,408.9L266.8,406.6 M234.2,429.8L236.2,427.3 M294.9,423.9L298.4,421.5 M239.4,428.4L241.3,427.3 M253.3,424.2L252.5,421.3 M215.7,415.1L217.6,413.2 M277.5,413.8L278.9,411.8 M270.0,430.3L271.3,428.4 M292.5,415.5L292.9,412.5 M280.9,431.4L280.8,428.4 M235.4,426.9L234.5,425.1 M303.9,401.8L303.7,398.4 M304.6,420.4L305.2,418.2 M267.9,401.4L270.1,398.5 M273.9,444.0L272.6,442.0 M299.3,417.9L299.9,415.3 M225.7,417.3L228.2,413.9 M254.5,424.1L256.0,423.5 M273.5,429.2L273.1,425.1 M301.4,420.7L299.1,416.7 M263.2,398.1L263.9,394.2 M181.4,429.5L181.3,427.5 M292.1,418.0L293.6,413.5 M308.2,420.5L305.5,419.2 M268.1,422.3L265.1,419.8 M283.7,421.2L284.1,418.6 M216.8,442.5L214.5,440.5 M254.7,439.6L255.6,437.5 M267.1,434.9L270.3,432.2 M285.4,441.5L286.4,439.9 M294.4,434.8L294.8,432.4 M285.8,410.3L283.7,408.1 M255.8,436.4L257.8,434.5 M282.7,437.6L281.3,436.6 M242.6,427.0L239.9,424.0 M241.6,428.7L243.8,427.6 M280.8,396.9L281.9,393.5 M253.2,424.7L255.0,420.3 M240.4,430.2L241.7,428.3 M250.9,420.9L252.1,419.3 M288.1,443.1L287.7,441.0 M225.4,424.6L227.3,423.8 M288.0,425.9L287.7,421.0 M247.7,398.4L250.1,394.9 M259.2,426.0L260.1,424.7 M259.1,426.5L262.6,424.9 M255.1,421.4L255.6,419.7 M245.8,417.7L247.5,416.0 M266.8,410.8L267.6,408.2 M315.4,429.6L317.7,428.3 M292.9,422.4L293.8,418.9 M303.4,438.8L306.7,436.7 M236.5,424.6L239.7,421.0 M284.9,417.3L287.7,413.9 M213.1,416.8L215.4,415.6 M211.0,445.3L212.4,441.8 M293.7,424.4L295.7,422.3 M210.5,439.2L208.9,437.8 M256.9,413.9L255.2,411.3 M264.3,406.0L264.1,402.4 M314.9,428.1L314.2,426.7 M253.6,429.8L256.3,427.9 M245.6,401.9L243.0,398.1 M202.0,440.7L200.6,439.9 M247.5,413.8L250.4,412.5 M299.5,432.7L298.3,430.0 M252.5,414.1L253.7,411.3 M316.8,440.1L320.6,438.1 M281.9,415.2L280.6,413.9 M208.8,428.7L207.4,427.8 M233.0,419.8L233.6,417.8 M236.6,414.6L236.8,412.8 M248.5,428.2L248.1,424.0 M266.6,422.0L264.1,419.9 M258.4,420.2L259.3,417.6 M216.9,409.9L218.4,407.5 M269.5,429.4L268.8,428.0 M264.1,419.9L265.8,417.7 M269.8,410.9L269.8,407.2 M307.0,406.0L305.8,403.6 M307.4,425.9L307.4,422.9 M238.0,425.8L239.5,423.9 M212.7,407.4L210.8,405.1 M239.1,401.8L238.3,400.2 M254.9,412.9L257.1,410.3 M272.2,422.9L270.2,420.1 M275.6,425.9L271.9,424.0 M282.7,425.7L282.2,424.0 M252.1,426.9L249.3,424.9 M226.0,416.4L225.0,415.1 M236.4,417.3L238.8,413.4 M238.6,406.0L240.5,402.8 M272.5,444.6L270.4,441.7 M252.1,415.2L254.9,413.6 M261.0,432.7L257.2,431.1 M233.2,413.9L233.1,410.7 M267.8,420.8L265.9,419.3 M246.7,397.8L250.9,395.8 M221.5,423.7L220.0,421.4 M278.3,397.8L280.1,393.7 M249.8,427.4L249.5,424.1 M275.8,423.1L278.4,419.8 M211.7,403.8L210.6,401.7 M226.6,433.4L224.4,431.5 M223.2,440.5L223.9,437.5 M232.5,420.1L232.0,416.2 M306.8,434.6L306.9,431.6 M284.9,430.6L285.5,427.8 M285.2,429.9L288.6,426.5 M235.5,423.3L232.9,422.2 M264.5,425.7L265.0,421.3 M229.5,421.5L231.4,420.7 M296.5,435.3L300.1,433.1 M251.2,432.4L249.0,431.1 M231.5,428.1L231.5,425.8 M266.2,430.7L266.9,429.1 M197.2,426.0L198.1,424.1 M242.7,408.9L241.6,406.9 M257.9,411.2L260.0,409.9 M288.0,421.7L286.6,418.6 M213.9,413.0L217.8,410.3 M269.9,436.1L271.4,434.3 M306.1,422.9L306.0,419.3 M235.9,409.8L233.2,406.3 M264.8,403.0L261.4,399.6 M270.8,400.0L272.5,399.1 M233.4,408.3L231.1,407.0 M262.3,424.7L263.7,423.7 M257.4,400.2L257.8,398.5 M241.2,422.0L238.9,419.9 M252.4,419.7L252.7,416.6 M249.9,422.5L251.8,420.6 M211.1,425.7L213.6,422.6 M220.6,399.6L220.4,397.1 M220.5,408.0L218.7,407.0 M272.0,415.5L270.1,413.9 M300.2,401.7L302.7,400.7 M256.3,403.6L256.5,401.7 M220.2,426.2L221.4,422.5 M316.6,414.6L316.1,412.3 M285.0,419.6L282.1,417.6 M295.6,418.5L294.1,414.4 M258.0,398.3L255.0,396.2 M239.6,414.2L242.4,412.5 M320.8,433.1L318.0,429.7 M246.7,401.8L248.0,400.8 M254.1,414.0L251.2,410.6 M220.5,420.0L220.5,417.9 M250.6,412.7L249.5,408.6 M245.8,407.3L242.3,404.6 M305.8,428.3L306.0,425.9 M330.9,425.8L329.3,422.5 M300.0,425.1L298.0,423.2 M247.2,435.0L246.3,432.9 M232.4,393.5L234.1,391.9 M219.3,410.1L220.4,408.5 M229.9,421.2L231.8,418.1 M306.7,443.5L309.6,439.9 M313.7,434.6L310.6,432.7 M257.9,408.5L259.2,407.5 M287.2,416.8L287.2,413.9 M297.6,447.5L301.0,443.9 M249.7,407.2L246.2,405.5 M221.4,430.4L220.1,428.3 M287.2,401.4L287.6,398.8 M291.0,427.2L293.2,424.3 M324.4,421.2L324.2,418.3 M242.0,410.0L243.5,409.2 M210.6,409.6L208.5,405.5 M223.2,413.1L224.6,408.6 M202.4,403.2L203.9,400.5 M208.1,399.3L206.1,394.9 M294.9,413.9L294.9,412.2 M174.0,425.6L173.6,422.4 M288.1,431.2L286.5,429.2 M344.0,422.1L342.4,418.7 M223.0,403.2L224.6,402.3 M202.7,402.1L204.4,400.5 M274.1,407.5L275.9,406.3 M263.1,431.2L264.6,430.2 M207.8,414.8L206.8,412.6 M280.8,412.6L282.3,409.1 M276.7,428.8L279.5,425.7 M310.8,420.8L310.4,418.1 M272.9,416.5L274.2,413.5 M234.0,425.2L235.0,421.8 M295.0,429.2L292.7,426.7 M238.5,393.3L238.3,390.7 M269.8,413.9L273.4,410.5 M239.0,403.4L239.1,399.0 M248.8,423.4L252.3,421.0 M284.7,421.5L283.7,418.0 M280.6,435.5L282.1,434.9 M286.9,417.4L286.1,414.7 M183.7,404.8L183.3,402.7 M277.1,430.4L275.4,428.2 M245.0,417.6L241.2,415.4 M265.0,411.7L266.8,407.7 M277.5,398.1L276.4,395.9 M245.5,414.6L242.7,413.5 M287.2,439.3L286.1,437.5 M279.3,401.7L279.6,399.4 M261.9,428.9L260.5,424.3 M257.1,407.3L259.1,405.9 M299.0,423.2L301.9,420.0 M272.8,428.8L273.2,426.0 M245.4,415.2L244.8,413.8 M255.9,431.8L258.5,429.3 M291.9,405.3L295.7,403.1 M311.2,418.7L315.0,415.8 M301.7,398.3L300.0,395.9 M322.9,405.0L322.4,402.4 M252.6,425.2L254.8,423.4 M299.9,424.0L302.1,421.5 M323.5,420.6L325.3,418.6 M289.3,431.7L288.8,427.0 M321.3,418.1L322.0,415.3 M214.8,427.4L215.4,425.1 M317.9,422.1L317.5,417.6 M212.4,399.4L214.8,397.5 M328.8,428.0L330.1,423.5 M270.0,435.4L273.1,431.8 M297.2,414.2L296.0,411.2 M234.9,430.7L233.3,427.3 M313.6,429.7L313.3,428.2 M295.9,428.6L294.3,425.5 M256.0,411.9L254.9,410.0 M310.3,416.2L311.3,413.3 M252.8,419.7L257.1,417.8 M223.1,445.4L224.5,441.5 M210.7,431.1L212.1,429.3 M253.7,423.3L256.6,420.4 M257.9,428.1L258.2,426.4 M282.8,405.9L280.9,404.1 M230.1,423.7L228.4,422.8 M330.1,428.9L332.7,426.7 M239.3,423.5L238.0,419.3 M194.1,418.0L195.3,414.0 M260.2,438.8L260.9,434.7 M219.9,429.2L217.4,427.8 M244.6,430.8L240.5,429.0 M275.1,420.7L276.9,418.3 M215.2,411.7L211.5,409.4 M258.8,419.4L256.5,415.3 M273.5,414.3L276.5,411.8 M215.8,424.0L216.7,422.6 M267.0,431.3L263.4,428.1 M259.6,410.9L258.4,408.7 M240.0,412.7L240.1,409.1 M259.0,399.3L256.9,396.6 M250.2,413.4L248.3,411.0 M222.4,427.0L225.8,423.8 M234.9,422.9L232.5,421.0 M253.4,432.0L253.1,429.0 M224.3,395.6L223.0,391.0 M229.5,423.9L226.2,422.2 M330.1,404.5L331.2,400.3 M255.9,435.1L257.6,432.9 M255.6,430.6L254.2,428.6 M226.2,419.8L227.1,415.4 M220.8,424.8L218.3,421.1 M321.8,423.7L320.1,421.4 M222.7,427.1L218.6,425.2 M334.5,423.7L334.0,421.0 M245.5,433.2L244.3,431.8 M242.7,433.4L240.0,430.2 M306.5,426.3L308.9,423.4 M330.1,427.3L332.4,423.7 M235.5,428.8L235.5,426.4 M252.6,429.8L249.8,425.8 M277.1,402.0L276.6,399.7 M339.6,411.8L341.1,410.5 M203.4,398.8L204.1,397.4 M288.1,417.4L283.6,415.2 M258.8,415.1L261.2,411.4 M206.0,408.9L205.0,406.1 M310.5,429.4L311.3,426.0 M253.6,395.5L255.3,394.8 M322.8,436.2L322.8,432.1 M178.3,429.6L177.9,427.9 M254.7,405.5L254.4,403.7 M226.2,405.3L226.3,401.5 M252.0,434.2L252.6,431.4 M221.8,401.6L220.6,397.1 M258.3,417.8L257.7,415.9 M254.1,418.8L254.7,417.1 M248.5,400.2L249.1,398.8 M284.8,438.4L284.7,433.7 M280.1,411.1L282.9,408.4 M231.9,410.5L233.4,409.5 M273.2,421.6L275.8,419.6 M237.1,427.8L235.1,423.8 M271.5,436.9L268.9,435.2 M258.0,408.2L256.6,406.0 M253.6,426.4L251.2,423.8 M258.6,422.3L262.3,419.7 M290.1,438.0L292.1,435.5 M265.4,432.1L261.4,429.6 M233.9,400.2L233.4,397.6 M289.5,408.7L288.5,406.7 M342.5,414.4L339.2,412.4 M295.1,420.7L294.4,418.3 M296.7,415.4L294.9,411.4 M319.6,411.2L319.0,409.2 M294.8,431.2L292.9,427.0 M264.5,415.8L265.0,413.3 M310.3,404.9L308.5,403.8 M227.1,440.7L230.7,437.3 M292.0,429.3L293.2,427.5 M281.7,425.3L282.1,420.4 M326.3,434.9L328.7,431.7 M286.6,424.0L285.9,421.7 M298.7,445.5L295.7,443.4 M231.4,430.6L235.0,427.2 M301.1,399.6L302.1,398.0 M290.0,424.4L289.9,422.2 M273.5,423.0L274.4,421.4 M260.1,431.7L261.0,429.1 M255.5,423.3L253.2,422.0 M300.4,420.9L297.0,418.7 M300.8,408.9L303.1,407.1 M236.0,412.8L237.5,410.7 M200.2,433.7L199.6,429.7 M238.3,441.5L239.5,439.7 M242.6,416.1L246.5,413.9 M232.0,413.1L229.8,411.9 M305.3,428.9L306.3,427.3 M244.6,423.0L245.9,420.4 M223.6,404.6L222.2,403.7 M261.7,395.1L263.3,392.2 M297.3,434.2L294.2,431.6 M242.9,424.1L246.2,420.7 M269.1,424.4L270.9,422.4 M245.2,413.9L247.9,410.5 M226.6,414.7L224.1,412.5 M230.2,408.8L232.8,405.8 M259.9,418.1L260.2,416.1 M276.3,402.5L279.5,400.6 M196.7,421.1L197.1,418.0 M253.7,412.7L249.3,410.6 M216.1,395.7L214.6,393.4 M240.3,420.3L242.6,417.7 M279.5,417.3L278.6,414.9 M283.2,439.0L279.8,437.2 M174.8,417.8L176.1,414.1 M291.8,434.7L291.9,433.1 M237.5,427.3L233.6,425.5 M274.4,411.2L273.8,408.5 M246.7,434.1L246.2,429.8 M241.9,403.4L240.4,399.7 M335.0,423.8L336.6,419.2 M231.0,414.1L230.0,410.3 M264.7,425.5L263.7,422.0 M218.6,438.6L216.5,435.9 M175.9,414.3L175.2,409.7 M226.6,436.4L229.7,434.4 M267.1,415.5L265.8,410.8 M243.0,423.4L246.8,421.1 M275.9,420.8L272.6,418.5 M272.8,432.0L275.5,430.3 M213.0,409.8L212.4,405.2 M261.2,402.0L260.2,400.8 M229.7,439.3L232.1,435.5 M193.6,416.9L196.0,413.7 M230.8,415.3L231.7,411.2 M255.9,443.6L258.4,439.5 M264.2,433.9L264.7,430.4 M238.1,424.9L235.0,423.2 M257.4,413.3L259.1,410.6 M270.2,410.7L270.3,407.3 M278.2,405.4L280.9,401.8 M231.9,437.3L228.4,434.2 M222.7,434.2L224.2,430.7 M275.4,414.5L278.7,412.3 M311.5,407.2L309.7,405.9 M260.7,428.9L260.2,425.7 M234.4,433.4L232.2,429.2 M187.8,433.3L188.9,430.2 M231.0,411.6L229.5,408.5 M230.6,421.3L229.2,419.0 M229.8,414.7L227.5,413.2 M286.9,449.2L285.8,446.7 M267.8,408.7L269.2,404.2 M246.6,405.7L246.9,402.6 M309.0,427.3L311.6,426.1 M325.4,400.6L325.0,398.0 M305.3,434.8L302.4,432.6 M231.1,420.4L228.9,417.6 M239.8,429.0L242.3,425.6 M188.0,430.6L188.8,427.7 M237.5,414.4L239.9,410.4 M233.7,432.4L230.6,429.2 M240.6,425.2L236.9,423.3 M240.1,433.1L240.8,431.1 M256.3,426.6L254.6,423.7 M259.0,408.9L259.8,407.0 M225.0,431.2L225.5,427.9 M258.6,439.0L257.0,438.1 M230.3,408.5L228.9,407.8 M283.5,447.3L283.7,445.6 M306.2,399.2L305.9,396.8 M272.7,404.7L271.7,400.7 M287.4,427.3L285.8,424.8 M288.0,421.0L285.9,419.0 M229.8,410.8L233.4,407.6 M277.2,408.2L278.7,405.4 M292.2,423.5L289.1,419.9 M279.0,411.2L279.3,409.4 M238.6,400.9L240.5,399.0 M210.5,426.2L212.4,422.3 M252.7,422.9L256.9,421.0 M247.5,395.1L248.8,391.5 M190.3,410.9L191.5,408.1 M293.4,408.4L291.7,407.2" fill="none" stroke="#222" stroke-width="0.6" opacity="0.45"/></g>
 </g>
 <path d="M183,261 H344 V281 L325,274 L302.9,268.8 L280,266.3 L259.5,265.8 L257,263.5 L240,263.8 L238,265.5 L226,266 L224,264.2 L220.5,263.8 L217,266.4 L200,268 L183.6,269.3 Z" fill="#fff"/>
 <path d="M183.6,269.3 L200,268 L217,266.4 L220.5,263.8 L224,264.2 L226,266 L238,265.5 L240,263.8 L257,263.5 L259.5,265.8 L280,266.3 L302.9,268.8 L325,274 L343.5,281" fill="none" stroke="#111" stroke-width="0.9" stroke-dasharray="2.5 1.8"/>
</g>
<rect x="183.6" y="261.7" width="159.9" height="173.3" fill="none" stroke="#444" stroke-width="1"/>
<!-- CONTRA dnTCF4 -->
<g clip-path="url(#ci4)">
 <g filter="url(#tex2)">
  <rect x="183" y="437" width="161" height="175" fill="url(#gC2)"/>
  <ellipse cx="245" cy="545" rx="55" ry="50" fill="#dedede" filter="url(#gb8)"/>
  <path d="M184,612 L184,606 Q220,599 255,597.5 Q290,599 325,606 L344,610 L344,612 Z" fill="#8a8a8a" filter="url(#gb2)"/>
  <path d="M188,612 Q225,601 256,600 Q290,601 330,612 Z" fill="#1a1a1a" filter="url(#b1)"/>
  <g filter="url(#soft)"><path d="M275.6,563.6L273.6,564.3 M211.6,537.9L212.1,535.8 M207.1,551.8L205.3,554.8 M270.5,512.8L270.0,515.4 M244.3,520.8L246.7,520.8 M250.7,542.7L253.5,544.0 M239.2,610.4L240.3,611.3 M267.3,551.0L264.8,552.4 M293.4,602.1L293.3,604.6 M223.3,474.9L225.6,474.5 M224.0,548.6L225.5,545.2 M222.0,535.2L222.9,532.6 M222.3,470.0L223.6,471.5 M307.0,524.9L309.4,524.5 M239.5,571.8L243.0,573.3 M249.9,441.6L250.2,438.8 M301.3,497.1L298.4,498.1 M255.8,552.1L255.1,549.4 M251.5,510.4L248.7,511.3 M180.2,552.0L180.0,554.9 M257.0,599.9L255.7,602.6 M245.2,478.7L243.4,475.3 M212.9,541.1L214.0,540.3 M228.2,587.4L228.5,589.8 M305.4,563.1L303.9,564.6 M276.1,598.5L274.0,595.6 M257.3,537.3L256.8,540.5 M280.0,441.8L282.8,441.6 M282.0,490.9L285.0,491.0 M241.8,545.9L239.7,547.4 M312.3,493.9L311.1,492.8 M276.6,558.6L276.9,562.0 M232.2,490.7L233.0,488.5 M261.2,616.1L258.9,616.2 M255.2,494.4L252.2,494.8 M184.8,535.9L184.1,537.5 M248.3,588.5L248.9,591.2 M313.3,528.1L312.5,524.4 M211.4,588.1L209.1,587.5 M290.7,612.6L289.8,611.9 M225.1,588.4L225.7,589.3 M317.9,578.4L315.7,579.3 M270.5,493.6L267.9,493.0 M253.9,501.7L255.8,502.0 M337.1,589.3L335.3,586.6 M210.7,594.9L210.5,592.3 M276.5,469.1L279.4,468.1 M245.0,555.2L248.6,553.4 M219.0,582.4L220.6,580.4 M220.8,560.2L222.2,559.8 M229.2,521.0L227.8,520.2 M286.7,446.4L286.7,449.3 M286.6,543.9L289.6,546.1 M243.8,581.5L244.9,578.8 M186.5,568.3L184.8,569.2 M245.9,455.6L248.7,453.9 M286.2,606.5L283.2,607.0 M213.6,439.7L214.4,441.2 M222.7,580.4L221.2,582.6 M307.2,602.8L311.1,603.1 M246.8,499.4L247.3,502.8 M324.8,505.2L324.4,506.6 M189.9,526.7L192.8,524.2 M323.6,582.5L325.4,585.9 M269.4,502.6L269.7,499.6 M251.0,555.1L253.7,552.5 M197.5,487.0L200.8,488.0 M285.1,564.1L286.5,565.4 M332.9,518.3L334.6,517.8 M233.5,496.5L234.6,495.3 M206.5,592.2L207.2,588.5 M276.9,543.7L276.5,546.2 M316.2,446.6L317.1,445.2 M286.1,515.5L283.1,516.1 M279.8,555.4L278.4,558.0 M308.1,567.5L311.7,566.2 M229.6,547.4L226.9,545.4 M252.8,584.7L251.0,583.7 M268.7,538.5L266.0,537.1 M263.2,565.4L263.4,564.2 M284.2,547.4L283.4,546.0 M240.5,550.1L244.1,550.3 M234.2,554.2L233.2,554.8 M236.2,483.7L234.2,482.0 M268.6,484.4L268.7,486.5 M200.4,537.3L200.9,538.4 M249.6,530.1L253.0,531.1 M251.3,539.3L252.1,536.9 M273.8,499.0L273.3,495.5 M305.2,608.0L307.1,610.8 M260.1,580.3L260.9,577.6 M272.1,536.5L272.7,539.5 M269.8,601.3L272.6,598.9 M277.7,470.9L274.7,471.6 M262.3,461.6L262.1,460.2 M246.1,468.6L246.7,469.8 M338.9,569.9L340.1,570.4 M219.4,565.9L221.5,567.0 M296.2,532.6L294.7,531.2 M263.2,594.1L264.6,595.8 M317.8,604.0L315.7,604.7 M288.3,530.6L291.1,529.2 M264.3,470.0L266.4,470.1 M261.0,536.8L258.5,539.6 M270.3,611.2L271.4,610.0 M226.3,529.1L227.4,531.7 M299.8,554.2L303.3,553.0 M253.8,547.7L255.2,544.2 M240.6,553.2L241.4,555.1 M287.0,534.6L286.0,534.0 M268.5,510.9L267.0,511.8 M294.5,552.1L297.4,552.3 M247.2,470.9L245.5,470.8 M292.2,441.6L294.6,440.9 M178.3,534.2L178.8,535.6 M233.8,576.2L230.7,578.2 M254.6,553.6L252.0,555.3 M280.8,530.6L282.8,529.0 M268.9,597.0L270.7,597.6 M264.9,576.7L265.1,573.5 M185.0,555.8L188.5,554.9 M248.2,536.6L249.5,535.5 M316.1,438.3L315.4,440.5 M208.0,461.5L206.4,464.0 M231.3,536.0L231.0,534.5 M223.1,506.1L221.6,508.9 M226.4,599.0L230.3,599.0 M300.7,528.5L300.4,530.4 M251.9,587.5L250.0,587.0 M293.9,493.5L292.8,496.8 M198.5,591.0L197.7,592.2 M316.1,550.3L314.0,553.3 M226.4,578.2L223.7,580.4 M243.8,542.3L241.9,540.7 M310.0,527.7L310.9,525.5 M244.6,605.9L246.7,604.7 M187.1,523.8L185.8,522.1 M230.4,511.6L232.4,508.3 M231.6,457.5L234.1,458.9 M258.8,602.1L260.8,602.5 M191.1,575.6L193.1,573.7 M183.4,468.3L180.4,469.2 M237.0,548.3L235.5,546.6 M251.4,526.3L251.1,528.6 M218.3,549.1L220.3,550.5 M263.2,497.8L266.4,499.2 M280.6,556.6L282.1,556.3 M259.9,449.9L262.8,448.9 M300.6,572.2L302.0,571.4 M273.6,483.2L270.7,483.8 M276.1,557.7L275.7,554.7 M264.3,514.7L262.5,512.5 M291.2,514.4L293.7,512.1 M297.1,438.3L295.2,441.7 M260.4,564.0L258.5,565.1 M249.5,550.9L250.9,548.7 M204.6,581.9L205.6,582.6 M230.4,528.7L230.6,529.8 M280.7,437.9L280.9,435.3 M280.1,492.1L283.4,492.7 M251.1,549.0L248.3,549.7 M266.7,472.7L265.2,472.6 M240.4,563.2L238.3,560.5 M301.8,521.7L301.1,524.0 M204.5,508.8L206.6,508.1 M256.6,517.5L257.3,521.2 M277.7,561.4L275.5,560.3 M277.3,517.9L273.7,518.6 M272.1,461.0L274.4,461.6 M213.7,521.6L211.4,522.9 M284.1,611.2L281.1,609.7 M280.8,472.2L280.4,473.7 M281.8,480.9L282.9,482.8 M248.0,577.6L247.7,574.4 M213.2,515.3L214.3,515.1 M272.9,536.5L274.8,536.9 M252.3,505.2L249.3,504.8 M254.5,461.1L251.3,461.0 M226.4,532.7L225.2,533.1 M254.1,585.1L251.7,582.3 M339.9,569.7L340.1,567.5 M288.3,500.4L288.5,503.8 M235.3,568.2L236.3,570.3 M249.2,617.6L248.8,614.4 M311.4,550.0L311.2,551.9 M165.1,500.1L164.8,499.2 M311.6,518.6L315.3,518.4 M250.9,499.3L253.7,499.9 M194.3,567.8L192.9,569.3 M286.3,526.2L284.7,524.4 M255.0,599.7L256.7,597.1 M227.8,493.7L226.9,493.0 M297.4,561.4L300.1,563.7 M239.5,532.6L241.0,534.0 M250.2,523.7L249.4,524.9 M255.5,486.3L255.3,483.2 M307.6,520.1L305.8,520.1 M245.1,504.8L247.1,504.5 M311.2,618.4L313.3,615.2 M234.2,496.3L234.9,495.0 M235.6,544.0L237.4,545.5 M256.8,557.9L253.5,557.5 M211.6,626.2L212.8,622.8 M292.8,509.6L291.5,512.8 M240.3,516.1L238.4,514.1 M208.9,523.6L209.5,525.0 M354.4,508.8L354.7,510.5 M302.3,506.7L301.7,509.1 M286.2,505.2L285.5,503.4 M235.3,498.3L236.5,494.9 M236.7,526.6L234.6,527.0 M223.8,536.3L226.5,534.6 M230.2,624.2L228.2,626.4 M291.8,473.6L294.8,475.0 M276.4,637.8L278.2,640.1 M295.8,568.0L293.3,570.9 M214.4,475.8L215.4,476.3 M322.3,559.6L324.7,559.3 M322.8,600.1L325.4,598.4 M340.9,512.6L339.7,511.3 M268.3,540.1L270.7,538.7 M329.9,556.3L330.3,558.0 M316.6,492.5L315.6,491.2 M281.6,522.0L285.0,521.1 M187.7,593.6L187.9,589.7 M235.9,584.5L235.0,588.1 M227.7,486.9L225.7,484.9 M251.0,614.5L249.6,612.2 M209.6,461.6L206.8,462.3 M242.4,574.3L245.1,572.7 M279.7,447.5L277.9,446.5 M267.6,522.8L266.4,520.8 M321.7,489.3L324.9,488.5 M256.9,534.0L257.2,535.4 M210.7,506.1L211.5,508.9 M187.6,567.7L190.6,565.7 M239.9,498.2L242.3,497.5 M298.3,467.8L299.6,465.1 M352.6,564.7L351.8,563.1 M221.8,562.4L219.9,559.9 M304.0,549.0L300.7,550.0 M255.9,591.4L257.3,592.7 M268.5,591.7L270.1,592.6 M304.3,468.1L305.9,471.2 M278.6,459.8L277.5,457.7 M248.8,489.8L247.7,486.5 M270.9,510.8L270.7,509.7 M228.0,534.5L228.0,530.8 M256.1,516.2L253.9,516.4 M283.4,547.7L284.1,545.4 M260.7,597.3L262.2,597.7 M272.4,504.8L272.3,502.7 M254.6,546.5L252.9,546.0 M274.9,545.7L271.8,545.2 M235.5,563.3L237.9,563.9 M285.1,538.8L282.4,540.9 M249.2,541.3L250.4,542.2 M294.3,443.7L293.1,442.5 M265.6,517.9L268.1,517.6 M191.8,482.7L190.4,485.5 M331.3,462.5L333.2,459.9 M257.2,489.4L253.6,490.3 M320.1,519.3L319.1,520.3 M232.1,442.3L233.0,440.0 M333.3,606.0L334.8,605.3 M320.1,512.8L318.8,511.5 M264.0,620.9L267.0,619.5 M317.3,599.3L319.0,602.5 M212.6,446.4L213.0,448.1 M320.7,601.1L318.3,601.1 M273.1,536.1L272.0,534.5 M223.2,512.1L222.2,514.9 M221.6,554.8L220.2,556.2 M236.4,462.9L239.7,461.1 M191.8,527.4L192.9,528.2 M292.6,548.4L292.5,551.6 M302.4,467.5L304.4,468.9 M212.1,525.3L209.8,523.7 M336.0,550.3L333.6,552.1 M238.1,553.3L240.3,553.6 M195.4,526.1L195.6,527.4 M278.3,489.6L280.7,488.2 M321.7,527.1L322.8,528.9 M333.6,526.6L335.0,526.9 M210.7,537.7L206.8,537.5 M256.5,503.0L253.6,502.9 M202.1,506.4L200.3,507.0 M277.7,555.7L277.2,553.5 M312.9,536.4L313.3,539.5 M313.6,540.5L311.5,539.9 M179.2,564.3L179.1,567.1 M302.8,526.7L304.1,528.3 M250.6,588.5L253.7,586.6 M258.9,584.3L262.4,585.8 M225.0,569.4L226.8,568.4 M288.1,498.3L289.4,498.2 M226.6,550.2L223.7,549.3 M284.3,445.5L283.8,443.6 M278.4,520.8L275.7,519.9 M209.5,553.7L207.6,551.2 M296.6,573.7L294.4,574.2 M263.6,497.1L263.2,500.2 M230.6,534.0L231.1,535.1 M207.8,531.9L205.2,529.7 M272.8,510.8L273.3,508.4 M309.3,606.4L307.4,604.0 M288.6,565.2L287.7,567.0 M276.5,532.4L278.0,530.1 M250.2,460.9L252.5,462.3 M283.1,618.9L285.0,617.5 M213.9,523.1L214.4,521.9 M268.3,561.1L267.8,562.9 M189.9,516.6L188.8,516.2 M288.5,546.2L287.5,544.6 M254.0,580.2L257.6,581.8 M226.0,554.4L228.5,554.6 M268.6,550.5L270.3,551.8 M277.1,551.8L276.6,554.7 M286.1,539.8L286.0,538.4 M289.8,506.4L292.1,504.1 M183.3,557.6L181.8,558.1 M297.9,551.7L298.9,552.1 M254.5,637.2L253.6,638.5 M318.9,455.1L317.7,455.0 M251.6,538.1L252.9,538.5 M285.9,586.5L288.6,586.3 M268.5,475.7L270.6,477.5 M241.5,551.1L240.2,550.4 M232.9,556.6L236.2,557.7 M284.6,498.6L283.8,497.4 M272.0,494.9L273.7,495.5 M221.2,517.0L221.4,518.7 M216.1,542.7L216.4,541.6 M337.9,498.3L335.3,501.0 M286.0,535.4L287.2,538.0 M298.4,431.3L297.7,434.0 M262.5,592.0L261.3,592.0 M253.6,639.3L252.7,642.9 M198.1,497.6L196.4,500.6 M281.6,468.1L282.0,471.6 M217.1,578.1L220.0,580.3 M255.5,481.8L258.7,482.9 M265.2,548.9L262.5,547.1 M241.5,527.7L239.3,530.5 M237.4,499.4L235.5,500.1 M318.9,568.1L317.3,565.7 M208.8,551.4L206.9,551.4 M301.1,540.8L297.8,540.8 M282.3,446.9L280.3,448.3 M239.7,614.0L241.3,613.6 M281.8,533.0L281.0,535.0 M290.6,509.8L294.4,509.2 M283.8,564.7L281.0,565.1 M273.8,479.4L274.0,477.7 M324.7,442.9L325.0,440.1 M178.2,478.1L179.2,478.2 M291.9,517.4L290.6,516.3 M255.4,559.6L258.1,562.4 M334.6,568.7L333.1,568.5 M264.7,478.1L264.5,476.9 M254.1,518.5L257.9,518.2 M265.5,602.1L264.4,601.9 M219.6,519.8L220.7,517.8 M293.0,553.5L294.8,552.1 M258.4,546.4L262.0,545.0 M215.5,567.8L214.0,569.3 M224.9,482.7L226.7,482.9 M261.8,548.0L258.8,547.8 M245.3,542.6L241.5,542.9 M216.0,544.6L216.0,546.9 M330.8,504.9L330.3,502.5 M229.3,511.6L228.8,510.1 M273.6,529.2L275.0,529.4 M296.4,496.0L299.4,497.5 M260.4,540.2L258.8,541.1 M276.1,490.2L278.1,491.5 M266.4,564.3L267.4,565.9 M222.1,510.8L222.7,512.7 M290.5,517.4L288.1,517.6 M228.4,450.7L228.7,452.7 M334.5,476.3L334.4,478.3 M242.8,470.7L241.6,468.1 M291.3,525.9L292.3,525.0 M258.9,476.0L258.0,477.5 M291.7,528.8L293.4,529.6 M177.6,576.1L178.0,573.7 M245.4,422.3L244.3,419.3 M225.4,513.8L228.9,514.3 M293.2,523.3L295.8,525.8 M239.2,490.4L240.4,490.1 M294.8,520.3L294.4,519.0 M271.0,424.4L273.9,422.0 M225.3,549.2L226.5,549.6 M317.3,466.4L318.6,466.1 M277.8,513.5L277.1,512.7 M243.7,470.2L246.6,472.7 M239.1,556.9L239.6,555.4 M207.3,489.9L208.6,489.4 M237.5,494.3L233.9,494.2 M236.6,509.6L237.9,511.6 M272.4,511.7L274.5,512.2 M315.9,512.0L314.7,510.4 M196.1,473.4L195.1,473.0 M299.5,508.3L298.4,507.9 M288.5,466.1L288.5,467.3 M254.3,546.5L251.8,545.3 M273.6,564.3L273.6,561.0 M225.5,490.0L224.7,489.1 M263.6,544.6L263.7,547.1 M246.4,504.2L244.5,506.6 M222.7,573.7L219.8,572.7 M351.4,497.6L349.9,500.8 M234.1,534.3L233.0,534.8 M259.2,566.9L257.0,564.8 M306.7,511.6L308.7,513.7 M184.0,583.3L185.3,581.8 M211.4,561.6L210.5,560.7 M315.4,526.7L314.6,527.5 M266.0,549.1L266.3,551.3 M250.7,582.9L248.0,581.8 M291.8,524.7L290.3,524.4 M260.4,553.6L262.4,555.6 M237.6,544.2L235.2,545.7 M337.4,567.2L338.4,566.8 M263.2,563.9L264.2,564.5 M234.5,515.1L233.6,513.3 M274.5,473.0L272.4,474.9 M223.8,560.1L222.0,558.8 M224.2,498.3L224.4,494.8 M187.2,492.1L186.4,490.8 M285.3,590.2L285.2,592.0 M248.1,494.9L244.8,495.7 M261.1,479.7L261.9,482.2 M175.9,525.6L175.0,526.4 M268.2,497.0L266.5,496.5 M221.3,494.7L222.4,492.5 M295.0,551.8L295.8,554.5 M226.9,468.3L226.4,472.0 M253.8,502.8L256.3,502.5 M241.9,511.4L242.7,510.4 M300.8,591.3L301.0,589.1 M264.4,558.7L267.5,556.8 M303.7,520.1L302.3,519.9 M246.0,565.6L247.0,565.9 M233.9,499.6L235.9,501.5 M189.3,535.3L190.0,539.1 M270.1,500.0L268.2,503.4 M284.3,496.9L285.8,494.7 M247.2,509.1L247.5,510.8 M275.3,538.9L277.1,542.4 M307.7,518.0L307.1,515.4 M285.7,565.7L283.4,566.4 M244.0,539.3L245.7,537.3 M258.9,502.1L258.0,498.9 M223.2,518.0L222.2,518.3 M324.4,506.2L325.7,507.0 M261.0,597.7L259.4,595.8 M340.8,508.3L340.2,507.1 M311.1,483.4L312.7,483.6 M283.6,575.2L284.5,579.0 M264.8,490.8L265.7,489.5 M257.2,531.0L259.8,533.3 M240.0,521.9L243.4,521.3 M320.3,560.3L318.8,557.9 M181.6,572.4L182.9,573.8 M300.0,594.2L300.9,592.5 M258.6,521.4L255.1,522.3 M282.6,534.7L283.4,532.3 M261.2,554.9L262.5,554.3 M259.5,522.9L263.0,520.9 M282.9,556.4L279.8,555.6 M258.9,529.4L256.4,531.1 M226.3,441.3L227.4,442.5 M187.7,553.0L191.3,554.8 M264.6,503.9L263.5,504.2 M194.4,470.5L194.8,472.1 M181.6,577.9L183.5,577.0 M198.0,502.7L198.6,501.0 M282.5,501.7L282.8,500.0 M301.5,513.4L303.2,512.7 M251.7,532.6L253.5,533.2 M256.7,470.1L254.1,468.2 M298.0,557.3L295.6,554.3 M274.5,504.6L273.1,504.6 M295.0,555.4L295.4,554.4 M202.6,475.2L205.6,477.8 M202.6,568.9L202.4,570.2 M296.5,466.2L298.6,463.9 M254.5,506.0L253.8,508.6 M310.0,546.7L313.8,547.9 M225.9,475.9L225.5,472.1 M283.5,497.3L282.0,497.3 M216.0,611.1L215.4,609.1 M264.5,509.9L261.6,511.6 M277.2,492.0L278.6,495.2 M197.5,547.1L198.9,547.6 M279.1,534.9L281.5,534.1 M293.1,534.1L293.2,530.2 M279.0,474.5L278.7,475.4 M264.8,476.5L263.6,478.5 M287.2,441.9L288.6,438.5 M231.1,594.2L232.0,591.2 M239.9,512.9L241.5,509.9 M219.6,510.0L222.3,509.1 M280.2,527.8L281.6,530.8 M337.8,524.4L337.3,521.3 M264.6,476.7L262.3,477.1 M261.9,611.1L262.5,612.2 M220.9,568.5L217.3,569.0 M316.1,517.7L315.2,518.2 M265.6,432.6L267.7,435.9 M292.7,604.7L291.7,601.8 M227.9,504.0L225.3,503.9 M255.7,580.1L255.7,581.5 M206.3,527.0L209.1,527.3 M271.2,601.6L269.6,602.5 M319.1,485.1L319.2,488.3 M197.9,495.1L201.5,494.6 M274.5,509.6L271.6,507.3 M241.9,571.9L238.7,570.9 M279.1,503.4L280.5,506.3 M309.1,481.8L308.0,482.7 M221.5,581.0L218.2,582.2 M211.2,525.7L208.6,523.6 M260.4,564.7L262.3,565.7 M265.1,604.8L264.3,605.5 M293.3,530.9L295.7,532.4 M344.1,518.5L341.3,519.6 M252.0,566.6L255.6,565.7 M215.8,449.2L216.3,448.0 M307.4,518.0L310.4,519.7 M261.1,504.4L263.5,507.3 M255.3,563.7L254.9,567.2 M282.4,529.1L285.4,526.7 M258.7,494.2L262.0,496.0 M276.8,593.2L278.2,590.6 M248.5,470.4L245.3,469.2 M246.2,470.7L248.5,469.6 M242.1,582.0L241.6,579.0 M231.7,591.7L231.4,592.8 M225.8,535.9L224.0,539.5 M240.3,480.6L238.7,481.1 M323.7,528.3L321.2,526.5 M341.6,589.6L342.6,590.8 M228.6,473.1L226.1,473.0 M273.3,591.6L272.3,590.3 M253.1,489.4L249.4,489.1 M214.5,564.3L216.5,561.0 M225.9,600.2L226.1,601.8 M320.3,499.2L321.5,498.2 M226.4,540.6L227.3,542.3 M305.6,575.1L304.0,572.8 M284.0,538.6L282.7,537.3 M226.8,533.1L226.3,535.1 M293.0,537.4L294.3,535.7 M304.6,541.2L305.8,541.0 M230.2,550.1L227.1,551.4 M191.8,496.9L191.4,498.1 M290.8,580.8L290.8,577.8 M312.3,567.3L315.4,566.8 M280.2,440.9L281.2,438.9 M185.5,588.0L184.8,586.7 M322.9,520.7L324.6,523.1 M238.5,559.9L241.2,558.4 M262.0,534.4L262.1,532.3 M276.6,489.9L277.2,488.7 M206.4,570.6L208.6,569.6 M209.3,534.7L208.7,536.5 M270.4,496.8L268.9,495.1 M317.5,524.6L318.9,525.7 M267.1,518.6L270.1,519.0 M281.5,487.2L283.6,485.1 M272.0,506.2L268.4,507.1 M237.0,518.4L237.6,519.7 M224.1,511.9L224.7,511.0 M320.1,579.8L317.2,579.1 M270.1,524.8L270.7,528.6 M250.6,503.7L248.0,502.7 M271.4,569.5L269.1,569.0 M236.9,534.3L235.7,533.3 M317.0,560.8L318.3,563.8 M285.4,472.4L287.7,475.0 M260.5,502.2L257.6,503.9 M246.0,515.3L245.0,516.6 M237.1,533.4L236.1,534.0 M313.1,550.8L311.2,552.5 M235.5,487.9L235.9,485.6 M294.9,543.0L297.2,543.9 M175.9,504.3L175.0,507.9 M275.9,523.1L275.4,521.7 M219.2,454.4L219.2,455.4 M212.9,559.5L211.1,558.9 M223.7,554.9L225.7,555.0 M260.0,492.3L263.0,490.4 M205.4,566.4L203.1,566.1 M278.1,497.4L276.5,495.0 M283.0,577.3L285.2,576.6 M261.8,585.5L260.3,586.5 M189.7,561.1L190.2,562.8 M242.2,578.6L242.0,579.7 M240.5,540.6L242.3,542.3 M170.2,560.7L171.6,561.1 M187.0,518.1L184.8,515.5 M288.0,568.3L288.6,571.4 M263.2,493.4L264.1,493.0 M278.5,582.2L280.9,585.2 M303.1,539.8L303.7,542.3 M290.4,532.1L291.9,535.7 M232.4,553.6L236.0,552.9 M293.8,472.6L292.1,470.4 M269.9,552.7L268.4,549.8 M257.7,590.4L260.3,587.4 M246.2,496.7L244.4,499.6 M311.8,562.8L309.2,563.2 M261.4,539.5L264.9,538.1 M263.5,531.6L266.7,531.8 M192.1,586.4L190.9,585.5 M201.0,538.8L201.2,540.0 M268.8,515.4L268.5,513.2 M222.8,516.4L224.8,515.6 M242.8,464.8L243.1,463.6 M343.4,589.0L344.3,589.5 M255.9,516.3L253.8,514.6 M217.7,588.3L216.5,588.2 M241.7,562.0L244.7,561.5 M289.8,515.4L290.4,516.8 M305.0,620.2L308.6,619.5 M274.1,477.9L275.9,480.4 M214.2,452.4L215.0,451.0 M231.6,505.6L229.0,508.5 M261.6,493.6L261.5,495.6 M214.4,577.8L216.8,579.9 M249.5,505.0L250.0,502.9 M318.0,583.8L317.5,581.9 M331.7,499.8L330.9,500.8 M284.0,511.7L287.2,510.8 M238.7,507.7L240.8,506.9 M262.7,451.9L262.3,454.9 M212.4,549.1L212.5,552.8 M262.4,525.4L264.4,525.8 M270.1,444.1L272.8,443.4 M300.7,543.0L301.6,540.0 M244.9,528.0L245.3,525.2 M232.8,526.8L232.0,528.6 M233.8,552.6L231.9,552.1 M260.7,572.5L263.2,573.6 M237.1,541.7L238.3,540.4 M290.0,570.6L291.1,571.3 M310.5,578.7L307.6,577.6 M216.7,582.6L214.4,581.5 M224.2,556.7L226.9,556.8 M299.4,528.8L299.2,527.3 M265.6,618.8L267.7,617.5 M281.7,615.0L284.7,614.1 M223.9,470.7L223.3,471.5 M267.2,431.4L265.1,428.6 M258.4,573.6L256.0,574.1 M267.1,527.4L266.0,528.9 M298.4,451.6L302.1,452.0 M187.1,538.3L185.0,540.7 M271.8,543.4L271.7,545.2 M294.1,523.6L294.4,525.4 M260.6,534.4L259.8,532.9 M242.9,536.1L243.6,539.8 M274.7,516.6L276.8,515.6 M209.4,530.4L208.6,532.3 M311.6,600.6L310.6,598.5 M304.0,512.3L301.8,513.6 M220.3,487.0L222.6,487.6 M227.2,537.3L228.0,535.7 M228.1,541.8L226.4,541.0 M305.6,573.3L302.5,573.4 M205.1,494.4L204.2,490.5 M318.5,493.7L316.2,494.2 M249.1,489.8L245.2,490.0 M233.8,512.3L231.8,513.9 M286.2,534.7L286.9,530.8 M254.0,568.7L255.8,570.0 M271.4,487.2L268.7,484.7 M305.3,524.2L304.9,525.6 M326.6,609.2L325.8,610.1 M306.4,511.0L307.5,512.7 M261.8,541.8L262.5,540.2 M245.7,547.4L243.7,545.3 M252.2,564.1L251.6,561.9 M227.0,453.0L224.3,454.6 M275.3,520.3L277.8,518.8 M252.0,581.2L250.4,582.8 M311.2,464.9L308.9,463.1 M278.5,601.2L282.0,601.0 M216.0,510.5L215.9,511.7 M248.5,541.7L249.1,543.5 M225.5,490.5L227.7,490.6 M239.1,563.6L238.5,564.6 M285.1,517.9L283.3,520.3 M272.4,553.3L269.0,554.7 M209.6,521.4L210.6,520.9 M333.9,489.3L335.5,490.7 M313.2,499.6L313.1,501.1 M237.2,529.7L238.1,532.2" fill="none" stroke="#555" stroke-width="0.5" opacity="0.45"/>
<path d="M233.0,574.8 L231.8,571.9 L233.1,569.6 L232.6,566.8 L232.2,564.0 L232.7,560.8 L232.5,558.6 M221.2,516.2 L220.6,511.4 L222.1,506.3 L221.1,500.8 L221.9,496.2 L221.5,490.8 L219.9,485.9 M246.8,463.8 L247.6,461.3 L246.3,459.0 L245.6,455.9 L246.0,453.7 L245.5,451.0 L244.1,448.8 M242.0,573.1 L245.0,565.4 L246.6,557.7 L248.7,550.2 L252.8,542.6 L254.3,534.8 L257.5,526.7 M239.6,504.2 L238.7,498.6 L239.8,492.1 L239.2,486.7 L237.9,480.4 L239.5,474.6 L239.2,468.6 M214.5,493.1 L216.6,485.2 L220.6,477.6 L222.7,470.0 L224.0,462.1 L227.1,454.6 L229.7,446.2 M205.6,514.0 L209.4,509.0 L211.2,504.2 L214.6,499.1 L216.8,494.0 L218.8,489.5 L222.7,484.2 M191.5,585.3 L191.8,579.1 L190.0,572.7 L188.8,566.3 L189.1,559.5 L188.6,553.3 L187.7,546.9 M259.8,549.6 L257.6,543.4 L256.2,537.4 L253.3,531.8 L252.1,525.4 L248.9,519.4 L247.6,513.2 M273.3,502.0 L272.8,498.7 L272.5,495.8 L269.3,492.4 L270.0,489.6 L267.5,486.6 L266.7,483.1 M243.4,531.5 L241.2,524.5 L237.7,516.9 L237.6,509.3 L233.5,502.0 L232.7,494.5 L229.4,487.0 M285.4,518.5 L282.9,511.5 L282.3,504.9 L281.5,497.9 L280.2,491.2 L279.3,484.2 L276.9,477.6 M281.7,508.2 L281.1,500.6 L281.8,492.7 L281.2,485.2 L280.7,477.3 L280.3,470.0 L281.3,462.3 M273.9,541.2 L276.0,535.6 L280.8,529.3 L283.8,524.1 L286.7,518.1 L289.1,512.1 L292.4,506.0 M287.5,472.5 L285.0,466.5 L285.0,460.7 L282.7,454.7 L279.4,448.7 L279.4,443.1 L276.8,437.0 M283.4,494.1 L283.2,488.4 L282.6,483.0 L281.2,478.0 L279.1,472.6 L277.8,466.8 L279.0,461.9 M232.9,555.8 L232.8,552.0 L231.8,548.8 L229.5,544.8 L229.2,541.6 L230.0,538.1 L228.2,534.4 M214.7,522.2 L214.8,516.2 L214.6,510.6 L212.9,504.5 L214.0,498.8 L211.8,493.0 L211.0,487.4 M279.2,584.1 L279.9,581.0 L282.7,577.0 L282.8,573.6 L282.9,570.0 L285.8,566.8 L286.9,563.5 M254.1,514.1 L254.2,510.0 L251.8,506.1 L251.2,502.3 L251.7,498.6 L249.5,494.7 L248.8,491.2 M235.8,464.5 L236.2,456.6 L238.9,448.4 L240.1,440.7 L242.6,432.6 L242.5,425.0 L245.4,417.3 M195.4,480.0 L196.0,476.6 L197.9,472.8 L197.8,469.2 L199.4,466.2 L200.0,462.4 L201.7,459.2 M296.7,550.5 L294.0,545.5 L294.2,540.5 L291.2,534.9 L290.7,530.2 L288.6,524.8 L288.5,519.5 M298.3,561.6 L295.2,554.7 L292.8,547.0 L289.8,539.8 L287.8,532.6 L286.6,525.2 L284.2,518.0 M242.0,551.4 L241.6,543.7 L242.2,536.6 L240.5,528.8 L241.7,521.5 L241.7,513.9 L239.3,506.5 M317.9,556.8 L320.2,552.8 L321.8,548.9 L323.1,544.6 L323.6,540.2 L325.4,535.9 L325.9,532.0 M192.0,537.2 L192.1,529.7 L190.2,521.7 L190.5,513.6 L189.4,505.8 L187.9,497.9 L186.2,490.6 M268.4,461.2 L267.7,455.9 L263.9,450.9 L262.7,445.6 L260.8,440.4 L260.4,435.5 L258.2,430.5 M232.8,550.5 L234.5,545.0 L235.1,539.3 L237.7,534.1 L238.6,528.1 L240.9,522.7 L241.6,517.4 M292.9,531.6 L292.2,527.7 L291.7,523.6 L293.2,519.6 L292.7,515.5 L292.8,511.1 L290.7,507.2 M254.3,530.5 L256.7,525.3 L259.3,520.4 L260.7,514.9 L262.9,509.8 L265.9,504.7 L268.6,499.6 M253.2,563.9 L254.9,557.0 L254.3,550.4 L254.3,543.3 L255.3,536.8 L256.3,529.9 L257.2,523.3 M208.3,506.6 L206.9,501.3 L206.7,495.3 L206.7,490.2 L206.9,484.9 L206.4,479.5 L204.4,473.8 M207.7,499.9 L211.9,492.8 L214.3,486.1 L218.2,479.3 L220.5,472.7 L224.4,466.0 L227.1,459.2 M301.2,525.1 L299.9,519.9 L300.4,514.5 L298.4,508.8 L299.5,503.7 L296.9,498.3 L297.3,492.8 M237.2,588.9 L238.7,584.7 L239.5,580.9 L243.3,576.0 L245.3,572.2 L245.0,567.8 L246.8,563.4 M268.4,564.0 L267.8,559.6 L269.8,556.2 L269.0,552.1 L268.7,548.0 L269.0,543.6 L270.6,539.4 M277.1,568.9 L278.4,566.1 L277.1,563.9 L278.9,561.1 L280.2,558.5 L279.9,555.7 L280.1,553.6 M228.9,575.9 L229.2,573.5 L230.0,570.8 L232.3,568.8 L233.0,565.7 L233.6,563.3 L233.9,561.1 M296.9,534.9 L298.9,532.1 L299.1,528.9 L301.4,526.0 L301.7,522.9 L302.4,520.4 L305.2,517.5 M294.7,506.0 L294.1,500.4 L293.9,495.4 L296.2,490.5 L296.3,485.1 L294.5,480.0 L295.0,474.2 M277.0,561.8 L277.4,557.5 L278.3,553.3 L279.7,549.0 L280.7,544.8 L283.1,540.8 L284.2,536.7 M292.5,466.0 L292.0,463.8 L290.3,461.2 L289.9,458.7 L289.7,456.4 L289.7,453.4 L289.3,451.4 M306.7,582.2 L306.9,578.3 L305.2,574.1 L306.0,570.1 L304.7,565.8 L305.6,561.8 L305.5,557.7 M220.3,487.7 L219.1,482.1 L217.8,476.7 L218.1,470.9 L215.1,466.0 L214.5,460.1 L213.0,454.7" fill="none" stroke="#666" stroke-width="0.5" opacity="0.5"/>
<path d="M253.9,602.5L256.9,601.1 M299.5,608.1L303.4,610.2 M312.4,602.7L316.0,602.8 M311.8,606.5L315.3,604.5 M281.2,606.0L283.6,605.8 M254.4,602.6L257.7,601.2 M244.8,604.0L247.5,604.2 M238.0,609.4L242.6,608.4 M272.1,609.5L275.2,610.4 M205.9,602.5L209.8,601.9 M191.3,601.6L194.3,602.3 M303.1,605.6L306.5,607.0 M245.6,605.8L247.4,606.7 M258.4,598.4L260.0,598.4 M319.7,602.9L323.2,602.5 M213.5,601.5L216.4,602.0 M304.5,604.5L308.4,604.0 M283.7,599.6L285.4,599.3 M235.7,609.5L237.6,609.8 M304.3,607.5L306.3,608.2 M300.4,603.8L304.3,605.2 M262.3,603.4L264.4,602.4 M244.8,603.8L248.9,604.4 M206.6,606.8L210.6,607.8 M282.8,603.1L286.7,601.1 M274.2,598.7L278.8,599.1 M228.2,603.7L230.2,603.3 M244.5,600.5L247.8,601.2 M315.9,597.9L318.7,597.0 M297.6,605.4L302.1,604.5 M272.3,600.8L275.3,600.6 M213.4,607.2L216.7,605.8 M267.4,605.4L269.5,606.5 M223.6,604.5L227.6,606.0 M269.7,607.0L271.6,606.2 M262.0,606.4L264.7,607.4 M285.5,603.2L290.0,601.7 M283.4,603.3L287.6,601.1 M195.1,605.5L199.1,604.5 M255.0,601.5L258.1,600.2 M270.9,605.6L275.0,605.4 M244.9,605.3L247.0,605.8 M261.1,599.4L262.6,600.2 M279.6,597.6L282.3,598.7 M292.1,602.4L294.1,603.3 M230.9,604.1L232.6,605.0 M223.6,603.3L227.8,602.9 M261.5,601.5L265.5,600.0 M274.1,602.1L276.3,602.4 M258.1,601.6L262.0,599.7 M243.8,597.6L247.7,598.5 M302.3,605.4L304.3,605.6 M281.1,611.9L284.8,610.1 M282.8,604.2L286.8,603.1 M236.3,599.5L240.6,599.6 M265.5,606.8L269.6,606.3 M288.8,605.6L292.2,605.6 M284.2,602.7L286.0,602.2 M199.6,603.2L203.7,603.7 M250.9,602.4L254.1,603.9 M252.8,604.4L256.1,606.1 M237.5,610.5L240.0,610.1 M268.3,602.3L272.1,601.8 M232.2,603.4L234.2,603.6 M249.9,607.0L253.5,607.8 M206.5,605.6L209.6,607.3 M222.8,603.5L226.6,602.4 M273.4,610.1L276.6,608.5 M219.3,600.9L222.8,602.4 M231.9,603.7L235.7,602.6 M280.3,604.3L283.1,604.6 M209.1,601.4L212.9,603.3 M268.4,598.8L270.3,599.2 M298.0,604.3L301.8,605.8 M205.2,603.3L208.0,604.0 M215.7,604.1L219.8,605.7 M217.1,602.0L220.4,601.1 M225.4,607.8L226.7,608.3 M234.4,603.6L237.3,602.5 M266.5,605.4L270.6,604.8 M260.8,609.3L264.3,608.5 M284.9,603.8L288.5,604.2 M284.9,602.6L288.2,601.5 M231.5,609.2L234.5,609.0 M239.2,601.1L240.8,600.4 M248.6,604.1L252.8,602.5 M279.0,604.2L282.0,605.1 M273.9,609.0L277.9,607.9 M288.2,609.0L291.3,609.5 M244.8,597.6L248.6,596.2 M248.3,608.1L250.5,607.5 M297.2,603.5L301.5,603.1 M249.4,603.6L252.5,602.0 M203.7,606.4L207.7,607.3 M277.4,610.7L279.8,609.8 M294.3,602.2L298.7,603.5 M240.7,602.3L243.5,602.2 M276.4,598.1L278.0,598.3 M263.4,605.5L268.1,605.1 M265.3,598.9L270.1,598.3 M282.0,605.8L286.2,606.9 M249.7,600.4L253.6,602.4 M256.6,608.1L261.3,606.7 M262.1,607.8L263.8,607.8 M268.4,596.7L270.3,597.1 M266.7,603.7L269.7,603.2 M272.0,603.3L275.3,602.2 M306.4,600.4L310.0,600.2 M299.3,602.0L302.2,601.2 M258.8,606.7L262.7,604.8 M206.0,603.8L208.9,603.8 M257.7,602.8L260.9,601.9 M212.7,602.0L215.1,602.4 M301.9,611.0L306.3,610.0 M229.1,607.3L231.2,607.5 M310.9,608.2L313.8,608.7 M277.6,600.3L280.6,598.9 M290.2,604.9L293.8,604.2 M257.0,604.1L261.2,603.2 M267.0,607.5L270.1,607.3 M253.2,599.4L257.8,600.1 M236.5,605.0L239.0,604.0 M285.5,603.8L289.4,604.0 M221.5,602.9L226.3,602.9 M301.6,605.9L303.3,606.1 M267.1,602.4L269.4,602.5 M262.1,605.8L266.1,606.0 M257.0,603.9L260.1,604.9 M257.6,604.1L259.6,604.8 M219.0,609.8L222.2,608.8 M318.3,608.4L320.2,607.4 M248.4,607.1L253.2,607.0 M288.4,605.9L292.1,604.1 M248.7,602.7L252.2,602.0 M236.6,602.9L240.8,602.5 M204.2,609.1L207.6,608.5 M229.0,598.9L233.4,599.3 M217.0,602.0L219.8,600.8 M250.0,602.8L251.3,602.1 M237.3,602.6L241.4,601.2 M304.3,602.8L308.4,603.7 M290.9,602.7L295.6,602.6 M289.6,606.2L292.9,605.0 M263.4,605.9L265.8,606.5 M331.3,605.9L335.4,607.4 M269.9,604.3L271.8,605.4 M268.2,603.0L271.1,604.4 M223.6,603.6L226.5,602.5 M222.0,603.1L225.6,601.6 M312.7,600.5L316.6,601.5 M208.7,597.7L211.8,599.4 M218.7,605.7L220.4,605.0 M246.9,603.6L250.3,604.1 M302.8,600.9L306.4,599.5 M241.4,602.0L245.8,602.8 M280.1,603.0L282.7,602.1 M289.5,601.0L293.6,601.0 M284.1,606.8L285.9,606.1 M246.1,609.0L249.5,609.4 M235.7,599.0L239.5,601.0 M301.9,598.0L305.5,598.8 M223.5,602.5L228.4,602.7 M236.2,606.5L238.0,605.7 M283.0,604.7L286.3,604.5 M233.2,605.6L236.8,604.1 M252.2,603.8L256.4,602.8 M248.8,604.6L250.5,604.6 M195.4,599.1L199.6,598.1 M231.9,603.2L234.6,603.0 M243.4,611.0L246.0,609.7 M200.3,600.6L204.6,601.6 M266.5,603.5L270.2,604.8 M225.0,604.9L228.5,604.6 M236.5,599.4L239.0,600.5 M233.4,600.7L238.0,598.9 M276.4,604.9L277.9,605.1 M228.0,601.4L231.5,602.7 M277.7,602.8L281.3,604.1 M236.5,601.9L239.3,601.7 M301.6,606.4L303.3,606.2 M200.8,608.4L202.8,608.0 M295.7,603.6L298.2,603.5 M239.5,596.9L244.1,596.0 M301.4,608.6L303.3,608.9 M312.5,607.0L316.6,606.5 M219.2,603.1L221.7,603.7 M228.5,603.6L232.7,605.6 M214.1,601.2L216.9,602.1 M246.7,602.5L248.7,602.3 M214.4,604.1L216.0,604.4 M290.9,605.3L295.3,607.3 M274.2,609.4L276.1,608.7 M268.9,606.1L273.0,604.6 M250.4,604.6L254.5,604.7 M206.4,603.3L211.0,603.8 M240.9,604.5L242.4,605.2 M258.7,603.6L262.7,603.0 M261.5,606.3L265.2,604.7 M222.0,603.7L224.7,603.5 M308.8,602.8L310.8,602.4 M293.6,608.5L295.1,608.9 M276.2,605.0L278.5,605.9 M254.8,609.8L259.0,610.7 M248.1,609.3L250.5,610.1 M337.5,605.5L340.4,606.8 M268.0,609.3L270.0,610.0 M281.1,600.7L284.5,601.9 M202.8,602.5L206.9,601.7 M273.2,605.0L275.0,605.8 M294.4,606.2L298.5,608.2 M294.8,601.5L298.6,601.6 M323.6,602.4L325.6,602.6 M234.8,607.2L238.7,608.4 M233.9,605.0L237.1,604.4 M228.9,604.9L231.3,606.0 M276.1,605.7L279.3,606.4 M277.9,603.4L282.7,604.6 M267.6,602.2L271.6,601.4 M280.9,606.2L282.6,605.9 M213.2,604.9L215.3,605.0 M269.4,604.2L272.0,603.5 M265.5,609.7L270.2,608.2 M218.4,605.4L221.2,605.1 M276.9,604.5L280.1,604.7 M233.0,608.9L234.8,608.9 M251.6,603.0L253.8,602.9 M230.0,598.1L232.8,598.7 M242.5,605.7L246.6,605.2 M270.9,605.4L272.5,605.6 M290.1,599.4L292.3,600.4 M283.4,603.3L285.3,603.6 M263.3,602.6L265.8,603.8 M194.6,600.2L197.1,599.9 M249.5,601.1L251.5,602.0 M215.3,601.3L219.7,601.2 M243.6,601.0L245.8,600.3 M249.8,608.5L253.4,608.4 M281.0,600.7L284.8,599.1 M256.5,597.8L258.9,597.3 M222.4,601.6L225.7,602.4 M228.7,607.5L230.4,607.3 M214.3,603.2L217.2,604.3 M326.2,603.8L328.8,602.8 M220.9,601.8L223.9,601.0 M284.1,603.7L288.5,602.0 M248.1,603.5L250.2,604.4 M270.9,605.9L273.3,606.9 M177.1,601.2L179.6,601.0 M263.0,605.7L267.7,604.8 M251.8,596.5L254.6,595.7" fill="none" stroke="#222" stroke-width="0.6" opacity="0.5"/></g>
 </g>
 <path d="M183,437 H344 V445 L300,442.5 L260,440 L240.7,439.4 L222,442 L205,446.5 L183.8,448 Z" fill="#fff"/>
 <path d="M183.8,448 L205,446.5 L222,442 L240.7,439.4 L260,440 L300,442.5 L343.4,445" fill="none" stroke="#111" stroke-width="0.9" stroke-dasharray="2.5 1.8"/>
 <ellipse cx="192.5" cy="458" rx="2.5" ry="3.5" fill="none" stroke="#aaa" stroke-width="1"/>
 <ellipse cx="292" cy="460" rx="2.5" ry="3" fill="none" stroke="#555" stroke-width="1.3"/>
</g>
<rect x="183.8" y="437" width="159.6" height="174" fill="none" stroke="#444" stroke-width="1"/>
<g font-size="10">
</g>


<!-- IPSI / CONTRA boxes (fill first) -->
<path d="M399.6,273.7 L423.5,261.8 L437,287 L413,300.6 Z" fill="#e6e6ea"/>
<path d="M517.5,261.6 L543.2,273.9 L531,300.7 L505.8,287.5 Z" fill="#e6e6ea"/>
<g fill="none" stroke="#111" stroke-width="0.8">
  <!-- outer outline -->
  <path d="M372.3,316 C377,301 386,287 398,278 C412,267 428,260.5 445,259.5 C456,259 465,261 469.5,265.5 Q472,268.5 472,272 Q472,268.5 474.5,265.5 C479,261 488,259 499,259.5 C516,260.5 532,267 546,278 C558,287 567,301 571.7,316"/>
  <path d="M472,272 V314"/>
  <!-- inner outline -->
  <path d="M404.5,316 C408,306 414,299 421,295 C430,290 442,285 455,284.5 C459,285 461,289 463,293 C466,297 470,298 472,298 C474,298 478,297 481,293 C483,289 485,285 489,284.5 C502,285 514,290 523,295 C530,299 536,306 539.5,316"/>
</g>
<!-- blue CC band -->
<path d="M421,296 C428,291 436,289 446,288.5 C453,288.5 457,291 461,294.5 C465,298 469,299.5 472,299.5 C475,299.5 479,298 483,294.5 C487,291 491,288.5 498,288.5 C508,289 516,291 523,296" fill="none" stroke="#111" stroke-width="6"/>
<path d="M421,296 C428,291 436,289 446,288.5 C453,288.5 457,291 461,294.5 C465,298 469,299.5 472,299.5 C475,299.5 479,298 483,294.5 C487,291 491,288.5 498,288.5 C508,289 516,291 523,296" fill="none" stroke="#4057a8" stroke-width="4.4"/>
<!-- dark wedges -->
<path d="M419.5,299.5 L431,294.2 L434.7,300.9 L429,312.3 L419.5,311.3 Z" fill="#4a4a4a"/>
<path d="M524.5,299.5 L513,294.2 L509.3,300.9 L515,312.3 L524.5,311.3 Z" fill="#4a4a4a"/>
<!-- hippocampal loops -->
<g fill="none" stroke="#111" stroke-width="0.8">
  <path d="M437.5,299 C446,295.5 458,296.5 464.5,301 C469.5,304.5 471.5,309.5 468,312.5 C464,315.5 452,313.5 445,310.5 C439,307.5 435.5,302 437.5,299 Z"/>
  <path d="M441.5,300.5 C449,298.5 457.5,299.5 462.5,303 C466,306 466,309 463,310 C458,311 450,309 446,307 C442,305 439.5,302 441.5,300.5 Z"/>
  <path d="M506.5,299 C498,295.5 486,296.5 479.5,301 C474.5,304.5 472.5,309.5 476,312.5 C480,315.5 492,313.5 499,310.5 C505,307.5 508.5,302 506.5,299 Z"/>
  <path d="M502.5,300.5 C495,298.5 486.5,299.5 481.5,303 C478,306 478,309 481,310 C486,311 494,309 498,307 C502,305 504.5,302 502.5,300.5 Z"/>
  <path d="M448,313 L456,315.5 M496,313 L488,315.5"/>
  <path d="M468,315 L472,309 L476,315"/>
</g>
<!-- IPSI box dashed border -->
<path d="M399.6,273.7 L423.5,261.8 L437,287 L413,300.6 Z" fill="none" stroke="#111" stroke-width="1.2" stroke-dasharray="3.5 2.5"/>
<path d="M517.5,261.6 L543.2,273.9 L531,300.7 L505.8,287.5 Z" fill="none" stroke="#111" stroke-width="1.2" stroke-dasharray="3.5 2.5"/>
<!-- IPSI neuron -->
<g stroke="#4a62b8" stroke-width="2.4" fill="none" stroke-linecap="round">
  <path d="M410.2,276 L419.3,271.4"/>
  <path d="M412.8,276.5 L422.5,293"/>
  <path d="M417.2,273.8 L427,291"/>
</g>
<!-- CONTRA neuron -->
<path d="M518.5,266 L536,275 L534,279 L516.5,270 Z" fill="#cfd5ec" opacity="0.8"/>
<g stroke="#4a62b8" stroke-width="2" fill="none" stroke-linecap="round">
  <path d="M526.9,271.5 L517.5,294.9"/>
  <path d="M530.4,272.7 L520.6,293.7"/>
</g>
<g stroke="#4a62b8" stroke-width="0.9" fill="none" stroke-linecap="round">
  <path d="M521,268.5 Q524,266 527,269 Q530,267.5 533,270.5 Q536,270 538.5,273"/>
  <path d="M519.5,271 Q523,273 526,271.5 M531,273 Q534,276 538,275.5"/>
  <path d="M522,272.5 L535,273.5"/>
  <path d="M515.5,279.5 Q518.5,277 521.5,280 Q523,279 524.5,280.5 M528,281 Q531,279 533,282.5 Q535,281.5 536.5,283"/>
  <path d="M516.5,283 Q519.5,281.5 522.5,284 M526,285 Q529,283.5 532,286.5"/>
</g>
<!-- zoom lines -->
<g stroke="#111" stroke-width="0.9" fill="none">
  <path d="M561.5,264.7 L576.7,258.2"/>
  <path d="M531,300.7 L576.7,316.5"/>
</g>
<!-- inset -->
<rect x="576.7" y="258.2" width="54.3" height="58.3" fill="#e8e8ec" stroke="#111" stroke-width="1"/>
<g stroke="#111" stroke-width="0.6" stroke-dasharray="2 1.6">
  <path d="M577,274.8 H631 M577,279.2 H631 M577,289.7 H631 M577,307.2 H631"/>
</g>
<path d="M577.2,316 L577.2,313.5 Q590,309.5 607,310 L607,316 Z" fill="#4a62b8"/>
<path d="M607,311 Q620,311.5 630.5,313.8" fill="none" stroke="#111" stroke-width="0.6"/>
<g stroke="#4a62b8" fill="none" stroke-linecap="round">
  <path d="M599.2,263 V315" stroke-width="2"/>
  <path d="M606.7,263 V315" stroke-width="2"/>
  <path d="M582,265.5 Q587,262 591,265 Q595,263 599,265 M586,269 Q591,266 596,269 Q598,268 599,270 M583,272 Q589,269 594,271 M606,264 Q611,262 615,265 Q620,262 624,265 M606,268 Q612,266 618,269 Q621,268 626,270 M608,272 Q614,270 619,272" stroke-width="1.3"/>
  <path d="M584,283.5 Q590,280.5 595,283 Q597,282 599,283 M586,287 Q591,285 596,287 M607,282 Q612,280 617,283 Q621,281 625,283 M607,286 Q613,284 620,286" stroke-width="1.3"/>
</g>
<g font-size="12">
</g>

<rect x="382.3" y="487.2" width="19.899999999999977" height="122.30000000000001" fill="#fff" stroke="#111" stroke-width="1.5"/>
<rect x="402.2" y="505.1" width="19.600000000000023" height="104.39999999999998" fill="#4057a8" stroke="#0d0f2a" stroke-width="1.5"/>
<circle cx="389.1" cy="393.8" r="2.9" fill="none" stroke="#707070" stroke-width="1.1"/>
<circle cx="394.9" cy="389.0" r="2.9" fill="none" stroke="#707070" stroke-width="1.1"/>
<circle cx="392.0" cy="428.1" r="2.9" fill="none" stroke="#707070" stroke-width="1.1"/>
<circle cx="389.0" cy="487.2" r="2.9" fill="none" stroke="#707070" stroke-width="1.1"/>
<circle cx="395.3" cy="486.0" r="2.9" fill="none" stroke="#707070" stroke-width="1.1"/>
<circle cx="386.4" cy="500.5" r="2.9" fill="none" stroke="#707070" stroke-width="1.1"/>
<circle cx="397.9" cy="500.5" r="2.9" fill="none" stroke="#707070" stroke-width="1.1"/>
<circle cx="392.0" cy="506.9" r="2.9" fill="none" stroke="#707070" stroke-width="1.1"/>
<circle cx="392.0" cy="528.8" r="2.9" fill="none" stroke="#707070" stroke-width="1.1"/>
<circle cx="392.0" cy="548.0" r="2.9" fill="none" stroke="#707070" stroke-width="1.1"/>
<circle cx="392.0" cy="568.4" r="2.9" fill="none" stroke="#707070" stroke-width="1.1"/>
<circle cx="409.4" cy="452.8" r="2.9" fill="#8c92bc" stroke="#6a6f8a" stroke-width="1"/>
<circle cx="416.8" cy="466.3" r="2.9" fill="#8c92bc" stroke="#6a6f8a" stroke-width="1"/>
<circle cx="416.3" cy="500.8" r="2.9" fill="#8c92bc" stroke="#6a6f8a" stroke-width="1"/>
<circle cx="406.0" cy="511.0" r="2.9" fill="#5a68b4" stroke="#26316e" stroke-width="1"/>
<circle cx="409.9" cy="514.8" r="2.9" fill="#5a68b4" stroke="#26316e" stroke-width="1"/>
<circle cx="416.8" cy="525.5" r="2.9" fill="#5a68b4" stroke="#26316e" stroke-width="1"/>
<circle cx="413.2" cy="553.1" r="2.9" fill="#5a68b4" stroke="#26316e" stroke-width="1"/>
<path d="M392.2,487.2 V470.6 M387,470.6 H397" stroke="#111" stroke-width="1.5" fill="none"/>
<path d="M412.0,505.1 V493.6 M405.5,493.6 H416.3" stroke="#111" stroke-width="1.5" fill="none"/>
<path d="M374.3,609.5 H432.1" stroke="#111" stroke-width="1.6" fill="none"/>
<path d="M430.2,376 V609.5" stroke="#111" stroke-width="1.4" fill="none"/>
<path d="M430.2,376.0 h3 M430.2,434.4 h3 M430.2,492.8 h3 M430.2,551.1 h3 M430.2,609.5 h3" stroke="#111" stroke-width="1.2" fill="none"/>
<path d="M390,377 H413.5" stroke="#111" stroke-width="1.5" fill="none"/>
<rect x="481.9" y="495.8" width="19.600000000000023" height="113.69999999999999" fill="#fff" stroke="#111" stroke-width="1.5"/>
<rect x="501.5" y="568.3" width="19.299999999999955" height="41.200000000000045" fill="#4057a8" stroke="#0d0f2a" stroke-width="1.5"/>
<circle cx="497.6" cy="390.0" r="2.9" fill="none" stroke="#707070" stroke-width="1.1"/>
<circle cx="486.5" cy="402.8" r="2.9" fill="none" stroke="#707070" stroke-width="1.1"/>
<circle cx="492.2" cy="403.2" r="2.9" fill="none" stroke="#707070" stroke-width="1.1"/>
<circle cx="492.0" cy="483.7" r="2.9" fill="none" stroke="#707070" stroke-width="1.1"/>
<circle cx="489.4" cy="511.3" r="2.9" fill="none" stroke="#707070" stroke-width="1.1"/>
<circle cx="494.7" cy="519.6" r="2.9" fill="none" stroke="#707070" stroke-width="1.1"/>
<circle cx="486.4" cy="527.0" r="2.9" fill="none" stroke="#707070" stroke-width="1.1"/>
<circle cx="497.7" cy="527.0" r="2.9" fill="none" stroke="#707070" stroke-width="1.1"/>
<circle cx="492.0" cy="538.0" r="2.9" fill="none" stroke="#707070" stroke-width="1.1"/>
<circle cx="492.0" cy="563.3" r="2.9" fill="none" stroke="#707070" stroke-width="1.1"/>
<circle cx="492.0" cy="580.2" r="2.9" fill="none" stroke="#707070" stroke-width="1.1"/>
<circle cx="511.6" cy="478.9" r="2.9" fill="#8c92bc" stroke="#6a6f8a" stroke-width="1"/>
<circle cx="511.6" cy="505.3" r="2.9" fill="#8c92bc" stroke="#6a6f8a" stroke-width="1"/>
<circle cx="511.6" cy="560.9" r="2.9" fill="#8c92bc" stroke="#6a6f8a" stroke-width="1"/>
<circle cx="517.6" cy="597.7" r="2.9" fill="#5a68b4" stroke="#26316e" stroke-width="1"/>
<circle cx="505.1" cy="603.4" r="2.9" fill="#5a68b4" stroke="#26316e" stroke-width="1"/>
<circle cx="509.5" cy="604.8" r="2.9" fill="#5a68b4" stroke="#26316e" stroke-width="1"/>
<circle cx="514.0" cy="604.8" r="2.9" fill="#5a68b4" stroke="#26316e" stroke-width="1"/>
<path d="M491.7,495.8 V476.5 M487.3,476.5 H496.2" stroke="#111" stroke-width="1.5" fill="none"/>
<path d="M511.1,568.3 V549 M506,549 H516" stroke="#111" stroke-width="1.5" fill="none"/>
<path d="M473.9,609.5 H531.8" stroke="#111" stroke-width="1.6" fill="none"/>
<path d="M529.5,376 V609.5" stroke="#111" stroke-width="1.4" fill="none"/>
<path d="M529.5,376.0 h3 M529.5,492.8 h3 M529.5,609.5 h3" stroke="#111" stroke-width="1.2" fill="none"/>
<path d="M489.5,377 H513.3" stroke="#111" stroke-width="1.5" fill="none"/>
<rect x="582.9" y="529.7" width="19.899999999999977" height="79.79999999999995" fill="#fff" stroke="#111" stroke-width="1.5"/>
<rect x="602.8" y="585.3" width="20.0" height="24.200000000000045" fill="#4057a8" stroke="#0d0f2a" stroke-width="1.5"/>
<circle cx="592.4" cy="416.5" r="2.9" fill="none" stroke="#707070" stroke-width="1.1"/>
<circle cx="592.4" cy="432.5" r="2.9" fill="none" stroke="#707070" stroke-width="1.1"/>
<circle cx="592.4" cy="502.4" r="2.9" fill="none" stroke="#707070" stroke-width="1.1"/>
<circle cx="594.4" cy="523.0" r="2.9" fill="none" stroke="#707070" stroke-width="1.1"/>
<circle cx="590.6" cy="527.8" r="2.9" fill="none" stroke="#707070" stroke-width="1.1"/>
<circle cx="590.4" cy="550.4" r="2.9" fill="none" stroke="#707070" stroke-width="1.1"/>
<circle cx="594.9" cy="564.1" r="2.9" fill="none" stroke="#707070" stroke-width="1.1"/>
<circle cx="586.7" cy="578.3" r="2.9" fill="none" stroke="#707070" stroke-width="1.1"/>
<circle cx="598.6" cy="578.3" r="2.9" fill="none" stroke="#707070" stroke-width="1.1"/>
<circle cx="594.9" cy="582.0" r="2.9" fill="none" stroke="#707070" stroke-width="1.1"/>
<circle cx="590.4" cy="584.5" r="2.9" fill="none" stroke="#707070" stroke-width="1.1"/>
<circle cx="614.8" cy="535.2" r="2.9" fill="#8c92bc" stroke="#6a6f8a" stroke-width="1"/>
<circle cx="610.6" cy="542.7" r="2.9" fill="#8c92bc" stroke="#6a6f8a" stroke-width="1"/>
<circle cx="612.8" cy="591.2" r="2.9" fill="#5a68b4" stroke="#26316e" stroke-width="1"/>
<circle cx="619.3" cy="592.7" r="2.9" fill="#5a68b4" stroke="#26316e" stroke-width="1"/>
<circle cx="606.8" cy="604.9" r="2.9" fill="#5a68b4" stroke="#26316e" stroke-width="1"/>
<circle cx="611.0" cy="605.7" r="2.9" fill="#5a68b4" stroke="#26316e" stroke-width="1"/>
<circle cx="615.3" cy="605.7" r="2.9" fill="#5a68b4" stroke="#26316e" stroke-width="1"/>
<path d="M592.8,529.7 V512.3 M588.6,512.3 H597.4" stroke="#111" stroke-width="1.5" fill="none"/>
<path d="M612.8,585.3 V572 M609.8,572 H617.8" stroke="#111" stroke-width="1.5" fill="none"/>
<path d="M575,609.5 H634.7" stroke="#111" stroke-width="1.6" fill="none"/>
<path d="M630.2,377.3 V609.5" stroke="#111" stroke-width="1.4" fill="none"/>
<path d="M630.2,377.3 h3 M630.2,454.7 h3 M630.2,532.1 h3 M630.2,609.5 h3" stroke="#111" stroke-width="1.2" fill="none"/>
<path d="M590.9,404.1 H614.5" stroke="#111" stroke-width="1.5" fill="none"/>
<g font-size="12">
</g>
<text transform="translate(-0.6,13.6)" font-size="19.5" font-weight="bold">a</text>
<text transform="translate(66.33,23.20) scale(0.982,1)" font-size="11.53">Stimulation</text>
<text transform="translate(12.90,124.70) scale(1.092,1)" font-size="10.28">Electroporated</text>
<text transform="translate(20.02,138.00) scale(1.089,1)" font-size="10.28">hemisphere</text>
<text transform="translate(165.6,13.7)" font-size="19" font-weight="bold">b</text>
<text transform="translate(202.57,40.10) scale(1.152,1)" font-size="11.57">0</text>
<text transform="translate(259.37,40.10) scale(1.138,1)" font-size="11.57">50</text>
<text transform="translate(317.39,40.10) scale(1.087,1)" font-size="11.57">100</text>
<text transform="translate(342.98,40.10) scale(1.134,1)" font-size="11.57">0</text>
<text transform="translate(400.80,40.10) scale(1.072,1)" font-size="11.57">50</text>
<text transform="translate(446.96,39.90) scale(1.069,1)" font-size="12.14">100 ms</text>
<text transform="translate(183.88,54.90) scale(0.913,1)" font-size="12.61">L1</text>
<text transform="translate(172.94,78.40) scale(1.048,1)" font-size="12.64">L2/3</text>
<text transform="translate(183.99,111.70) scale(0.940,1)" font-size="13.48">L4</text>
<text transform="translate(183.51,147.60) scale(1.045,1)" font-size="13.04">L5</text>
<text transform="translate(183.51,181.90) scale(1.061,1)" font-size="12.86">L6</text>
<text transform="translate(276.35,197.70) scale(1.037,1)" font-size="12.50">Control</text>
<text transform="translate(417.59,197.70) scale(0.988,1)" font-size="12.92">dnTCF4</text>
<text transform="translate(303.51,176.80) scale(1.142,1)" font-size="9.71" style="fill:#f6f6e6;stroke:#f6f6e6">P21</text>
<text transform="translate(475.80,58.96) rotate(90) scale(0.872,1)" font-size="14.57">Source</text>
<text transform="translate(476.00,141.76) rotate(90) scale(0.903,1)" font-size="14.17">Sink</text>
<text transform="translate(234.74,89.87) scale(1.045,1)" font-size="12.57">*</text>
<text transform="translate(394.74,91.07) scale(1.045,1)" font-size="12.57">*</text>
<text transform="translate(534.03,17.49) scale(1.175,1)" font-size="11.43">*</text>
<text transform="translate(631.71,27.89) scale(1.250,1)" font-size="11.43">*</text>
<text transform="translate(573.42,30.60) scale(1.019,1)" font-size="12.00">18</text>
<text transform="translate(572.39,185.00) scale(1.140,1)" font-size="11.14">0</text>
<text transform="translate(671.66,30.80) scale(1.193,1)" font-size="11.29">50</text>
<text transform="translate(670.90,185.00) scale(1.419,1)" font-size="10.57">0</text>
<text transform="translate(575.2,43.7) rotate(90) scale(0.99,1)" font-size="13">Sink ampl. (mV/mm<tspan font-size="8.5" dy="-5">2</tspan><tspan dy="5">)</tspan></text>
<text transform="translate(673.60,39.56) rotate(90) scale(0.996,1)" font-size="12.78">Sink peak latency (ms)</text>
<text transform="translate(534.5,194.8) rotate(-45)" text-anchor="end" font-size="12.2">Control</text>
<text transform="translate(553.5,196.5) rotate(-45)" text-anchor="end" font-size="12.2">dnTCF4</text>
<text transform="translate(-0.4,251.4)" font-size="19" font-weight="bold">c</text>
<text transform="translate(87.02,255.50) scale(0.980,1)" font-size="13.43">IPSI</text>
<text transform="translate(235.86,255.20) scale(1.002,1)" font-size="12.86">CONTRA</text>
<text transform="translate(22.14,429.20) scale(1.016,1)" font-size="11.11">Control</text>
<text transform="translate(154.09,427.80) scale(1.055,1)" font-size="10.72">P14</text>
<text transform="translate(22.26,606.00) scale(1.006,1)" font-size="10.83">dnTCF4</text>
<text transform="translate(308.18,295.70) scale(1.093,1)" font-size="10.56">L2/3</text>
<text transform="translate(310.51,352.60) scale(1.005,1)" font-size="11.01">L5A</text>
<text transform="translate(635.73,271.10) scale(1.097,1)" font-size="12.22">L2/3</text>
<text transform="translate(635.75,288.20) scale(1.025,1)" font-size="12.75">L5A</text>
<text transform="translate(636.14,315.00) scale(1.026,1)" font-size="12.86">CC</text>
<text transform="translate(398.8,268.6) rotate(-25)" font-size="11.8">IPSI</text>
<text transform="translate(513.6,254.4) rotate(27.5)" font-size="11.5">CONTRA</text>
<text transform="translate(362.2,349.1)" font-size="18.5" font-weight="bold">d</text>
<text transform="translate(431.13,352.40) scale(1.149,1)" font-size="11.67">Normalized fluorescence</text>
<text transform="translate(394.34,373.10) scale(1.012,1)" font-size="13.52">ns</text>
<text transform="translate(498.73,376.78) scale(1.093,1)" font-size="12.29">*</text>
<text transform="translate(600.23,403.27) scale(1.091,1)" font-size="12.57">*</text>
<text transform="translate(439.28,380.60) scale(1.288,1)" font-size="11.14">2</text>
<text transform="translate(440.18,438.40) scale(1.088,1)" font-size="11.74">1.5</text>
<text transform="translate(440.24,496.90) scale(0.802,1)" font-size="11.88">1</text>
<text transform="translate(439.58,555.40) scale(1.096,1)" font-size="11.86">0.5</text>
<text transform="translate(439.53,613.40) scale(1.240,1)" font-size="11.43">0</text>
<text transform="translate(536.39,381.00) scale(1.065,1)" font-size="12.00">0.20</text>
<text transform="translate(535.76,497.00) scale(1.123,1)" font-size="12.00">0.10</text>
<text transform="translate(539.18,613.40) scale(1.148,1)" font-size="11.43">0</text>
<text transform="translate(639.26,381.00) scale(1.115,1)" font-size="12.14">0.6</text>
<text transform="translate(639.27,458.70) scale(1.098,1)" font-size="12.14">0.4</text>
<text transform="translate(639.16,536.80) scale(1.129,1)" font-size="11.86">0.2</text>
<text transform="translate(639.67,613.40) scale(1.167,1)" font-size="11.43">0</text>
<text transform="translate(394.63,625.60) scale(1.061,1)" font-size="12.57">CC</text>
<text transform="translate(491.96,625.60) scale(1.016,1)" font-size="12.75">L5A</text>
<text transform="translate(591.94,625.60) scale(1.083,1)" font-size="12.22">L2/3</text></svg>
</body></html>
